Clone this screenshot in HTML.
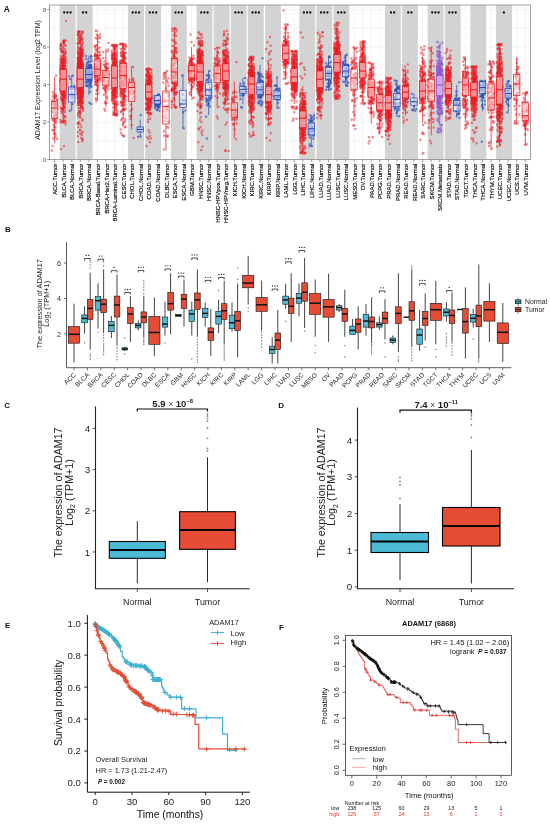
<!DOCTYPE html>
<html><head><meta charset="utf-8"><style>
html,body{margin:0;padding:0;background:#fff;width:550px;height:825px;overflow:hidden}
svg{display:block;filter:blur(0.3px)}
</style></head><body>
<svg width="550" height="825" viewBox="0 0 550 825">
<rect width="550" height="825" fill="#fff"/>
<rect x="49.5" y="5.0" width="481.0" height="154.6" fill="#fff"/>
<path d="M49.5 159.6H530.5M49.5 140.8H530.5M49.5 122.1H530.5M49.5 103.3H530.5M49.5 84.6H530.5M49.5 65.8H530.5M49.5 47.1H530.5M49.5 28.3H530.5M49.5 9.6H530.5" stroke="#ececec" stroke-width="0.6" fill="none"/>
<path d="M54.6 5.0V159.6M63.2 5.0V159.6M71.7 5.0V159.6M80.3 5.0V159.6M88.8 5.0V159.6M97.4 5.0V159.6M105.9 5.0V159.6M114.5 5.0V159.6M123.1 5.0V159.6M131.6 5.0V159.6M140.2 5.0V159.6M148.7 5.0V159.6M157.3 5.0V159.6M165.9 5.0V159.6M174.4 5.0V159.6M183 5.0V159.6M191.5 5.0V159.6M200.1 5.0V159.6M208.6 5.0V159.6M217.2 5.0V159.6M225.8 5.0V159.6M234.3 5.0V159.6M242.9 5.0V159.6M251.4 5.0V159.6M260 5.0V159.6M268.6 5.0V159.6M277.1 5.0V159.6M285.7 5.0V159.6M294.2 5.0V159.6M302.8 5.0V159.6M311.3 5.0V159.6M319.9 5.0V159.6M328.5 5.0V159.6M337 5.0V159.6M345.6 5.0V159.6M354.1 5.0V159.6M362.7 5.0V159.6M371.2 5.0V159.6M379.8 5.0V159.6M388.4 5.0V159.6M396.9 5.0V159.6M405.5 5.0V159.6M414 5.0V159.6M422.6 5.0V159.6M431.2 5.0V159.6M439.7 5.0V159.6M448.3 5.0V159.6M456.8 5.0V159.6M465.4 5.0V159.6M473.9 5.0V159.6M482.5 5.0V159.6M491.1 5.0V159.6M499.6 5.0V159.6M508.2 5.0V159.6M516.7 5.0V159.6M525.3 5.0V159.6" stroke="#ececec" stroke-width="0.6" fill="none"/>
<rect x="59.7" y="5.0" width="15.9" height="154.6" fill="#d3d3d3"/>
<rect x="76.8" y="5.0" width="15.9" height="154.6" fill="#d3d3d3"/>
<rect x="128.1" y="5.0" width="15.9" height="154.6" fill="#d3d3d3"/>
<rect x="145.2" y="5.0" width="15.9" height="154.6" fill="#d3d3d3"/>
<rect x="170.9" y="5.0" width="15.9" height="154.6" fill="#d3d3d3"/>
<rect x="196.6" y="5.0" width="15.9" height="154.6" fill="#d3d3d3"/>
<rect x="213.7" y="5.0" width="15.9" height="154.6" fill="#d3d3d3"/>
<rect x="230.8" y="5.0" width="15.9" height="154.6" fill="#d3d3d3"/>
<rect x="247.9" y="5.0" width="15.9" height="154.6" fill="#d3d3d3"/>
<rect x="265.1" y="5.0" width="15.9" height="154.6" fill="#d3d3d3"/>
<rect x="299.3" y="5.0" width="15.9" height="154.6" fill="#d3d3d3"/>
<rect x="316.4" y="5.0" width="15.9" height="154.6" fill="#d3d3d3"/>
<rect x="333.5" y="5.0" width="15.9" height="154.6" fill="#d3d3d3"/>
<rect x="384.9" y="5.0" width="15.9" height="154.6" fill="#d3d3d3"/>
<rect x="402" y="5.0" width="15.9" height="154.6" fill="#d3d3d3"/>
<rect x="427.7" y="5.0" width="15.9" height="154.6" fill="#d3d3d3"/>
<rect x="444.8" y="5.0" width="15.9" height="154.6" fill="#d3d3d3"/>
<rect x="470.4" y="5.0" width="15.9" height="154.6" fill="#d3d3d3"/>
<rect x="496.1" y="5.0" width="15.9" height="154.6" fill="#d3d3d3"/>
<circle cx="64.2" cy="12.5" r="1.15" fill="#111"/>
<circle cx="67.4" cy="12.5" r="1.15" fill="#111"/>
<circle cx="70.6" cy="12.5" r="1.15" fill="#111"/>
<circle cx="83" cy="12.5" r="1.15" fill="#111"/>
<circle cx="86.2" cy="12.5" r="1.15" fill="#111"/>
<circle cx="132.7" cy="12.5" r="1.15" fill="#111"/>
<circle cx="135.9" cy="12.5" r="1.15" fill="#111"/>
<circle cx="139.1" cy="12.5" r="1.15" fill="#111"/>
<circle cx="149.8" cy="12.5" r="1.15" fill="#111"/>
<circle cx="153" cy="12.5" r="1.15" fill="#111"/>
<circle cx="156.2" cy="12.5" r="1.15" fill="#111"/>
<circle cx="175.5" cy="12.5" r="1.15" fill="#111"/>
<circle cx="178.7" cy="12.5" r="1.15" fill="#111"/>
<circle cx="181.9" cy="12.5" r="1.15" fill="#111"/>
<circle cx="201.2" cy="12.5" r="1.15" fill="#111"/>
<circle cx="204.4" cy="12.5" r="1.15" fill="#111"/>
<circle cx="207.6" cy="12.5" r="1.15" fill="#111"/>
<circle cx="235.4" cy="12.5" r="1.15" fill="#111"/>
<circle cx="238.6" cy="12.5" r="1.15" fill="#111"/>
<circle cx="241.8" cy="12.5" r="1.15" fill="#111"/>
<circle cx="252.5" cy="12.5" r="1.15" fill="#111"/>
<circle cx="255.7" cy="12.5" r="1.15" fill="#111"/>
<circle cx="258.9" cy="12.5" r="1.15" fill="#111"/>
<circle cx="303.9" cy="12.5" r="1.15" fill="#111"/>
<circle cx="307.1" cy="12.5" r="1.15" fill="#111"/>
<circle cx="310.3" cy="12.5" r="1.15" fill="#111"/>
<circle cx="321" cy="12.5" r="1.15" fill="#111"/>
<circle cx="324.2" cy="12.5" r="1.15" fill="#111"/>
<circle cx="327.4" cy="12.5" r="1.15" fill="#111"/>
<circle cx="338.1" cy="12.5" r="1.15" fill="#111"/>
<circle cx="341.3" cy="12.5" r="1.15" fill="#111"/>
<circle cx="344.5" cy="12.5" r="1.15" fill="#111"/>
<circle cx="391" cy="12.5" r="1.15" fill="#111"/>
<circle cx="394.2" cy="12.5" r="1.15" fill="#111"/>
<circle cx="408.2" cy="12.5" r="1.15" fill="#111"/>
<circle cx="411.4" cy="12.5" r="1.15" fill="#111"/>
<circle cx="432.2" cy="12.5" r="1.15" fill="#111"/>
<circle cx="435.4" cy="12.5" r="1.15" fill="#111"/>
<circle cx="438.6" cy="12.5" r="1.15" fill="#111"/>
<circle cx="449.3" cy="12.5" r="1.15" fill="#111"/>
<circle cx="452.5" cy="12.5" r="1.15" fill="#111"/>
<circle cx="455.7" cy="12.5" r="1.15" fill="#111"/>
<circle cx="503.9" cy="12.5" r="1.15" fill="#111"/>
<path d="M55 102.8h0M52.2 111.4h0M57.1 100h0M54.5 97.6h0M52.6 102.1h0M55.7 114.8h0M53.8 109.6h0M53.5 115.9h0M54.7 105.1h0M54.8 107.5h0M56.2 122.5h0M54.1 104h0M55.9 111.2h0M52.9 130.5h0M55.8 134.4h0M52.4 130.1h0M57.3 108.9h0M53.7 124.9h0M54 133.6h0M54.2 127.1h0" stroke="#ea1119" stroke-opacity="0.5" stroke-width="2.5" stroke-linecap="round" fill="none"/>
<path d="M54.8 122.1h0M53 96.6h0M55.2 122.6h0M57.2 138.7h0M56 120.2h0M54.7 104.3h0M55.6 96h0M55.4 127.6h0M56.8 117.7h0M54.6 121.5h0M56 102.6h0M56.3 105.8h0M57.3 105.7h0M55.2 103.1h0M53.8 130h0M54.4 98.3h0M55.2 104.6h0M55.4 94.5h0M55.8 114.8h0M55.3 103.3h0" stroke="#ea1119" stroke-opacity="0.5" stroke-width="2.5" stroke-linecap="round" fill="none"/>
<path d="M57.1 105.7h0M53.9 116h0M54.5 103.3h0M54.5 119.1h0M55.9 96.8h0M53 102.3h0M56.9 113.2h0M52.4 100.3h0M53.8 101.7h0M55.4 136.7h0M52.9 111.9h0M52.9 120.4h0M56.2 75.6h0M53.7 118h0M57.2 99.2h0M53.7 94.5h0M51.9 150.5h0M56.4 103.4h0M52.9 92h0M52.3 108.7h0" stroke="#ea1119" stroke-opacity="0.5" stroke-width="2.5" stroke-linecap="round" fill="none"/>
<path d="M55.2 109.6h0M55.3 117.4h0M52.5 146.1h0M53.6 112.8h0M54.5 133.2h0M57.1 103.2h0M56 115.1h0M56.5 117.3h0M53.1 138.5h0M55.2 112.9h0M53.2 106.9h0M54.6 106.3h0M54.4 105.1h0M56.3 95.8h0M52.3 104.7h0M54.5 105.7h0M56.9 104.3h0M52.5 119.2h0M56.7 104h0" stroke="#ea1119" stroke-opacity="0.5" stroke-width="2.5" stroke-linecap="round" fill="none"/>
<path d="M54.6 77V101.7M54.6 118.2V142.9" stroke="#ea1119" stroke-width="0.7" fill="none"/>
<rect x="51.4" y="101.7" width="6.4" height="16.5" fill="#fff" fill-opacity="0.5" stroke="#ea1119" stroke-width="0.7"/>
<path d="M51.4 108h6.4" stroke="#ea1119" stroke-width="1"/>
<path d="M60.5 65.9h0M62.6 85.2h0M61.3 79.9h0M62.4 110.7h0M61.2 60.5h0M65.5 78.2h0M61.3 99.3h0M64.6 70h0M65 54h0M63.8 55.6h0M64.2 87.7h0M63.8 91.4h0M63.5 62h0M62.4 62.2h0M61.5 96.7h0M64.1 66.6h0M65.1 73.3h0M61.8 62.6h0M61.4 94.2h0M62.9 65.9h0M64.9 79.4h0M62.4 103.8h0M60.6 73.2h0M64.4 95.4h0M64 52.7h0M63.8 94.4h0M65.3 87h0M64.2 78.2h0M63.8 88.1h0M65.4 45.5h0M63 68.3h0M62.5 77.4h0M61.9 51.8h0M61.9 60.5h0M65.7 68.2h0M65.3 84.4h0M64.5 69.2h0M61.2 93.1h0M63.8 91.4h0M62.1 100.3h0M65.3 76.7h0M62 91.5h0M60.7 70.6h0M60.7 91.6h0M63.3 74.7h0M62.4 93.5h0M64.8 60h0M61.2 67.1h0M65.7 69.8h0M63.7 86.7h0M63.1 59.5h0M60.5 89.6h0M61 45.5h0M62.7 109.1h0M62.7 65.8h0M63.9 41.2h0M63.4 91.9h0M60.9 43.7h0M61.8 74.7h0M65.5 76.7h0M63.9 71.5h0M65.8 79.4h0M60.9 73.7h0M65 72.2h0M61.5 97.2h0M65.1 92.3h0M63.4 62.7h0M60.6 81.1h0M64.7 101.9h0M61.4 80.3h0M61.3 60.1h0M61.2 61.4h0M60.7 74h0M65.7 84.2h0M64.6 82.7h0M61.5 66h0M64.6 69.4h0M63 77.5h0M62 57.7h0M65.5 103.7h0M64.6 82.9h0M64.5 106.5h0M60.9 67.8h0M64.3 57.9h0M62.8 94.2h0M60.7 80.4h0M64.9 72.3h0M63.2 96.8h0M65.6 96.2h0M64.6 85.6h0M61 98.9h0M65.3 73.4h0M62.5 82.1h0M61.3 86.6h0M61.1 61.1h0M60.6 69h0M62.9 102.7h0M64.2 59.8h0M63.9 85.7h0M64.6 104.6h0M65.8 93.7h0M61.7 72.1h0M65.9 21h0" stroke="#ea1119" stroke-opacity="0.5" stroke-width="2.5" stroke-linecap="round" fill="none"/>
<path d="M64.6 79.9h0M62.6 93.9h0M61 64.4h0M64.7 68.3h0M64.8 93h0M64.5 70.3h0M61.4 75.6h0M64.8 62.4h0M60.6 72.2h0M63.9 91.9h0M65.3 65.5h0M63.8 74.8h0M60.6 107.4h0M61.2 73h0M65.3 89.9h0M62.2 83.8h0M64.7 95.7h0M62.5 89.4h0M60.4 59.6h0M63.8 99.3h0M62.6 64.8h0M64.8 76.9h0M61.1 76.5h0M60.8 56.1h0M64.7 48.7h0M64.2 83.5h0M62 77.2h0M64.4 98.2h0M61.8 83.5h0M62.9 81.3h0M63.7 90.2h0M61.5 108.9h0M62.2 64.1h0M64.6 97.5h0M62.9 108.4h0M61.8 121.8h0M62.5 61.4h0M62.2 87.8h0M65.7 94.3h0M65.7 88.5h0M64.4 71.5h0M63.8 117.6h0M63.1 75h0M63.5 103.6h0M62.7 100.5h0M65 89.7h0M64.3 70.6h0M64.1 71.6h0M60.7 58.5h0M63.6 40.5h0M61.3 75.9h0M61.4 64.5h0M63.8 121.6h0M63.3 78.8h0M63.8 78.2h0M65.9 73.6h0M62.5 80.8h0M64 82.1h0M64 80.8h0M65.6 72.8h0M64.1 86h0M62 79.3h0M63.2 75.3h0M61.5 85.6h0M62.5 89.4h0M65.5 79.4h0M63 99.2h0M65.7 98.7h0M62.6 92.8h0M60.6 62.3h0M65.8 81.3h0M63.9 89.8h0M65.1 64.6h0M63.3 62.4h0M64.3 108h0M60.6 80.8h0M60.9 45.5h0M61.1 80h0M62.3 58.9h0M60.7 48.9h0M63.7 73.3h0M64.7 82h0M63 74.5h0M65 116.5h0M63.3 72.4h0M62.3 86.4h0M65.7 94.8h0M63.6 106h0M61.7 50.2h0M63.1 56.2h0M62.2 81.9h0M64.5 83.5h0M62.1 63.2h0M65.8 83.1h0M63.7 76h0M63.6 42.2h0M63.5 71.8h0M61.8 64.4h0M64.2 78.6h0M65 78.8h0M64.4 77.8h0M65.7 71.9h0M61.3 149h0" stroke="#ea1119" stroke-opacity="0.5" stroke-width="2.5" stroke-linecap="round" fill="none"/>
<path d="M64.8 77.5h0M65.6 78.9h0M60.9 88.3h0M61.1 86.8h0M62.6 59.9h0M61.4 82.1h0M60.8 77.5h0M64.8 57.9h0M65.4 50.6h0M60.9 72.2h0M63.9 63.9h0M61.5 69.5h0M65.6 60h0M65.7 77.3h0M65 96.4h0M62.6 86.8h0M64 43.3h0M62.4 78.9h0M65.8 85h0M64.9 95.5h0M60.8 69.3h0M63.2 64.9h0M65.5 117h0M64.5 80.5h0M60.6 83.1h0M61 63.5h0M64.9 81.6h0M61.6 108.7h0M62.2 50.7h0M61.8 84.6h0M63.8 115h0M62.6 69.8h0M62.5 47.5h0M60.7 80.3h0M63.3 86.6h0M63.4 77.5h0M62.5 62.9h0M60.9 78h0M62 76h0M65.2 100.9h0M64.5 40.5h0M62.7 101.1h0M63.8 98.3h0M62.1 62.1h0M62.1 100.7h0M61.3 88.4h0M62.9 83h0M61.9 86.5h0M64.9 120.6h0M63.7 83.2h0M60.4 122.5h0M61.3 74.6h0M64 81.8h0M63.9 65.1h0M63.2 74.2h0M64.4 107.6h0M62.8 122.5h0M61.4 98.3h0M61.1 92.2h0M61.9 99h0M64.2 77.3h0M65.5 59.5h0M61.3 81h0M61.3 81.1h0M63.7 87.3h0M65.8 52.2h0M63.3 67.9h0M61.7 73.7h0M63.6 79.4h0M61 85.8h0M64.3 80.1h0M60.6 64.9h0M64.6 107.3h0M64.1 74.1h0M62.5 82.9h0M65.6 97.2h0M64.5 54.9h0M64.8 75.9h0M61.8 85.4h0M64.6 90.9h0M63 69.3h0M60.6 49h0M60.7 80.6h0M63.6 72.9h0M62 83h0M60.9 44.8h0M63.7 70.4h0M61.3 72.5h0M61.3 93.2h0M65.9 52.9h0M60.9 74.3h0M62.7 96h0M62.8 99.7h0M63.9 75.2h0M64.2 61.3h0M63.3 67.6h0M62.2 98.9h0M61.7 78.2h0M63.2 83.8h0M63.8 89.8h0M63.7 66.4h0M61.8 68.6h0M64 146h0" stroke="#ea1119" stroke-opacity="0.5" stroke-width="2.5" stroke-linecap="round" fill="none"/>
<path d="M64 75h0M62.8 71.1h0M63.6 83.1h0M60.7 90.1h0M63.6 83.3h0M62.3 88.4h0M62.5 82.1h0M62.1 85.7h0M62.1 84.4h0M64.3 88.5h0M65.1 84.3h0M63 68.3h0M61.3 111.8h0M64.9 83.5h0M64.1 52.1h0M62.9 77.7h0M62.1 72.4h0M63.2 69.1h0M63 73.5h0M65 73.9h0M62.4 66.8h0M64 77.7h0M62.1 58.7h0M65.3 65.9h0M60.8 69.5h0M61.1 66.5h0M64.8 93.8h0M65 75.9h0M63.8 72.9h0M65.7 123h0M61.7 77.7h0M63.9 103.3h0M64.8 85.5h0M65.1 77.8h0M64.2 70.4h0M65.1 57.5h0M62.4 94.9h0M61.7 72.5h0M63.2 106.6h0M65.5 74.4h0M61.6 74h0M62.4 78.2h0M60.7 81.5h0M63.3 86.4h0M61.1 74.2h0M60.5 120h0M60.8 78.9h0M64.9 112h0M65.3 75.6h0M63.3 75h0M60.7 46.5h0M65.4 79.7h0M61.5 75h0M64 43.1h0M60.8 77.2h0M63 59.5h0M65.4 60.3h0M65.9 82.7h0M65.3 124.3h0M60.7 67.6h0M65.5 57h0M65.3 81.1h0M65.4 98.3h0M65.4 82.6h0M62.5 113.5h0M65 87.5h0M60.4 69.6h0M65.3 74h0M63.5 80.5h0M63.8 84.2h0M60.6 68.1h0M60.8 84.6h0M61.5 68.3h0M65.2 121.3h0M61.8 52.5h0M65.4 73.8h0M63.9 85.5h0M64 90.4h0M62.3 51.8h0M65.4 122.2h0M62 72.1h0M63.3 99.6h0M63.5 120.8h0M62 74.4h0M64.5 110h0M64.2 90.8h0M65.7 40.8h0M64.9 69.5h0M65.6 61.1h0M63.5 95.7h0M65.5 63.1h0M64 65.4h0M63.4 109.6h0M65.6 92.6h0M63.7 60.6h0M65.2 45.2h0M63 94.6h0M62.2 69.9h0M61.9 89.3h0M64.4 77.4h0M62.3 121.5h0M65.7 89.8h0" stroke="#ea1119" stroke-opacity="0.5" stroke-width="2.5" stroke-linecap="round" fill="none"/>
<path d="M63.2 40V69.7M63.2 91V122.9" stroke="#ea1119" stroke-width="0.7" fill="none"/>
<rect x="60" y="69.7" width="6.4" height="21.3" fill="#fff" fill-opacity="0.5" stroke="#ea1119" stroke-width="0.7"/>
<path d="M60 79.2h6.4" stroke="#ea1119" stroke-width="1"/>
<path d="M72.9 75.6h0M71.5 92.4h0M74.1 86h0M71.1 92.3h0M72 99h0" stroke="#2347bd" stroke-opacity="0.6" stroke-width="2.5" stroke-linecap="round" fill="none"/>
<path d="M72.4 103.9h0M72.4 94.2h0M70 78.9h0M71.7 88.9h0M69.9 110.8h0" stroke="#2347bd" stroke-opacity="0.6" stroke-width="2.5" stroke-linecap="round" fill="none"/>
<path d="M70.3 89.1h0M71.2 96.3h0M72.6 95.4h0M74.3 87.2h0M73.3 95.3h0" stroke="#2347bd" stroke-opacity="0.6" stroke-width="2.5" stroke-linecap="round" fill="none"/>
<path d="M71.3 86.9h0M72.7 97.2h0M73.2 88.5h0M69.2 76.2h0" stroke="#2347bd" stroke-opacity="0.6" stroke-width="2.5" stroke-linecap="round" fill="none"/>
<path d="M71.7 75.6V87M71.7 102V111" stroke="#2347bd" stroke-width="0.7" fill="none"/>
<rect x="68.5" y="87" width="6.4" height="15" fill="#fff" fill-opacity="0.5" stroke="#2347bd" stroke-width="0.7"/>
<path d="M68.5 94.6h6.4" stroke="#2347bd" stroke-width="1"/>
<path d="M78.4 53.2h0M82.1 106.2h0M79.3 66.9h0M79.3 89.1h0M82.9 86.1h0M81 78.1h0M80.1 73.2h0M78.2 75.9h0M83 79.2h0M79.4 77.9h0M78 89h0M80.5 83.2h0M82.4 92h0M77.7 86.7h0M82.7 80.9h0M80 83.5h0M81.9 96.1h0M78.1 67.5h0M80.1 99.8h0M81.1 69.7h0M79.6 81.6h0M82.7 77.6h0M80.2 61.6h0M78.2 84.7h0M80.1 42.9h0M79.5 37.1h0M78.2 65.4h0M82.4 120.5h0M81.9 53h0M81.6 87.2h0M79.7 94.8h0M78 67.7h0M81.8 84.9h0M80.8 60.2h0M81.3 57.2h0M80.1 62.8h0M79.8 63.6h0M81.6 75.4h0M78.3 68.3h0M82.9 90.7h0M80.3 74.8h0M81 39.3h0M81.9 72.2h0M78.4 57.2h0M78.3 81h0M81.6 81.9h0M79.9 63.3h0M79.2 94.3h0M78.2 114.1h0M82.1 92h0M78.8 84.6h0M81.4 73.6h0M81.3 65.2h0M78 48.3h0M80.8 90.7h0M80.2 88h0M79.8 69.8h0M78.7 72.5h0M79.1 83.7h0M80 70.8h0M81.3 86.2h0M79 81.7h0M82.4 74.6h0M80.3 62.4h0M78.6 65.8h0M77.5 75h0M82 92h0M80.6 88.2h0M82.6 83.2h0M81 82.5h0M81.2 83.2h0M81.2 90.7h0M82.9 90.8h0M80.6 92.6h0M81.5 76.9h0M78.3 93.1h0M80.8 85.1h0M81.6 88.1h0M79.1 102.7h0M81.1 80.7h0M82.8 97.2h0M78.4 60.5h0M79.4 86.5h0M78.4 71.4h0M77.8 122.9h0M82.8 76.9h0M78.6 67h0M79 76.2h0M79 68.8h0M82.1 92.5h0M78.4 70.7h0M81.2 79.5h0M82.6 94.3h0M79 62.9h0M80.6 79.5h0M78.9 59.4h0M81.3 87.9h0M79.2 62.1h0M81.3 79.5h0M81.6 54.1h0M79.4 114.6h0M80.4 94.7h0M79.4 95.9h0M82.2 102.3h0M80.7 74.7h0M82.1 97.9h0M80.3 117.5h0M82 89.4h0M81.4 74.7h0M77.9 63.6h0M78.7 92.3h0M82.9 73.9h0M77.9 98.1h0M81 73.3h0M80 70.2h0M82.1 89.9h0M79.4 56.1h0M81.9 82.5h0M80.5 92.9h0M80.3 90.1h0M81.5 80.4h0M80.8 62.7h0M81.9 86.3h0M77.9 78.6h0M81.3 62.7h0M78.6 76.7h0M81.6 90h0M81.4 63.9h0M81.4 36.2h0M82.6 73.8h0M78.7 78.5h0M81 79.3h0M81 87.1h0M78.5 88.9h0M80 76h0M81.8 45.4h0M81.9 59.3h0M78.1 64h0M78.9 92.6h0M82.7 64h0M79.6 41.9h0M77.6 87.2h0M77.6 78.6h0M77.8 90.4h0M79.3 78.9h0M81 70.8h0M79.6 62.3h0M78.6 100h0M81.4 85h0M77.8 70.8h0M81.4 85h0M80.1 83.2h0M77.9 115.8h0M79.7 71h0M81.6 102.2h0M81.9 97h0M82.6 88.5h0M81 68.6h0M77.6 71.6h0M81.4 82.8h0M80.3 77.4h0M82.6 81.8h0M82 95.5h0M81.9 50.2h0M79.1 79.8h0M77.7 79.2h0M78.2 80h0M78.1 65h0M78 58.1h0M78.1 88.1h0M78.3 78.5h0M77.6 72.2h0M80.8 80.5h0M80.9 85.7h0M81.9 76.8h0M77.7 132.2h0M82.4 85.4h0M81.4 99.8h0M79.3 68.9h0M81.1 87.7h0M83 86.6h0M79.8 65h0M82.6 92.1h0M82.4 66.9h0M82.1 141.3h0M80.5 56.6h0M81.1 67.1h0M82.5 88.9h0M78.7 56.4h0M79 101.9h0M79.9 67.9h0M81.7 75.1h0M81.3 101.1h0M81.1 66.4h0M81.3 88.6h0M77.6 88.6h0M80.2 84.7h0M81.8 133.4h0M79.8 73.7h0M78 71.7h0M77.7 80.5h0M81.9 80.5h0M78.6 59h0M80.8 74.9h0M78.1 85.4h0M80.7 67.8h0M82.2 63.5h0M81.5 67.1h0M79.5 85.8h0M81.9 135.6h0M78.8 59.5h0M79.5 81.1h0M77.8 34.7h0M77.7 67.6h0M81.4 90.3h0M78.5 75.4h0M77.9 66.6h0M80.6 58.8h0M80.6 68.3h0M78.1 102.1h0M78.5 72.5h0M79 89.3h0M77.9 85.7h0M81.2 92.7h0M80.2 85.8h0M80.4 80.6h0M80.5 86.2h0M81.1 100.5h0M81.6 86.9h0M78.5 82.7h0M78 90.5h0M78.3 67.1h0M82.7 95.5h0M82.7 86.6h0M82.7 91.3h0M78.7 77.4h0M80 48.3h0M79.8 70.3h0M79.6 84.7h0M80.9 82.5h0M81.4 87.6h0M82.8 80.9h0M80.7 93h0M78.4 80.8h0M82.4 88.3h0M79 56.9h0M82.6 82.6h0M79.1 31.6h0M80.4 84.7h0M80.3 76.1h0M80.7 82.4h0M78.6 103h0M78.5 112.6h0M79.5 67.2h0M81.6 51.9h0M81.9 74.9h0M81.4 126.9h0M81.8 64.9h0M78.7 90.6h0M78.8 82.6h0M81.7 62.2h0M79 98.7h0M79.8 90.8h0M80.7 91.8h0M78.5 80.1h0M78.4 57.4h0M82.1 95h0M82.8 89.5h0M78.9 77.4h0M82.3 64.8h0M80.5 63.8h0M77.6 43.8h0M78.8 85.9h0M77.6 80.6h0" stroke="#ea1119" stroke-opacity="0.5" stroke-width="2.5" stroke-linecap="round" fill="none"/>
<path d="M77.8 86.8h0M79.1 80.3h0M80.6 80.8h0M82.2 89h0M79.7 53.3h0M78.8 88.4h0M81.5 83.5h0M82.1 80h0M82.7 87.1h0M81.7 77.1h0M80.2 133.7h0M78 35.2h0M82.2 47.9h0M80.8 101.8h0M81.1 74.4h0M78.9 62.6h0M79.2 87.1h0M80.6 104.2h0M77.7 81.1h0M78.2 88.3h0M81.2 92.5h0M79.3 79.1h0M78.3 85.3h0M80.3 49.3h0M78.4 66.4h0M78.6 102.5h0M78.8 81h0M77.6 93.5h0M80.7 87.1h0M78.4 88.5h0M80.4 93.5h0M80.7 93.7h0M81.4 87h0M82.9 67h0M82 61.3h0M82.6 84.9h0M79.8 65.5h0M81.3 87h0M78.6 60.2h0M83 79h0M81.8 72.6h0M78.6 92.5h0M78 54.3h0M82.8 31.4h0M82.1 71h0M82.1 81.7h0M82.1 40.2h0M82.8 81.6h0M82.9 83.1h0M78.8 51.7h0M80.2 98.6h0M79.7 68.7h0M82.7 73.2h0M81.1 85.9h0M82.1 66.6h0M77.6 80.5h0M80.9 91.4h0M79.5 37.4h0M78 84.2h0M81.2 95.9h0M77.8 105.2h0M82.8 69h0M80.9 62.3h0M82.8 86.6h0M82.1 55.4h0M78.5 65.5h0M78.9 82.5h0M82.3 74.4h0M82.4 44.1h0M80 85.1h0M81 85.1h0M82.5 86h0M77.8 73.6h0M80 80.3h0M81.6 67.4h0M82.8 87.5h0M80.7 100.9h0M81.1 88.8h0M80.5 72.4h0M82 61.5h0M81.4 63.4h0M80.7 56.4h0M78.3 66.8h0M81.6 78.6h0M79.2 89.7h0M78.6 123.4h0M79.3 84.9h0M79.7 98h0M78.6 69.8h0M81 71.5h0M81.7 83.3h0M81.7 92.7h0M80.4 100.8h0M81.8 72.4h0M79.5 56.3h0M77.9 136.2h0M79.8 95.4h0M81.1 90.4h0M81.8 61.8h0M79.4 61.4h0M78.5 57h0M81.2 107.8h0M77.9 104.5h0M81.2 61.5h0M79 96.3h0M78.4 65.4h0M82.5 94.7h0M81.1 92.2h0M81.4 85.9h0M80.8 79.5h0M78.8 86.5h0M81.9 73.9h0M82.1 69.1h0M78.3 70h0M80.6 84.1h0M78.1 31.7h0M79.3 60.2h0M78.7 79.6h0M77.7 78.3h0M79.9 86.7h0M80.7 67.5h0M78.8 72.9h0M82.8 71.1h0M80.2 93.3h0M81.4 93.7h0M79.7 64.9h0M80.4 49.6h0M78.6 79.9h0M82.9 81h0M81.5 74.3h0M77.6 89.3h0M79 81.6h0M83 85.9h0M79.5 59.3h0M78.1 84.8h0M80.1 79.5h0M80.1 88.3h0M80.6 113h0M77.6 79.2h0M82.9 79.6h0M82 68.4h0M78.7 40.3h0M82.1 97.6h0M82.4 99.9h0M81 77h0M78.7 97.6h0M78.1 76.2h0M80 85.7h0M79.9 129.7h0M80.1 68.8h0M78.8 56.1h0M78.3 80.4h0M78.8 78.6h0M81.9 90.5h0M77.7 92.4h0M77.7 81.8h0M78.7 33.6h0M82.6 91.3h0M81.7 90.9h0M78.6 91.1h0M78.1 64h0M77.5 75.4h0M80.3 75.9h0M78 78.7h0M79.7 85.2h0M82.1 84h0M81.1 138h0M82.9 73.9h0M81.5 88.6h0M79.5 57.9h0M80.9 83.5h0M77.9 68.3h0M80.4 71.5h0M81.1 53.4h0M82.5 63.7h0M81.3 61.3h0M78.5 81.7h0M78.9 84.8h0M78 60.3h0M82.7 107.9h0M81.7 66h0M77.6 93.7h0M79.3 111.1h0M81.9 48.1h0M79.2 51.2h0M82.8 73.3h0M80.5 92.6h0M81.3 65.6h0M79.1 57.1h0M81.5 87.3h0M81.3 68.6h0M78.9 63.7h0M78.7 96.1h0M80.8 89.1h0M79.2 81.4h0M79.5 82.5h0M82.9 92.5h0M78.5 82.8h0M81.3 83.7h0M82.7 64h0M82.1 61h0M81.2 76.6h0M82.5 88.8h0M81.2 88.3h0M82.9 73.8h0M78.8 70.7h0M78.2 68.8h0M78.3 63.5h0M80.4 52.4h0M79.1 81.8h0M78.6 52.5h0M81.1 81.8h0M81.2 80.5h0M79.9 52.2h0M78 81.9h0M78.8 98h0M79.5 89.8h0M77.9 97.2h0M82.3 75.9h0M82.7 89.2h0M82.3 62.5h0M82.6 84.7h0M80 93.8h0M79.5 68.4h0M78.5 78.8h0M77.7 95.1h0M78.8 83.8h0M78.3 73.8h0M82.2 91.7h0M78.8 87.5h0M78.7 31.4h0M78.6 86.7h0M79.7 62.2h0M78.8 86.1h0M80.2 83.8h0M82.1 101.9h0M78.8 82.9h0M79.4 77.9h0M78.4 52.2h0M78.9 94.4h0M78.3 53.9h0M78.3 126.9h0M82.4 71.1h0M80.7 71.2h0M81.2 75.1h0M82.7 79.4h0M78.1 94.2h0M82.8 70.3h0M82.2 50.5h0M78.2 54.3h0M81.9 96.1h0M77.9 81.2h0M81.3 84.7h0M80.4 66.1h0M81 64.3h0M77.6 88h0M81.1 70.1h0M78.8 69.2h0M79.8 84.3h0M81.6 99.7h0M78.2 84.2h0M77.7 85.1h0M78 72.6h0M79.5 50.5h0M80.2 93.7h0M79.6 75h0M81.1 72.2h0M78.6 94h0M82 68.8h0M80.8 60.7h0M81.5 107.9h0M78.5 88.6h0M79 101.3h0M78.2 142h0" stroke="#ea1119" stroke-opacity="0.5" stroke-width="2.5" stroke-linecap="round" fill="none"/>
<path d="M81.4 66.7h0M78.8 66.9h0M78.4 108.3h0M78.4 79.6h0M77.7 92.4h0M80.5 52.7h0M79.9 91.9h0M78.2 81.8h0M80.4 82.9h0M80.3 91.3h0M82.3 65.9h0M78.3 88.6h0M78.8 101.4h0M82.8 102.9h0M77.8 69.4h0M81.6 55.4h0M77.9 83.8h0M81.9 91.7h0M80.3 89.3h0M80.7 74h0M78.4 80.8h0M82.2 70.6h0M78 63.1h0M80.5 35.2h0M80.5 62.7h0M79.7 89.6h0M82.3 75.3h0M82.7 78.6h0M81.3 83.4h0M79 88h0M79.1 68.8h0M78.8 67h0M77.9 67.2h0M77.8 81.4h0M79.4 87.7h0M77.6 94.5h0M78 58.7h0M78.4 79.6h0M78.7 61.7h0M81.9 80h0M82.5 72.2h0M81 88.3h0M81.5 82.1h0M81.2 96.3h0M82.7 84.8h0M81.9 85.8h0M81.8 93.9h0M80.4 69.8h0M81.9 61.3h0M78.6 90.6h0M82.5 80.2h0M81.8 92.7h0M82.1 50.2h0M82.1 94.2h0M81.9 55.6h0M78.1 96.6h0M80 95h0M82.2 85.7h0M79 103.6h0M82 90.4h0M82.1 79.8h0M79.5 90.2h0M82.4 68.6h0M80.3 66h0M78.4 75.1h0M82.7 85.8h0M79.5 71.8h0M80.4 124.4h0M81.2 106.1h0M82.8 82.6h0M79.6 86.9h0M80.3 79.9h0M82.1 51.6h0M81.7 69.9h0M77.7 78.1h0M82.4 32.8h0M77.8 89.3h0M79.1 43h0M79.8 74.5h0M81.2 94.8h0M81.3 61.7h0M82.1 90.6h0M80.4 74.7h0M78.5 43.4h0M79.6 91.2h0M79.2 94.3h0M79.9 68.8h0M79.6 92.6h0M82.5 78.5h0M81.8 88.5h0M80.1 93.2h0M79 94.8h0M79.1 70.6h0M77.8 83.5h0M82.7 32.4h0M80.5 74.9h0M82 63.8h0M82.8 64.6h0M79.7 88.1h0M79.7 91.6h0M82.3 68.2h0M82.5 51.5h0M79.8 79.3h0M80.7 100.2h0M82.2 33.1h0M81.2 89.7h0M82.5 79.1h0M82.4 78.1h0M80.9 71.6h0M82.1 88.2h0M78 61h0M79.5 81.4h0M79.3 78.3h0M79 88.3h0M82 50.4h0M78.8 74.9h0M80.7 103.4h0M82.1 62.1h0M81.8 83.6h0M77.9 67.2h0M79.7 83.9h0M82.3 61.3h0M79.3 95.3h0M78.3 59.1h0M80 79.9h0M79.1 84.1h0M79.9 87.3h0M79 93.5h0M81.6 58.7h0M81.5 58.3h0M82.3 70.6h0M79.5 66.4h0M79.2 83.5h0M82.5 76.1h0M78.1 71.4h0M83 53.7h0M82 73.1h0M80.3 31.7h0M82.5 88.4h0M79.9 62.5h0M82.2 82.3h0M80.7 39.8h0M81.8 87.5h0M80.5 72h0M82.4 95.4h0M78.9 61.7h0M80.8 62.9h0M80.7 80.5h0M77.9 82.3h0M79.7 71.3h0M81.1 104.1h0M82.5 119.6h0M83 84.4h0M82.1 82.1h0M78 77.8h0M77.8 83.3h0M81.2 81.1h0M79 68.3h0M78.1 69.7h0M82 67.2h0M81.9 98.5h0M82.2 81.1h0M80.9 54.8h0M77.8 85.9h0M77.6 89h0M82 51.6h0M78.7 113.3h0M80.5 81h0M82.2 86.6h0M79.2 69.5h0M82.9 92.5h0M78.1 46.4h0M80 69.5h0M82.6 70.3h0M82.1 54.9h0M82.2 68.9h0M82.7 38.6h0M79.2 104.2h0M80 88.5h0M81.7 56.4h0M79 78.8h0M78.8 76.9h0M81.8 61.5h0M80.5 62h0M81 90h0M78.4 62.9h0M82.7 81h0M82.8 69.7h0M82.5 96.7h0M83 71.7h0M81.3 68.9h0M78.9 84.8h0M79 71.2h0M81.1 86.1h0M77.9 77.1h0M78.3 84.4h0M81.3 70.5h0M78.1 60.4h0M80 73.7h0M79.4 67.6h0M78.8 83.5h0M79.1 94.5h0M78.4 99.4h0M78.5 91h0M79.6 54.8h0M77.9 62.3h0M82.8 78.2h0M81.9 106.9h0M78.1 78.1h0M79.6 87.9h0M78.7 81.7h0M80.1 83.1h0M82.1 75.9h0M78.2 74.4h0M78.2 67.1h0M79.9 48.5h0M80.1 81.3h0M78.7 66.9h0M82.8 80.9h0M80.4 103.5h0M78.7 73.1h0M80.1 83.8h0M79.3 74.4h0M78.2 74.2h0M77.6 72.5h0M80.1 102.3h0M80.3 64.7h0M81.9 102.5h0M79.5 58.2h0M80.8 91.2h0M77.7 84.4h0M81.6 32h0M81.3 68.2h0M80.1 95.6h0M83 64.8h0M78.6 88.2h0M82.8 77.6h0M81.2 101.5h0M82.1 103h0M80 80h0M78.8 80.1h0M78.3 102.4h0M77.8 98.1h0M80 76.9h0M82.3 73.3h0M79.8 72.5h0M77.6 64.6h0M82.3 71.1h0M82 71.7h0M78.9 67h0M82.5 87h0M82.5 70.9h0M78.9 63.8h0M81.2 49.6h0M80.1 81h0M80.1 92.5h0M78.5 72.9h0M79.9 81.8h0M82.8 109.3h0M79.5 62.5h0M78.7 97h0M78.3 101.1h0M80.7 51.5h0M81.4 102.4h0M77.6 82h0M82.8 83.1h0M81 49.1h0M81.7 83.4h0M80.8 70h0M78.6 80.9h0M79 108h0M81.4 78.9h0M81.4 91.5h0M82.7 139h0" stroke="#ea1119" stroke-opacity="0.5" stroke-width="2.5" stroke-linecap="round" fill="none"/>
<path d="M77.8 38.5h0M80.7 88.5h0M82.5 67.6h0M81.9 95.3h0M79.6 70.6h0M78 42.8h0M81.3 71.9h0M82.6 76.2h0M79.1 68.1h0M82.6 71.8h0M80.8 89.5h0M79 104.8h0M82.6 56.3h0M79.4 84.2h0M79.4 82.5h0M78.5 49.8h0M80.6 39.2h0M80.8 73.7h0M78.1 34.8h0M79.5 86.7h0M78.5 90.7h0M82.3 78.3h0M82.4 139.8h0M78.2 94.7h0M80.3 74.8h0M78.6 38.1h0M80.3 85.2h0M80.2 71.1h0M78.8 91.1h0M77.7 32.1h0M82.4 83.7h0M80.8 85.9h0M78.9 86h0M80.9 78.1h0M82 102h0M82.7 70.5h0M78.9 89.6h0M79.4 90.6h0M79.3 75.2h0M80.2 130.5h0M81.7 106.3h0M82.2 77.3h0M79.4 98.8h0M81.6 64.3h0M82.5 79.7h0M80.8 72.1h0M82.3 90.3h0M82.7 86.1h0M78.9 66.5h0M80 89.4h0M81.3 56.4h0M81.9 62h0M79.8 36.1h0M79.4 67.6h0M77.5 51.4h0M82 82.2h0M79.4 89h0M80.9 78.2h0M81.4 56.2h0M78.2 54.1h0M78.5 61h0M78.8 71h0M79.7 42.3h0M83 49.7h0M80.4 83.3h0M80 80.7h0M78.1 76.1h0M79.6 81h0M77.9 66h0M79.5 80.6h0M80.4 58.5h0M79.5 67.3h0M81.3 56.6h0M82.4 67.1h0M79.3 78.9h0M78.3 90.8h0M79.7 52h0M81.7 103h0M82.9 81.7h0M79.6 64.1h0M79.1 63.6h0M81.9 47.7h0M82.3 82.3h0M79.2 58h0M82.8 76.4h0M82.7 73.5h0M78.1 64.3h0M82.8 74.1h0M80 79.5h0M79.3 78.9h0M80.6 61.1h0M79.5 62.2h0M81 71.4h0M82.1 76.8h0M79 85.3h0M81.7 73.3h0M78.1 61.4h0M81 62.9h0M82.7 53.3h0M82 84.6h0M80.4 78.1h0M78.3 50.1h0M80.3 89.2h0M79.7 117.2h0M81.9 91.9h0M81.7 74.3h0M81.6 46.6h0M78.2 75.4h0M79 81.5h0M79 76.4h0M81.2 37.5h0M81.4 85.5h0M77.5 78h0M77.8 89.7h0M77.7 84.4h0M81 63.7h0M78.7 98.4h0M82 33.8h0M77.7 71.4h0M81 73.6h0M80.3 72.1h0M83 110.8h0M82.9 72.1h0M80 91.8h0M79.4 40.6h0M78.6 77.1h0M78.6 63.6h0M80.6 60h0M82.7 71.3h0M77.9 84.7h0M81.5 86.4h0M78.4 76.2h0M77.8 86h0M81.9 78.4h0M78.4 59.7h0M82.5 101.7h0M78.2 76.2h0M78.7 85.3h0M81.4 83.2h0M81.6 93.7h0M78.3 92.3h0M79.6 88h0M80.1 63.6h0M77.9 78.4h0M80.2 79.4h0M82.5 43.2h0M78.2 94.6h0M81 75h0M81.5 70.5h0M81.2 87.4h0M81.3 67.8h0M80.8 84.5h0M78.8 91.1h0M81 69.3h0M82.9 64.7h0M78.8 86.5h0M82.6 71.4h0M78.4 76.6h0M82.9 93.2h0M78.4 85.5h0M82.4 107.7h0M80.6 58.6h0M80.8 77.8h0M80.5 97.4h0M81.6 80.9h0M80 88h0M79.9 34.4h0M79.5 76.4h0M82.2 73.8h0M81.7 67.6h0M81.8 55.9h0M81.3 95.2h0M79.8 75.4h0M81.6 74.8h0M81.5 84.4h0M79.9 88.5h0M80 82.6h0M79.4 97.2h0M82.9 102.8h0M82.1 73.3h0M78.9 84.6h0M82.4 78.7h0M81.8 104.9h0M78.1 77.5h0M79.5 111.4h0M80.4 86h0M79.8 56.5h0M78 88.9h0M77.6 82.9h0M78.5 68.9h0M81.6 95.2h0M77.7 57.9h0M82.8 80.9h0M80.8 56.3h0M77.9 51.3h0M78.1 89.7h0M79 71.7h0M79.2 60.5h0M81.5 67.7h0M82.1 95.5h0M82.2 73.8h0M77.6 86.2h0M81.1 74.7h0M78.3 90h0M81.1 78.8h0M77.6 90.2h0M79.5 89h0M78.9 72.1h0M78.9 32.5h0M81.7 99.1h0M79.6 89.8h0M82.3 72.9h0M78.8 84.3h0M80.1 58.8h0M80.2 72.9h0M78.2 69.7h0M82.7 78.8h0M81.6 71.8h0M82.2 99.5h0M78.8 79.1h0M78 69.3h0M81.5 86.3h0M78.7 90.8h0M82.9 80.4h0M81.1 64.6h0M81.6 102.8h0M80.9 85.2h0M82.7 131.7h0M82.5 80.1h0M82.5 67.4h0M79.9 73.6h0M80.7 78.2h0M77.6 50.9h0M80.3 87.1h0M80.9 84.2h0M83 55.6h0M79.3 93.6h0M77.7 79.5h0M77.5 70.3h0M80.6 92.6h0M78.2 76.8h0M80.4 92.6h0M78.8 71.6h0M79.8 75.3h0M82.8 101.4h0M77.8 67.3h0M79.1 72.6h0M79.8 79.4h0M81.1 83.4h0M81.1 78.8h0M82.8 92.2h0M80.7 75.8h0M78.8 88.9h0M77.9 123.7h0M81.2 52.1h0M81.3 77.1h0M82.8 71.1h0M82.8 75h0M82.5 77.4h0M81.2 76.5h0M78.7 84.1h0M79.8 76.4h0M82.7 42.1h0M79.9 84.2h0M81.2 80.9h0M81.7 85h0M81.4 69.7h0M79.2 121.9h0M82.2 76.6h0M77.6 72.4h0M77.9 89.4h0M77.5 81.1h0M83 76h0" stroke="#ea1119" stroke-opacity="0.5" stroke-width="2.5" stroke-linecap="round" fill="none"/>
<path d="M80.3 40.2V68.6M80.3 87.5V115.9" stroke="#ea1119" stroke-width="0.7" fill="none"/>
<rect x="77.1" y="68.6" width="6.4" height="18.9" fill="#fff" fill-opacity="0.5" stroke="#ea1119" stroke-width="0.7"/>
<path d="M77.1 79.2h6.4" stroke="#ea1119" stroke-width="1"/>
<path d="M90.6 73.1h0M87 70.1h0M87.9 72.9h0M90 79.1h0M87 63.2h0M91.3 104h0M90.4 61.7h0M88.7 70.1h0M90.1 82.7h0M91 79h0M89.5 102.8h0M89.6 68h0M89.6 74.9h0M88 70.8h0M91.1 65.3h0M86.5 77.8h0M87.3 70.4h0M89.7 84.4h0M88.6 77.3h0M91.6 86.5h0M90.2 91.7h0M86.4 82.2h0M86.9 86.1h0M87.9 71.2h0M88.8 73.3h0M89.4 65.4h0M87 67.4h0M86.7 76.3h0" stroke="#2347bd" stroke-opacity="0.6" stroke-width="2.5" stroke-linecap="round" fill="none"/>
<path d="M89.6 75.4h0M86.9 72.3h0M88.5 73.2h0M89.8 79.8h0M87.8 86.1h0M90.9 79h0M90.7 85.8h0M88.6 80.4h0M88.1 61.7h0M91 66.9h0M88.8 69.6h0M87.8 77.8h0M91 56.2h0M90.7 77.9h0M89.4 76.9h0M88.5 77.3h0M87.2 69.6h0M90.8 64.9h0M89.2 67.4h0M87.1 64.4h0M86.6 74.2h0M88.1 78.2h0M89.6 76.7h0M91.5 73.8h0M90.2 87.4h0M88.2 81.6h0M86.2 70.7h0M89.2 72.4h0" stroke="#2347bd" stroke-opacity="0.6" stroke-width="2.5" stroke-linecap="round" fill="none"/>
<path d="M86.4 75.2h0M87.8 69.7h0M87.8 79.2h0M86.4 77.6h0M90.3 67.6h0M89.1 69.3h0M91.5 79.8h0M90.2 70.8h0M86.4 71.1h0M86.2 73h0M86.4 80.3h0M88.7 72.4h0M89.3 73.8h0M90.1 76.9h0M91.6 60.7h0M86.1 55.9h0M89.1 72.5h0M89.7 75.5h0M86.2 85.4h0M87.7 71.8h0M90.4 82.2h0M91.3 75.3h0M86.5 66.3h0M88.9 76.8h0M86.1 81.3h0M90.7 78.8h0M89.7 65.4h0M86.4 73.6h0" stroke="#2347bd" stroke-opacity="0.6" stroke-width="2.5" stroke-linecap="round" fill="none"/>
<path d="M91 78.8h0M88.9 79.7h0M87.4 74h0M91 72.1h0M90.8 69.3h0M91.1 79.4h0M91.3 75.5h0M90.7 80.9h0M86.7 82.9h0M88.1 76.1h0M90.8 84h0M88.2 74.8h0M87.8 79h0M88 69.9h0M91 76.9h0M91.3 67.3h0M91.2 82.1h0M89.2 78.4h0M86.8 78.4h0M88.9 78.5h0M89.4 71.1h0M90.1 81.1h0M88.4 66.7h0M91.4 80.8h0M90.9 77.4h0M91 56.6h0M90.9 58.2h0M86.4 59.1h0" stroke="#2347bd" stroke-opacity="0.6" stroke-width="2.5" stroke-linecap="round" fill="none"/>
<path d="M88.8 55.6V68.6M88.8 79.2V95.1" stroke="#2347bd" stroke-width="0.7" fill="none"/>
<rect x="85.6" y="68.6" width="6.4" height="10.6" fill="#fff" fill-opacity="0.5" stroke="#2347bd" stroke-width="0.7"/>
<path d="M85.6 74.5h6.4" stroke="#2347bd" stroke-width="1"/>
<path d="M97.5 55.9h0M99.7 55h0M97.7 89h0M96.4 63.8h0M95.3 71.3h0M96.5 59.8h0M96.4 67h0M96.7 56.6h0M97.3 58.5h0M98.3 72.8h0M96.3 73.5h0M97 64.7h0M98.3 72.7h0M96.2 73.2h0M98.3 62.5h0M96.2 76.3h0M96.6 81.2h0M97.8 35.7h0M95.8 75.6h0M99.9 34.5h0M94.8 64h0M99.2 66.1h0M99.4 70.7h0M97 65.8h0M96.7 66.3h0M97.6 71.6h0M99 60.7h0M95.2 75.7h0M98.6 74.7h0M94.7 46.4h0M99.2 70.9h0M94.9 67.5h0M100.1 61.3h0M95.7 30.8h0M96.5 99.6h0M98.9 57.5h0M97 31.1h0M99.7 74.3h0M98.7 71.6h0M96.2 101.2h0M98.8 69.8h0M95.8 72.8h0M97.2 61h0M96.9 62.9h0M96 73.6h0M96.9 72.5h0M95 84.8h0M96.7 61.4h0" stroke="#ea1119" stroke-opacity="0.5" stroke-width="2.5" stroke-linecap="round" fill="none"/>
<path d="M95.3 46.7h0M99.6 55.3h0M95.2 69.3h0M96.5 90.7h0M100 70.3h0M97.8 61.4h0M97.2 44.9h0M98.9 58.3h0M99.8 65.2h0M95.6 60h0M98.5 74.5h0M95.8 56.1h0M98.8 76h0M95.2 55.3h0M96.1 50.9h0M99.6 60h0M98.5 71.7h0M100.1 78.4h0M95.3 60.2h0M98.4 77h0M97.9 85.5h0M99.5 52.2h0M94.8 68.4h0M97.6 55.5h0M95.4 60.2h0M95.5 48.9h0M95.3 71.3h0M97.4 59.5h0M95.9 74.4h0M99.6 37.9h0M97.9 79.9h0M100 64.6h0M96 82.4h0M96.1 58.6h0M95.1 74.6h0M97.1 74.5h0M99.8 72.9h0M97.9 87.1h0M98.7 60.8h0M94.9 67.3h0M95.7 82.3h0M96.1 72.5h0M98.5 70.4h0M97.6 59.2h0M98.3 82.2h0M99.3 61.2h0M95.7 37.9h0M98.4 93.2h0" stroke="#ea1119" stroke-opacity="0.5" stroke-width="2.5" stroke-linecap="round" fill="none"/>
<path d="M96.4 71.7h0M97.2 49.5h0M97.4 55.6h0M95.2 65.4h0M97.4 80.3h0M95.6 60.5h0M99.9 65.1h0M99.8 47.5h0M95.7 70.2h0M95.7 81.8h0M98.5 47.8h0M95 71.4h0M95.9 80h0M95.7 98.4h0M100 80.9h0M98.5 42.2h0M97.6 84.4h0M99.6 73.3h0M97.9 48.6h0M96.8 82.1h0M98.5 49.1h0M97.5 79.5h0M94.8 55.8h0M96.8 64.3h0M99.7 81.5h0M95.5 76.8h0M96.3 76h0M97.2 71.8h0M95.4 54.2h0M96.6 66.8h0M97 64.3h0M100.1 80.8h0M94.8 77.8h0M98.9 67h0M98.8 66.7h0M98.4 69.2h0M95.2 54.8h0M97.4 61.2h0M99.1 72h0M94.9 77h0M96.9 84.4h0M97.1 69.4h0M98.3 79.3h0M96.2 94h0M96.5 55.1h0M95 67h0M96.1 84.1h0M96 68.5h0" stroke="#ea1119" stroke-opacity="0.5" stroke-width="2.5" stroke-linecap="round" fill="none"/>
<path d="M99.5 75.4h0M99.8 37.2h0M100 69.8h0M96.7 59.3h0M96.2 75.9h0M98.9 67.3h0M97.1 68.7h0M98.5 79.5h0M99.9 75h0M95.7 75.2h0M97.9 70.6h0M97.5 69.7h0M95.2 53.6h0M97.8 69.6h0M95.1 73.5h0M97.5 74.4h0M95.6 45.6h0M95.9 76.8h0M98.7 64.5h0M100.1 66.6h0M97 80.5h0M97 85.3h0M94.9 56.3h0M96.7 71h0M96.7 34.5h0M95.2 79.5h0M97.8 67.8h0M98.8 51.9h0M99.7 64.6h0M98.9 63.2h0M97.3 60.2h0M94.9 77.3h0M99.7 71.3h0M98.8 60.5h0M95 76.8h0M95.6 82h0M97.5 39.1h0M100.1 78.3h0M99 69.9h0M97.5 90.1h0M95.9 78.7h0M96 67.6h0M95.2 56.2h0M96.6 70.6h0M94.8 73.6h0M95.1 67.4h0M98.1 74.7h0" stroke="#ea1119" stroke-opacity="0.5" stroke-width="2.5" stroke-linecap="round" fill="none"/>
<path d="M97.4 34.1V59M97.4 75.6V100.5" stroke="#ea1119" stroke-width="0.7" fill="none"/>
<rect x="94.2" y="59" width="6.4" height="16.6" fill="#fff" fill-opacity="0.5" stroke="#ea1119" stroke-width="0.7"/>
<path d="M94.2 69h6.4" stroke="#ea1119" stroke-width="1"/>
<path d="M105.3 72.3h0M107.4 98.3h0M104.2 75.1h0M104.8 87.5h0M104.5 72.7h0M103.4 88.6h0M106 68.4h0M105.5 72.9h0M108.6 86.5h0M106.4 86.9h0M107.7 81.7h0M108.6 67.8h0M106.6 68.6h0M105.3 103.3h0M107.3 74.2h0M105.7 66.6h0M103.7 64.6h0M104.8 79.5h0M104.1 79.6h0M107.9 64.3h0M105 89.7h0" stroke="#ea1119" stroke-opacity="0.5" stroke-width="2.5" stroke-linecap="round" fill="none"/>
<path d="M105.3 86.9h0M105 76h0M103.3 76.5h0M104.3 82.2h0M106.4 87.5h0M105 77.9h0M103.9 94.7h0M105.2 64.6h0M104.5 75h0M105.3 67.2h0M104.7 65.4h0M103.5 87.7h0M107.5 73.1h0M107.6 68.2h0M105.6 75.9h0M104.4 71.1h0M105.2 88.7h0M107.1 75h0M106 67.5h0M104.4 61.2h0M106.6 84.9h0" stroke="#ea1119" stroke-opacity="0.5" stroke-width="2.5" stroke-linecap="round" fill="none"/>
<path d="M103.3 58.1h0M106.9 96.8h0M106.9 69.1h0M107.9 80.8h0M106.4 71.4h0M106.7 63.5h0M104.4 78.3h0M108.2 78.8h0M107.9 84h0M103.4 70.5h0M107.5 51.5h0M105.3 91.1h0M107.8 89.4h0M103.8 85.3h0M108.7 43h0M103.2 52.3h0M105.6 67.4h0M106 74.6h0M105.9 70.6h0M108 83.3h0" stroke="#ea1119" stroke-opacity="0.5" stroke-width="2.5" stroke-linecap="round" fill="none"/>
<path d="M105.2 110.7h0M106.6 75.1h0M106.6 76.4h0M108.2 49.5h0M105 101.7h0M106.5 72.3h0M104.9 72h0M103.8 72.9h0M104.5 108.9h0M107.6 82.6h0M105.8 92.7h0M104.5 73.2h0M106.2 81.2h0M104.6 74.4h0M103.7 75.9h0M103.7 81.1h0M106 103.3h0M108.6 74.1h0M105.2 82.1h0M105.2 71.5h0" stroke="#ea1119" stroke-opacity="0.5" stroke-width="2.5" stroke-linecap="round" fill="none"/>
<path d="M105.9 48.5V70.4M105.9 85V106.9" stroke="#ea1119" stroke-width="0.7" fill="none"/>
<rect x="102.7" y="70.4" width="6.4" height="14.6" fill="#fff" fill-opacity="0.5" stroke="#ea1119" stroke-width="0.7"/>
<path d="M102.7 77.5h6.4" stroke="#ea1119" stroke-width="1"/>
<path d="M114.6 80.7h0M115 86.1h0M116.1 74.1h0M114.5 87.6h0M117.1 66.9h0M113 85.5h0M112.8 87.1h0M112.2 70.7h0M115.2 79.2h0M113.6 78.7h0M112.7 65.2h0M112.8 93.9h0M114.7 82.7h0M114.7 72.7h0M113.1 89.7h0M114.7 78.6h0M116.5 87h0M115.5 107.5h0M116.7 81.9h0M117.2 111h0M116.6 115.3h0M112.7 64.5h0M114.5 85.3h0M112.4 67.5h0M116.4 67.9h0M112.5 83.1h0M112 101.1h0M116.5 87.6h0M114 82.7h0M115.5 91.2h0M114.8 73.4h0M115.8 76.8h0M113.6 46.9h0M112.6 72h0M111.8 88.6h0M113.6 80.2h0M114.6 93.6h0M113.4 66.8h0M112.4 77.6h0M112 73.1h0M115.7 58.9h0M116.8 113.2h0M116.3 84.1h0M112.4 80.5h0M113.8 81.5h0M116.1 76.9h0M112.9 91.8h0M116.1 66.2h0M115.6 73.3h0M115.7 76.3h0M113 68.8h0M116.4 76.1h0M115.8 82.6h0M113.1 59h0M116.4 93.8h0M116.5 96.7h0M113.2 74h0M115.7 95.4h0M115.1 74.7h0M115.7 59.5h0M116.4 80.6h0M112 70.4h0M116.8 60.9h0M116.3 64.9h0M116.3 92.9h0M115.3 86.7h0M115.5 53h0M112.3 87.9h0M115 58.7h0M115.5 70.4h0M114.9 73.9h0M114.9 95.1h0M116.5 70.8h0M116.2 60.3h0M117.2 104.6h0M116.1 81.4h0M117 76.8h0M113.5 91h0M116 53.1h0M115.4 60.4h0M116.5 74.1h0M114.9 83.9h0M113.8 62.4h0M114.1 79.2h0M112.2 68.9h0M112.1 99.2h0M116.5 114.3h0M116.7 65.2h0M112.7 71.2h0M113.4 112.5h0M113.8 64.4h0M114.3 67.3h0M114.8 95.3h0M115.1 88.7h0M111.9 88.9h0M114.1 88.5h0M115.9 77.2h0M115.3 71.3h0M112 92.5h0M113.5 111h0M115.5 85h0M114.2 95.1h0M115.2 74.5h0M112 83.1h0M112.7 83.7h0M113.1 69.5h0M115.2 96.7h0M113 84h0M113.8 70.9h0M116.5 97.2h0M116.2 45.1h0M113.5 77.7h0M111.9 75h0M112.5 58.9h0M115.3 93.9h0M114.8 69.4h0M116.3 75.6h0M114.5 84.2h0M114 53h0M114.2 87.7h0M114.9 70.3h0M116.4 97.5h0M114 53.9h0M116.8 78.3h0M113.1 64.7h0M111.8 71.6h0M113.9 93.9h0M115.2 83.7h0M114 62.8h0M115.3 66.1h0M116.9 86.5h0M115.1 96h0M116.8 79.6h0M116.6 80.5h0M112.5 79.6h0M116.5 63h0M113 65.3h0M114 78.8h0M112.2 93h0M112.2 96h0M114.9 95.8h0M111.9 55.6h0" stroke="#ea1119" stroke-opacity="0.5" stroke-width="2.5" stroke-linecap="round" fill="none"/>
<path d="M112.6 71h0M113.6 93.5h0M112.9 78.6h0M114.4 93.6h0M115.5 83.4h0M116 86.7h0M114.8 70.2h0M112.3 71.6h0M116.2 83.6h0M116.2 92.4h0M112.9 73.9h0M115.8 78.4h0M116.4 59.7h0M114.4 86.1h0M116.8 67.4h0M113.2 81.8h0M113.1 107.5h0M113.2 66.6h0M114.1 84.9h0M114.5 113.9h0M114 85.4h0M116 59.3h0M116.9 82.5h0M116.9 62.4h0M114.7 78.9h0M112.3 93.3h0M112.8 61.9h0M115.4 115.3h0M115.9 58.9h0M114.3 86.5h0M112.9 76.3h0M114.2 80.7h0M114.6 102.1h0M115.5 70.8h0M114.9 82.8h0M115.2 62.3h0M114.6 72.4h0M115.1 87.3h0M114.5 83.9h0M114.9 64.4h0M116.5 51.1h0M113 62.6h0M116.6 105.2h0M112.8 65.6h0M113.7 79.3h0M116.8 55.6h0M115.7 80.9h0M116.9 115.6h0M111.8 81.3h0M117.3 96.3h0M116.7 80.2h0M115.8 89.5h0M112.1 53.4h0M116.9 48.5h0M114.2 45h0M114.7 108.7h0M116.8 45.6h0M113.4 85.8h0M115 83.5h0M112.7 57.8h0M117.2 70.5h0M116.3 77.5h0M113.6 75.3h0M112.5 91.3h0M114.6 68h0M117.2 104.3h0M115.9 104.6h0M112.4 98.7h0M117.2 114.9h0M115.6 80.6h0M115.4 77.7h0M116.5 50.6h0M112.8 61.7h0M114.3 82.2h0M116 104.8h0M114.8 59.4h0M116.4 47.6h0M113.3 55.9h0M112.2 98.5h0M113.6 57.2h0M117 73.3h0M116.7 51.3h0M114.6 91.4h0M114.9 96.4h0M115.3 55h0M112.8 69.7h0M117.1 75.9h0M115.3 85.5h0M114.2 82.6h0M112.5 69.3h0M116.1 77h0M115.9 78.9h0M115.2 74.8h0M112.6 78h0M112.3 71.3h0M117 83.6h0M113.3 69.2h0M116.8 59.5h0M113.4 59.1h0M112.1 83.9h0M113.7 93.1h0M112.5 98.5h0M115.6 109.1h0M116.9 74.7h0M116.8 76.3h0M115.5 84.2h0M116.3 108.8h0M115.7 89.8h0M116.6 71.2h0M115.9 101.3h0M111.8 45.4h0M114.8 59.7h0M114.2 77.2h0M115.1 63.2h0M115.7 81.7h0M114.8 71.1h0M113.9 94.1h0M116.8 101.4h0M113 65.9h0M114.7 69.4h0M114.7 86.9h0M117.2 76.2h0M114.6 54.6h0M115.4 93.4h0M113.6 62.3h0M114.1 70.8h0M115.8 85.4h0M112.7 79.1h0M112.3 58.5h0M114.5 45.7h0M116.5 65.1h0M115.1 56.3h0M113.9 46h0M113.6 61.9h0M116.1 92.3h0M114.3 68.5h0M114.5 83.6h0M113.2 94.8h0M114.7 104.4h0M114.8 89.4h0M116.8 70.6h0M113.4 83.3h0" stroke="#ea1119" stroke-opacity="0.5" stroke-width="2.5" stroke-linecap="round" fill="none"/>
<path d="M113.8 46h0M112.2 94.7h0M116 71.5h0M112.9 54.7h0M114.3 87.2h0M113.6 80.7h0M115.3 88.3h0M114.7 71.6h0M114.3 60.4h0M116.3 83.2h0M113.6 100.7h0M112.1 45.2h0M112 78.3h0M116.9 74h0M114 74.2h0M114.3 70.7h0M111.9 85.3h0M114.4 88.4h0M115.6 80.8h0M115 63h0M112.5 67.6h0M114 113.4h0M113.3 72.4h0M113.8 67.3h0M112.8 84.5h0M113 75.9h0M112.3 83.4h0M116.6 80.3h0M115.2 69.9h0M114.3 89.9h0M113.6 97.2h0M112.4 72.3h0M116.9 91.2h0M112 74.3h0M114.1 52.8h0M112.1 68.9h0M112.6 81.1h0M114.2 70.3h0M112.7 83.5h0M112.6 92.7h0M115.5 81h0M115.4 66.9h0M116.7 78.1h0M116.2 104.4h0M116.3 82.1h0M117.1 83.8h0M114.2 92.6h0M116 115.1h0M114 54.9h0M115 103.3h0M112.3 86h0M114.6 89.4h0M116.6 77.6h0M112.7 82.7h0M113.5 103.8h0M112.6 45.1h0M115.5 80.7h0M115.6 45.4h0M114.2 94.5h0M116.3 69.5h0M112.6 64.4h0M115.3 90.9h0M112.9 74.2h0M116.8 73.9h0M115 88.3h0M116 71.1h0M112.8 75.8h0M113.4 58.3h0M116.3 106.3h0M112.1 59.8h0M114.9 87.4h0M112.2 59.1h0M114.4 68.4h0M116.4 70.7h0M113.9 48.7h0M115.7 88.4h0M115.1 69.8h0M115.1 71.2h0M113.9 70.8h0M113.2 90.2h0M114.6 71.4h0M114.8 66.3h0M112.5 57.3h0M112.7 65.1h0M116.4 54.8h0M113.4 76.2h0M114.5 69h0M114.7 94h0M114.2 76.1h0M113.5 62.7h0M114.7 63.7h0M112.3 76.8h0M116.5 113.3h0M113.6 45.3h0M112.7 95.5h0M113.2 82.3h0M112.4 77.3h0M114.3 64.2h0M115.7 73.8h0M115.7 87.3h0M114.8 56.5h0M112.1 52.4h0M115.4 84.5h0M113.3 66.9h0M114.7 59h0M117 53.1h0M111.8 59.1h0M115.9 98.2h0M112.6 88.6h0M114.9 96.8h0M116.4 81h0M116.1 62.1h0M112.5 92.6h0M115.4 64.9h0M117.1 71.9h0M111.8 74.8h0M114.9 97h0M114.3 71.2h0M115.4 103.1h0M116.4 56h0M114.7 68.5h0M113 64.1h0M115.7 110.5h0M112.9 98h0M114 66.7h0M116.8 57.5h0M115.9 82h0M114.3 70.1h0M117 88.6h0M111.9 51h0M113 89.2h0M113.6 67.3h0M115.9 96.2h0M115.7 79.1h0M111.9 77.6h0M117.2 73.9h0M111.8 89.3h0M113.6 87.8h0M115.6 107.7h0M115.7 56.4h0M115.9 63h0" stroke="#ea1119" stroke-opacity="0.5" stroke-width="2.5" stroke-linecap="round" fill="none"/>
<path d="M113.4 70.2h0M114.4 95.3h0M111.9 55.4h0M114.5 68.5h0M117.1 67h0M112.6 64.1h0M113.7 49.7h0M113.4 87h0M113.2 96.6h0M112.8 84.2h0M115 82.5h0M115.4 89.4h0M112.5 99.9h0M115.4 65h0M114.9 62.1h0M112.9 61.9h0M115.3 90h0M113.7 85.3h0M114.5 114.6h0M116.4 83.4h0M116 90.4h0M116.6 79.6h0M112.2 83.7h0M112.3 67.1h0M114.6 98.4h0M113 92.1h0M114.4 53.4h0M112.9 115.1h0M112.5 93.1h0M112 69.2h0M116.7 79.5h0M115.9 78.3h0M114.9 80.5h0M113.2 77.9h0M112.1 85.3h0M113.1 71.7h0M113.2 94.1h0M113.5 80.3h0M112.4 67.7h0M112 84.6h0M116.8 70.4h0M114.2 76.1h0M114.2 57h0M116.1 45h0M115.6 80.1h0M114.1 78.4h0M114.9 63.3h0M112.5 85.6h0M114.5 60.7h0M114.2 60.4h0M115.1 71.2h0M117.1 86.8h0M111.9 84.2h0M114.5 63h0M112.9 69.7h0M117.1 94h0M114.2 76.6h0M112.9 71.8h0M116.6 74.6h0M113.4 86.1h0M113.8 55.7h0M112.7 74.3h0M117.2 45.6h0M117.2 81.3h0M112.5 95.8h0M113.2 45.6h0M117 74.9h0M114.5 60.3h0M116.1 78h0M115.9 76.8h0M111.9 66.3h0M115.2 77.2h0M114.7 80.1h0M113.4 56.1h0M116 57.9h0M115.9 82.9h0M115.7 59.6h0M113 64h0M114.9 48.1h0M115.2 84h0M113.4 86.7h0M111.9 69.2h0M117 89.4h0M113.8 85.9h0M111.9 66.2h0M116.3 66.9h0M112.6 73.7h0M113.4 92.3h0M112.7 74.4h0M113.1 91.6h0M115.1 62.4h0M115.9 74.9h0M114.9 91.4h0M116.5 91.3h0M116.9 82h0M112.1 81.7h0M113.7 99.3h0M115.3 91.4h0M112.3 81.4h0M114.7 58.8h0M115 113.6h0M116.5 102.1h0M114.1 95.3h0M116.8 79.7h0M112.5 71.1h0M114.2 60.4h0M113.1 82.7h0M116.9 62.3h0M116.4 89.8h0M117.1 71.7h0M113 102.9h0M116.8 78.9h0M115.2 50h0M113.6 94.9h0M115.6 66.4h0M114.4 89.4h0M111.9 56.6h0M112.2 97.8h0M115.3 80.4h0M116.9 86.5h0M114.4 105.5h0M114.1 45.8h0M114.7 87.4h0M113.1 57.8h0M113.3 58.5h0M116.1 92.4h0M114.9 74.8h0M116.5 77.5h0M113.5 70.4h0M115.7 47.4h0M113.8 74.5h0M115 79.4h0M117 91.6h0M116.2 102.7h0M116.4 82.8h0M113.5 64.2h0M112.9 89h0M114.7 97.3h0M115.3 70.7h0M113.9 80h0M113.7 94.8h0" stroke="#ea1119" stroke-opacity="0.5" stroke-width="2.5" stroke-linecap="round" fill="none"/>
<path d="M114.5 45V66M114.5 87.5V116" stroke="#ea1119" stroke-width="0.7" fill="none"/>
<rect x="111.3" y="66" width="6.4" height="21.5" fill="#fff" fill-opacity="0.5" stroke="#ea1119" stroke-width="0.7"/>
<path d="M111.3 78h6.4" stroke="#ea1119" stroke-width="1"/>
<path d="M124.1 97.7h0M121.8 99.3h0M125.1 48.9h0M122.9 110.1h0M121.5 91.2h0M125 75h0M121.8 92.8h0M124.7 78.7h0M120.3 74.6h0M123.2 67.6h0M120.8 49h0M123.3 91.9h0M121.6 83h0M122.7 85.4h0M121.3 97.2h0M124.2 73h0M123.6 65.9h0M121.9 65.7h0M121.5 106h0M121.7 104h0M121.7 61.1h0M125 76.5h0M124.1 135.9h0M124.1 54.2h0M121.7 71.4h0M125.4 105.3h0M123.2 55.9h0M123 95.7h0M123.7 74.6h0M124.5 99.4h0M123.6 74.6h0M122.8 69.9h0M121 53.2h0M124.2 95.7h0M124.8 83h0M122.2 93.3h0M120.4 75.7h0M123.7 60.9h0M121.3 66.2h0M120.6 43.8h0M124.5 58.2h0M125.5 78.6h0M121.3 87h0M123 93.4h0M122.8 66.6h0M121.6 105.2h0M120.7 71h0M124.6 108.9h0M125.1 67.3h0M123.7 74h0M121.3 51.9h0M125 83.1h0M123 83.7h0M122.2 83.1h0M123.9 102h0M124.7 77.6h0M121.8 67.8h0M124.9 91.7h0M120.7 67.4h0M123.3 99.9h0M124.1 81.6h0M121.5 75.2h0M125.3 126.8h0M120.9 78.6h0M125.6 96.6h0M125.4 63.4h0M120.7 75.7h0M122.7 82.1h0M125.2 71.7h0M123.9 85.9h0M125.3 82h0M121.4 78.3h0M124.4 58.5h0M124.9 89.3h0M123.3 114h0M124 64.5h0" stroke="#ea1119" stroke-opacity="0.5" stroke-width="2.5" stroke-linecap="round" fill="none"/>
<path d="M121 89.8h0M123.8 100.1h0M121 56h0M125.8 46.2h0M121 81.6h0M120.4 62.5h0M121.8 54.2h0M125.2 121.2h0M123.7 99.9h0M120.9 64.8h0M120.9 78h0M122.3 83.6h0M123.4 52h0M123.5 90.1h0M123.5 44.7h0M120.4 64.2h0M124.8 57.8h0M121.7 55.9h0M124.5 73.4h0M124.9 75.8h0M120.7 82.5h0M124 60.4h0M121.2 66.5h0M123.5 93.4h0M120.5 84.9h0M123.4 96.1h0M121.9 75.1h0M120.3 60.4h0M123.1 56.8h0M120.8 91.5h0M123.9 98.5h0M124.9 67.4h0M125.3 118.7h0M125.4 62.6h0M120.8 68.5h0M121.1 92h0M120.7 129.5h0M125.1 102.5h0M122.1 70.2h0M123.9 70.4h0M120.7 84.5h0M123 46.9h0M125.7 73.9h0M122.1 110.3h0M121.8 80.8h0M121.2 102h0M121.8 74.6h0M122 93.3h0M124.6 72h0M123 54.9h0M124.1 79.3h0M123.4 97.2h0M122.4 86h0M120.5 43.9h0M121.2 112h0M123.9 83h0M124.9 64.6h0M121.7 52.2h0M125.1 62.3h0M125.2 66.5h0M123.3 83.2h0M124 55.8h0M125.7 58.7h0M122.3 65.4h0M124.5 66.9h0M120.6 69.7h0M125.5 77.2h0M123.7 109.3h0M122.1 71.7h0M123.9 60.4h0M122.3 43.8h0M123.8 57.7h0M121.2 91h0M124.7 84.5h0M124.8 76h0M121.3 86.8h0" stroke="#ea1119" stroke-opacity="0.5" stroke-width="2.5" stroke-linecap="round" fill="none"/>
<path d="M120.9 73.7h0M125.6 52.8h0M124.7 98.1h0M123.6 53.5h0M123.7 77.3h0M120.4 62.2h0M125.1 95.4h0M123.4 104.3h0M123.7 73.7h0M121.5 102.6h0M121.7 67h0M125.6 78.4h0M125 80.4h0M125.7 46.6h0M122.1 59.6h0M123.1 63.8h0M122.9 48.2h0M123.1 44.7h0M123.1 75.3h0M125.3 65.4h0M123.8 122.8h0M122.2 60.2h0M122.3 81h0M120.9 67.7h0M123.8 75h0M125.4 75h0M122.9 62.1h0M122.3 77.4h0M122.9 84.3h0M120.5 86.3h0M123.1 58.1h0M123.6 88.2h0M123.3 80.4h0M125.1 66.8h0M122.9 61.5h0M125.1 99.6h0M123.4 108.8h0M120.9 70.4h0M121.1 64.3h0M123.9 86.6h0M125.1 80.4h0M120.8 95.8h0M123.3 86.4h0M124 67.1h0M122.6 80.4h0M123 67.8h0M125.7 67h0M120.8 93.7h0M120.6 65.5h0M124 81.1h0M121 120h0M123.1 53.5h0M123.4 94h0M125.8 77.2h0M125 79.5h0M123.6 57.4h0M123.3 70.8h0M122.6 105.5h0M124.1 86.1h0M120.7 67.4h0M123 84.4h0M122.2 57h0M121.8 66.5h0M120.7 70.4h0M122.3 135.1h0M125 92.1h0M123.9 89.5h0M123.2 90.1h0M120.4 62h0M120.7 88.9h0M122.9 75h0M120.7 77.1h0M124.5 56.5h0M125.5 99.8h0M124.7 85.7h0M122.2 81.9h0" stroke="#ea1119" stroke-opacity="0.5" stroke-width="2.5" stroke-linecap="round" fill="none"/>
<path d="M120.6 92.9h0M125.6 77h0M124.5 110.5h0M121 133.1h0M123.7 77.2h0M125.7 69.6h0M120.9 111.6h0M123.7 96.6h0M124.6 88.1h0M123.9 83.7h0M124.7 69.2h0M123.5 66.9h0M122.3 92.8h0M123.8 105.4h0M122.9 124.7h0M122 91.7h0M123.8 74.6h0M123.2 102h0M122.3 118.2h0M125.5 80.7h0M120.5 94.8h0M122.7 104.7h0M124.6 84.7h0M121.5 55.2h0M123.5 136.2h0M122.9 72.1h0M125.5 80.5h0M121.4 72.5h0M125.4 86.2h0M124.2 71.2h0M120.5 72.4h0M120.6 90h0M121.2 102.2h0M123.9 59.6h0M124.8 44h0M124.2 55.8h0M125.6 44.7h0M123.5 83.8h0M122.9 44.1h0M125.3 52.9h0M123.3 46.9h0M124.2 68.4h0M125.3 95.7h0M124.2 73.8h0M124.2 69.9h0M123.9 82h0M121.8 82.6h0M123 72.1h0M124.2 85.1h0M123.2 86.7h0M122 67h0M124.2 109.8h0M120.4 44.3h0M125.3 62.7h0M121.9 85.8h0M124.4 49.3h0M124.5 77.9h0M122.3 63.4h0M123 46.1h0M122.3 61h0M121.7 80.6h0M125.5 90.5h0M123.1 60.9h0M123.1 76.1h0M121.8 61.7h0M125 57.8h0M122.5 50h0M125.1 127.5h0M124.6 70.7h0M120.7 70.8h0M125.7 108.5h0M123.4 67.5h0M125.6 76h0M124.3 90.2h0M123.8 53h0M122.1 62.9h0" stroke="#ea1119" stroke-opacity="0.5" stroke-width="2.5" stroke-linecap="round" fill="none"/>
<path d="M123.1 43.7V63.4M123.1 88.6V126.4" stroke="#ea1119" stroke-width="0.7" fill="none"/>
<rect x="119.9" y="63.4" width="6.4" height="25.2" fill="#fff" fill-opacity="0.5" stroke="#ea1119" stroke-width="0.7"/>
<path d="M119.9 75.6h6.4" stroke="#ea1119" stroke-width="1"/>
<path d="M132.1 109.1h0M131.2 115.8h0M132.2 85h0M133.5 81.1h0M132.7 93.6h0M129.3 79.7h0M131.9 88.9h0M134 91.4h0M129.2 92h0" stroke="#ea1119" stroke-opacity="0.5" stroke-width="2.5" stroke-linecap="round" fill="none"/>
<path d="M130.8 118.9h0M130.5 111.1h0M133.7 137.9h0M133.3 80.1h0M133 86.6h0M131.6 89.1h0M132.9 94.1h0M129.5 82h0M133.8 86.5h0" stroke="#ea1119" stroke-opacity="0.5" stroke-width="2.5" stroke-linecap="round" fill="none"/>
<path d="M132.3 99h0M131.5 84.6h0M133 67h0M133.5 97h0M133 91.3h0M133.6 85.9h0M133.5 85.1h0M129.3 94.4h0M130.6 85h0" stroke="#ea1119" stroke-opacity="0.5" stroke-width="2.5" stroke-linecap="round" fill="none"/>
<path d="M134.2 91.7h0M130.8 92h0M130.2 116.4h0M131.4 93.6h0M129.3 84.4h0M133.1 78.5h0M131.5 124.9h0M131.1 104.4h0M134.3 83.9h0" stroke="#ea1119" stroke-opacity="0.5" stroke-width="2.5" stroke-linecap="round" fill="none"/>
<path d="M131.6 66.2V82.7M131.6 101.6V129.9" stroke="#ea1119" stroke-width="0.7" fill="none"/>
<rect x="128.4" y="82.7" width="6.4" height="18.9" fill="#fff" fill-opacity="0.5" stroke="#ea1119" stroke-width="0.7"/>
<path d="M128.4 87.5h6.4" stroke="#ea1119" stroke-width="1"/>
<path d="M140.8 115.2h0M140.4 131.3h0M140.6 136.4h0" stroke="#2347bd" stroke-opacity="0.6" stroke-width="2.5" stroke-linecap="round" fill="none"/>
<path d="M139.8 130.5h0M138.9 129.5h0" stroke="#2347bd" stroke-opacity="0.6" stroke-width="2.5" stroke-linecap="round" fill="none"/>
<path d="M139.8 127.5h0M138.1 136.8h0" stroke="#2347bd" stroke-opacity="0.6" stroke-width="2.5" stroke-linecap="round" fill="none"/>
<path d="M138.2 128.6h0M142.2 128.7h0" stroke="#2347bd" stroke-opacity="0.6" stroke-width="2.5" stroke-linecap="round" fill="none"/>
<path d="M140.2 119.5V127M140.2 132V137" stroke="#2347bd" stroke-width="0.7" fill="none"/>
<rect x="137" y="127" width="6.4" height="5" fill="#fff" fill-opacity="0.5" stroke="#2347bd" stroke-width="0.7"/>
<path d="M137 129.5h6.4" stroke="#2347bd" stroke-width="1"/>
<path d="M147.3 83.8h0M150.4 100.6h0M149.8 90.6h0M150.8 81.1h0M147.8 104.8h0M148.3 99h0M149.5 112.8h0M146.4 98.3h0M149.4 88.8h0M148 121.9h0M147.7 94.1h0M146.5 90.3h0M149.1 109.7h0M150.2 101.1h0M148.3 98.1h0M146.7 86.1h0M146.1 97.5h0M151.4 86.9h0M150.7 80.3h0M151.2 82.5h0M149.4 89.8h0M147.4 70.9h0M151.5 74.6h0M147.9 105h0M149.9 101.1h0M148 102.8h0M148.6 76.2h0M147.9 91.8h0M149 69.1h0M147.8 94.1h0M149.7 82.5h0M146.8 105.3h0M149.6 100.8h0M146.7 75.4h0M146.8 105h0M149.1 96.8h0M148.5 97.5h0M147.5 97.3h0M148.7 74.8h0M148.2 119.8h0M150.4 74.8h0M148.4 84.2h0M148.3 68.8h0M146.3 93.7h0M150 83.5h0M149.9 89.9h0M146.1 95.4h0M150.2 118.7h0M148.6 93.9h0M146.8 99.2h0M150.5 92.9h0M147.7 92.7h0M146.8 87.7h0M147.8 106.3h0M149.7 92.6h0M147.7 89h0M148.7 95h0M149.2 96.3h0M148.5 96.3h0M148.1 88.3h0M146.2 86.9h0M148 77.5h0M149.2 85.1h0M146.1 79h0M147.3 90.6h0M146.4 104.1h0M146.8 91.5h0M146.8 99h0M150.1 89.2h0M151.4 76h0M149.8 96.5h0M150.4 69.5h0M149.9 109.4h0M146.8 99.4h0M147.4 89.4h0M148 87.1h0M150 93.5h0M147.7 83.3h0M148.5 70.1h0M146 86.2h0M146.8 96.7h0M146.9 97.1h0M149.7 73.9h0M147.1 88.5h0M149.8 80.3h0M150.7 73.8h0M147.5 69.1h0M147.2 104.9h0M148.5 72.5h0M146.8 98.5h0M151.3 72.7h0M148.7 108.1h0M147.3 137h0M149.6 101.9h0M150.6 81.7h0M146.6 83.4h0M146.4 103.4h0M148.7 80.4h0M147.3 97.9h0M146.8 85h0M146.4 107.9h0M151.2 94.7h0M150.3 76.9h0M148.7 109.5h0M150.2 84.2h0M146.3 92.4h0M151.2 92.4h0M149.2 91h0M150.2 83.7h0M148.3 93.5h0M148.2 84h0M151.5 98.3h0M147.2 92.6h0M147.7 84.1h0M148.5 98.4h0" stroke="#ea1119" stroke-opacity="0.5" stroke-width="2.5" stroke-linecap="round" fill="none"/>
<path d="M147.8 92.7h0M146.6 85h0M148.2 95.2h0M149.8 78.8h0M148 85.6h0M150.5 98.9h0M149.3 92.7h0M149.8 78.6h0M151.1 95.5h0M147 93.4h0M149.3 88.2h0M149.7 89.1h0M150.2 92.9h0M148.3 103.5h0M150.7 97.2h0M150 89.4h0M146.8 93.7h0M147.7 82.8h0M147.1 86.2h0M146 108.8h0M147 88.3h0M147.1 100h0M151.1 87.2h0M148.9 92.7h0M148.8 98.6h0M146.8 76.7h0M146 103.4h0M148 97.2h0M147.4 112.8h0M146.3 69.5h0M147.1 85.1h0M148.5 99h0M150 85.6h0M151.4 102.3h0M148.8 94.4h0M151 88h0M146.8 87.7h0M146.9 85.3h0M148.7 78.4h0M149 91.7h0M150.3 102.7h0M146.8 102.1h0M151.4 82.8h0M147.2 95.7h0M146.2 80.8h0M147.7 88.8h0M146.9 91h0M150.1 90.7h0M147.9 85h0M151.2 105.5h0M147.6 101.3h0M146.4 102.6h0M147.2 95.8h0M147.7 96h0M148.3 84h0M148.1 81.6h0M149.4 86.3h0M150 92.8h0M147.2 91.8h0M149.4 113.5h0M149.2 90.3h0M148.1 107h0M148.9 105.5h0M148.4 80.6h0M148.5 77.1h0M149.8 98.4h0M146.1 91.8h0M151.5 79.8h0M147.6 83.6h0M147.7 101.3h0M147.6 83.9h0M148.1 90.3h0M149.2 101.3h0M150.6 93.1h0M149.9 85h0M150.6 83.3h0M151.3 90.8h0M150.3 100.5h0M147.6 97.5h0M150.4 77.8h0M149.1 68.6h0M148.3 96.5h0M150.9 95.9h0M149.7 93.5h0M150.1 75.8h0M150.9 96.5h0M148.8 76.2h0M148 107.2h0M149.4 91.9h0M150.7 78.3h0M150.3 107.1h0M147.3 89.2h0M146.2 90.9h0M147.8 81.1h0M150.6 98.7h0M147.3 97.2h0M147.2 90h0M148.1 83.6h0M150.4 87.7h0M147.1 89.3h0M150.3 93.8h0M146.7 100.1h0M150.2 80.1h0M150 97.1h0M149.9 87.4h0M150 99.4h0M147 109.3h0M146.4 89.5h0M149.7 98.7h0M149.1 90.9h0M147 95.8h0M150.3 104.6h0M147.1 71.3h0M147.7 99.2h0" stroke="#ea1119" stroke-opacity="0.5" stroke-width="2.5" stroke-linecap="round" fill="none"/>
<path d="M150.4 95h0M150.2 92.9h0M148.7 94.9h0M147 91.7h0M151.4 77.4h0M149.7 100.6h0M150.1 85.2h0M148 105.8h0M148.4 100.2h0M150.3 96.2h0M147.8 83h0M147.8 82h0M147.3 103.6h0M147 90.4h0M149.2 85h0M151.2 96.6h0M148.5 101.2h0M148.6 99.9h0M146.3 109.4h0M150.8 91.2h0M146.1 95.9h0M151.1 138.3h0M147.9 92.8h0M149.9 83.7h0M147.3 91.4h0M149.1 88.4h0M146.6 81h0M149.7 97.6h0M149.9 96.5h0M148.1 85.8h0M146.9 93.2h0M146.3 96h0M151.2 106.9h0M149.6 89.5h0M146.5 92h0M146.5 104.4h0M151.2 94.5h0M151.3 90.5h0M149.3 91.2h0M147.8 109.8h0M146.8 94.8h0M146.6 93.3h0M149.8 83h0M149.5 108.2h0M150.7 88.5h0M147.6 112.8h0M149.5 86.5h0M148.2 85.5h0M147.3 103.6h0M147.5 88.4h0M147.1 88.4h0M149.8 83h0M146.7 98.1h0M146.8 74.9h0M149.9 136.1h0M149.5 98.7h0M148.7 97.4h0M151.4 98.3h0M147.8 99.2h0M148.6 96h0M146.9 80.8h0M148.8 96.7h0M151.5 78.5h0M148.6 82.9h0M149.9 89.8h0M151.1 82.1h0M147.5 75.4h0M146.2 81.5h0M146.6 88.5h0M147.6 88.6h0M149.2 106.6h0M150.3 93.6h0M148.6 94.5h0M147.2 91.2h0M150.6 102.6h0M146.8 103.8h0M147 96.1h0M146.8 88.5h0M149.9 106.2h0M147.9 106.6h0M149.8 79h0M147.7 95.5h0M148.6 97.6h0M150.5 89.1h0M146.6 74.1h0M149.1 93h0M151.1 100.7h0M148.2 98.5h0M147.1 97.6h0M149.3 88.2h0M150.4 77.3h0M149.9 77h0M149.4 90.3h0M149.3 102.6h0M149.2 80.4h0M147.7 80.9h0M150.2 96.4h0M148.4 139.1h0M147.6 105.7h0M149.7 79.7h0M148.8 97.4h0M150.4 114.1h0M146.7 89.4h0M149.6 94.7h0M147.5 104.8h0M149.3 94.5h0M149.5 96.2h0M149.8 101.6h0M148.3 94.3h0M147.9 71.6h0M150.5 95.3h0M150.6 88.8h0M146.6 91.9h0M150.7 104h0" stroke="#ea1119" stroke-opacity="0.5" stroke-width="2.5" stroke-linecap="round" fill="none"/>
<path d="M149 92.4h0M147.8 69.1h0M147 68.8h0M147.3 85.4h0M150.9 89.6h0M146.6 109.8h0M149 81.4h0M149.3 84.1h0M147.5 89.7h0M150.3 89.3h0M151.4 69.9h0M147.1 89.8h0M150.4 90.8h0M148.4 73.7h0M146.5 95.6h0M150.4 85.4h0M149.8 99.6h0M151.2 93.9h0M151.1 89.6h0M146.6 75.8h0M146.3 69.1h0M148.7 82.2h0M147.5 93.7h0M146.3 99h0M146.3 84h0M147.6 99.6h0M148.5 91.9h0M150.1 98h0M147.3 99.1h0M150.2 90.3h0M147.5 107h0M149.9 142.2h0M148.7 73.3h0M149.6 96.8h0M150.2 94.2h0M150.9 96.4h0M147.4 86.5h0M148.6 98.8h0M150.3 104.9h0M147.3 69.2h0M150.3 95.6h0M147.5 98.8h0M150 97.4h0M147.8 89.5h0M149.1 78.2h0M149.8 80.9h0M148.1 88.8h0M149.4 86.7h0M146.5 97.8h0M149.5 105.5h0M150.8 88.4h0M151.2 98.9h0M151 85.1h0M147.5 97.5h0M148.9 88.5h0M146.1 87.6h0M146.9 73.4h0M146.6 146.1h0M147.6 94.5h0M146.4 97.9h0M148.2 88.6h0M150.6 90.9h0M149.7 132.6h0M146.8 97.1h0M149.7 76.6h0M148.6 86.4h0M151 92.5h0M150.7 87.6h0M147.6 92.7h0M146.5 92.7h0M147.2 69.1h0M147.1 92.4h0M150.4 114.5h0M146.5 86.6h0M148 94.4h0M151.3 69.2h0M147.9 73h0M146.2 96.3h0M150.3 85.4h0M150.4 76.9h0M150.1 84.6h0M149.1 93.4h0M149.2 95h0M146 95.9h0M151.2 93.7h0M150.1 109.5h0M150.4 88.5h0M146.2 95.7h0M149 87.8h0M148.5 88h0M148.3 79.5h0M150.8 94.1h0M150.2 93.6h0M147.1 92.1h0M150.1 76.7h0M146.1 75.5h0M149.6 87h0M151.2 113.2h0M151.1 83.8h0M147 97.2h0M149 95h0M151 96.7h0M148.9 87.6h0M151.4 98.4h0M146.3 98.1h0M151.4 102.8h0M147.1 76h0M148.3 87.8h0M148.9 106.3h0M147.3 86.2h0M146.9 93.1h0M148.6 130.2h0M150.4 84h0M149.8 105.3h0" stroke="#ea1119" stroke-opacity="0.5" stroke-width="2.5" stroke-linecap="round" fill="none"/>
<path d="M148.7 68.6V85M148.7 98V117.5" stroke="#ea1119" stroke-width="0.7" fill="none"/>
<rect x="145.5" y="85" width="6.4" height="13" fill="#fff" fill-opacity="0.5" stroke="#ea1119" stroke-width="0.7"/>
<path d="M145.5 92h6.4" stroke="#ea1119" stroke-width="1"/>
<path d="M155.7 104.7h0M159.7 106.1h0M154.8 101h0M155.6 102.7h0M157.9 104.7h0M157.8 94.9h0M156.6 101.5h0M159.9 104.5h0M159.3 110.7h0M154.6 98.1h0M159 94.6h0" stroke="#2347bd" stroke-opacity="0.6" stroke-width="2.5" stroke-linecap="round" fill="none"/>
<path d="M159.3 101.8h0M155.1 103.5h0M158.2 107.1h0M159 103h0M155.2 96.7h0M155 105.9h0M158.7 99.5h0M156.3 105.2h0M158.7 106.7h0M159.2 101.4h0" stroke="#2347bd" stroke-opacity="0.6" stroke-width="2.5" stroke-linecap="round" fill="none"/>
<path d="M155 99.4h0M158.2 100.1h0M159.2 104.7h0M155 103.3h0M155.7 97.9h0M159.6 102.5h0M155.1 107.9h0M156.4 105.9h0M156.6 110.1h0M159.8 102.9h0" stroke="#2347bd" stroke-opacity="0.6" stroke-width="2.5" stroke-linecap="round" fill="none"/>
<path d="M159.3 107.2h0M157 101.5h0M155.8 96.3h0M155.2 96.4h0M158.5 94.7h0M158.3 108.3h0M159.3 96.9h0M157.3 104.2h0M159.1 107.2h0M160 103.5h0" stroke="#2347bd" stroke-opacity="0.6" stroke-width="2.5" stroke-linecap="round" fill="none"/>
<path d="M157.3 94.6V95.7M157.3 104V111" stroke="#2347bd" stroke-width="0.7" fill="none"/>
<rect x="154.1" y="95.7" width="6.4" height="8.3" fill="#fff" fill-opacity="0.5" stroke="#2347bd" stroke-width="0.7"/>
<path d="M154.1 100.5h6.4" stroke="#2347bd" stroke-width="1"/>
<path d="M167.5 105.8h0M164.7 100.9h0M168.2 95.8h0M168.4 122.2h0M167.7 96.1h0M166.9 110.1h0M167.3 136.7h0M167.3 127.3h0M168.4 127.7h0M164.7 98.8h0M166.7 135.9h0M163.5 110.7h0" stroke="#ea1119" stroke-opacity="0.5" stroke-width="2.5" stroke-linecap="round" fill="none"/>
<path d="M167.9 92.8h0M164.2 135.8h0M163.3 101.3h0M164 74.5h0M163.5 75.7h0M168.5 85.8h0M167.1 71.1h0M165.6 120.9h0M166.8 80.5h0M166.9 108.9h0M165.9 114.9h0M166.7 92.5h0" stroke="#ea1119" stroke-opacity="0.5" stroke-width="2.5" stroke-linecap="round" fill="none"/>
<path d="M165.7 92.7h0M166.1 101.5h0M165.4 101h0M163.2 82.6h0M165.9 91.6h0M168 121h0M167.1 92.2h0M163.7 78.8h0M167.1 107.2h0M166.1 117.8h0M165.4 72.9h0M168.3 78.3h0" stroke="#ea1119" stroke-opacity="0.5" stroke-width="2.5" stroke-linecap="round" fill="none"/>
<path d="M168.1 135.7h0M167.8 100.8h0M163.9 73h0M165.3 107.9h0M163.7 116.7h0M166.2 118.6h0M165.1 76.8h0M163.9 149.6h0M167.8 82.6h0M165.4 111.7h0M163.8 131.3h0M166.1 88.2h0" stroke="#ea1119" stroke-opacity="0.5" stroke-width="2.5" stroke-linecap="round" fill="none"/>
<path d="M165.9 71V91M165.9 124V150" stroke="#ea1119" stroke-width="0.7" fill="none"/>
<rect x="162.7" y="91" width="6.4" height="33" fill="#fff" fill-opacity="0.5" stroke="#ea1119" stroke-width="0.7"/>
<path d="M162.7 106.4h6.4" stroke="#ea1119" stroke-width="1"/>
<path d="M176.6 81.9h0M176.1 36.1h0M175 76.2h0M173.9 41.1h0M174.2 86.1h0M171.7 89.7h0M174.3 75.6h0M175.2 83.9h0M172.2 59.9h0M176.1 59.6h0M176 73.9h0M175.1 88.8h0M174.6 59.5h0M172.7 56.5h0M171.7 101.1h0M174.4 89h0M171.8 71.3h0M174.5 105.4h0M175.8 28.8h0M173.7 63.4h0M176.9 30.5h0M172.5 91h0M172.5 64.9h0M174.1 40.5h0M175.4 42.3h0M172.1 76.1h0M176.2 107.2h0M173.3 75.8h0M175.1 92.4h0M173.7 64.3h0M176.6 76.3h0M174.4 64.5h0M173 64.8h0M176.2 59.6h0M173.9 68.9h0M176.8 81.9h0M174.1 63.2h0M177.1 91.9h0M172 40.1h0M172.7 57.4h0M172.3 75.7h0M174 81.4h0M174.1 81.3h0M175.2 77.3h0M176.2 29h0M175.5 70.5h0" stroke="#ea1119" stroke-opacity="0.5" stroke-width="2.5" stroke-linecap="round" fill="none"/>
<path d="M176.2 80.7h0M171.8 66.8h0M173.6 70.1h0M172.3 88.9h0M174.1 71h0M176.6 48.3h0M174.8 73.1h0M177.1 61.5h0M173.3 66.7h0M173.2 64.3h0M171.8 52.6h0M175 50.9h0M173.6 82.2h0M175.4 68.7h0M173.9 59.9h0M175.4 74.4h0M175.5 107.2h0M175.6 62.3h0M176.5 51.7h0M175.5 72.6h0M174.1 77.9h0M176.6 68.4h0M172.3 70.1h0M172.8 59.9h0M172.4 83.2h0M175.6 88.4h0M175.3 32.4h0M172 78.5h0M174.5 94.7h0M172.4 82.6h0M177.1 59.4h0M174.4 68.5h0M177 92h0M172.9 75.9h0M174.2 75h0M176.7 85.3h0M175.7 47.9h0M175.4 49.3h0M173.8 53.6h0M174.6 56.7h0M174 55h0M174.1 71.1h0M177.1 60.6h0M173.5 80.2h0M174.7 68.8h0M173.8 93.8h0" stroke="#ea1119" stroke-opacity="0.5" stroke-width="2.5" stroke-linecap="round" fill="none"/>
<path d="M174.9 74.8h0M173.9 91.6h0M175 81.7h0M171.7 89.7h0M171.8 90.4h0M171.9 104.5h0M172.9 87.6h0M172.2 101.8h0M172.8 45.9h0M175.8 94.3h0M174.9 88h0M174 91.9h0M174.4 28.7h0M176.3 81.9h0M175.9 57.9h0M174.6 91.4h0M172.6 30.8h0M172.3 63.3h0M172.7 62.5h0M175.5 75.4h0M174.2 87.1h0M173.5 81.5h0M174.9 56.8h0M175.6 50.7h0M171.9 51.1h0M174.7 48.6h0M176.2 60h0M175.5 53h0M174.2 35.1h0M176.9 84.7h0M174.1 76h0M173.8 76.2h0M172.8 82.5h0M175.6 85.2h0M173 65.6h0M172.5 73.7h0M174.7 76.8h0M173.1 64.7h0M175.8 50.8h0M176.6 73.6h0M172.9 82.6h0M176.5 53.1h0M173.3 77h0M175.1 28.2h0M175.7 48.2h0M172.5 76.1h0" stroke="#ea1119" stroke-opacity="0.5" stroke-width="2.5" stroke-linecap="round" fill="none"/>
<path d="M174.2 76.3h0M173 83.8h0M176.6 60.9h0M176.3 58.4h0M172.2 69.5h0M173.4 51.4h0M175.2 85h0M173.3 69.1h0M171.8 90.1h0M176.1 86.1h0M176.3 63.1h0M176.2 75.9h0M174.3 77.7h0M175.3 85.6h0M172.4 28.3h0M173.5 59h0M175 92.9h0M177 84.1h0M175.6 80.6h0M173.9 54.9h0M175.6 107.5h0M176.5 74.5h0M173 83.6h0M175.7 63.2h0M174.9 78.3h0M176.8 73.5h0M174.5 63.1h0M175.3 72.9h0M176.7 77.2h0M175.8 72.3h0M172.5 60h0M176 43.4h0M173.2 82h0M173.2 71h0M176.2 93.8h0M171.8 107.4h0M176.9 78.6h0M173.9 83h0M173.4 98.2h0M175.2 76h0M176.1 68.5h0M173.3 78h0M174.6 99.5h0M174 66.1h0M174.8 75.9h0M173.7 88.9h0" stroke="#ea1119" stroke-opacity="0.5" stroke-width="2.5" stroke-linecap="round" fill="none"/>
<path d="M174.4 28V58.6M174.4 82.3V107.6" stroke="#ea1119" stroke-width="0.7" fill="none"/>
<rect x="171.2" y="58.6" width="6.4" height="23.7" fill="#fff" fill-opacity="0.5" stroke="#ea1119" stroke-width="0.7"/>
<path d="M171.2 72h6.4" stroke="#ea1119" stroke-width="1"/>
<path d="M183.7 128.3h0M182.2 75.4h0M182.7 94.4h0" stroke="#2347bd" stroke-opacity="0.6" stroke-width="2.5" stroke-linecap="round" fill="none"/>
<path d="M183.1 100.9h0M183.2 112.3h0M185.5 110.5h0" stroke="#2347bd" stroke-opacity="0.6" stroke-width="2.5" stroke-linecap="round" fill="none"/>
<path d="M180.4 104.4h0M185.4 101h0M184.8 100.1h0" stroke="#2347bd" stroke-opacity="0.6" stroke-width="2.5" stroke-linecap="round" fill="none"/>
<path d="M182.2 99.7h0M181.5 104.3h0" stroke="#2347bd" stroke-opacity="0.6" stroke-width="2.5" stroke-linecap="round" fill="none"/>
<path d="M183 74.5V90.3M183 107.6V128.8" stroke="#2347bd" stroke-width="0.7" fill="none"/>
<rect x="179.8" y="90.3" width="6.4" height="17.3" fill="#fff" fill-opacity="0.5" stroke="#2347bd" stroke-width="0.7"/>
<path d="M179.8 104h6.4" stroke="#2347bd" stroke-width="1"/>
<path d="M188.8 72.3h0M194.1 58.4h0M190.8 76.2h0M190.4 70.2h0M189.8 68.7h0M193.6 84.9h0M191.8 66.1h0M191.4 69.7h0M193.4 70.2h0M194.1 83h0M193.1 86.4h0M191.8 70.2h0M190.9 59h0M192.1 69.7h0M194 80.7h0M192.4 72.4h0M190.9 78h0M189.3 71.1h0M190.4 75.8h0M191.7 73h0M193.3 67.5h0M189.8 61.2h0M189 79.9h0M192.9 81.7h0M193.1 59h0M190.2 68.8h0M189 74.3h0M193.9 79h0M192.5 65h0M189.2 69h0M192.2 70.2h0M193.7 68.2h0M189.1 77.1h0M191.5 41.9h0M191.1 77.7h0M191.2 89.7h0M193.9 75.9h0M191.4 68.3h0M194.3 65.6h0" stroke="#ea1119" stroke-opacity="0.5" stroke-width="2.5" stroke-linecap="round" fill="none"/>
<path d="M189.4 93.5h0M190.3 74.3h0M193.8 80h0M189.4 66.6h0M191.9 65.2h0M190.8 74.2h0M188.9 64.1h0M192.2 76.9h0M194.1 68.8h0M190.8 62.7h0M189.7 69.2h0M194.2 75h0M193.6 97.6h0M193.4 66.2h0M194.1 64.2h0M192.8 77.5h0M192.7 68.7h0M191.8 68.7h0M190.8 84.9h0M191.8 79.8h0M191.7 78.3h0M189.9 75.8h0M191.1 69.3h0M191.3 59.1h0M192.5 81.6h0M192.9 61.8h0M194.2 45.5h0M189.1 73.4h0M193.1 63.1h0M190 72.3h0M193.7 69.4h0M192 87.1h0M190 60.6h0M193.3 78.9h0M192.1 65.4h0M190.6 80.2h0M191.7 68.5h0M191.5 61.8h0" stroke="#ea1119" stroke-opacity="0.5" stroke-width="2.5" stroke-linecap="round" fill="none"/>
<path d="M193.3 55.8h0M193.9 74.5h0M193.3 66.5h0M189.8 61.4h0M190.5 95.2h0M188.8 82.8h0M191.8 59.6h0M191.7 72.5h0M193.3 67.2h0M191.8 87.7h0M190 73.5h0M190.6 73.5h0M189.3 63h0M190.6 64.5h0M191.9 70.9h0M192.5 68.7h0M190.7 72.6h0M189.7 58.2h0M191.1 79.6h0M191 65.7h0M191.6 59h0M189.3 57.6h0M191.9 78.8h0M192.2 69.9h0M189.4 66.9h0M190.8 80.3h0M189.4 72.6h0M191 65.7h0M194.1 77.4h0M188.8 67.7h0M189.3 80.6h0M191 59.5h0M192.2 68.6h0M188.8 70.6h0M192.8 63.4h0M192.2 82.9h0M192 88.2h0M192.4 77h0" stroke="#ea1119" stroke-opacity="0.5" stroke-width="2.5" stroke-linecap="round" fill="none"/>
<path d="M194.1 74.7h0M191.2 61.1h0M192.5 78.3h0M190.2 71.4h0M190 77.5h0M188.8 70.3h0M188.9 79.2h0M190 75.1h0M193.9 71.5h0M191.1 65.3h0M191.3 76.9h0M188.8 66h0M191.6 73.9h0M192.1 76.8h0M190.6 34.5h0M192.5 58.2h0M190.1 70.6h0M190.3 71.9h0M194.1 80.1h0M191.8 74h0M190.7 64.8h0M190.3 92h0M189.4 76.6h0M191.1 72.7h0M191.8 65.6h0M190 73.6h0M190.2 76.3h0M191.2 78.5h0M190.5 62.9h0M190.3 81.5h0M190.3 61.2h0M189.2 67.3h0M189.1 76.3h0M190.4 76.2h0M192.5 64.9h0M191.3 73.1h0M192.4 68h0M192.1 98.4h0" stroke="#ea1119" stroke-opacity="0.5" stroke-width="2.5" stroke-linecap="round" fill="none"/>
<path d="M191.5 47.3V65.7M191.5 78V96.4" stroke="#ea1119" stroke-width="0.7" fill="none"/>
<rect x="188.3" y="65.7" width="6.4" height="12.3" fill="#fff" fill-opacity="0.5" stroke="#ea1119" stroke-width="0.7"/>
<path d="M188.3 71h6.4" stroke="#ea1119" stroke-width="1"/>
<path d="M202.5 77.6h0M201.4 89.4h0M197.8 60.7h0M197.4 84.9h0M202.7 70.8h0M198.8 57.1h0M198.7 49.9h0M200.7 76.7h0M202 86.9h0M199 78.3h0M198.8 77.7h0M198.8 64.3h0M202.3 74.2h0M200.3 73.8h0M200.9 61.4h0M202.8 83.3h0M202.3 88.3h0M201.3 96.1h0M197.5 85.5h0M202.2 94.3h0M200.3 62.8h0M200.5 88.9h0M198.7 82h0M199.9 77.7h0M198.7 57.1h0M198.7 76.2h0M201.8 81.7h0M198 58.6h0M202.5 74.9h0M202.8 57.2h0M198.9 56.6h0M201.6 63.3h0M197.6 70.4h0M202 57.5h0M199.8 84.6h0M200.2 71.5h0M201.9 57.4h0M200.9 82.3h0M201.7 79h0M201.7 63.7h0M201.6 92.9h0M202.6 58.2h0M202.6 75.2h0M202.3 86.5h0M200 63.4h0M199.1 73.3h0M199 82.8h0M201.7 83.8h0M199.2 88.4h0M199.5 60.3h0M200 64.4h0M198.8 66.5h0M199.3 83.2h0M200.6 77.8h0M199.8 78.8h0M197.5 57.1h0M197.8 65.8h0M198.9 68.8h0M200.3 75.2h0M201 65.7h0M198.7 81.2h0M199.8 71.6h0M201.5 121.9h0M199.9 55.9h0M198.6 75.1h0M201.3 95.6h0M200.8 61.1h0M201.2 79.5h0M199.5 58.8h0M200.3 86.3h0M198.8 81.4h0M199.6 67.4h0M199 74.7h0M200.4 57.7h0M197.4 65.2h0M198.9 43.8h0M202.5 70.7h0M202 55.5h0M202.8 70.3h0M202.8 54.9h0M199.2 66.5h0M198.6 63.1h0M202.5 94.4h0M202.3 81.9h0M200.5 66.7h0M198.3 72.8h0M198 52.9h0M199 129.5h0M197.9 67.2h0M200.2 90.8h0M202.5 78.7h0M200.6 76.9h0M197.5 105.5h0M202.5 45.4h0M201.8 50.2h0M200.4 78.4h0M198.4 59.8h0M200 69.2h0M201.2 63h0M199.4 58.8h0M202.2 72.3h0M199.8 57.9h0M200.4 61.1h0M201.4 87.5h0M199.3 71.9h0M202 77.4h0M200.5 69.7h0M201.8 59.1h0M202.1 65.2h0M200.1 70.9h0M200.1 53.5h0M198.7 60.4h0M201.8 82.3h0M201.8 61.4h0M198.9 89.9h0M201.4 70.1h0M201.1 106.4h0M202.4 72.1h0M199.6 68.9h0M202.4 53.1h0M200.8 67.7h0M201.5 62.5h0M197.8 76.7h0M198.4 142.3h0M199.4 62.8h0M198.6 74.5h0M198.7 41.2h0M198.5 32.3h0M202.2 68.9h0M200.6 67.8h0" stroke="#ea1119" stroke-opacity="0.5" stroke-width="2.5" stroke-linecap="round" fill="none"/>
<path d="M198.4 91.2h0M198 83.1h0M197.3 77.3h0M199.1 86.2h0M199.8 61.7h0M198.2 87.8h0M198.7 75.8h0M199.6 65.2h0M198.1 67h0M198.5 74.1h0M199.1 52.8h0M202.1 37.6h0M202.4 76h0M202.5 95.7h0M200.4 70.4h0M202.4 95.6h0M200.4 67.1h0M197.4 110.9h0M201.5 64.6h0M197.3 63.8h0M201.3 106.2h0M202.5 84.9h0M201 79.9h0M199.1 63.2h0M201.5 99h0M198.7 59.7h0M202.5 63.7h0M199.8 57h0M202.5 99.6h0M201.1 53.2h0M199.8 63.5h0M200.7 87.7h0M200.2 86.8h0M201.7 63.6h0M201.6 60.2h0M200.4 73.5h0M202.4 85.6h0M197.5 78.5h0M198 104.3h0M198.5 76h0M198.7 58.7h0M201.1 68.9h0M200.3 57h0M197.5 75.2h0M199.7 63.4h0M199.9 77.8h0M198.4 102.9h0M200.3 81.2h0M198.3 92h0M202.8 85h0M201.5 86.2h0M199.1 58.8h0M201.2 150h0M198.7 76.3h0M198.3 67.7h0M201.7 66.8h0M199.6 94.4h0M201.1 75.3h0M200.7 69.5h0M199.6 66.9h0M201.4 78h0M198.4 66.8h0M201.4 90.9h0M201.4 67.4h0M199.3 64.3h0M199.4 71.9h0M201.2 60.9h0M201.9 55.3h0M199.4 63.6h0M198.8 49.5h0M202.4 70.1h0M197.7 60.1h0M201.3 45.1h0M202.5 74.2h0M199.8 58.5h0M198.1 73.8h0M200 42.2h0M202.5 70.1h0M201 69.6h0M199.4 104.9h0M198.7 64.6h0M201.2 68.7h0M200.6 90.2h0M199.5 70.4h0M200.3 108.3h0M200.8 117.2h0M202.6 79.4h0M197.5 52.7h0M200.7 35.1h0M199 88.9h0M202.4 62.6h0M198.3 81.9h0M202.1 90.8h0M198.4 57.1h0M202.5 65.6h0M202 77.9h0M198.4 128.6h0M200.4 74.7h0M200.2 96.5h0M199 83.2h0M199.9 77.7h0M202.5 146.4h0M201.5 72.5h0M197.9 61.2h0M200.6 79.3h0M199.1 69.7h0M198.4 57.3h0M202.5 91.8h0M202.7 91.2h0M202.1 89.3h0M197.9 69.2h0M199.1 43.9h0M198.1 70.5h0M198.7 51.2h0M201.1 70.5h0M201.2 88.2h0M199.4 58.6h0M197.6 55h0M202 52.9h0M200.1 73.1h0M202 78.5h0M200.9 58h0M202.2 68h0M198.8 82.9h0M202.2 79.5h0M202.6 85.4h0M201.8 77.2h0M201.1 112.5h0M197.6 60.7h0M199.8 68.7h0" stroke="#ea1119" stroke-opacity="0.5" stroke-width="2.5" stroke-linecap="round" fill="none"/>
<path d="M200.6 81.3h0M202.6 97.2h0M201.9 64h0M202.3 60.9h0M198.2 84.6h0M202 84.4h0M197.5 80.3h0M197.9 82.2h0M198.3 82.9h0M202.5 70.4h0M198.7 91.9h0M199.9 86.7h0M202.4 130.5h0M197.5 82.4h0M197.9 85h0M199.7 100.4h0M199.8 80.2h0M197.4 89.2h0M199.5 62.3h0M200.8 68.3h0M198.1 62h0M197.8 78h0M197.5 82.6h0M202.7 55.1h0M202 68.8h0M199.6 77.2h0M201.9 45.8h0M201.1 83h0M200 120.3h0M199.3 70.5h0M201.1 61.8h0M198.2 63.7h0M200 112.9h0M202.2 134.7h0M197.8 75.2h0M197.9 81.4h0M202.7 52h0M199.2 84.4h0M202.2 71.4h0M199.5 63.9h0M202.2 67.2h0M200.3 64.8h0M200.8 89.6h0M199.8 91.3h0M198.5 76.2h0M198.5 64.2h0M201.5 132.5h0M200.6 75.8h0M200.2 70.9h0M198.2 53.8h0M201.1 60.6h0M198.8 73.3h0M198.8 85.6h0M198.6 61.8h0M198.3 56.4h0M202.5 80.1h0M202.5 67.7h0M199.5 65.6h0M198.1 64.1h0M201.7 44.5h0M202.7 77.1h0M200 78.7h0M200.3 64.7h0M201.3 85.9h0M199.4 50h0M200 76h0M199.4 84.1h0M202.3 60.6h0M198.5 81.1h0M201.6 67.5h0M198.5 65.5h0M199.8 80.6h0M201.1 77.1h0M199 81.9h0M200.4 99.4h0M197.4 38.2h0M200.5 72.9h0M197.5 77.9h0M201 66.2h0M202.5 88.6h0M199 48.7h0M201.4 71.8h0M201.7 73.8h0M201 67.4h0M200.3 71h0M201.8 79.8h0M200.3 80.1h0M201.4 72.8h0M198.4 73h0M201.5 42h0M202.3 65.5h0M198.9 51.9h0M200.6 58.1h0M202.6 80.6h0M200.4 106.6h0M199 54.3h0M202 40.9h0M200.7 70.3h0M199.2 72.4h0M200.5 68.1h0M198.1 84.6h0M202 79.3h0M199.2 73.4h0M201.2 54.4h0M200.2 54.7h0M197.4 70.4h0M199 86.3h0M199.2 94.5h0M202.3 62.1h0M201.4 82.9h0M201.8 51.2h0M200 91.3h0M198.7 63.4h0M199.5 63.9h0M197.8 49.8h0M200.4 55.8h0M198.4 70.8h0M200.5 65.4h0M199.4 87.2h0M200.4 107.5h0M198.5 61.2h0M197.6 62.4h0M198 75.6h0M197.8 70.8h0M199.5 72.4h0M200.7 70h0M201.8 89.3h0M202.1 44.6h0M200.8 63.9h0M200.6 127.3h0" stroke="#ea1119" stroke-opacity="0.5" stroke-width="2.5" stroke-linecap="round" fill="none"/>
<path d="M198.6 74.5h0M198.3 62h0M198.7 76.5h0M201.2 75h0M202.2 87h0M201.4 78.7h0M199.1 61.9h0M197.4 85.5h0M199.3 33.6h0M201.3 90.3h0M200.7 85.3h0M198.3 37.9h0M202.2 73.8h0M202 72.2h0M198 72h0M198.3 59.8h0M197.3 79h0M199.9 64.5h0M197.8 57.9h0M202.3 76.9h0M201.4 67.8h0M199.5 70.9h0M202.1 67.2h0M197.8 72.9h0M198.1 67.1h0M200.4 76.7h0M199.1 68.1h0M199.7 45.4h0M200.6 79.6h0M201.7 44.9h0M198.7 84.8h0M200.9 69h0M201.6 59.1h0M198.8 83.7h0M198.1 81.6h0M202.1 76h0M199.1 51.6h0M201.1 98.6h0M200.3 45.4h0M199.3 86.2h0M198.5 59.4h0M202.8 62.8h0M198.7 91.3h0M198.2 57.9h0M199.3 65.1h0M198.8 69.3h0M201.4 66.8h0M200.2 84h0M199.6 83.4h0M197.8 77.7h0M200.5 55.7h0M198.2 66.1h0M198.4 73.2h0M197.6 72.6h0M201.7 88.5h0M198.8 75.8h0M200.9 83.5h0M198.5 71.2h0M201.7 34.2h0M200.6 82.6h0M201.9 96h0M200.3 59.6h0M198.3 81.9h0M198.5 75.8h0M199 93.2h0M200.1 57.6h0M198.7 64.2h0M201.1 75.7h0M198.8 53.9h0M201.8 55.5h0M199.4 91h0M202.2 75.4h0M199.5 71.2h0M202.8 64.2h0M201.5 104h0M202.6 64.9h0M202.8 72.5h0M201.7 74.8h0M202 70.1h0M197.9 67.3h0M202.2 82.4h0M197.5 50.9h0M198.9 58.1h0M201.4 70.2h0M201.5 51.7h0M198.7 42.6h0M198.5 72.6h0M198.3 73h0M202.4 85.1h0M199.2 77.9h0M200.5 63.3h0M197.8 66.2h0M200.4 65.6h0M198.3 55.1h0M198.7 76.1h0M202.7 80h0M198.1 72h0M200 79.3h0M198.3 86.3h0M199 81.3h0M201.1 67.9h0M201.7 64.8h0M202.8 63.5h0M197.5 71.7h0M197.9 60.8h0M200.9 70.3h0M197.9 73.9h0M198.4 56.5h0M198.4 73.1h0M202 42.9h0M197.9 76.2h0M198.4 53h0M202.1 83.4h0M201.4 87.2h0M197.3 89h0M202.2 82.2h0M199.6 65.7h0M202.8 97h0M200.7 83.8h0M200.3 69.7h0M198.2 61.1h0M201.9 61.9h0M198 67.6h0M201.8 66.7h0M201.8 77.7h0M199.9 86h0M201.8 41.1h0M200.4 77.9h0M197.8 84.6h0M202.2 52h0" stroke="#ea1119" stroke-opacity="0.5" stroke-width="2.5" stroke-linecap="round" fill="none"/>
<path d="M200.1 37.1V63.8M200.1 81.6V108.3" stroke="#ea1119" stroke-width="0.7" fill="none"/>
<rect x="196.9" y="63.8" width="6.4" height="17.8" fill="#fff" fill-opacity="0.5" stroke="#ea1119" stroke-width="0.7"/>
<path d="M196.9 72h6.4" stroke="#ea1119" stroke-width="1"/>
<path d="M206.1 116.7h0M210.2 88.1h0M210.6 93.8h0M208.9 90.3h0M210.1 97.8h0M211.1 98h0M208.7 104.3h0M206.7 89.1h0M206 91.8h0M209.9 100.4h0M210.9 90.9h0" stroke="#2347bd" stroke-opacity="0.6" stroke-width="2.5" stroke-linecap="round" fill="none"/>
<path d="M209.2 84.6h0M209.4 71.1h0M209.2 77.7h0M210.8 92.4h0M207.3 79.8h0M206.8 102.3h0M208.2 75.7h0M206.3 98.2h0M206.5 101.6h0M207 79.2h0M211.4 96.6h0" stroke="#2347bd" stroke-opacity="0.6" stroke-width="2.5" stroke-linecap="round" fill="none"/>
<path d="M209.1 91.3h0M207.1 99.8h0M210.4 88.5h0M210.1 106.5h0M210.8 80.6h0M210.6 91h0M207.4 94.4h0M209.9 91.9h0M210.7 89.5h0M206.9 138.6h0M209.7 89.5h0" stroke="#2347bd" stroke-opacity="0.6" stroke-width="2.5" stroke-linecap="round" fill="none"/>
<path d="M208.5 103.3h0M207.1 105.2h0M207.7 83.6h0M209.8 94.9h0M205.9 90.4h0M206.8 75.3h0M210.1 98.7h0M209.1 75.6h0M206.6 99.9h0M209 75.8h0M206.5 80.5h0" stroke="#2347bd" stroke-opacity="0.6" stroke-width="2.5" stroke-linecap="round" fill="none"/>
<path d="M208.6 71V82.7M208.6 95.7V115.2" stroke="#2347bd" stroke-width="0.7" fill="none"/>
<rect x="205.4" y="82.7" width="6.4" height="13" fill="#fff" fill-opacity="0.5" stroke="#2347bd" stroke-width="0.7"/>
<path d="M205.4 89.8h6.4" stroke="#2347bd" stroke-width="1"/>
<path d="M217.1 66.8h0M217.1 72.3h0M215.9 82h0M217.7 67.8h0M217.4 66h0M217.8 76.5h0M219.6 84.1h0M218.6 60.9h0M217.5 87.6h0M216.6 71h0M216.9 85.9h0M219.3 79.9h0M218 71.8h0M216.5 72h0M218.1 89.5h0M215.2 63h0M218.3 67.2h0M214.8 76.8h0M219.9 76.2h0M215.7 60.2h0M218.5 107h0M219.3 61.2h0M219.9 65.2h0M217.6 118.4h0M219.3 74.7h0" stroke="#ea1119" stroke-opacity="0.5" stroke-width="2.5" stroke-linecap="round" fill="none"/>
<path d="M216.9 67.6h0M214.5 63.4h0M219.3 61.9h0M217.1 55.6h0M216.8 70.1h0M217.8 65.9h0M219.4 47.8h0M216.9 116.3h0M218.5 78.6h0M216.4 86.5h0M216.5 88.7h0M215.5 65.2h0M218.1 87.2h0M217.3 66.8h0M218 63.9h0M219.3 62.9h0M217.4 64.5h0M217.7 70.3h0M217.4 85.1h0M215.8 89.4h0M216.4 75.6h0M215 48.9h0M216.9 77.5h0M215.8 88.8h0" stroke="#ea1119" stroke-opacity="0.5" stroke-width="2.5" stroke-linecap="round" fill="none"/>
<path d="M214.6 86.3h0M216.9 74.3h0M219.5 59.6h0M214.7 70h0M217.6 97.8h0M215.5 95.9h0M217.8 62.8h0M218.3 52.8h0M217.7 67.6h0M218.1 69.7h0M216.1 64.5h0M218 57.9h0M216.7 85.2h0M217.9 64.9h0M216.4 67.9h0M217.1 85.5h0M219.9 80.8h0M215.7 70.8h0M216.1 71.4h0M215.2 70.6h0M215.1 78.4h0M219.2 59.4h0M216.8 88.6h0M219.3 74h0" stroke="#ea1119" stroke-opacity="0.5" stroke-width="2.5" stroke-linecap="round" fill="none"/>
<path d="M216.2 59.2h0M215.1 67.3h0M215.1 67.2h0M216.1 74.5h0M214.8 75h0M217.6 91.4h0M217.3 47.7h0M216.5 57.6h0M217.8 52.2h0M216.9 69.8h0M217.9 85h0M217.4 70.1h0M214.5 75.1h0M219.5 136.5h0M218.8 79.5h0M216.9 77.9h0M215.1 59.5h0M215.7 79.8h0M216.5 84.9h0M219.8 93.4h0M219.8 69.8h0M217.5 86.7h0M214.5 58.4h0M215.7 77.9h0" stroke="#ea1119" stroke-opacity="0.5" stroke-width="2.5" stroke-linecap="round" fill="none"/>
<path d="M217.2 47V66M217.2 82.7V107.8" stroke="#ea1119" stroke-width="0.7" fill="none"/>
<rect x="214" y="66" width="6.4" height="16.7" fill="#fff" fill-opacity="0.5" stroke="#ea1119" stroke-width="0.7"/>
<path d="M214 73.3h6.4" stroke="#ea1119" stroke-width="1"/>
<path d="M224.7 94h0M227.7 81.4h0M224.3 79.2h0M224.8 67.1h0M224.3 88h0M227 66.5h0M227.4 78.1h0M226.5 76.7h0M226.9 76.1h0M224.7 103.2h0M223.7 73.5h0M228.3 68h0M224.7 68.3h0M223.6 85.5h0M226.2 76.1h0M227 109.9h0M227.8 62.7h0M226.8 70.5h0M227.4 68.3h0M224.6 88.6h0M226.3 66.5h0M228.4 67.4h0M228.5 60.2h0M225.9 69.9h0M227.1 73.4h0M225.6 58.8h0M227.6 73h0M225.2 99.9h0M227.8 66.9h0M226.8 67.1h0M223.1 77.2h0M224.1 71.9h0M223.6 102.9h0M223.6 71.4h0M224.6 62.1h0M226.8 87.5h0M226.5 58.9h0M228.1 92.1h0M225.6 80.3h0M224.1 65.7h0M227.4 38.3h0M228 59.6h0M225.9 61.3h0M226.2 50.6h0M228.4 98.8h0M226.2 69.4h0M223.4 83.7h0M228.3 71.7h0M227.4 44.1h0M227.4 84.1h0M226.4 77.3h0M223.8 86.4h0M223.2 85.7h0M224.5 65.8h0M224.3 63.7h0M228.1 71.8h0M224.2 67.3h0M227.9 88.2h0M225.1 150.8h0M225 74.7h0M225.6 76.2h0M224.7 62.5h0M224.6 54.9h0M224.1 67.2h0M226.8 60h0M223.7 65.6h0M226.3 72.9h0M224.2 34.9h0M224.2 65.3h0M226.1 71.7h0M223.1 53.3h0M225.4 65.1h0M226.4 51.8h0M228.2 78.3h0M225.3 41.1h0M223.1 51.8h0M228.2 108.6h0M224.7 79.8h0M225.3 110.1h0M225.4 74h0M224.9 64.7h0M223.3 77.1h0M227.3 82.4h0M226.7 94.7h0M225.6 59h0M226.6 60.7h0M223.8 78h0M226.7 81.8h0M224.6 58.6h0M228.5 71.2h0M228 72.5h0M223.9 35.8h0M223.3 83.3h0M223.3 68.9h0M225.2 70.9h0M228.5 62.6h0M226.1 85.8h0M228.5 151h0M226.7 54.8h0M228.4 66.6h0M226.4 77h0M225.5 81.6h0M225.8 91.2h0M223.3 61.3h0M227.4 62.3h0M228.2 76.6h0" stroke="#ea1119" stroke-opacity="0.5" stroke-width="2.5" stroke-linecap="round" fill="none"/>
<path d="M227.4 72.6h0M227.7 85.2h0M223.8 65.6h0M223.3 43.7h0M225.8 79.1h0M226 77.2h0M223.6 51.4h0M224.2 75.4h0M224 69.4h0M224.9 61.1h0M226.9 87.5h0M225.6 55.3h0M224.7 94.7h0M226.8 63.6h0M223.1 61.2h0M225.1 83.6h0M223.5 57.2h0M224.1 65.3h0M228.2 76.1h0M224.5 85.9h0M224.5 72h0M226.6 75h0M225.6 60.7h0M224 73.9h0M223.9 60.4h0M227.9 88.5h0M227.2 78.4h0M223 95.5h0M224.1 55h0M226.6 71.8h0M227.4 73.4h0M225.7 77.4h0M224.1 87h0M227.8 69h0M223.3 82.5h0M224.4 79.9h0M225.5 64.1h0M224.3 102.6h0M223.2 66.7h0M227.6 57h0M224.7 104.6h0M225.8 76.3h0M225.7 75h0M224.7 60.3h0M226.3 68h0M225.8 73.3h0M227.4 49.5h0M225.1 59.9h0M227 67.8h0M226.3 65.1h0M227.7 79.2h0M223.9 69.2h0M226.6 68.7h0M226 73h0M223.5 43.7h0M226.9 30.7h0M225.5 88.2h0M224.1 72.7h0M227.8 89.1h0M226.5 69.2h0M223.5 69.2h0M226.9 60.4h0M223.5 52.4h0M225.6 65.2h0M225.4 69.4h0M224.7 65.6h0M224.2 59.7h0M225 67.7h0M227.6 87.6h0M224.3 72.8h0M225.9 150.5h0M226 109.3h0M224 87.4h0M227.9 86.2h0M223.2 83.6h0M228.3 71.4h0M223.8 86.5h0M224.8 98.5h0M223.3 88.3h0M223.3 79.3h0M224.8 78.9h0M223.8 76.4h0M224 55.6h0M224.2 31.4h0M227 72.4h0M226.4 87.7h0M225.5 83.1h0M225.4 124.7h0M226 67.8h0M227.2 79.6h0M228 63.9h0M223.5 70.9h0M225.6 76.9h0M227 69.4h0M227.1 50.7h0M224.2 74.9h0M225.2 65.5h0M227.5 71.8h0M223.6 72.6h0M224 33.8h0M226.3 96.1h0M227.3 84.7h0M226.2 92.6h0M227.5 76.5h0M224.1 67.7h0" stroke="#ea1119" stroke-opacity="0.5" stroke-width="2.5" stroke-linecap="round" fill="none"/>
<path d="M228.2 76.6h0M225.6 66.5h0M223.6 75.5h0M224.6 50.8h0M227.7 75.3h0M223.2 87.4h0M228.3 56h0M223.2 54.3h0M223.2 59h0M227.8 77.3h0M227 56.8h0M226.6 100.3h0M225.4 61.6h0M223.3 51.4h0M224.8 72.5h0M223.9 75.1h0M225.3 69.4h0M227.5 68.3h0M226.8 73.3h0M225.1 64.9h0M228 84.9h0M227.1 74.6h0M226.7 92.6h0M225 86.4h0M224.1 70.6h0M223.1 79.1h0M225 60.5h0M223.5 93.1h0M224.6 91.8h0M224.7 74.2h0M225.1 85.9h0M223.8 54.9h0M225.9 69.7h0M223.3 54.6h0M224.6 69.7h0M225.1 67.6h0M224.2 77h0M227.7 57.8h0M224.3 63.2h0M228.2 71.7h0M226.2 78.1h0M226.3 43.5h0M226.9 122.6h0M223.8 58.4h0M223.1 68.9h0M228.4 72.9h0M228.4 109.5h0M226.5 77h0M227.5 66.4h0M228.3 80.3h0M227.2 74.6h0M224.8 89.2h0M223.7 93.6h0M227 56.6h0M227.7 68.3h0M223.7 94.1h0M224.6 63.4h0M228.5 52.6h0M228.2 86.8h0M227.2 63.8h0M223.9 65.8h0M225.4 74.6h0M226.7 76.9h0M225.7 73.4h0M225.4 60.7h0M226.3 69.7h0M228.3 74.1h0M223.2 45.7h0M227 74.3h0M223.2 93.6h0M227.3 71.1h0M223.8 70.8h0M223.8 82.7h0M223.6 108.1h0M224.4 65.7h0M224.6 78.6h0M223.7 40.7h0M226.2 64.5h0M225.1 64h0M224.4 79.3h0M226.7 67.2h0M227.5 65.1h0M226.8 79.3h0M227.6 63.8h0M228.2 83.4h0M225 71.1h0M223.5 44.9h0M224.2 52.9h0M225.7 79.2h0M227.9 86.2h0M228.2 74.4h0M223.5 79.6h0M225 69.1h0M228.3 69.3h0M224.7 84.4h0M225.6 62.7h0M228.4 103.7h0M227.5 112.3h0M224.9 59.6h0M225.7 88.2h0M224.4 85.2h0M227 56h0M227.3 63.8h0M226.8 37.5h0M227.8 65.5h0" stroke="#ea1119" stroke-opacity="0.5" stroke-width="2.5" stroke-linecap="round" fill="none"/>
<path d="M228 34.4h0M223.3 69.4h0M223.8 50.3h0M227.7 39.3h0M223.1 79.5h0M227.9 88.5h0M226.2 81h0M226.9 66.9h0M226.2 82.7h0M226.1 84.3h0M226.1 90.8h0M223.3 63.6h0M225.8 88h0M224.4 66.4h0M227.5 62.9h0M227.1 65h0M226 56.9h0M226.4 64.3h0M226.7 63.9h0M227.5 57.2h0M225.9 64.6h0M224.9 101.2h0M225.2 44.9h0M225.3 78.3h0M226.6 66.1h0M225.4 61.9h0M225.8 57.5h0M224.3 82.6h0M226.1 64.9h0M224.9 55.8h0M224.6 68.9h0M224.8 64.3h0M224.8 66.4h0M225.3 62.1h0M225.4 79h0M228 69.4h0M227.3 90.3h0M225.1 68.7h0M224.3 89h0M224.8 67.2h0M224.1 54.6h0M227.4 86.1h0M225.6 58.4h0M224.2 71.9h0M224 67.6h0M228 66.6h0M227.1 84.5h0M226.8 68.1h0M224.9 87h0M224.8 71h0M226.8 74.7h0M226.6 54.9h0M224.1 68.4h0M228.2 90.3h0M226.3 89.1h0M225 65.9h0M227.7 68.8h0M228.3 56.4h0M227.1 64h0M224.9 78.6h0M227.4 97.1h0M226.9 68.1h0M224.4 60.6h0M227.9 58.6h0M226.3 68.4h0M228.2 62.9h0M227.4 99h0M227.2 86.6h0M227.3 66h0M226.3 78.6h0M223.8 81.4h0M224.1 65h0M224.2 70.2h0M226.2 81.6h0M226.6 78.8h0M224.9 75.2h0M225.6 58.4h0M228.2 80.8h0M227.7 77.7h0M224.3 80h0M227 41h0M227.8 57.9h0M223.4 73.5h0M227.6 94.4h0M227.9 85.5h0M226.8 81.8h0M223.5 75.3h0M228.2 94.3h0M224 68.2h0M224.7 102.6h0M224 67.2h0M226.9 74.2h0M227 86.5h0M224.6 55.1h0M227.7 66.1h0M223.8 75h0M227 63.4h0M225.1 73.6h0M228.1 53.6h0M225.2 77.6h0M227.8 74.9h0M228.4 74.6h0M224.3 83h0M227.1 67.8h0M226.5 70.9h0" stroke="#ea1119" stroke-opacity="0.5" stroke-width="2.5" stroke-linecap="round" fill="none"/>
<path d="M225.8 38.9V63.8M225.8 80.4V105.3" stroke="#ea1119" stroke-width="0.7" fill="none"/>
<rect x="222.6" y="63.8" width="6.4" height="16.6" fill="#fff" fill-opacity="0.5" stroke="#ea1119" stroke-width="0.7"/>
<path d="M222.6 71h6.4" stroke="#ea1119" stroke-width="1"/>
<path d="M233.5 124h0M233.3 100.5h0M235.8 112.3h0M231.8 99.7h0M236.2 115h0M236.4 62.1h0M235.4 104h0M232.4 110.2h0M233.2 109.1h0M235.5 112.6h0M236.5 111h0M235.9 115.1h0M236.6 112.4h0M235.5 113.9h0M232.4 109.3h0M233.9 91.8h0M234 114.9h0" stroke="#ea1119" stroke-opacity="0.5" stroke-width="2.5" stroke-linecap="round" fill="none"/>
<path d="M234.7 96.8h0M234.5 111.3h0M232.2 97.6h0M232.8 111.3h0M236.7 123.4h0M233 101h0M232.6 99.2h0M236.5 114.6h0M236.5 112.1h0M233.7 115.2h0M232.5 101.6h0M232.3 110.3h0M236.8 117.2h0M235.2 115.8h0M235.2 105h0M236.4 111h0M232.3 113.4h0" stroke="#ea1119" stroke-opacity="0.5" stroke-width="2.5" stroke-linecap="round" fill="none"/>
<path d="M236.9 117.6h0M234.4 113h0M232.3 98.8h0M232.7 118.3h0M236.5 111.2h0M236.7 119.3h0M236 119.8h0M232.2 103.9h0M236.1 139.2h0M234.7 129.5h0M235.4 107.8h0M234.1 119.3h0M234.5 107.6h0M232.2 106.9h0M232.8 93.1h0M236.3 91.9h0" stroke="#ea1119" stroke-opacity="0.5" stroke-width="2.5" stroke-linecap="round" fill="none"/>
<path d="M235.5 114.4h0M232.7 114.9h0M233.1 115.5h0M234.3 104.5h0M235 107.3h0M231.8 109.8h0M236.7 108.8h0M232.2 104h0M233.8 112.7h0M236.2 117.2h0M233.7 104.7h0M235.6 109.2h0M235.5 113.8h0M236.4 96.8h0M232 119.4h0M233.1 124.6h0" stroke="#ea1119" stroke-opacity="0.5" stroke-width="2.5" stroke-linecap="round" fill="none"/>
<path d="M234.3 81.5V102.8M234.3 117V138.3" stroke="#ea1119" stroke-width="0.7" fill="none"/>
<rect x="231.1" y="102.8" width="6.4" height="14.2" fill="#fff" fill-opacity="0.5" stroke="#ea1119" stroke-width="0.7"/>
<path d="M231.1 110h6.4" stroke="#ea1119" stroke-width="1"/>
<path d="M245.4 87.9h0M243 87.4h0M244.6 92.5h0M245.3 88h0M240.4 90.8h0M244.3 83h0M242.6 87.2h0" stroke="#2347bd" stroke-opacity="0.6" stroke-width="2.5" stroke-linecap="round" fill="none"/>
<path d="M240.3 95.6h0M245 78h0M240.5 99.1h0M241.4 91.9h0M243.1 94.9h0M243.9 87.8h0" stroke="#2347bd" stroke-opacity="0.6" stroke-width="2.5" stroke-linecap="round" fill="none"/>
<path d="M241.7 107.8h0M243.3 91.3h0M244 85.8h0M245.5 91.1h0M242.3 92.9h0M242.7 95.3h0" stroke="#2347bd" stroke-opacity="0.6" stroke-width="2.5" stroke-linecap="round" fill="none"/>
<path d="M243.6 95.3h0M240.3 83.7h0M241.3 107.1h0M240.5 85.7h0M244.5 88.6h0M244.2 87.3h0" stroke="#2347bd" stroke-opacity="0.6" stroke-width="2.5" stroke-linecap="round" fill="none"/>
<path d="M242.9 78V86.3M242.9 93.4V104.1" stroke="#2347bd" stroke-width="0.7" fill="none"/>
<rect x="239.7" y="86.3" width="6.4" height="7.1" fill="#fff" fill-opacity="0.5" stroke="#2347bd" stroke-width="0.7"/>
<path d="M239.7 89.4h6.4" stroke="#2347bd" stroke-width="1"/>
<path d="M253.8 134.9h0M250.6 96.8h0M251.9 91.4h0M251.8 70.8h0M250 91.2h0M250.5 73.3h0M253.6 80.8h0M252.9 85.1h0M248.8 89h0M250.7 93.6h0M252.2 77.3h0M252.5 90.8h0M251.5 93.5h0M251.1 90.9h0M251.9 69.5h0M249.7 73.7h0M251.9 94.4h0M250.7 124.1h0M253.4 109.7h0M253.9 68.3h0M250.9 101.7h0M249.1 98.6h0M251.2 119.9h0M252.9 85.5h0M250.7 71.3h0M250.9 106.3h0M249.7 83.6h0M249.4 111.1h0M253.7 82h0M253.4 125.1h0M253.2 73.1h0M254.1 91.8h0M252.1 90.9h0M250.5 71.4h0M252.7 90.1h0M253.7 88.6h0M249.2 85.2h0M253.9 77.6h0M253.5 76.2h0M248.9 64.3h0M251.4 86.8h0M249.7 101h0M253.6 90.9h0M251 97.5h0M249.6 100.1h0M252.6 84.7h0M250.1 71.3h0M252.1 117.4h0M254 84.1h0M251.3 82h0M251.5 103h0M254.1 98.4h0M252 83.7h0M250 80.2h0M251.3 96.8h0M250.5 76.2h0M251.8 96.2h0M252.3 97.4h0M252.8 59.4h0M250.5 83.3h0M253.9 73h0M250.6 76.4h0M250 97.3h0M251.5 105.9h0M250.2 81.7h0M252.1 74.5h0M249.9 87.2h0M249 122.6h0M252.5 73.7h0M253.2 88.8h0M253.8 82.1h0M253.2 81.6h0M250.3 108.2h0M253.9 75.5h0M250.8 83.5h0M252.5 68.2h0M252.5 69.8h0M253.5 104h0M253 70.5h0M249.3 103.6h0M253.9 81.2h0M253 124.9h0M251 93.9h0M252.8 105.6h0M253.7 81h0M252.1 69.3h0M250.1 83.5h0M250 81.8h0M249.5 80.6h0M249.3 60.1h0M250.2 88.5h0M251.4 88.7h0M249.1 74.3h0M249.2 89h0M251.4 101.8h0M252.7 89.7h0M251.9 80.2h0M248.7 83.8h0M252.4 79.1h0M250.2 66.6h0M253.7 100.1h0M251.1 82.2h0M253.1 82h0M251 81.8h0M250 100.2h0M249.6 89.8h0M253.6 85.1h0M252.2 111.9h0M250.2 88.5h0M248.7 81.6h0M252.4 81.7h0M249.5 82.6h0M252.3 97.5h0M251.5 97.4h0M252.8 84.9h0M251.6 74.4h0M250.8 122.6h0M254.1 80.3h0M249 89h0M252.3 75.5h0M250.6 76.9h0M251.2 73.4h0M252.2 86.5h0M251.7 87.3h0M253.8 66.4h0M251.1 57.1h0M250 80.1h0M251.2 89.5h0M250.4 82h0M249.3 121.1h0M249.9 83.4h0M251.2 86.6h0M252 98.5h0M254.2 92.4h0" stroke="#ea1119" stroke-opacity="0.5" stroke-width="2.5" stroke-linecap="round" fill="none"/>
<path d="M249 84.4h0M249.1 102.2h0M251 72.7h0M250.4 89.3h0M251.9 95.8h0M251.7 79.5h0M250.9 112.2h0M249.6 112.2h0M251.1 119.9h0M253.6 95.6h0M251.5 88.1h0M253.1 67.4h0M250.8 60.9h0M251.7 86.3h0M251.6 85.9h0M252.9 72.1h0M253.5 81h0M251.6 75.8h0M253.6 94.1h0M250.7 69.7h0M249.8 106.5h0M250.8 59.2h0M250.9 66.6h0M249.9 75.9h0M250 84.9h0M248.7 93.5h0M251.3 89.1h0M252.4 92.5h0M250.7 90.4h0M250.5 86.4h0M252.8 126.9h0M250.5 79h0M250 90.4h0M253.2 84.8h0M252.7 103.1h0M253.5 81.4h0M249.7 86.9h0M250.5 69.4h0M253.1 59.3h0M253.8 84.4h0M251.3 97.1h0M253.1 74.3h0M252.7 95.8h0M250.6 96.6h0M252.5 105.5h0M253.8 82h0M249.8 81.9h0M251.8 75.2h0M251.6 87.3h0M250.6 77.3h0M251.1 77.5h0M251.9 88.4h0M251.9 97.1h0M254.1 100.4h0M250.6 77.9h0M251.9 90.3h0M251.6 78.5h0M248.7 89.1h0M250.5 66h0M252.2 96.4h0M251.7 93.7h0M252 86.3h0M252.4 75.8h0M252.2 75.8h0M252.3 83.9h0M251.7 80.6h0M250.9 94h0M249.6 57.8h0M249.6 88h0M250.6 79.1h0M249.5 76.8h0M252.9 88.6h0M251.9 74.9h0M251.2 102.9h0M253.8 71.2h0M252.8 87h0M249.4 89h0M253.2 93.2h0M252.4 79.5h0M249.2 74.6h0M250.8 78.6h0M254.1 94.2h0M253.1 134.6h0M252.6 81h0M249 97h0M249.9 102h0M253.8 91.5h0M250.7 84.9h0M249.5 82.2h0M253.7 84.2h0M251 86.2h0M253.8 72.9h0M252.6 116.5h0M253.5 80.7h0M249.3 79.7h0M248.7 103h0M248.8 79.8h0M251.1 88.7h0M252.9 72.8h0M249.9 92.3h0M248.8 73h0M249.1 74.3h0M250 89.6h0M248.9 85.2h0M253.8 101.2h0M248.9 76.8h0M250.2 81.1h0M250.4 72.3h0M249.4 98.7h0M251.1 62.1h0M254.1 77h0M253.6 108.8h0M250.6 108.4h0M252.1 74h0M251.7 84h0M249.2 104h0M251.1 106.9h0M253.3 72.8h0M252.4 95.4h0M253.4 79.7h0M250.6 95.7h0M251.7 82.7h0M249.4 94.6h0M249.1 65.6h0M248.9 86h0M250.7 71.9h0M253.7 77.8h0M253.1 131.9h0M250.9 78.3h0M252.3 76.9h0M250.1 75.8h0M251.7 93.7h0M249.6 93.1h0" stroke="#ea1119" stroke-opacity="0.5" stroke-width="2.5" stroke-linecap="round" fill="none"/>
<path d="M249.5 66.5h0M253.3 90.3h0M251.7 83.5h0M253.2 74.4h0M253 94h0M252.5 92.2h0M251 105.5h0M249.7 77h0M249.4 82.1h0M252 76.1h0M248.7 80.4h0M254 89.6h0M251.1 84.3h0M252.9 96.2h0M249.2 100h0M252.4 93.6h0M253.3 81.8h0M251 80.5h0M254.2 84.4h0M250.1 84h0M254 85.1h0M253.2 92.7h0M249.5 71.1h0M252.4 97.7h0M252.8 76.3h0M250.5 110.2h0M252.9 110.3h0M252.5 66h0M251.5 101.9h0M250 88.4h0M249.7 75.1h0M253 70.5h0M248.7 97.5h0M253.4 106.2h0M253.2 71.4h0M250.5 100.9h0M253.5 86.1h0M249 79.6h0M251 95.7h0M250.2 77.2h0M251.4 83.6h0M250.5 68.7h0M252.7 80.1h0M251.6 58.1h0M251.3 79.7h0M251 74.8h0M250.4 109h0M252.7 88.2h0M252.1 92.7h0M250.4 75.5h0M251.7 97.9h0M254.1 77.4h0M251.2 86.8h0M249.1 88.2h0M250.4 73.2h0M251 100.3h0M249.3 78h0M251.5 91.4h0M249 70.1h0M252.6 121.8h0M248.9 72.8h0M249.6 91.9h0M253.9 74.5h0M252.9 82.7h0M250.4 113.3h0M254 97h0M253.6 72.1h0M250 136.3h0M253 96h0M253.2 85.7h0M250.8 97.9h0M251.6 69.8h0M248.9 80.7h0M251.2 73.7h0M249.9 98.3h0M250.4 96h0M253.2 91.3h0M251.5 75.1h0M250.1 93.7h0M252.4 90.5h0M250.7 83.6h0M248.7 101.1h0M249.8 96.2h0M252.5 86h0M253.2 77.2h0M253 92.9h0M251 85.4h0M249.9 62.9h0M251.5 71.8h0M252.2 80.5h0M253.7 79.1h0M250.9 88.8h0M249.3 90.2h0M253.6 90.8h0M251.5 77.2h0M254.1 77.9h0M252.6 82.9h0M248.8 95.2h0M250.5 136.4h0M251.7 83.2h0M249.9 87.1h0M250.8 75h0M252.2 108.2h0M251.6 86.4h0M249.6 101.8h0M248.9 91.7h0M250.6 84.5h0M251.3 56.8h0M252.3 91.3h0M253.3 94.4h0M249.8 91.9h0M251.9 136h0M252.6 107.6h0M253 87.9h0M252.1 76.2h0M252.1 69.7h0M252.1 90.3h0M252.5 99.1h0M249.9 73.1h0M249 94.8h0M250.1 80h0M249.3 133.8h0M250.5 99.9h0M254.1 117.6h0M252.8 57.8h0M252.1 79.9h0M252.2 78h0M252.8 88.4h0M249 78.6h0M250.5 87.4h0M249.9 83.1h0M250.4 79.4h0M252.4 102.8h0" stroke="#ea1119" stroke-opacity="0.5" stroke-width="2.5" stroke-linecap="round" fill="none"/>
<path d="M251.3 108.7h0M253 80.2h0M251.4 67.7h0M251.5 74.3h0M251.4 96.2h0M249.7 77.8h0M251.5 58.4h0M251.4 107.2h0M249.8 78.6h0M250.2 82.3h0M251.1 86.6h0M248.8 83.2h0M253.2 65.6h0M253.5 85.4h0M250.8 73.5h0M249.4 73.1h0M250.8 82.1h0M254 97.9h0M249.3 59.4h0M252 96h0M249.7 74.1h0M253.1 90.3h0M253.1 71.3h0M253.6 68.9h0M252.1 85.6h0M252.6 90.2h0M250.6 84.6h0M252 95.9h0M251.2 72.7h0M250.7 80.3h0M253.2 95.3h0M252.5 86h0M253.5 74.7h0M253.4 77h0M253.9 91.7h0M253.7 64.1h0M251.7 80.7h0M249.5 106h0M252.3 77h0M249.8 96.9h0M252.6 92h0M250.9 83.4h0M253 68.5h0M253.3 81.9h0M253.9 76h0M251.2 105.7h0M249.9 72h0M252.8 90.4h0M251.6 82.7h0M250.5 96.8h0M252.4 97.9h0M250.4 77.6h0M251.2 91.4h0M253.1 83.6h0M253.9 73.4h0M252.3 96.2h0M248.8 79.8h0M250.2 85.9h0M249.6 87.6h0M253.3 78.4h0M252.3 97.1h0M250.9 90.1h0M250.7 109.6h0M250.7 66.4h0M251.4 69.3h0M250.6 57.3h0M253.4 79.9h0M253 104.2h0M253.4 103.3h0M250.1 72.5h0M250.4 85.4h0M251.6 80.2h0M252.7 73.5h0M251.9 61.9h0M251.4 116.5h0M249.4 91h0M248.8 65h0M253.6 103.6h0M249.2 84.8h0M252.5 58.1h0M253.4 109.2h0M253.9 101.8h0M251.7 74h0M249.2 59h0M251.8 78.9h0M252.9 123.2h0M253.4 73.1h0M248.9 70.8h0M251.3 90.1h0M251.5 97.1h0M251 82.1h0M253.4 80.8h0M250.2 83.9h0M253 73.9h0M253.6 69.3h0M253.9 81h0M252.1 60.5h0M249 89h0M249.5 105h0M250.2 83.9h0M252.1 64.3h0M250.2 79.5h0M252.4 98.4h0M249.3 101.1h0M254 85.2h0M253.3 89.2h0M250.6 68.7h0M252.3 74.6h0M252.3 74.5h0M251.9 103.6h0M250.9 73.1h0M253.5 98.4h0M250.2 58.8h0M250 96.9h0M249.2 105h0M253 65.3h0M251.8 70.5h0M250.6 81.1h0M252.6 93.4h0M251.3 90.2h0M253.3 65.9h0M251.7 79.2h0M250.1 72h0M250.8 88.9h0M253.6 56.7h0M250.4 89.4h0M251.4 81.9h0M250.2 72.4h0M251 59.2h0M250.5 83.1h0M253.6 73.3h0M253.9 107.6h0M248.7 73.2h0" stroke="#ea1119" stroke-opacity="0.5" stroke-width="2.5" stroke-linecap="round" fill="none"/>
<path d="M251.4 56.7V76.8M251.4 94.6V121.3" stroke="#ea1119" stroke-width="0.7" fill="none"/>
<rect x="248.2" y="76.8" width="6.4" height="17.8" fill="#fff" fill-opacity="0.5" stroke="#ea1119" stroke-width="0.7"/>
<path d="M248.2 84h6.4" stroke="#ea1119" stroke-width="1"/>
<path d="M261.6 90.1h0M262.1 95.8h0M260.8 84.1h0M257.8 92.7h0M259.8 96.9h0M258.8 101h0M260.5 76.6h0M261.9 92.1h0M258.9 83h0M261.5 101.3h0M258 74.2h0M262.7 93.7h0M261.6 96.5h0M259.1 103.1h0M258.7 96.4h0M262.4 81.1h0M259.4 79.5h0M257.9 96.1h0" stroke="#2347bd" stroke-opacity="0.6" stroke-width="2.5" stroke-linecap="round" fill="none"/>
<path d="M261.9 75.2h0M258 97.4h0M262.1 86.6h0M259.8 73.9h0M259 76.6h0M259.9 80.7h0M259.5 93.5h0M262.2 95.2h0M258.1 87.3h0M262.3 102.2h0M261.5 90.1h0M261.4 88.4h0M262.4 81.5h0M260.2 91.8h0M261.5 96.3h0M262.1 85.8h0M260.9 74.2h0M261 98.1h0" stroke="#2347bd" stroke-opacity="0.6" stroke-width="2.5" stroke-linecap="round" fill="none"/>
<path d="M262.5 58.2h0M262.7 77.1h0M258.7 90.2h0M262.7 94.4h0M258.4 72.9h0M260.4 81h0M260 87.1h0M260.5 94.6h0M259 76.6h0M260.8 79.9h0M260.4 93.7h0M262.5 94.4h0M262.4 88.2h0M260.8 86.9h0M262.6 92.8h0M262.2 103.9h0M261.7 93.5h0M257.4 87.7h0" stroke="#2347bd" stroke-opacity="0.6" stroke-width="2.5" stroke-linecap="round" fill="none"/>
<path d="M262.2 92.1h0M262.7 87.2h0M259.6 94.9h0M261.1 105.5h0M259.6 94.7h0M259.5 93.9h0M259.9 97h0M261.4 105.5h0M258 92.4h0M258.4 78.4h0M258 80.7h0M262.7 82.1h0M258.1 103.2h0M258.1 83.4h0M259.9 87.7h0M258.3 72.7h0M261.8 86.4h0M259 94.5h0" stroke="#2347bd" stroke-opacity="0.6" stroke-width="2.5" stroke-linecap="round" fill="none"/>
<path d="M260 64.9V82.7M260 94.6V106" stroke="#2347bd" stroke-width="0.7" fill="none"/>
<rect x="256.8" y="82.7" width="6.4" height="11.9" fill="#fff" fill-opacity="0.5" stroke="#2347bd" stroke-width="0.7"/>
<path d="M256.8 89.8h6.4" stroke="#2347bd" stroke-width="1"/>
<path d="M270 76.6h0M269.1 101.1h0M267.2 112.2h0M267.1 92.5h0M270.3 83.4h0M268.4 93.2h0M270.8 84.9h0M269.5 99.3h0M271 79.1h0M269.4 99.5h0M268.8 78.6h0M266.7 99.1h0M267.6 88.6h0M266.8 88.9h0M269.2 106.8h0M266.7 114.2h0M271 102.1h0M271.1 105.9h0M267.4 97.4h0M269.3 52.5h0M266.2 91.1h0M270.1 91.3h0M266.2 71.3h0M269.2 88.7h0M271 122.5h0M270.5 102.6h0M270.9 65.2h0M266.4 73.9h0M268.1 98.8h0M269.6 102.3h0M266.2 86.4h0M268.7 88.1h0M269.5 85.9h0M270.5 81.5h0M267.7 97.8h0M265.9 113.3h0M267.9 107.6h0M268.4 119.2h0M266.4 138.1h0M269.5 85.2h0M266.4 101.4h0M269.6 96h0M269.4 96.3h0M266.2 89.5h0M270.8 51.2h0M271.3 113.6h0M270.9 97.8h0M269.9 140.4h0M268.7 92.4h0M271.2 96h0M266 78h0M266.4 107.8h0M267.9 85.7h0M266.2 78.3h0M266.8 95.2h0M271.1 94.3h0M270.6 75.4h0M265.9 88.9h0M267.6 77.2h0M269.7 92.6h0M270.1 106.7h0M266.2 92.5h0M267.2 88.1h0M269.5 74.9h0M269.1 97.6h0M266.8 98.2h0M267.5 99.4h0M267.3 86.4h0M267.5 90.9h0M269.9 88h0M271.2 118.3h0M267.1 93h0M269.3 101.8h0" stroke="#ea1119" stroke-opacity="0.5" stroke-width="2.5" stroke-linecap="round" fill="none"/>
<path d="M270.6 95.3h0M267.8 96.8h0M266.8 110.3h0M267.7 105.4h0M269.5 94.2h0M269.1 75.9h0M269 91.5h0M270.8 107.5h0M269.2 111.3h0M266.1 100.2h0M270.9 105.6h0M266.8 103.3h0M270.9 76.8h0M268.7 81h0M269.4 104.1h0M267.8 99h0M268.4 87.9h0M268.3 61h0M267.2 87.5h0M268.1 95.1h0M267.5 85h0M269.8 96.6h0M266 114h0M267.2 91.4h0M271.2 79.9h0M270.3 95h0M269.3 89.1h0M268.1 84.7h0M271.1 94.5h0M266 95.5h0M267.2 87.2h0M268.5 101.8h0M270.7 90.9h0M267.6 89.8h0M270.7 104.6h0M270.4 118.5h0M271.1 92.2h0M269.4 123.4h0M270.7 97.1h0M268.6 89.2h0M271 73.7h0M270.1 97h0M268.9 106.3h0M268.5 80.9h0M271 99.8h0M269 78.7h0M269.6 91.9h0M267.4 78.5h0M269.8 108.3h0M271.1 96.1h0M269.8 93.9h0M270.5 83.7h0M270.5 103.5h0M270.7 108.8h0M270.2 86.7h0M270.9 71.9h0M266 113.8h0M270.2 105h0M265.9 106.7h0M268.9 94.9h0M268 88.1h0M270 96.3h0M266.2 94.6h0M269 105.3h0M270.4 59.2h0M269.2 77.5h0M266.5 100.1h0M268.4 84h0M267.9 86.2h0M268.6 89.5h0M269.1 89.1h0M267.5 109.5h0M270.7 84.1h0" stroke="#ea1119" stroke-opacity="0.5" stroke-width="2.5" stroke-linecap="round" fill="none"/>
<path d="M267.9 108.8h0M268.8 101.6h0M267.1 109.9h0M266.8 96.4h0M268.9 99.2h0M271 81h0M270.3 112.1h0M267.4 91.1h0M270.9 84h0M268.4 90.4h0M268.3 104.1h0M271.2 81.6h0M266.5 97.2h0M269.1 80.7h0M269.9 84.2h0M267.4 78.1h0M269.6 78.7h0M268.4 108.3h0M268.8 92.2h0M266.9 83.8h0M268.4 100.4h0M266.6 102.3h0M267.3 107.2h0M268.9 110.4h0M270 81.1h0M269.1 82h0M265.9 102.9h0M270.4 68.2h0M268.2 72.1h0M269.2 54.4h0M268.2 90.3h0M266.8 96.4h0M270 84.4h0M267 100.5h0M266 107.1h0M270.7 109.5h0M269 83.9h0M269.6 109.1h0M267 85.7h0M269.5 84.5h0M270.5 87.3h0M268.7 82.9h0M270.5 76.9h0M270.2 94.6h0M270 91.8h0M267.3 75h0M270.9 84.2h0M266.5 88.5h0M268.7 112.4h0M269.2 98.3h0M267.9 83.6h0M268.7 96.9h0M266.6 84.3h0M267.5 42.3h0M268.7 77.6h0M270.2 97.8h0M267.7 77h0M269.6 96.5h0M270.6 83.7h0M267.6 119.3h0M268 96.1h0M268.2 63.6h0M267.1 102.2h0M269.3 78.6h0M269.6 124.8h0M271.1 82.3h0M271 105.7h0M266.3 86.2h0M267.1 101.3h0M267.8 92.5h0M270.5 82.2h0M268.1 111.7h0" stroke="#ea1119" stroke-opacity="0.5" stroke-width="2.5" stroke-linecap="round" fill="none"/>
<path d="M270.6 74.5h0M267.7 75.2h0M268.4 90.4h0M267.1 83.1h0M270.7 93.6h0M266.6 82.5h0M266.6 74.7h0M270 97.7h0M266.2 49.1h0M266 95.7h0M271 90h0M268.1 124.8h0M271.2 108h0M270.5 89.8h0M266 113.6h0M266.8 75.9h0M268.1 83.9h0M271.1 90h0M270.8 76.1h0M269.9 99.3h0M267.4 74.1h0M270.8 108.4h0M270.8 92.5h0M268.2 99.2h0M268.7 76.5h0M267 73.4h0M268.2 102.4h0M268.4 82.7h0M270.4 110.8h0M265.8 91.3h0M270.6 86.2h0M270.6 104.5h0M269.7 87.8h0M266.6 103.9h0M268.4 82.9h0M267.3 85.5h0M269 92.1h0M270.1 100.6h0M268.6 93.8h0M270 37.1h0M266.8 92.3h0M269.2 94.9h0M268.3 110.9h0M267.5 96.3h0M269.7 101.4h0M268.1 101.7h0M266.2 81.9h0M269.9 107.1h0M270.9 133.3h0M268.1 81.1h0M268.1 98.5h0M267.4 91.2h0M266 117.7h0M267.6 106.9h0M268.7 70.1h0M270.3 90.7h0M268.1 73.1h0M270.2 101.7h0M270.7 45.7h0M271.3 81.7h0M267.8 104h0M267.7 107h0M267.2 93.4h0M267.8 108.1h0M266.3 87.7h0M270.4 90.5h0M270 75.7h0M270.3 89.9h0M266.3 83.4h0M269.5 118.5h0M266.2 101.5h0M266.6 85.4h0" stroke="#ea1119" stroke-opacity="0.5" stroke-width="2.5" stroke-linecap="round" fill="none"/>
<path d="M268.6 63.4V86.3M268.6 101.6V124.5" stroke="#ea1119" stroke-width="0.7" fill="none"/>
<rect x="265.4" y="86.3" width="6.4" height="15.3" fill="#fff" fill-opacity="0.5" stroke="#ea1119" stroke-width="0.7"/>
<path d="M265.4 94.6h6.4" stroke="#ea1119" stroke-width="1"/>
<path d="M274.7 96.7h0M278.8 89h0M278.4 107.8h0M276.4 97.9h0M278.7 88.6h0M274.5 98.7h0M277.1 98.7h0M274.7 85.8h0" stroke="#2347bd" stroke-opacity="0.6" stroke-width="2.5" stroke-linecap="round" fill="none"/>
<path d="M276.4 85.8h0M277.1 99.1h0M276.5 93.4h0M277 95.9h0M276.6 95.5h0M278.9 91.9h0M279.4 97.1h0M277.2 89.2h0" stroke="#2347bd" stroke-opacity="0.6" stroke-width="2.5" stroke-linecap="round" fill="none"/>
<path d="M276.3 92.8h0M279.6 96.4h0M275.5 85.4h0M277.1 77.4h0M278.6 91.1h0M279.2 99.4h0M279.7 89.6h0M275.5 96.9h0" stroke="#2347bd" stroke-opacity="0.6" stroke-width="2.5" stroke-linecap="round" fill="none"/>
<path d="M277.6 98.9h0M275.2 89.9h0M276.2 88.9h0M278.7 94h0M277.6 97.1h0M277.9 103h0M277.6 99.5h0M276.9 99.1h0" stroke="#2347bd" stroke-opacity="0.6" stroke-width="2.5" stroke-linecap="round" fill="none"/>
<path d="M277.1 78.6V91M277.1 99.3V108.7" stroke="#2347bd" stroke-width="0.7" fill="none"/>
<rect x="273.9" y="91" width="6.4" height="8.3" fill="#fff" fill-opacity="0.5" stroke="#2347bd" stroke-width="0.7"/>
<path d="M273.9 95.7h6.4" stroke="#2347bd" stroke-width="1"/>
<path d="M284.2 63h0M287.8 40.5h0M284.1 46.1h0M286.6 53.9h0M288.4 59.4h0M284.3 59.9h0M284.8 62.9h0M283.7 56.2h0M286 47.3h0M287.5 55h0M288.3 82.8h0M285.9 60.2h0M285.2 50h0M285.9 43.7h0M285.4 40.7h0M284.5 37.8h0M286.6 63.4h0M288.4 53.8h0M286.3 64.6h0M283.4 48.8h0M284.9 61.1h0M287.8 64h0M284.2 41h0M283.7 37h0M283 50.1h0M284.1 58.1h0M284.7 36h0M285.7 54.3h0M286 28h0M287.2 61.5h0M285.3 48.8h0M285.9 73.9h0M287.4 50.8h0M283.1 43.6h0M286 43.3h0M284.3 63.5h0M285.8 44.9h0M285.5 55.4h0M287.6 41.8h0M284.4 28.4h0M287 56.5h0M288.2 58.8h0M285.9 42.5h0M285.3 52.5h0" stroke="#ea1119" stroke-opacity="0.5" stroke-width="2.5" stroke-linecap="round" fill="none"/>
<path d="M285.7 49.9h0M285.8 64.3h0M285.2 48.8h0M287.7 61h0M285 32.9h0M287.7 43.3h0M284.5 48.7h0M288.4 42.6h0M286.1 42.2h0M288.3 53.7h0M283.8 62.1h0M286.4 43.8h0M283.2 61.8h0M288.2 52.5h0M288.1 36.1h0M287.1 50.1h0M288.3 62.7h0M287.2 54.3h0M282.9 55.6h0M285.6 72.1h0M287.1 61.3h0M286.6 55.1h0M287.1 83.6h0M283.9 56h0M288.3 49.5h0M285.1 24.5h0M288.4 57.2h0M283 54.2h0M284 41h0M285.6 58.7h0M288.3 51.7h0M288 45.1h0M287.7 24.4h0M285.1 64.8h0M283.1 45.6h0M284.1 71.9h0M287.6 50.7h0M284 59.9h0M283.7 49.8h0M283.8 53.9h0M287.5 54.6h0M285.6 60.8h0M286.9 53.6h0M283.6 10.6h0" stroke="#ea1119" stroke-opacity="0.5" stroke-width="2.5" stroke-linecap="round" fill="none"/>
<path d="M285.4 51.5h0M287.8 61.9h0M285.4 52.8h0M285.1 57.8h0M284.8 59h0M287.7 58.6h0M284.6 74.6h0M284.6 66.5h0M283.6 54.3h0M285.7 83.8h0M287.4 54.5h0M288.1 51.4h0M286.1 61.2h0M286.7 48.2h0M288 57.5h0M288.4 45.1h0M284.6 50h0M287.2 54.1h0M285.5 77.2h0M287.7 46.2h0M284.2 57.7h0M287 50.9h0M284.1 68h0M287.8 62.5h0M287.8 55.5h0M285 49.4h0M288.2 57.8h0M288.4 37.6h0M287.6 48.2h0M283.5 54.7h0M285.3 42.4h0M286.5 43.3h0M285.8 30h0M286.6 51.6h0M284.4 47.1h0M284 51.6h0M284.8 47.1h0M286.3 59h0M285.2 53.8h0M284.5 64h0M283.6 45.4h0M285.8 58.9h0M286.2 53.6h0" stroke="#ea1119" stroke-opacity="0.5" stroke-width="2.5" stroke-linecap="round" fill="none"/>
<path d="M285.2 58.5h0M286.7 67.2h0M286.1 58h0M287.8 48.9h0M284.4 49.1h0M286.1 54h0M286 43.1h0M285.2 41.4h0M283.5 48.8h0M283.3 62h0M286.3 53.1h0M287.5 62.7h0M285.9 66.6h0M283.9 45.8h0M286.3 48.2h0M287.3 55.3h0M287.5 42.2h0M284.1 58.8h0M283.6 44.9h0M285.2 38.7h0M287.2 54.3h0M286.2 51.4h0M288 33.1h0M288 52.2h0M285.3 54.2h0M285.9 27h0M283.6 78.8h0M286.8 59.4h0M285.1 62h0M283.5 65.2h0M285.9 44.7h0M283.8 58h0M285.8 51.2h0M286.5 57.1h0M286.9 56.3h0M287.7 57.5h0M287.4 24.8h0M284.4 49.3h0M286.9 50.4h0M286.1 64.6h0M284 64.4h0M288.4 49.4h0M286.5 39.3h0" stroke="#ea1119" stroke-opacity="0.5" stroke-width="2.5" stroke-linecap="round" fill="none"/>
<path d="M285.7 25.8V46M285.7 59.5V79.8" stroke="#ea1119" stroke-width="0.7" fill="none"/>
<rect x="282.5" y="46" width="6.4" height="13.5" fill="#fff" fill-opacity="0.5" stroke="#ea1119" stroke-width="0.7"/>
<path d="M282.5 53.2h6.4" stroke="#ea1119" stroke-width="1"/>
<path d="M296.1 67.6h0M292.3 83.2h0M292.5 69.3h0M294.7 83.4h0M296.9 75.4h0M293.5 80.9h0M294.4 74h0M296.5 51.6h0M292 81h0M293.8 71.4h0M292.8 83.1h0M296.8 70.1h0M293.8 77.7h0M294 52.7h0M295.9 70h0M296.3 51.2h0M293.2 64.7h0M294.8 77h0M295.8 60.9h0M294.3 83.9h0M294.2 84.2h0M296.4 95.1h0M291.7 72.1h0M294.8 67.7h0M291.7 83.7h0M295.5 95.4h0M294.1 83.3h0M294 65.2h0M295.9 89.1h0M292.1 74.7h0M295.6 62.6h0M295.6 58.5h0M294.5 84.8h0M293.1 59.3h0M296.7 58.4h0M294.9 72.1h0M295.9 91.4h0M296.7 87.4h0M295.4 87.9h0M296.6 107.2h0M293.9 75.9h0M291.5 58.6h0M293.9 64.4h0M294.1 63.7h0M292.2 81h0M293.9 82h0M291.6 80h0M292.8 120.7h0M296.1 59.9h0M294 73.3h0M295.7 82.1h0M293.5 70.1h0M295.5 78.5h0M292.9 83.8h0M292.1 81.6h0M296.1 75.6h0M294.1 70.4h0M293.9 56.1h0M296.8 82.5h0M292.5 77.1h0M297 88.1h0M291.9 51.5h0M295.3 85.2h0M296.2 74h0M292.8 60.2h0M293 73h0M292.3 60.3h0M296.1 79.8h0M296.6 89h0M293.6 77.4h0M295.6 76.9h0M293.8 66.6h0M293.3 83.5h0M295.8 75.2h0M292.1 61.8h0M296.8 91.1h0M292.3 82.3h0M296.9 75.5h0M296.8 60.3h0M294.5 69.8h0M295.7 82.4h0M295.7 56.5h0M293.4 64h0M293.7 78h0M292.6 97.1h0M295.2 60.1h0M296.9 83.9h0M295.7 77h0M291.6 54.3h0M294.9 80.4h0M292.1 64.8h0M295.3 77.6h0M292.5 51h0M293.5 63.2h0M294.5 69.5h0M296.3 79.8h0M295.3 58.9h0M296.4 82.8h0M294.6 86.6h0M295.7 81.5h0M294.1 83.5h0M296.9 69h0M293.4 86.9h0M295.7 93.6h0M293.4 56.2h0M293.3 118.8h0M294.9 86.1h0M292.4 83.1h0M292.2 56.9h0M292.3 66.5h0M296.8 77.7h0M294 73h0M296.4 94.1h0M296.9 66.8h0M293.8 89.5h0M295.2 76.8h0M295.5 64h0M291.8 81.5h0M295.1 82h0M295.4 90.5h0M295.5 82.1h0M296.2 83.8h0M294.9 91.2h0M291.9 62.5h0M296.6 89.4h0M294.4 61.6h0M295.4 60.9h0M293.3 77.7h0M292 77.8h0" stroke="#ea1119" stroke-opacity="0.5" stroke-width="2.5" stroke-linecap="round" fill="none"/>
<path d="M296.2 72.3h0M296.7 51.7h0M296.3 91.9h0M291.6 106.9h0M293.5 79.4h0M293.9 78h0M295.1 74.9h0M296.6 85.6h0M294 79.6h0M295.4 82.2h0M295.5 86.7h0M296.9 89.9h0M295.2 51.1h0M296.1 109h0M293.4 71.4h0M295.2 76.4h0M295.1 76.6h0M292.5 62.5h0M292.1 78.8h0M291.8 51.4h0M297 73.9h0M296.4 75.9h0M293.8 107h0M291.7 85h0M294.8 79.5h0M294.3 82.6h0M295 87h0M292.4 57.2h0M292.6 78h0M296.5 74.9h0M296.8 78.3h0M293.9 68.6h0M294.1 69.8h0M292.6 77.5h0M295.3 63.6h0M293.7 63.6h0M296.1 84.3h0M291.6 100.6h0M296.6 53.1h0M293.5 85.8h0M294.7 59.9h0M295.4 71.9h0M293.6 68.4h0M295.2 73.3h0M296.2 79.8h0M294.6 87.5h0M294.9 65.4h0M295.1 82.4h0M293.1 78.9h0M294.3 85.7h0M292.9 62.4h0M292.4 94.8h0M296.7 86.9h0M291.8 77.1h0M292.9 77.4h0M296 76.5h0M292.4 68.4h0M292.4 87.9h0M296.7 82.4h0M291.5 71.2h0M295.8 79.2h0M295.7 76.7h0M296.6 56h0M292 63.3h0M296.5 74.3h0M292.2 72.8h0M293.5 71.7h0M295.4 87.6h0M293.1 77.4h0M292.6 61.6h0M296.7 60.3h0M291.7 79h0M295.4 67.7h0M295.7 81.9h0M294.7 78.8h0M294.1 63.8h0M296.8 77.9h0M294.6 60.8h0M295.5 68.4h0M295.6 61.4h0M295.1 78.5h0M294.6 70h0M296.9 64.3h0M295.3 86.4h0M295.4 62.6h0M292.6 72.8h0M296.4 118.8h0M291.7 64h0M294.1 83.7h0M292.6 69.1h0M292.1 78.4h0M294.3 75.4h0M292.6 58.3h0M292.8 83.4h0M291.9 88.3h0M292.7 74.4h0M292.8 81.7h0M294 78.9h0M296.4 63.5h0M294.7 82.9h0M295.8 79h0M295.1 74.8h0M294.5 84.7h0M296.1 57.1h0M291.5 70.4h0M295 83.1h0M295.1 86.6h0M294.9 72.8h0M295 77.6h0M293.1 54.2h0M292.6 77.4h0M293.8 64.9h0M292.7 76.3h0M295.7 76.9h0M295.6 66.3h0M294.3 89.9h0M293.2 66.5h0M293.9 86h0M294.5 82.8h0M295.2 91.9h0M294.8 72.3h0M296.5 91.4h0M295 82h0M295 97.9h0M295.1 68.7h0M291.6 81.8h0M292.3 89.9h0M291.7 51.5h0M295.7 55h0" stroke="#ea1119" stroke-opacity="0.5" stroke-width="2.5" stroke-linecap="round" fill="none"/>
<path d="M295.3 67.4h0M296.1 56.4h0M292.2 79.5h0M294.8 67.2h0M295.3 86.3h0M293.7 78.7h0M295.7 87.1h0M296 88.8h0M296.2 83.5h0M292 79.7h0M296.3 77.4h0M293.4 60.8h0M297 76.1h0M291.7 82.4h0M296.9 54.1h0M294.2 112.3h0M295.3 92.3h0M296.2 70.6h0M295.8 71.1h0M296.4 51.1h0M296.3 54.3h0M294 94.3h0M292.6 87.8h0M296.9 80.3h0M292 78.5h0M292.5 62.1h0M296.5 106.7h0M296.3 77.7h0M295.6 85.4h0M295.6 81.3h0M295.8 51.7h0M292.9 68.1h0M293.7 80.8h0M295.6 67.1h0M294.9 78.6h0M293.1 93.7h0M292.4 88h0M295.9 71.6h0M291.6 83.6h0M293.7 75.1h0M296.8 74.2h0M296 66h0M294.5 84.4h0M294.1 78.9h0M295.7 79.3h0M295.2 72.1h0M294.7 79.5h0M296.4 80.2h0M296.1 79.2h0M293 77.5h0M292.7 73.1h0M293 80h0M296.7 59.8h0M293.5 86.2h0M296.5 101.4h0M292.9 79.2h0M292.2 72.2h0M295.2 68.3h0M293.1 82.7h0M294 84.7h0M293.5 71.4h0M296.3 84.5h0M293.2 71.5h0M292.4 85.6h0M294.6 83.4h0M294.8 86.8h0M296.7 75.3h0M296.1 55.2h0M294.6 57.1h0M295.7 76.9h0M292.2 90.3h0M296.5 66h0M296.5 63.4h0M296.2 89.9h0M294.6 74.7h0M296 85.7h0M292.1 86.4h0M294.9 75.8h0M296.9 71h0M296.1 86.9h0M291.8 88.5h0M293.5 66.9h0M293.5 85.9h0M293.2 83.8h0M295.5 82.4h0M291.7 84.5h0M294.4 74.7h0M292.5 73.2h0M292.4 83.2h0M296.1 66.3h0M293.6 62.8h0M291.8 79.1h0M292.6 89h0M295.7 87.2h0M294 79.1h0M294.1 82.3h0M293.1 78.6h0M296.9 85.6h0M291.8 76.9h0M294.1 72.1h0M292.5 69.5h0M293.1 69.1h0M293 78.2h0M295.8 76.2h0M295.2 81.7h0M296.8 72.2h0M292.6 78.5h0M295.1 81.7h0M296.7 74.5h0M296.4 77.9h0M292.7 81h0M292.8 83h0M293.6 96h0M295.4 75.2h0M293.3 77.1h0M293.2 74.3h0M292.5 59.3h0M292.3 84.6h0M291.5 71.7h0M296.5 78.5h0M292.1 59.1h0M295.6 58.6h0M292.4 79.8h0M291.8 70h0M295.8 66.6h0M291.6 88.6h0M294.9 91.5h0M294.1 75.8h0M292.2 75.6h0" stroke="#ea1119" stroke-opacity="0.5" stroke-width="2.5" stroke-linecap="round" fill="none"/>
<path d="M294.7 83.5h0M292.4 106.4h0M295.7 74.2h0M294.4 69.7h0M292.2 61h0M291.9 71.5h0M296.4 90.1h0M296.1 80.7h0M291.8 80.8h0M291.9 51.3h0M297 86.9h0M296.8 56.1h0M296.4 71.7h0M296.9 64.6h0M291.7 51h0M295.9 55.5h0M296.9 64.5h0M294.6 77.8h0M291.6 95h0M294.1 80.6h0M294.7 85.8h0M294.1 69.4h0M292.7 81.4h0M292.5 79.7h0M294.2 77.8h0M294 67h0M295.5 51.6h0M294 73.6h0M293.6 97.6h0M292.5 51.3h0M295.2 74.8h0M292.4 69.5h0M293.1 65.6h0M292.1 77.9h0M296.6 60.3h0M295 62.9h0M295.5 74h0M295.3 79.2h0M296.5 108.6h0M293.8 72.2h0M296.9 67.8h0M294 67.7h0M292.8 78.8h0M291.9 70.7h0M292.5 51.2h0M293.8 79.9h0M293.1 82.1h0M295.6 89.2h0M292.5 74.2h0M296.7 62.7h0M291.9 89.2h0M293.9 59.7h0M293.4 84.6h0M293.6 84.4h0M293.7 108.5h0M293.2 63.1h0M293.7 80.5h0M296.9 83.5h0M296.8 58.5h0M296.5 77.6h0M296.9 71.1h0M296.1 88.3h0M292 93.1h0M292.6 89.4h0M293.5 54.2h0M293.1 76.3h0M293.4 87.5h0M293.8 72.6h0M292.3 83.7h0M294.2 56.2h0M296.9 73.8h0M296.1 89.9h0M294.7 84.4h0M293 71.1h0M296.1 67.6h0M294.1 82.9h0M296.4 86.8h0M292.3 76.3h0M292.2 86.7h0M292.2 74.3h0M292.5 86.8h0M293.6 86.2h0M294.5 74.7h0M292.7 77.4h0M297 80.8h0M291.6 93.1h0M292.9 85.7h0M293.4 55.6h0M291.7 79.2h0M296.6 65.9h0M295.7 67.3h0M294.3 83.5h0M296.3 70.8h0M293.5 70.2h0M293 61.9h0M294.5 70h0M291.7 71.8h0M294 71.8h0M295.3 68.8h0M293 77.8h0M295.9 82.4h0M296.7 75.6h0M292.1 73.3h0M296.9 84.6h0M295.1 90.9h0M292.1 80.5h0M293.7 85.1h0M293.9 77.2h0M296 75.7h0M292.3 67.6h0M295.1 69h0M293.6 78.6h0M293.3 68.7h0M293.4 76.6h0M295.5 81.3h0M291.6 82.1h0M292.7 108.2h0M296.5 86.8h0M291.5 77.3h0M295 74.7h0M296.2 78.1h0M293.4 86.4h0M296.3 79.2h0M296.8 88.9h0M294.4 78.7h0M291.7 93.6h0M296.7 64h0M296.5 83.9h0M292.8 74.5h0" stroke="#ea1119" stroke-opacity="0.5" stroke-width="2.5" stroke-linecap="round" fill="none"/>
<path d="M294.2 50.8V68.6M294.2 82.7V103.9" stroke="#ea1119" stroke-width="0.7" fill="none"/>
<rect x="291" y="68.6" width="6.4" height="14.1" fill="#fff" fill-opacity="0.5" stroke="#ea1119" stroke-width="0.7"/>
<path d="M291 76.8h6.4" stroke="#ea1119" stroke-width="1"/>
<path d="M301 125h0M302.8 153h0M301.3 115.5h0M304.4 115.2h0M302.8 130.7h0M300.1 137.8h0M303.3 118.1h0M300 117.7h0M303.4 105.3h0M301.2 130.4h0M305.4 127.2h0M302.8 112.1h0M301 117.4h0M304.3 128.1h0M303.5 103.7h0M304 129.8h0M300.1 109.3h0M300.8 116.3h0M302.3 130.1h0M300.4 152h0M303.4 147.4h0M303.9 101.3h0M301.7 93.6h0M302.6 118.8h0M303 131.4h0M304.8 146.1h0M301.4 119h0M302.7 99.3h0M305.4 117.8h0M303.7 121.6h0M300.2 137.6h0M302.1 122h0M303.3 115.4h0M303.1 119.9h0M301.8 117.2h0M303.9 131.9h0M300.4 118h0M303.4 113.3h0M303.2 138.9h0M301.9 114.4h0M301.3 128.6h0M301.1 143.4h0M301 118.9h0M304.7 106.6h0M301.4 121.5h0M304.8 131.3h0M300.2 134.1h0M305.4 112h0M304.2 104.2h0M303.7 114.5h0M305.2 127.6h0M302.4 111.6h0M303.1 113.4h0M301.9 151.7h0M303.7 147.9h0M302.3 143.8h0M301.5 134.2h0M303.8 124.7h0M300.5 95.4h0M304.9 104.1h0M304 114.6h0M302.1 120.5h0M302.9 114.7h0M302.6 109.8h0M302.4 104.7h0M304.2 126.1h0M301.1 103.6h0M302.8 132.9h0M304.2 138h0M302.1 126.1h0M303.7 115.5h0M303.6 127.7h0M305.1 129.6h0M304.9 110.8h0M302.8 106.2h0M304.7 153.1h0M304.9 139.2h0M301.7 63.3h0M302.3 103.9h0M303.4 93.4h0M304.3 116.7h0M305 69.7h0M305.3 129.6h0M300.6 76.5h0M302.9 135.3h0M302.5 152.9h0M302.3 135h0M303.5 111.1h0M300.2 111.2h0M304.3 119.4h0M305.4 138.1h0M300.4 152.4h0M300.4 125h0M302.7 37.5h0" stroke="#ea1119" stroke-opacity="0.5" stroke-width="2.5" stroke-linecap="round" fill="none"/>
<path d="M303.2 111.8h0M301.1 149.5h0M305 95.7h0M301.4 89.8h0M304.1 119.9h0M304.4 120.1h0M302.4 136.8h0M301.3 132.8h0M300.9 125.5h0M305.5 92.9h0M305.1 104.3h0M304.5 100.8h0M304.8 126.5h0M301.8 114.3h0M303.8 122.4h0M303.3 133.5h0M302.7 106.2h0M305.4 135h0M304.4 125.6h0M300.8 112.2h0M305.3 101.8h0M304.4 113.7h0M303.5 116.8h0M301.9 100.3h0M304.4 130h0M300.6 111.7h0M300.1 140.2h0M303.5 125.8h0M305.2 107.4h0M302.3 116.3h0M302.3 116.5h0M300.3 133.2h0M305.2 118.2h0M303.1 123.6h0M302.6 114.1h0M301.9 117h0M302.9 123.9h0M304.7 116.2h0M300.6 117.2h0M305.4 116.8h0M303.3 137.6h0M305.1 152.4h0M303.1 137.1h0M300.7 121.3h0M300.7 122.5h0M300.8 114.4h0M304.3 118.2h0M305.1 102.9h0M300.1 105.5h0M300.7 153.1h0M302.4 117.1h0M303.7 101.7h0M304.5 105.4h0M302.6 106.9h0M304.1 135.8h0M300.7 107.8h0M300.3 129.9h0M300.7 149.3h0M303.3 123.3h0M302.2 124.8h0M303.1 124.4h0M301.8 120.6h0M302.8 114.9h0M301 112.8h0M303.6 108.7h0M300.8 111.6h0M301 122.7h0M302.7 151.5h0M300.5 118.2h0M302.7 123.6h0M300 129h0M304.6 107.9h0M303 110.4h0M305 124.2h0M300.9 128.6h0M305.3 116.3h0M305.1 127.9h0M301.1 113.9h0M304.8 104.5h0M300.6 125.4h0M303.2 125.5h0M302.3 149.8h0M300.5 118.2h0M300.7 141.4h0M305.5 117h0M301 111.3h0M303.8 115.8h0M305 109.8h0M302.8 94.9h0M302.4 127.8h0M302.1 115.3h0M305.4 121.2h0M302.1 93.4h0" stroke="#ea1119" stroke-opacity="0.5" stroke-width="2.5" stroke-linecap="round" fill="none"/>
<path d="M301.4 127h0M303.8 150h0M303 131.7h0M301.3 124.8h0M300.7 108.3h0M305.1 124.8h0M301.8 152.5h0M302.7 114.8h0M302.1 111.3h0M300 127.6h0M305.5 103.8h0M301 112.8h0M304.3 111.3h0M304.5 101.7h0M301.3 110.7h0M303 130h0M304.6 127.1h0M301.6 107.8h0M303.2 104.7h0M305 134.7h0M303.5 111.4h0M301.6 121.1h0M301.2 103.6h0M303.6 139.7h0M301.3 117.8h0M300.1 64.2h0M300.9 138h0M302.8 134.9h0M302.5 139.2h0M300.7 142.2h0M301.8 129h0M302.2 118.5h0M303.7 108.3h0M303.2 130.4h0M303 105.7h0M305.4 108.2h0M301.7 120.9h0M304 104.4h0M303.3 118.7h0M300.4 120.1h0M301.3 137.7h0M305.1 114.2h0M301.2 125.6h0M300.8 120h0M301 126.1h0M300.4 124.9h0M304.2 97.7h0M303.2 118.2h0M305.3 115.6h0M304.5 132.9h0M302.1 125.2h0M304.2 121.8h0M305.4 147.9h0M300.9 140.2h0M302.3 126.6h0M303.5 122.2h0M302.8 104h0M300.8 113.1h0M300.2 111.1h0M301.8 130.2h0M304 67.5h0M300.1 108.2h0M304 121.9h0M302.3 112h0M302.7 106.9h0M304.6 114.8h0M303.1 135.3h0M304.4 126.6h0M302.9 140.9h0M301.9 108.3h0M302.4 115.3h0M304.3 108.2h0M300.1 94.5h0M302.4 131.9h0M301.7 135.8h0M304.6 132.3h0M302.4 78.6h0M304.5 111.6h0M303.3 139h0M302.8 153.6h0M302.5 119.7h0M303.9 126.2h0M303.6 112.9h0M302.2 131.3h0M304.2 117.1h0M300.3 116.3h0M301.7 110.6h0M302.5 114.2h0M304.8 114.9h0M300.5 128.1h0M300.8 117.6h0M303.5 127.1h0M300 105.6h0" stroke="#ea1119" stroke-opacity="0.5" stroke-width="2.5" stroke-linecap="round" fill="none"/>
<path d="M300.6 107.4h0M302.8 112h0M304.4 132.7h0M301.6 120.6h0M301.5 121.9h0M303.3 116.8h0M302.1 128.1h0M301.9 137.1h0M305.1 118.1h0M305.4 111h0M305.4 110.8h0M304.5 125.2h0M303.8 126.3h0M305.1 138.2h0M302.2 117.1h0M300.8 136.9h0M305.5 110.8h0M305.4 117.6h0M303.6 95h0M300.3 115h0M303.2 130.9h0M300.7 135.3h0M302 98.4h0M305.2 104.1h0M304.9 153.6h0M302.3 123.7h0M304.5 125.4h0M300.6 124.6h0M305.3 116.5h0M305.5 153.3h0M304 107.3h0M300.2 96.5h0M305.3 129h0M300.2 135.6h0M305 109.3h0M303.4 111h0M302.2 126.6h0M305.2 117.2h0M304.9 100.7h0M303.4 118.2h0M302.9 118.7h0M302.9 134.9h0M305.1 97.7h0M303.6 107.6h0M300.2 108.8h0M301.6 126.3h0M303 107.2h0M300.9 127.8h0M304.4 127.9h0M304.4 133.5h0M304.8 105.3h0M301.2 113.8h0M301.4 121.1h0M300 147.6h0M300.8 101.2h0M300.4 92.7h0M305.1 132.9h0M303.7 135.4h0M300.6 117.4h0M300.3 131.4h0M300.6 114.9h0M302.4 119.1h0M302.5 133.3h0M301.3 114.5h0M301.3 127.5h0M304.9 132.4h0M300.2 146.6h0M301.1 135.1h0M302.3 122h0M303.9 124.5h0M301.7 146.1h0M305 113.8h0M303.9 103.5h0M300.7 127.6h0M301 103.4h0M303.3 114.2h0M302.1 102.4h0M301.8 107.9h0M300.2 129.5h0M301.4 97.8h0M304.2 140.6h0M300.9 120.9h0M302.2 98.3h0M300.9 117.4h0M304.9 74.6h0M303.1 124.8h0M301.6 138.2h0M304.3 136.2h0M300.2 116.3h0M303.5 94.7h0M302.9 103.6h0M302.7 113.9h0M300.8 32.5h0" stroke="#ea1119" stroke-opacity="0.5" stroke-width="2.5" stroke-linecap="round" fill="none"/>
<path d="M302.8 85.9V111M302.8 127.7V152.8" stroke="#ea1119" stroke-width="0.7" fill="none"/>
<rect x="299.6" y="111" width="6.4" height="16.7" fill="#fff" fill-opacity="0.5" stroke="#ea1119" stroke-width="0.7"/>
<path d="M299.6 118.2h6.4" stroke="#ea1119" stroke-width="1"/>
<path d="M311.7 120.7h0M313.3 119.5h0M312.3 131.7h0M313.6 136.1h0M314 118.6h0M309.7 130.1h0M309.4 134.9h0M309.9 134.1h0M313 116.9h0M313.4 123.2h0M314.1 117.5h0M310.1 121.5h0M311.7 126.7h0" stroke="#2347bd" stroke-opacity="0.6" stroke-width="2.5" stroke-linecap="round" fill="none"/>
<path d="M309.7 137.4h0M309.5 133.4h0M310.4 129.9h0M311.1 124.6h0M312.4 121h0M308.9 119.8h0M309.9 131.2h0M312.9 129.4h0M311.1 118.3h0M312.3 126h0M313.3 134.8h0M309.2 126.3h0M313.6 127h0" stroke="#2347bd" stroke-opacity="0.6" stroke-width="2.5" stroke-linecap="round" fill="none"/>
<path d="M309.6 144.2h0M310.3 120.4h0M310.2 127.6h0M311.9 145.9h0M309.2 131.1h0M311 128.1h0M312.7 131.2h0M311.7 127.6h0M313.4 131.2h0M309.6 146.3h0M312.2 127.2h0M310.9 128.2h0" stroke="#2347bd" stroke-opacity="0.6" stroke-width="2.5" stroke-linecap="round" fill="none"/>
<path d="M310.3 130.5h0M309.1 133.3h0M310.1 115.5h0M309.7 132.6h0M311.1 129.6h0M313.3 138.8h0M309.8 122.5h0M314 115h0M309.3 132.8h0M309.1 123.9h0M312 131.8h0M312.2 128.7h0" stroke="#2347bd" stroke-opacity="0.6" stroke-width="2.5" stroke-linecap="round" fill="none"/>
<path d="M311.3 114.7V123M311.3 134.8V146.6" stroke="#2347bd" stroke-width="0.7" fill="none"/>
<rect x="308.1" y="123" width="6.4" height="11.8" fill="#fff" fill-opacity="0.5" stroke="#2347bd" stroke-width="0.7"/>
<path d="M308.1 128.8h6.4" stroke="#2347bd" stroke-width="1"/>
<path d="M318.7 91.7h0M320.7 86.5h0M320.5 76.3h0M319.4 89.1h0M321.5 62.6h0M317.7 88.9h0M319.9 89.6h0M319 73.8h0M319 74.5h0M319.4 82.3h0M317.5 66.5h0M317.3 69.7h0M321.2 60.2h0M318 32.7h0M320.8 108.1h0M319.2 93.7h0M318.1 82.4h0M319.4 53.8h0M320.6 57.5h0M321.4 107.8h0M321.5 68.2h0M318.7 76.4h0M321.5 86.8h0M320.8 85.7h0M318.2 98.4h0M319.2 95.1h0M317.3 89.9h0M317.2 100.1h0M318.6 78.1h0M319.7 78.4h0M318 92.9h0M320.7 82.3h0M322.1 54.3h0M317.6 70h0M320.6 96.1h0M322.1 69.1h0M321 92h0M319.3 79.2h0M319.7 71.5h0M322.1 74h0M317.2 65.5h0M322.3 82.5h0M319.8 88.6h0M322 79h0M317.6 85.2h0M318.8 42.7h0M320.2 82.1h0M317.9 71.1h0M319.1 61.2h0M320.2 71.4h0M319.1 77.6h0M319.6 86.6h0M321.2 85.4h0M318.6 84.3h0M317.5 65.9h0M321.4 80.8h0M321 81.6h0M320.8 62.6h0M317.3 59.5h0M318.8 68.5h0M322.2 78.4h0M320.2 81.6h0M319.1 79.5h0M321.8 85.9h0M317.7 82.9h0M320.6 112.1h0M318.3 85.2h0M322.6 36.2h0M321.2 81.8h0M320 78.7h0M320.8 78.8h0M319.3 75.6h0M318.7 93.9h0M319.5 76.1h0M321.8 75.5h0M317.7 79.8h0M321.2 90.8h0M317.7 71.7h0M321.5 83.3h0M321.8 55h0M321.6 82.1h0M320.9 74.9h0M318.4 92.8h0M320.9 118.2h0M322.4 77.1h0M319.7 80.4h0M319.6 64h0M319.6 74h0M319.4 106.9h0M321.6 92.1h0M320.5 58.2h0M318.7 89.3h0M318.8 62h0M318.6 91h0M321.9 79.7h0M321.5 85h0M317.7 80.4h0M320.5 73.3h0M319.1 93.9h0M317.3 75.3h0M321.3 81.3h0M320 73.7h0M318 109.4h0M319.4 75.5h0M319.4 74.6h0M318.6 66h0M319.3 68.5h0M321.7 64.2h0M322.1 75.6h0M321.5 67.1h0M320.3 81.9h0M318.8 76.9h0M318.7 81.3h0M322.3 91.9h0M318.4 66.2h0M319.7 75.5h0M320.4 69.9h0M320.6 79.9h0M317.8 33.5h0M321.7 73.4h0M322.3 88.2h0M322.4 89.6h0M318.9 62.6h0M317.2 74.1h0M319.9 95.8h0M320.2 71.3h0M319.4 72.7h0M319.6 86.4h0M318.9 77.9h0" stroke="#ea1119" stroke-opacity="0.5" stroke-width="2.5" stroke-linecap="round" fill="none"/>
<path d="M320.7 83.6h0M322.3 90.2h0M317.3 83h0M317.2 78.5h0M322.4 88.4h0M320.3 68h0M322.3 83.1h0M320.6 76.9h0M321 77.4h0M317.7 75h0M319.2 54.1h0M321.7 89.1h0M319.4 90.4h0M319 66.1h0M319.9 91.5h0M317.4 60.1h0M318.8 96.4h0M318 97.2h0M322.1 83h0M319.8 65.9h0M322.4 84.6h0M317.3 86.6h0M320.1 37.6h0M318.7 81.8h0M318.6 73.4h0M319.9 88.7h0M319.5 91.7h0M320 85h0M321.7 67.5h0M318.3 82.9h0M320.8 58.8h0M320.7 115.6h0M321.3 79.4h0M318.2 78.1h0M317.4 62.4h0M318.2 108.3h0M318.7 72.3h0M319.9 77.5h0M317.7 93.1h0M317.5 89.5h0M320.1 79.9h0M321 101.7h0M317.8 114.1h0M317.3 77.5h0M320.8 46.2h0M319.2 102.1h0M321.9 67.1h0M320 73.7h0M320.8 57.1h0M321.3 90.3h0M317.9 71.3h0M322.2 82h0M319.1 111.3h0M318.4 65.7h0M322.2 83.5h0M321.3 87.9h0M320.4 91.1h0M318.8 76.6h0M318.1 93.3h0M320 61.5h0M321.8 91.9h0M317.2 64.4h0M322.2 72.3h0M319.9 82.6h0M318.1 70.1h0M318.2 80h0M319 89.6h0M321.2 71.6h0M320 96.9h0M320.5 47.9h0M321.7 69h0M319.4 57.5h0M317.5 114h0M320.2 76.8h0M318.1 93.4h0M318.4 53.8h0M321.6 61h0M319.2 93.9h0M319.8 81.9h0M322.6 69.2h0M322 72.9h0M321.6 82.6h0M318.1 108.1h0M317.5 93.3h0M321.2 77.3h0M321.8 98.7h0M319.7 98.9h0M317.2 86.3h0M317.4 89.6h0M318.9 90.8h0M321.5 90h0M317.4 79.9h0M322.1 93.4h0M321.5 62.5h0M318 102.4h0M321.2 87.6h0M318.2 69.9h0M319.4 110.5h0M317.8 87.1h0M319.8 75.1h0M322.2 83h0M322.3 77.8h0M321.3 67.5h0M319.9 41.7h0M317.2 67.1h0M320 81.2h0M320.9 100.1h0M322.1 92.2h0M319 96.5h0M320.6 90.8h0M321.7 77.6h0M321.8 87.6h0M320.3 75.2h0M319.6 87.8h0M321 78.2h0M319.4 81.9h0M318.3 74.9h0M322.1 83.4h0M320.1 66h0M319.3 88.1h0M322.3 84.2h0M321.5 75.7h0M318 71.3h0M322.3 74.7h0M318.6 68.8h0M318.9 71.1h0M322.2 77h0M319.1 82.7h0M320.5 95.6h0" stroke="#ea1119" stroke-opacity="0.5" stroke-width="2.5" stroke-linecap="round" fill="none"/>
<path d="M318.5 73.7h0M317.9 90.4h0M317.9 84h0M318.3 87.8h0M322.1 83.5h0M320 92.3h0M319.8 69.5h0M322.4 77h0M320.1 75.5h0M321.3 83.1h0M318.3 47.8h0M320.4 85.7h0M320.4 74.6h0M320.4 71.3h0M321.3 64.7h0M322 71.7h0M321 77.8h0M321.4 60.7h0M317.4 82h0M319.2 74.5h0M317.4 73.9h0M321.7 106.6h0M320.3 57.6h0M321.7 75.3h0M320.1 92.2h0M318 81.6h0M320.4 51h0M322.1 99.1h0M321.8 78.2h0M317.8 110.3h0M317.9 59.6h0M318.9 79.6h0M319.6 78h0M317.3 99.7h0M322.5 76.1h0M320.8 92.6h0M322.3 58.2h0M318.7 77.5h0M318.9 81.1h0M321.2 73.3h0M322.1 67.5h0M318.5 83.1h0M319.3 77.2h0M322 85.8h0M320.3 80h0M319.4 95.5h0M320.2 75.6h0M320.8 74.8h0M318.7 74.3h0M318.2 94.8h0M319.6 98.2h0M319.3 67.9h0M320.4 85.7h0M317.8 78h0M317.5 90.5h0M322.5 89.6h0M317.2 74.7h0M318.7 108h0M317.4 62.5h0M321.1 76.8h0M319.7 93.4h0M317.8 86.6h0M320.5 84.5h0M319.4 77.5h0M317.7 109.1h0M322 73.8h0M321.4 66.9h0M321.5 115.2h0M322.4 82.6h0M319.8 95.4h0M320.7 76.6h0M322.6 62.2h0M317.3 63.2h0M317.4 76.3h0M319.6 81.3h0M318.4 81.9h0M319.1 73.9h0M317.7 98.6h0M318.8 82.8h0M321 61.4h0M319.6 97.1h0M322.5 32.3h0M322.4 90.3h0M317.8 77.5h0M320.3 76.6h0M319.7 75.3h0M322.6 78.2h0M319.5 75.8h0M319.4 88.9h0M321.2 63.3h0M322 89.3h0M320.4 76.1h0M319.4 81.2h0M320 83.8h0M317.3 90.7h0M321.6 74.7h0M321.1 70.4h0M322.2 47h0M320.1 78.8h0M317.9 74h0M317.7 86.1h0M322.1 99.6h0M320.9 83.1h0M318.2 83.2h0M319 70.6h0M322.1 71.5h0M322 74.1h0M322.2 68.6h0M319.1 78.6h0M318 91.3h0M320.5 97h0M320.5 73.3h0M318.9 62.8h0M318.2 96.5h0M318.3 80.8h0M320.3 68.8h0M318.9 74.3h0M317.5 67.6h0M321.7 77.5h0M320.1 68.4h0M322.5 82.1h0M320.3 81.7h0M319.7 70.5h0M318.3 95.1h0M319.3 94.5h0M317.2 69.1h0M318.4 88.2h0M319.3 80h0M321.3 73.6h0" stroke="#ea1119" stroke-opacity="0.5" stroke-width="2.5" stroke-linecap="round" fill="none"/>
<path d="M319.8 88h0M319.9 90h0M318.3 68.3h0M319.6 54.2h0M317.7 95h0M317.8 78h0M319.6 81.6h0M320.4 56.1h0M320.5 48.4h0M318.9 81.5h0M321.1 86.6h0M317.7 72.2h0M318.8 78.2h0M322.6 103.5h0M321.3 61.5h0M318 91.6h0M319.5 72.7h0M321.2 93.2h0M321.6 81.6h0M322.6 81.5h0M321.2 57h0M322 88.7h0M317.7 73.6h0M317.6 84.6h0M318.9 78.2h0M320.1 81.2h0M320 78.1h0M319.2 81.3h0M321.6 57.9h0M320.6 63.3h0M319.6 89.1h0M320.4 78.2h0M317.4 91.6h0M320.9 76.8h0M319.7 72.9h0M322.3 79.4h0M318.9 71.4h0M322 60.2h0M321.3 71.2h0M321.9 70.4h0M320.6 84.1h0M321.8 84.5h0M317.3 80.8h0M318 67.4h0M320.1 79.2h0M322.2 67.9h0M319 98.6h0M317.3 72.4h0M322.5 78.3h0M321.7 87.5h0M318.2 74.7h0M318.3 95.6h0M321.6 80.4h0M320.8 73.6h0M321.8 88.3h0M319.2 83.2h0M320.1 91.1h0M317.7 91h0M317.3 118h0M317.9 87.5h0M317.7 87.6h0M320.5 74.7h0M320.9 82.3h0M320.7 58.2h0M321.4 82.6h0M318 82.9h0M320.5 72.7h0M321.1 55.9h0M321.2 75.5h0M319.1 99.1h0M317.4 85h0M318.8 95.5h0M319.1 74.4h0M322.4 72.9h0M321.1 76.4h0M320.1 96.3h0M317.3 66.6h0M318.7 102.7h0M319.4 82.2h0M317.6 67.3h0M318 90.7h0M321.7 71.7h0M321.9 60.9h0M320.3 73.9h0M320.4 80.9h0M322 90.8h0M320.8 83.6h0M318.4 78.6h0M319.2 39.8h0M320.4 72.3h0M317.9 83.8h0M317.4 82.5h0M319.4 78.2h0M319.8 34.9h0M322.1 100.4h0M320 87h0M317.9 91.5h0M321.4 74.2h0M320.6 64.6h0M318.9 96h0M319.1 93.4h0M321.5 44.9h0M317.4 55.1h0M318 107.6h0M320 75.8h0M319.7 115.7h0M317.8 70.3h0M318.2 74.7h0M318.7 67.8h0M318.8 91.2h0M320.8 77.1h0M320.5 85.9h0M319.3 76.6h0M319.4 60.7h0M321 115.3h0M322.5 70.8h0M317.9 75.9h0M318.6 66.5h0M318 95.9h0M320.5 93.8h0M320.4 88.9h0M320.4 90.5h0M318.5 81.6h0M322.5 32.6h0M317.7 79h0M318.4 73.5h0M321.7 51.9h0M320 83.1h0" stroke="#ea1119" stroke-opacity="0.5" stroke-width="2.5" stroke-linecap="round" fill="none"/>
<path d="M319.9 46.2V71M319.9 87.5V112.2" stroke="#ea1119" stroke-width="0.7" fill="none"/>
<rect x="316.7" y="71" width="6.4" height="16.5" fill="#fff" fill-opacity="0.5" stroke="#ea1119" stroke-width="0.7"/>
<path d="M316.7 79.2h6.4" stroke="#ea1119" stroke-width="1"/>
<path d="M329.6 56.6h0M328.8 86.2h0M328.6 75.8h0M327.8 75.6h0M327.6 79.3h0M326.8 86.7h0M329.8 78.2h0M330.3 83h0M330.7 76.1h0M329.7 80.7h0M328.2 72h0M328.9 89.7h0M329.1 63.2h0M328.9 80.3h0M328.9 75.6h0" stroke="#2347bd" stroke-opacity="0.6" stroke-width="2.5" stroke-linecap="round" fill="none"/>
<path d="M326 66.6h0M329.6 66.8h0M327.5 65.6h0M327.5 72.6h0M328.3 74h0M326.1 89.7h0M327.6 66.1h0M326.9 75.7h0M325.8 67.1h0M328.6 84.1h0M329.3 75.4h0M330.9 89.1h0M329.4 57.2h0M330.5 80.5h0M330.3 74.1h0" stroke="#2347bd" stroke-opacity="0.6" stroke-width="2.5" stroke-linecap="round" fill="none"/>
<path d="M331.2 73.4h0M328.9 73.5h0M326.7 75.8h0M328.7 77.7h0M329.5 81.1h0M329.5 73.1h0M326.1 63.2h0M329.4 70.1h0M329 75.3h0M328 83.6h0M329.2 73h0M331.1 73.5h0M326.3 79.8h0M328.1 77.6h0M330.8 62.1h0" stroke="#2347bd" stroke-opacity="0.6" stroke-width="2.5" stroke-linecap="round" fill="none"/>
<path d="M329 86.8h0M330.3 66.4h0M327.3 70.5h0M329.1 71.6h0M331.2 71.6h0M330 84.6h0M327.7 71.9h0M327.6 72.4h0M327.3 66.8h0M331.1 82.4h0M327.4 72.9h0M328.1 86.9h0M327.2 70.1h0M330.2 77.4h0" stroke="#2347bd" stroke-opacity="0.6" stroke-width="2.5" stroke-linecap="round" fill="none"/>
<path d="M328.5 55.6V67.4M328.5 79.2V89.8" stroke="#2347bd" stroke-width="0.7" fill="none"/>
<rect x="325.3" y="67.4" width="6.4" height="11.8" fill="#fff" fill-opacity="0.5" stroke="#2347bd" stroke-width="0.7"/>
<path d="M325.3 73.3h6.4" stroke="#2347bd" stroke-width="1"/>
<path d="M338.1 65.1h0M338.7 63.4h0M336 54.6h0M339.6 55.6h0M338.2 58.1h0M336 70.5h0M337.2 45.7h0M339.7 61.9h0M337.3 54.2h0M339.6 53.7h0M335.8 84.4h0M338.4 42.8h0M338 60.8h0M335 72.4h0M338.3 64.3h0M339.2 52.4h0M337.9 50.2h0M337.8 57.1h0M339.6 46.2h0M334.6 74.5h0M337.8 61.3h0M337.1 64.1h0M337.8 43.1h0M339.7 53.9h0M335.2 58.7h0M337.8 63.7h0M336.3 83.2h0M338.2 25.1h0M338.7 43.1h0M337.7 94.1h0M338.9 59.4h0M336.9 58.8h0M339.2 66h0M338.9 86.6h0M336.8 60.2h0M339.3 66.1h0M337.3 57.8h0M335.9 49.2h0M334.6 61.7h0M336 95.8h0M335.7 82.5h0M336 75.2h0M335.5 90.8h0M336.8 48.8h0M334.4 66.3h0M336.1 73h0M334.9 59.3h0M335.2 87.1h0M338.4 49.4h0M334.7 50.3h0M338.3 63h0M337.3 88.4h0M336.6 78.2h0M335.9 48.6h0M338.1 37.9h0M335.2 89.4h0M337.5 78.3h0M334.6 47.8h0M336.7 55.8h0M338.5 77.7h0M335.9 57.7h0M338.7 58.1h0M335.2 65.5h0M339 91.5h0M336.9 57.3h0M334.9 69.5h0M339.4 72.6h0M337.3 66h0M337.5 47.2h0M336.4 53.3h0M336.9 74h0M338.1 55.9h0M335.4 62.6h0M339.7 72.4h0M338.7 44.6h0M336.3 59.6h0M336.4 72.4h0M336.2 53.3h0M338.8 58.6h0M334.5 58.3h0M336.5 23.4h0M337.4 33.9h0M336 51.5h0M334.7 85.5h0M337.5 89.4h0M335.1 47.9h0M338.1 41.6h0M338.7 65.7h0M339 57.5h0M336 62.1h0M337.9 63.6h0M337.8 64.2h0M338.1 75.7h0M337.1 78.6h0M338.5 42.4h0M336 66.4h0M336.1 60.6h0M334.3 67.7h0M336.1 66.6h0M337.5 85h0M339.2 67.8h0M336.5 76.3h0M335.5 62.2h0M337.8 56.1h0M335.4 74h0M334.8 71.1h0M334.7 58h0M334.3 85.5h0M337.1 36.5h0M336.3 57.9h0M338.5 49.2h0M335.8 83h0M338.1 82.2h0M334.7 47.9h0M335.6 55.3h0M338.1 38.9h0M338.8 34.3h0M335.6 55.7h0M338.5 64.9h0M336.1 64.8h0M335.2 77.9h0M337.2 61.8h0M335.1 72.9h0M335.3 55.7h0M334.7 64.7h0M338.5 64.1h0" stroke="#ea1119" stroke-opacity="0.5" stroke-width="2.5" stroke-linecap="round" fill="none"/>
<path d="M335.2 83h0M339.7 61.4h0M336.4 70.8h0M337.7 48.9h0M335.1 48.1h0M337.1 57.5h0M335.4 60.3h0M334.3 80h0M337.5 49.9h0M336 68.8h0M335.8 64.4h0M336.4 64.7h0M338.5 60.6h0M338 59.5h0M337.9 40.6h0M337.1 61.2h0M335.8 97.8h0M337.2 30.7h0M339.7 66.8h0M336.2 65h0M337.9 60.3h0M335.5 65.8h0M337.3 37.6h0M338.6 57.2h0M336.2 61.9h0M339.2 63.5h0M336.4 81.2h0M338.1 58.9h0M338.2 63.6h0M339.7 79.4h0M337.5 98.8h0M336.4 54.2h0M339.4 70.6h0M334.4 61.1h0M336.3 68.2h0M335.9 78.4h0M337.5 29.6h0M335.4 64.9h0M338.2 72.6h0M338.9 48.1h0M339.2 32.2h0M336.2 66.5h0M337 36.5h0M336.4 38.7h0M334.5 93.1h0M335.7 52.2h0M337 61.1h0M338.7 48h0M338.2 41.9h0M337 57.9h0M335.6 99.1h0M337.1 80.5h0M336.6 42.8h0M338.5 83.1h0M339.1 73.6h0M339.8 64.9h0M335.6 73.1h0M334.7 66.1h0M338.2 41.1h0M336.5 58.9h0M335.7 77.1h0M335.7 57.9h0M339.1 50.1h0M339.5 61.1h0M337.1 49.8h0M338.6 77.2h0M338.9 70h0M335 24.9h0M338.9 98.5h0M337.8 55.4h0M338.4 54.8h0M339.2 67.6h0M334.3 56h0M339.6 70.8h0M338.6 58.5h0M337.7 46.5h0M336.2 63.6h0M337.2 70.7h0M336.3 75.4h0M336 63.3h0M335.5 46.2h0M334.7 76.8h0M335.3 61.3h0M334.5 80h0M337.7 48.9h0M339.6 54.4h0M334.6 64h0M337.6 63.2h0M336.3 69.2h0M334.8 54.6h0M336.3 24.9h0M334.6 25.6h0M339.6 65.5h0M336.7 73.9h0M336.1 63.8h0M337.1 49.8h0M336.3 50.6h0M335.7 65.5h0M335 28.5h0M336.9 61.3h0M338.1 49.7h0M338.8 90.5h0M336.6 57.8h0M336.6 50.4h0M336.5 61.2h0M337.5 59.8h0M337.1 69.4h0M334.4 43.6h0M337.9 97.1h0M336 75h0M337.8 79.4h0M336.3 67.4h0M339.5 67.5h0M339.5 65.9h0M336.4 49.9h0M339.7 52.2h0M338.1 64.3h0M336 55h0M335.1 45.9h0M335.3 76.6h0M339.7 45.1h0M334.3 42.9h0M335 58.2h0M338.4 74h0M335.9 79.5h0" stroke="#ea1119" stroke-opacity="0.5" stroke-width="2.5" stroke-linecap="round" fill="none"/>
<path d="M339.6 70.9h0M338.9 65.6h0M339 22.8h0M336 58.4h0M337.7 53.2h0M339.3 53.6h0M336.9 74.7h0M336.7 26.6h0M336.8 59.1h0M336.7 52.1h0M334.9 51.6h0M339.1 65.9h0M339.1 65.7h0M336.7 51.8h0M336.8 97.3h0M335.8 97.6h0M336.8 77.1h0M337.9 54.5h0M338.9 37.4h0M335.8 56.7h0M337.6 56.6h0M339.7 95.8h0M339.5 58.3h0M337.7 87.6h0M336.2 59.9h0M337.3 43.7h0M337.8 98h0M336.1 52h0M336.8 69.3h0M337.8 66.3h0M336.7 67.9h0M337.2 53.9h0M337.9 79.1h0M339.1 58h0M338.5 72.6h0M339.8 52.5h0M335.1 53.8h0M334.4 46.5h0M337.8 85.8h0M339.2 85.6h0M337 53.7h0M336.9 52.1h0M334.9 73h0M335.9 64.7h0M334.7 83.2h0M338.4 63h0M339.5 63.6h0M334.8 48.1h0M337.1 84.6h0M336.7 49.5h0M335.7 63.8h0M338.4 65.7h0M334.3 81.2h0M338.5 73.7h0M335.8 38.2h0M339.5 54.3h0M337.6 65.4h0M339.2 52.5h0M335.6 54.1h0M334.9 68.2h0M339.1 60.6h0M339.5 46.1h0M335.6 58.2h0M334.5 96h0M334.3 48.4h0M336.5 58.9h0M338.6 63.5h0M337.3 65.3h0M336.1 74.6h0M338 72.8h0M335.7 56.8h0M335.3 59.7h0M334.7 77.7h0M335.2 64.1h0M339.2 63.1h0M336.5 74.1h0M339.3 63.6h0M336.2 48.4h0M336 57h0M335.5 65.2h0M335.4 73.2h0M339.3 56.6h0M337.4 75.2h0M337.1 85.9h0M337.9 53.7h0M337.2 51.5h0M336.1 70.2h0M338.6 95.2h0M338.8 77.8h0M338.8 78.7h0M336.9 82.6h0M336 56.2h0M336.3 82.8h0M337.1 63.4h0M337.7 69.1h0M338.5 60.4h0M337.8 86.1h0M339.6 97h0M334.6 73.6h0M337.5 55.5h0M335 95h0M335.2 55.1h0M338.9 65.9h0M337.7 60.2h0M335.8 91.1h0M337.9 63.9h0M337.4 49.4h0M337 44.2h0M334.7 67h0M339.6 53.1h0M338.8 66.9h0M338.5 45.6h0M338.2 86.9h0M337.3 78.9h0M334.7 59.4h0M337.6 70.9h0M334.8 55.5h0M336.2 33h0M338.1 86.3h0M337.7 66.4h0M336.4 30.2h0M337.3 86.3h0M337.7 58.5h0M336.2 80.6h0M337 28.9h0" stroke="#ea1119" stroke-opacity="0.5" stroke-width="2.5" stroke-linecap="round" fill="none"/>
<path d="M337.9 48.7h0M337.5 59.1h0M339.7 67.6h0M337 54.1h0M334.5 70.2h0M338.9 56.4h0M335.7 56.7h0M335.8 50.8h0M334.3 78.4h0M336.7 60.3h0M339.3 70.7h0M334.5 53.2h0M338.1 72.8h0M336.5 43.6h0M335.3 76.8h0M336.7 48.3h0M338.2 86.8h0M336.1 49.3h0M338 59.9h0M339.4 48.2h0M339.8 52.2h0M335.7 80.1h0M338.5 65.4h0M335 52h0M335.3 60.2h0M338.4 67.8h0M335.1 74.9h0M339.4 65.7h0M337.4 81.3h0M335.7 49h0M337.6 59.9h0M339 42.8h0M334.3 66.5h0M336.5 47.7h0M338.8 62.8h0M336.3 59.8h0M337.2 65.9h0M337.6 44.9h0M338.2 60.9h0M338 55.5h0M335.9 58.2h0M338.9 42.2h0M335.1 79.2h0M338.9 56.6h0M334.3 67.5h0M336.1 75.5h0M337.1 50.9h0M335.7 33.6h0M336.5 72h0M335.1 56.2h0M336 52.1h0M336.5 41.9h0M339.2 68.2h0M338.9 49.2h0M338 58h0M336.6 60.6h0M337.8 72.7h0M334.4 44.3h0M335.9 30.9h0M337.3 50h0M335.3 71h0M337.8 64.2h0M335.5 77.5h0M339.3 59.7h0M339.2 71.8h0M335.6 49.9h0M335 58.3h0M339.3 63.1h0M337.1 89h0M335.9 95.9h0M335.9 84.9h0M338 77.9h0M335.1 98.3h0M336.7 77.8h0M334.9 92.8h0M335.7 71.7h0M338.2 59.3h0M337.7 65.7h0M337.9 47.8h0M337 55.7h0M337.9 75.5h0M334.6 54.7h0M335 56.2h0M334.6 64.3h0M337.3 60.8h0M334.4 48.2h0M336.8 56.1h0M335.9 67.3h0M335.7 66h0M338 65.8h0M338.5 72.9h0M339 82h0M334.9 48.3h0M339.4 69.4h0M338 71h0M335.2 51.6h0M336.7 68.6h0M337.5 69.3h0M334.4 50.9h0M336.1 72h0M335.3 44.7h0M334.8 48.9h0M335.6 65.6h0M336.9 60.4h0M336.7 54.4h0M339.7 74.8h0M338.2 60.3h0M337.3 22.5h0M335.4 72.2h0M338.9 44.3h0M338.6 81.3h0M339.7 61.7h0M337.9 54.6h0M336.5 60.2h0M338.1 59.9h0M338.9 86.8h0M338 51.4h0M337.4 56.2h0M339.3 95.6h0M335.2 66.1h0M338.8 63h0M336 98.4h0M335.7 44.4h0M335.4 49.8h0M336.2 55h0" stroke="#ea1119" stroke-opacity="0.5" stroke-width="2.5" stroke-linecap="round" fill="none"/>
<path d="M337 27.9V54.4M337 72.1V98.6" stroke="#ea1119" stroke-width="0.7" fill="none"/>
<rect x="333.8" y="54.4" width="6.4" height="17.7" fill="#fff" fill-opacity="0.5" stroke="#ea1119" stroke-width="0.7"/>
<path d="M333.8 62.6h6.4" stroke="#ea1119" stroke-width="1"/>
<path d="M344.6 65.1h0M348.1 71.9h0M348.3 75.9h0M346 78.4h0M347.2 85.8h0M347.2 75.9h0M345.1 76.7h0M344 64.3h0M348.1 65.3h0M344.3 81.8h0M343.1 81.7h0M343.1 67h0M343.1 71.9h0" stroke="#2347bd" stroke-opacity="0.6" stroke-width="2.5" stroke-linecap="round" fill="none"/>
<path d="M346.1 73.2h0M345.4 56.1h0M343.6 67.4h0M347.8 72.5h0M346.8 54.7h0M343 63.7h0M343.3 62h0M346.7 77.2h0M343.9 73.1h0M348.2 65.8h0M346 68.3h0M346.8 70.9h0M345.8 75.6h0" stroke="#2347bd" stroke-opacity="0.6" stroke-width="2.5" stroke-linecap="round" fill="none"/>
<path d="M347.4 65.8h0M347.2 67.8h0M347.8 68.1h0M346.9 72h0M348.2 83.1h0M348 66h0M345.3 69.6h0M346.2 70.9h0M347.7 76.6h0M346.1 73.2h0M348.2 69.4h0M346.2 64.2h0M345.1 60.7h0" stroke="#2347bd" stroke-opacity="0.6" stroke-width="2.5" stroke-linecap="round" fill="none"/>
<path d="M346.6 85.5h0M344.8 64.9h0M343.8 71.5h0M347.9 72.2h0M346.8 72.7h0M347.9 65.2h0M344.7 58h0M346.2 65.6h0M346.4 80h0M342.9 71.7h0M343.1 62.4h0M347.3 82.1h0" stroke="#2347bd" stroke-opacity="0.6" stroke-width="2.5" stroke-linecap="round" fill="none"/>
<path d="M345.6 54.4V65.7M345.6 76.8V86.3" stroke="#2347bd" stroke-width="0.7" fill="none"/>
<rect x="342.4" y="65.7" width="6.4" height="11.1" fill="#fff" fill-opacity="0.5" stroke="#2347bd" stroke-width="0.7"/>
<path d="M342.4 71h6.4" stroke="#2347bd" stroke-width="1"/>
<path d="M351.8 119.8h0M355.1 85.7h0M353.3 112.1h0M354.9 72.4h0M356.7 47.7h0M355.6 90.3h0M354.5 95.3h0M351.6 63.3h0M354.4 125.4h0M353.6 81.3h0M352 69h0M354.8 72.7h0M354.4 48.5h0M353.6 87h0M355.1 106.1h0M354.8 86.4h0M351.5 64.8h0M354.8 88.9h0M355.4 77.7h0M355.4 129h0M354 74.6h0M351.6 79.3h0" stroke="#ea1119" stroke-opacity="0.5" stroke-width="2.5" stroke-linecap="round" fill="none"/>
<path d="M352.7 67.8h0M354.2 81.1h0M356.6 74.5h0M353.4 92.5h0M355.5 88.7h0M355 101.8h0M351.6 90.3h0M355 65.5h0M353.5 47.3h0M353.3 125.4h0M354 94.3h0M353.3 80.2h0M353.1 83h0M352.7 81.8h0M353.1 67.8h0M353.2 94.7h0M351.8 61.9h0M356.1 87.9h0M352.4 67.7h0M353.6 92.1h0M351.4 58.3h0M352.3 61.9h0" stroke="#ea1119" stroke-opacity="0.5" stroke-width="2.5" stroke-linecap="round" fill="none"/>
<path d="M352.1 100.6h0M353.8 85.5h0M352.5 60.4h0M355.6 73.6h0M353.5 84.3h0M356.8 83.6h0M356.2 78.2h0M355.1 75.9h0M356.6 80.4h0M355 85h0M353.9 63.5h0M355.7 49.1h0M354.9 99.7h0M356.6 66.9h0M356.3 67.2h0M352.9 88.7h0M356.5 73.6h0M356 63h0M352.9 74.6h0M354.3 90.4h0M354.8 82.5h0M355.7 81.5h0" stroke="#ea1119" stroke-opacity="0.5" stroke-width="2.5" stroke-linecap="round" fill="none"/>
<path d="M356.2 64.1h0M354.1 60.8h0M355 58.2h0M354.9 115h0M352.5 100.7h0M356.2 63.4h0M352.8 61.9h0M356.1 57.8h0M352.3 67.8h0M355.3 59.4h0M354.4 76.7h0M355.4 79h0M354.8 68.5h0M351.5 71.7h0M356.8 51.9h0M356.6 77.6h0M356.5 98.2h0M355.5 84h0M353.2 77.5h0M351.8 69.1h0M356.7 66.5h0" stroke="#ea1119" stroke-opacity="0.5" stroke-width="2.5" stroke-linecap="round" fill="none"/>
<path d="M354.1 47.3V69M354.1 89.8V121" stroke="#ea1119" stroke-width="0.7" fill="none"/>
<rect x="350.9" y="69" width="6.4" height="20.8" fill="#fff" fill-opacity="0.5" stroke="#ea1119" stroke-width="0.7"/>
<path d="M350.9 78h6.4" stroke="#ea1119" stroke-width="1"/>
<path d="M363.1 72.9h0M363.5 86.3h0M362.4 78.2h0M360.3 72.3h0M363.8 85.7h0M360.5 42.3h0M362.4 63.1h0M363.2 90.4h0M361.3 62.9h0M362.4 52.9h0M362.2 67.4h0M363 56.7h0M364.8 75.6h0M362.3 73.2h0M363.2 63.8h0M360.4 71h0M363.1 71.7h0M362.8 64.1h0M361.4 68.6h0M365.2 77.6h0M364.5 67.1h0M365.3 73.2h0M363.5 46.9h0M361.5 69.5h0M363.9 80.4h0M361.5 53h0M361.5 70h0M362 60.7h0M364.9 78.2h0M365.1 70.8h0M363.5 71.6h0M362.5 75.6h0M361.6 49.8h0M362.4 83.2h0M362.6 87h0M361.4 72.6h0M364.9 72.3h0M360 71.5h0M363.3 85.8h0M361.8 76.4h0M360.4 84.5h0M362.4 61.4h0M360.5 65.2h0M360.2 57.3h0M360.2 76.3h0M360.2 76.4h0M362.4 54.2h0M365.4 58.4h0M363.9 72.4h0M361.3 53.9h0M363.2 61.3h0M362.5 91.9h0M362.5 84.2h0M363 79.9h0M363.3 72.4h0M360.2 75.1h0M363.4 83.7h0M365.1 66.3h0M360.7 67.3h0M361.5 103.6h0M360.7 96h0M364.7 57.2h0M361.4 76.2h0M360.6 87.4h0M364.3 48.4h0M363.1 76h0M362.7 73.7h0M363.4 83.5h0M364.1 63.3h0M360.4 44.6h0M361.1 71.1h0M361 73.7h0M360.2 74.9h0M364.5 71.4h0M361 68.6h0M363 41.8h0" stroke="#ea1119" stroke-opacity="0.5" stroke-width="2.5" stroke-linecap="round" fill="none"/>
<path d="M361.4 76.2h0M362.3 61.3h0M364 80.7h0M362.7 72.2h0M361.8 60.8h0M363.6 74.5h0M362.6 49.4h0M362.6 74.2h0M362.3 85.1h0M363.1 78.6h0M360.2 60.6h0M363.7 74.1h0M364 103.7h0M360.4 72.8h0M363.7 80.7h0M360.1 62.1h0M360.9 75h0M360.7 67.1h0M365.4 75.2h0M362.2 47.9h0M363.8 60.8h0M363 63.4h0M363.9 71.1h0M362.2 43.7h0M365.2 82.9h0M363.9 66.5h0M365 73.4h0M362.5 57.2h0M364.6 70.3h0M361.2 96.3h0M360.9 80.4h0M360.1 65.8h0M365.1 81.6h0M363.6 44.4h0M361.5 80.7h0M360.4 80.4h0M365.3 61.8h0M363.7 76.7h0M361 56h0M362 92.5h0M364.3 75.6h0M362.1 53.6h0M361.4 85h0M362.6 49.4h0M362.4 77h0M361 56.3h0M364.2 50.5h0M364.8 75.9h0M365.1 74.6h0M362.6 70h0M363.6 71.3h0M360.5 69.3h0M362.4 77.9h0M363.3 66.7h0M362.5 70.3h0M361.5 74.8h0M363.1 62.1h0M360.7 72.1h0M360.6 62.8h0M364.3 50.2h0M360 82.2h0M362.2 73.4h0M364.3 74.7h0M364.2 42h0M360 69.3h0M362.2 54.3h0M362.3 64.3h0M362.2 75.6h0M360.9 67.9h0M362.8 101.7h0M362.2 80.4h0M360.6 48.1h0M360.4 86.3h0M363.7 41.5h0M362 69.2h0M364.3 46.5h0" stroke="#ea1119" stroke-opacity="0.5" stroke-width="2.5" stroke-linecap="round" fill="none"/>
<path d="M364.2 56.5h0M363.3 57.8h0M364.4 52.6h0M364.1 73.7h0M362.8 70.3h0M360.1 62.3h0M364.6 59.9h0M363.7 63.6h0M360.8 88.2h0M364.8 63.5h0M362.5 88.3h0M362.9 64h0M361.1 72.2h0M363.1 66.7h0M361.7 80.1h0M364.1 68.2h0M361.8 85.5h0M363.4 78h0M362.5 73.3h0M363.1 64.8h0M365 74.1h0M361.7 78.3h0M363.4 77.8h0M364.1 58.8h0M363.7 84.4h0M364.7 54.9h0M362.1 70.2h0M364.6 65.3h0M360.3 61.9h0M364.3 69.7h0M364.8 41.7h0M361 77.7h0M361 68.1h0M360 82h0M363.5 77.8h0M363.5 54h0M361.2 95.9h0M364.1 89.5h0M364.4 69h0M361.7 55.8h0M362.7 58.5h0M361.9 71.6h0M363 72.6h0M362.5 71.3h0M364.8 88.2h0M362.3 56.3h0M363.6 42.3h0M361.1 64.7h0M364.6 66.6h0M363.2 44.4h0M361.1 81.3h0M360.9 78.8h0M365.1 76.5h0M364.3 73h0M360.4 70.3h0M361 71.1h0M360 51h0M362 78.7h0M364.1 103.9h0M362.4 48.9h0M361.6 55.2h0M360.6 69.7h0M363.3 97.1h0M361.1 62.1h0M361.3 81.5h0M363.4 52.5h0M365.4 74.9h0M362.1 81.9h0M363.6 61.8h0M363.2 75.1h0M361.6 56h0M361.3 70.2h0M361.9 83.4h0M363.2 69.5h0M365.2 82.9h0M363 100.2h0" stroke="#ea1119" stroke-opacity="0.5" stroke-width="2.5" stroke-linecap="round" fill="none"/>
<path d="M361.4 81.3h0M362.9 75.6h0M360.1 68.7h0M364 65.1h0M363 77.7h0M362.8 76.8h0M363.9 59.3h0M363.5 63.1h0M365.1 62.7h0M362.3 62.1h0M361.9 73.6h0M361.4 72.7h0M364.7 83.1h0M363 84.6h0M364.9 103h0M360.7 83.6h0M361.8 64.7h0M363.4 74.1h0M360.1 59.5h0M364.2 45.2h0M365.1 73.8h0M361.8 66.1h0M360.3 77.2h0M363.2 80h0M364.1 45.2h0M363.7 81.7h0M363.1 62.1h0M363.2 64.2h0M364.9 56.2h0M363.7 87.5h0M362 78.6h0M365.2 71.7h0M363.9 92.1h0M363.3 77.7h0M360.8 78.1h0M360.6 86h0M364.9 59.2h0M364.3 66h0M364.2 55.1h0M363.9 69.9h0M362.4 75.2h0M362.5 41.4h0M362.4 77h0M361.7 57.5h0M361.1 68.9h0M363.1 53.1h0M364.8 76.8h0M361 46.5h0M364.1 84.9h0M363.7 61.9h0M362.5 72.7h0M363.5 47h0M364.8 78.5h0M365.3 76.2h0M364.1 76.4h0M364.7 63.9h0M361.2 62h0M361.5 81.7h0M362.5 50h0M363.5 84.4h0M360.2 72.9h0M364.2 82.4h0M364.4 72.8h0M365.1 72.3h0M365 67.8h0M360.4 70.6h0M360 75.8h0M362.8 77.8h0M363.1 79.8h0M362.7 77.3h0M363.9 75.9h0M363.2 77.1h0M361.4 58.5h0M362.4 71h0M364.7 78h0" stroke="#ea1119" stroke-opacity="0.5" stroke-width="2.5" stroke-linecap="round" fill="none"/>
<path d="M362.7 41.4V62.6M362.7 78V101.1" stroke="#ea1119" stroke-width="0.7" fill="none"/>
<rect x="359.5" y="62.6" width="6.4" height="15.4" fill="#fff" fill-opacity="0.5" stroke="#ea1119" stroke-width="0.7"/>
<path d="M359.5 71h6.4" stroke="#ea1119" stroke-width="1"/>
<path d="M371.1 93.4h0M369 84.5h0M371.1 72.9h0M372.4 84.7h0M373.4 92.3h0M369.1 79h0M372.7 88.7h0M373 102.9h0M374 84.9h0M370.4 103.4h0M371.7 90.7h0M369.8 84.6h0M368.5 91.1h0M371.7 95.8h0M372.9 88.1h0M368.6 108h0M368.5 94.9h0M372.5 82.2h0M369.7 87.6h0M373.3 68.2h0M372.5 84.5h0M371.8 87.2h0M369.9 112.6h0M373 83.7h0M369 103.1h0M369.2 87.2h0M371.5 99.7h0M370.4 86.1h0M370.9 77.3h0M369.2 95.2h0M372.4 90.5h0M373.4 103.5h0M373.4 84.6h0M372.5 102.9h0M368.6 92.8h0M371.1 107.9h0M370.6 101.9h0M370.8 69.5h0M372.7 83.4h0M370.7 86.5h0M369.6 100.7h0M369.8 82.3h0M370.4 89.7h0M371.8 91.1h0M373.9 99.1h0" stroke="#ea1119" stroke-opacity="0.5" stroke-width="2.5" stroke-linecap="round" fill="none"/>
<path d="M371.2 111.3h0M369.3 63.1h0M373.6 88h0M368.6 143.6h0M372.7 82.1h0M368.7 100.4h0M373.3 100h0M368.9 91.1h0M369.6 82.6h0M369.2 88.6h0M373.8 84.9h0M369.5 70.6h0M371.1 113h0M371.8 85.8h0M370.3 84.6h0M372.2 76.6h0M372.9 77.8h0M368.7 103.1h0M370.2 102.6h0M371.3 75.3h0M369.6 104.5h0M368.5 93.5h0M370.3 70.1h0M370.8 87h0M372.2 88.2h0M372.8 74.6h0M369.8 91.7h0M371.8 87.5h0M372.6 94.4h0M373.4 67.3h0M373.4 89.8h0M370.8 87.2h0M369.6 73h0M373.6 84.2h0M373.9 85.8h0M373.5 86.9h0M369.5 80.3h0M370.6 69.1h0M372.8 77.5h0M373.5 94.2h0M372.2 64.6h0M371.2 82.9h0M368.6 88.3h0M373.4 73.9h0M370.4 90.6h0" stroke="#ea1119" stroke-opacity="0.5" stroke-width="2.5" stroke-linecap="round" fill="none"/>
<path d="M373.9 90.8h0M373.7 114.2h0M369.8 80.3h0M368.9 84.7h0M374 98.8h0M371.8 90.8h0M368.7 87.9h0M369.2 78.6h0M372.8 137.3h0M371 109.2h0M368.9 137.2h0M372.1 99.3h0M371.1 91.8h0M370.7 76.1h0M371.5 90.2h0M372.4 73.8h0M372.8 82.8h0M371.7 87.9h0M368.8 75.1h0M369.3 79h0M373.7 100.9h0M371.6 85.3h0M371.4 87.5h0M370.5 96.9h0M372 97.2h0M370.2 101.1h0M370.9 89h0M370.7 85.4h0M372.8 71.7h0M368.5 92.1h0M372.8 84.2h0M369.7 76.7h0M369 76h0M373.2 71.8h0M373.6 116.8h0M370 93.4h0M373.8 88.4h0M373.3 111.7h0M373.1 75.3h0M371.2 81.4h0M372.1 100.7h0M370 93.7h0M372.9 99.6h0M372.1 93.8h0" stroke="#ea1119" stroke-opacity="0.5" stroke-width="2.5" stroke-linecap="round" fill="none"/>
<path d="M370.8 93.4h0M371 84.2h0M369.9 75h0M369.1 91.7h0M372.5 90.6h0M372 90.5h0M371.5 67.9h0M372.2 90.9h0M368.6 97.3h0M369.6 95.5h0M369.6 75.9h0M370.7 86.6h0M372.4 103.6h0M372.7 84.6h0M368.5 94.9h0M369.3 83.1h0M371.7 98.4h0M372.3 91.3h0M371.6 101.7h0M370.5 85.8h0M372.3 66.2h0M372.8 94.4h0M369.7 63.2h0M369.4 141h0M373.1 64h0M372.9 88h0M370.6 80.1h0M368.8 83.6h0M373.9 90.3h0M371.6 69.3h0M372.5 95.5h0M369.3 97.3h0M370 69.5h0M369.6 62.6h0M371.9 113.1h0M371.3 96.3h0M370.7 72h0M369.6 82.8h0M368.6 97.3h0M370.9 72h0M369.9 77.3h0M373.2 93h0M369.4 62.8h0M373.3 80.9h0" stroke="#ea1119" stroke-opacity="0.5" stroke-width="2.5" stroke-linecap="round" fill="none"/>
<path d="M371.2 62.6V79.2M371.2 97V123.7" stroke="#ea1119" stroke-width="0.7" fill="none"/>
<rect x="368" y="79.2" width="6.4" height="17.8" fill="#fff" fill-opacity="0.5" stroke="#ea1119" stroke-width="0.7"/>
<path d="M368 87.5h6.4" stroke="#ea1119" stroke-width="1"/>
<path d="M379.7 105.9h0M381.3 107h0M381.7 114.8h0M379 99h0M379.8 113.6h0M379.9 128.8h0M382.3 123.8h0M379.6 95.5h0M379.3 104.8h0M378.7 118h0M379.6 105.9h0M382.2 83.9h0M379.6 86.7h0M381.1 101h0M377.9 89.7h0M382.5 111.6h0M377.1 106.9h0M381.1 90.1h0M379.1 126.4h0M380 114.3h0M378.2 101.8h0M381.1 98h0M381.2 105.2h0M380 127.4h0M377.9 87.3h0M378.2 109h0M380.5 96.4h0M377.5 98h0M378.5 103.1h0M379.6 103.7h0M382 118.5h0M380.3 128.8h0M379.8 86.5h0M380.3 109.4h0M379.1 114.3h0M377.9 82.7h0M379.8 110.4h0M381.8 89h0M380.8 88.1h0M382 94.6h0M381.1 118.3h0M379.1 87.6h0M378.4 106.5h0M377.8 128.2h0M379.1 102.4h0" stroke="#ea1119" stroke-opacity="0.5" stroke-width="2.5" stroke-linecap="round" fill="none"/>
<path d="M381.4 95.1h0M377.4 124.1h0M381.5 86.1h0M382 105.7h0M377.8 110.1h0M377.6 104.8h0M382.4 90.7h0M381.1 121h0M380.4 111h0M382.3 94.8h0M378.1 89.6h0M382.4 97.9h0M381.1 103h0M378.1 128.1h0M379.5 119.7h0M378.5 105h0M381.3 108h0M377.9 106.8h0M380.2 120.4h0M382.2 89.4h0M381.6 107.6h0M378.2 110.9h0M379.5 106.5h0M379 116h0M377.7 124.4h0M378.6 94.2h0M379.1 93.5h0M379 108.8h0M382.1 110.2h0M380.1 103.8h0M377.8 91.3h0M378.5 106h0M381.1 95.7h0M380.8 104.4h0M382.1 105.2h0M381.4 110.2h0M381.5 82.5h0M381 95.5h0M382.1 93.3h0M382.4 81.8h0M382.3 100.1h0M377.5 99.9h0M381 111.2h0M377.1 107h0M382 136.9h0" stroke="#ea1119" stroke-opacity="0.5" stroke-width="2.5" stroke-linecap="round" fill="none"/>
<path d="M382.4 96.7h0M379.7 119.6h0M380.4 103.1h0M380.2 95.2h0M377.7 107.8h0M378.7 94.3h0M377.8 100.1h0M379.7 83.4h0M381 102h0M382.4 113.8h0M379.5 102.3h0M378.2 128.2h0M378.7 94h0M379.5 81.8h0M379.7 98.1h0M380.4 112.2h0M380.2 96.2h0M377.2 106.7h0M378.3 88.5h0M378.6 110.3h0M378.4 107.8h0M381.4 105.3h0M378.2 111.2h0M378.2 91.3h0M381.8 93.9h0M381.4 112.7h0M378.7 115.3h0M377.3 107.1h0M380.9 113.2h0M380.1 113.7h0M379.6 123.5h0M379.1 133.2h0M380.9 116.5h0M381.8 126.4h0M379 108.1h0M377.5 100.2h0M381.3 105.5h0M378.7 104.1h0M380 99.7h0M378.3 90.2h0M379.4 92.9h0M381.5 113h0M379.3 108h0M379.9 102.9h0M379 113.4h0" stroke="#ea1119" stroke-opacity="0.5" stroke-width="2.5" stroke-linecap="round" fill="none"/>
<path d="M379.3 99.1h0M381.6 99.3h0M380.7 120.2h0M377.6 97.6h0M377.2 109.2h0M379.1 131.7h0M381.7 98h0M378.5 103.3h0M381.8 115.1h0M377.1 111.4h0M377.6 105.5h0M377.8 117.8h0M380.7 116.4h0M382.2 108.3h0M377.5 96.2h0M382.1 108.7h0M382.3 93.5h0M381.8 99.9h0M380.5 111.7h0M382.2 92.8h0M382.2 109.3h0M382.2 102.1h0M378.2 115.9h0M381 100.3h0M377.4 87.9h0M379 103.2h0M381.6 105.4h0M380.7 100.8h0M381.3 109.8h0M377.1 105.5h0M380.5 92.5h0M381.3 88.2h0M381.4 91.8h0M380.4 89.2h0M380.8 96.2h0M380 112.8h0M379.5 97.6h0M380 81.7h0M378.4 105.5h0M379.1 131.5h0M377.6 101.1h0M378.3 110.2h0M380.7 82.6h0M381.7 109.8h0" stroke="#ea1119" stroke-opacity="0.5" stroke-width="2.5" stroke-linecap="round" fill="none"/>
<path d="M379.8 81.6V94.6M379.8 110V133.1" stroke="#ea1119" stroke-width="0.7" fill="none"/>
<rect x="376.6" y="94.6" width="6.4" height="15.4" fill="#fff" fill-opacity="0.5" stroke="#ea1119" stroke-width="0.7"/>
<path d="M376.6 102.8h6.4" stroke="#ea1119" stroke-width="1"/>
<path d="M388.8 128.9h0M388.7 98.2h0M387.8 113.1h0M388.1 92.3h0M390.8 109.9h0M387.7 91.6h0M391.1 114.1h0M386.8 78.1h0M390.8 121.7h0M387.3 107.8h0M388 119.7h0M388.3 131.9h0M388.2 109.3h0M387.6 116.5h0M386.4 90.3h0M390.6 100h0M386 109.1h0M387.6 99h0M390.3 114.9h0M388.4 110.5h0M389.2 101.5h0M385.9 113.7h0M390.7 89.7h0M388.5 115.8h0M390.5 91.4h0M390.1 109.3h0M390.4 117.2h0M387.9 85.3h0M389.5 126.5h0M387.9 110.3h0M387.9 110.1h0M390.4 129.9h0M388 109.4h0M388.9 103.2h0M391 106.3h0M386.3 104h0M390.6 100h0M386 134.9h0M390.3 104.9h0M390.1 106.1h0M389 102.1h0M386.4 98.2h0M386.5 78.3h0M389.8 101h0M386.9 101.2h0M389.8 105.1h0M388.7 100.8h0M390 96.2h0M387 111.1h0M388.1 86.7h0M387.2 100.2h0M391 114.8h0M387.5 112.8h0M388.1 109.1h0M388.4 113.4h0M388.7 106.5h0M386 103.3h0M386.5 92.3h0M388.1 93.1h0M389.7 110.1h0M386.1 104.2h0M389.8 106.7h0M389.7 107.4h0M389 85.2h0M387.5 115.8h0M386.6 78.3h0M389.4 105.7h0M388.8 86.9h0M386.6 99.3h0M389 118.9h0M387.6 94.5h0M387 129.9h0M389.2 107.7h0M389.9 78.3h0M390.3 106.2h0M389.2 111.9h0M386.7 103h0M386.6 87.5h0M390.6 104.7h0M386.2 118.4h0M386 120h0M387.8 91.8h0M389.3 106h0M386.9 108.3h0M388 78h0M387.5 106.2h0M387.6 105h0M390.3 119.5h0M388.9 96.5h0M389.3 102.3h0M390.4 97.3h0M388.3 97h0M390.3 109.8h0M386 110.4h0M388.2 98.2h0M388.8 111h0M388.2 124.9h0M387.2 131h0M389 104.8h0M386.4 109.5h0M388.2 101.5h0M389.1 97.9h0M390.7 104.9h0M389.8 115.9h0M388.7 120.7h0M391 102.7h0M386.1 101.6h0M389.5 109.1h0M385.8 105.2h0M389.9 107.3h0M387.6 104.5h0M387.8 93.5h0M389.4 99.2h0M387 95.3h0M387.1 100.3h0M388.5 100.6h0M388.5 113.3h0M388.8 98.6h0M386.7 83.7h0M390.2 122.9h0M386 104.6h0M388.4 85.1h0M390.4 95.9h0M388.4 98.2h0M389.6 94.8h0" stroke="#ea1119" stroke-opacity="0.5" stroke-width="2.5" stroke-linecap="round" fill="none"/>
<path d="M391 86.3h0M386.6 110.1h0M387.1 112.8h0M385.9 117.7h0M386.6 92.3h0M388.7 98.6h0M388.8 90.1h0M390.3 95h0M389.8 110.4h0M389.4 95.5h0M388.7 90.9h0M388.5 98h0M390.1 116.4h0M386.9 94.8h0M386.8 86.3h0M390 90.3h0M389.4 105.7h0M390.3 104.6h0M386.8 101.6h0M390.1 125.2h0M389.7 95.2h0M388.1 109.2h0M390.1 95.6h0M390.5 94h0M390.8 91h0M389 88.2h0M387.1 104.3h0M385.7 113.6h0M390.3 112.2h0M387.8 97.1h0M386.5 108.4h0M385.8 96.5h0M390 102.4h0M389.5 112.4h0M387.8 100.2h0M386.7 94.8h0M390 93.2h0M387.9 123.9h0M388.6 94.8h0M386.9 94.7h0M390 117.8h0M386.4 107.7h0M386.2 104.4h0M388.5 102.8h0M388.6 107.7h0M387.8 99.2h0M385.8 88.7h0M388.8 127.6h0M386.9 105.1h0M390.9 109.7h0M389.7 90h0M386.2 91.1h0M387.7 104.5h0M387.6 81.4h0M391.1 107.3h0M390.5 85.9h0M388.3 80.7h0M387.9 116.9h0M388.1 111h0M388.9 88.5h0M388.4 101.5h0M390.7 101.7h0M390.9 97.2h0M390.9 111.7h0M391 108.9h0M388.7 136h0M389.9 114.3h0M389.6 101.1h0M386.9 101.2h0M390.5 95.6h0M387.7 115.9h0M390.9 114.9h0M386.2 109.8h0M390.7 117.3h0M389.3 112.4h0M390.2 91.3h0M390.5 96.6h0M389.6 95.4h0M386.4 97.4h0M388.9 83.5h0M388.7 124.7h0M386.3 107.3h0M388.4 104.3h0M388.2 106.5h0M387.3 95.2h0M389.4 103.3h0M385.6 110.2h0M389.2 102.4h0M389.7 91.3h0M390.3 91.9h0M390.7 96.8h0M388.8 94.2h0M386.9 107.6h0M390.6 91.9h0M391.1 106.3h0M389.5 96h0M386.4 81.5h0M390.4 79.1h0M386.4 98.8h0M386.7 93.6h0M386 131.4h0M389 115.1h0M389.6 105.1h0M386.3 102.6h0M389.5 104.1h0M389.5 88.4h0M386.9 105.1h0M387.4 95.4h0M389.3 107.3h0M388.7 103.6h0M388.7 94.3h0M390.1 101.2h0M389.5 117.5h0M390.3 98.5h0M387.8 111.6h0M389.1 101.9h0M388.3 91.5h0M386.1 108h0M389.3 99.7h0M386.6 115.9h0M389.3 108.2h0M388 98.9h0M389.5 109.7h0M387.7 109.7h0" stroke="#ea1119" stroke-opacity="0.5" stroke-width="2.5" stroke-linecap="round" fill="none"/>
<path d="M387 103.1h0M389.6 97.4h0M387.4 112.1h0M386.6 115.1h0M388.1 119.4h0M385.6 96.6h0M389.3 78.4h0M386.5 100.4h0M385.9 82.5h0M386.4 108.2h0M388.5 86.5h0M386.1 100.5h0M386.9 110.9h0M386.4 95.7h0M389.9 100.4h0M388 102.6h0M390.9 87.5h0M389.9 102.2h0M389.2 103.5h0M389.4 92.9h0M389.1 100.1h0M389.7 121.4h0M388.3 108.5h0M387.2 99.2h0M389.6 90.8h0M389.3 107.7h0M389.9 104.7h0M386 110.1h0M388.6 92.2h0M387 100.4h0M386.4 104.5h0M387 107.5h0M388.3 94.4h0M389.1 98.2h0M386.6 100.7h0M390.7 100.7h0M386.9 107h0M391 92.5h0M389.2 109.3h0M389.3 78.5h0M387.1 96.4h0M391 94h0M386.1 130.5h0M387.1 114.7h0M385.8 107.1h0M390.7 110.7h0M388.7 96.4h0M389.9 103h0M387.6 88.3h0M389.2 115.1h0M385.8 115.4h0M390.4 85.4h0M387.6 117.7h0M386 102.1h0M386.8 112.6h0M390.2 99.6h0M388.4 94.9h0M389.4 117.9h0M390.6 113.2h0M390.5 86.9h0M385.9 91.6h0M386.2 90.5h0M389.3 92.9h0M386.1 99.8h0M390.8 96.3h0M387 106h0M387.5 93.6h0M388.4 120.8h0M389.8 91.8h0M386.4 117.9h0M390.9 78.1h0M389.7 107.9h0M387.2 95.7h0M390.9 110.4h0M389 90.1h0M387.8 102.2h0M390.4 94.7h0M387.8 78.3h0M389.1 87.9h0M386.1 107.6h0M388.8 101.6h0M390.5 96.8h0M390.7 116.4h0M389.6 113.3h0M387.1 97.3h0M388.8 108.4h0M389.5 102.5h0M389.3 98.1h0M389.9 99.6h0M387 107.8h0M386.9 105.7h0M386.7 130.3h0M390.3 101.7h0M387.1 93.5h0M388.9 101.7h0M386.6 96.9h0M389.2 135.1h0M385.7 88h0M385.7 88.9h0M387.8 99.5h0M389.8 92h0M386.9 78.1h0M387.1 100.2h0M386.6 89.5h0M386.1 96.6h0M387.6 98.1h0M389 106.2h0M385.6 94.4h0M390.2 78.3h0M386.5 78.5h0M390.1 104.2h0M387.3 114.8h0M389.6 88.4h0M389.7 110.5h0M387.5 128h0M390.4 113.9h0M387.3 92.8h0M388.8 95.2h0M390.3 102.7h0M387.9 95.6h0M386.4 122h0M390.3 116.8h0M389.3 103.8h0M389.4 110.3h0" stroke="#ea1119" stroke-opacity="0.5" stroke-width="2.5" stroke-linecap="round" fill="none"/>
<path d="M387.2 109.9h0M389.5 104.3h0M388.4 114.8h0M389.9 108.6h0M388.1 119.8h0M391 95.2h0M388.3 127.1h0M385.8 118.4h0M390 117.4h0M390.4 127.3h0M385.9 104.6h0M389 82.9h0M388.7 119.7h0M388 97.5h0M389.8 89.8h0M386 97.6h0M390.2 118h0M389.1 113.9h0M389.9 102.1h0M387 104.4h0M387.1 90h0M389.8 105.5h0M387.4 82.2h0M386.7 108.7h0M391 82.7h0M388.6 129.8h0M389.5 102.6h0M390.4 100.2h0M387.4 115h0M387.4 87.1h0M390.6 122.3h0M388.4 121.7h0M387.3 124h0M386.1 110.3h0M387.6 100.4h0M386.6 102.7h0M390.6 97.4h0M387.3 112.4h0M390.8 124.3h0M387.7 102.1h0M386.9 88.2h0M390.2 83.7h0M389.1 87.4h0M387.1 110.7h0M390.4 110.8h0M390.5 91.5h0M387.3 103.8h0M386.9 99.3h0M388.6 89.4h0M389.1 106.2h0M388.9 98.7h0M387.1 91.5h0M390.7 116h0M390.8 93h0M387.4 100.4h0M390.2 111.6h0M389.6 92.1h0M385.7 104.3h0M391.1 116.4h0M389.5 115.4h0M386.6 96.9h0M389.4 105.4h0M389.6 106.7h0M387.9 111.1h0M387.3 102.6h0M391 113.7h0M388.6 112.3h0M387.9 113.5h0M389.2 98.6h0M390.3 128.5h0M387.6 105.5h0M388.2 116.2h0M388.5 90.9h0M390.4 102.9h0M386.2 105.5h0M386.3 91.4h0M387.2 89.1h0M387.1 127.6h0M390.9 101.3h0M389 113.4h0M389.8 110.1h0M389.2 87.8h0M388.6 94.4h0M388.2 111.1h0M387.6 104.8h0M385.6 131.1h0M387.1 88.8h0M390 143.7h0M386 95h0M387.7 103.4h0M388.3 95.9h0M387.7 139.2h0M390.9 118.5h0M386.3 87.2h0M387.1 103.9h0M390.8 108h0M388.4 109h0M387.2 96.3h0M389.8 108.6h0M388 113.5h0M385.7 114.3h0M387 107h0M386.2 88.2h0M389.4 98.3h0M387.5 108.5h0M387.4 105.3h0M387.1 91.6h0M385.8 115.7h0M388.7 97.6h0M386.9 97.7h0M390.2 78.6h0M388.8 93.5h0M389.5 106.1h0M390.2 125.3h0M390.2 112.6h0M387.6 123.4h0M388.4 139h0M387.6 91.1h0M389.4 121.1h0M386.9 110.3h0M390.2 107.3h0M387.4 80.6h0M390.1 112.1h0M386.6 106.8h0" stroke="#ea1119" stroke-opacity="0.5" stroke-width="2.5" stroke-linecap="round" fill="none"/>
<path d="M388.4 78V95.7M388.4 110V131.4" stroke="#ea1119" stroke-width="0.7" fill="none"/>
<rect x="385.2" y="95.7" width="6.4" height="14.3" fill="#fff" fill-opacity="0.5" stroke="#ea1119" stroke-width="0.7"/>
<path d="M385.2 102.8h6.4" stroke="#ea1119" stroke-width="1"/>
<path d="M394.4 97.1h0M399.1 116.3h0M395.4 104.2h0M394.8 107.6h0M397.5 93.8h0M396.5 89.3h0M398.2 88.5h0M397.8 104.3h0M397.7 108.2h0M397.2 103.6h0M396.5 112.9h0M395.8 83.9h0M396 97.2h0" stroke="#2347bd" stroke-opacity="0.6" stroke-width="2.5" stroke-linecap="round" fill="none"/>
<path d="M396.7 96.2h0M397.5 93.2h0M394.7 80.4h0M394.9 91.2h0M395 100.3h0M399.1 93.6h0M396.4 95.9h0M394.7 107.4h0M395.2 103.7h0M396.4 94.4h0M399.1 88.1h0M399.3 109.4h0M396.1 102.9h0" stroke="#2347bd" stroke-opacity="0.6" stroke-width="2.5" stroke-linecap="round" fill="none"/>
<path d="M395.2 97.5h0M394.3 102.5h0M395.8 104.1h0M399.6 89.7h0M396.5 99h0M395.3 90.1h0M399.6 86.3h0M397.3 87.9h0M398.6 88.5h0M396.4 91.1h0M397.5 99.1h0M399.4 103.2h0M395.5 96.1h0" stroke="#2347bd" stroke-opacity="0.6" stroke-width="2.5" stroke-linecap="round" fill="none"/>
<path d="M397.4 111.2h0M395.1 109.5h0M395.2 104.5h0M396 89.4h0M399.2 106.5h0M395.7 100h0M399.3 92.5h0M397.6 110.8h0M396.5 81.1h0M395.8 98.8h0M398 86.9h0M397.2 86h0M394.5 103.2h0" stroke="#2347bd" stroke-opacity="0.6" stroke-width="2.5" stroke-linecap="round" fill="none"/>
<path d="M396.9 80.4V93.4M396.9 106.4V117" stroke="#2347bd" stroke-width="0.7" fill="none"/>
<rect x="393.7" y="93.4" width="6.4" height="13" fill="#fff" fill-opacity="0.5" stroke="#2347bd" stroke-width="0.7"/>
<path d="M393.7 99.3h6.4" stroke="#2347bd" stroke-width="1"/>
<path d="M406.9 91.6h0M407.7 70.7h0M403.9 101.1h0M406.6 85.3h0M404.2 98.6h0M405.6 97.8h0M407.1 105.5h0M402.9 97.4h0M403 101.5h0M403.3 117.3h0M407.6 98.8h0M407.5 72.4h0M403.5 74.5h0M407.5 98.5h0M406.8 107.1h0M404.6 88.1h0M403.1 104.3h0M403.2 96.1h0M406.9 112.5h0M403.7 71.4h0M407.2 93.8h0M407 93.8h0M407.4 99h0M403.9 87.7h0M402.9 90.2h0M407 95.7h0M408 90h0M404.2 106.7h0M404.3 82h0M407 86.3h0M402.9 100.5h0M407.9 93.2h0M403.5 100.6h0M403.1 100.4h0M402.9 99.6h0M403.4 94.8h0M405.6 89.4h0M405.4 90.6h0M403 101.9h0M408 97.9h0M403.5 86.4h0M402.8 69.7h0" stroke="#ea1119" stroke-opacity="0.5" stroke-width="2.5" stroke-linecap="round" fill="none"/>
<path d="M406.3 97.6h0M407.9 96h0M407.3 102.1h0M404.3 75.4h0M404.1 97h0M404.2 85h0M405.1 96.8h0M408 79h0M407.6 91.8h0M404.7 66.8h0M403.1 94.8h0M406.7 90.7h0M402.9 90.3h0M403.1 80.4h0M404.3 100.9h0M402.9 81h0M408.2 96.8h0M406.9 99.5h0M403.5 77.4h0M407.9 64.5h0M406.1 96.1h0M407.9 85.1h0M406.7 77.5h0M403.1 79.5h0M406.6 91.5h0M405 87.5h0M406 99.4h0M404.1 109.8h0M405 85h0M403.5 91.3h0M406.6 79.6h0M407 119.8h0M405.6 95h0M406.7 92.3h0M404.4 93.1h0M407.5 86.4h0M405.6 85.9h0M405.8 105.5h0M407 87.7h0M406.8 102.4h0M406.8 85.8h0M406.3 93.1h0" stroke="#ea1119" stroke-opacity="0.5" stroke-width="2.5" stroke-linecap="round" fill="none"/>
<path d="M403.2 93.3h0M404.8 94.3h0M404.7 104.1h0M403.2 81.9h0M405.4 82h0M407.7 84.1h0M406.9 97.5h0M405.3 95.7h0M404.7 89.1h0M407.4 102.3h0M407 89.1h0M403.7 92.5h0M405.9 83.6h0M407.4 89.6h0M405.4 87.5h0M404.4 89.2h0M405.6 90.2h0M405.8 87h0M404 105.7h0M407.2 84.2h0M403.9 70.4h0M406.8 81.6h0M405.8 84.9h0M402.9 103.2h0M403 113.1h0M406.3 98.6h0M404.2 105.7h0M406.3 90.1h0M406.5 87h0M407.8 94.1h0M405.9 94.2h0M403.9 79.6h0M405.3 88.2h0M405 92.2h0M407.4 91.3h0M403.5 86.2h0M404.1 83h0M407.7 98h0M406.4 90.3h0M405.6 93.1h0M406.7 93.2h0" stroke="#ea1119" stroke-opacity="0.5" stroke-width="2.5" stroke-linecap="round" fill="none"/>
<path d="M403.2 108.3h0M403.1 88.6h0M406.8 91h0M403.7 86h0M406.5 82.3h0M402.9 97.6h0M402.7 94.5h0M405.5 90.4h0M407.9 83.4h0M407.7 91.6h0M407.4 97.4h0M405.5 81h0M406.2 98.3h0M405.5 82.3h0M406.7 89.1h0M406.5 82.3h0M405.7 85.6h0M404.9 95.4h0M407.6 89.1h0M408.2 85.4h0M407.1 86.6h0M403.1 102h0M403 92.3h0M405.2 95.2h0M408 95.1h0M403.6 85.1h0M403.3 99.2h0M404.7 88.8h0M407.8 90.5h0M403.2 106.6h0M403.5 122.5h0M406.9 96.7h0M405.1 92.1h0M407.7 89.9h0M405.5 100.9h0M405.7 74.9h0M404 103.9h0M406.5 94.3h0M404.9 99.3h0M404.1 120.5h0M407.5 97.5h0" stroke="#ea1119" stroke-opacity="0.5" stroke-width="2.5" stroke-linecap="round" fill="none"/>
<path d="M405.5 68.8V86.3M405.5 98V115.6" stroke="#ea1119" stroke-width="0.7" fill="none"/>
<rect x="402.3" y="86.3" width="6.4" height="11.7" fill="#fff" fill-opacity="0.5" stroke="#ea1119" stroke-width="0.7"/>
<path d="M402.3 92.2h6.4" stroke="#ea1119" stroke-width="1"/>
<path d="M411.7 93.9h0M416.1 103.3h0M414 106.3h0" stroke="#2347bd" stroke-opacity="0.6" stroke-width="2.5" stroke-linecap="round" fill="none"/>
<path d="M414.4 101.2h0M414.2 99.2h0M415.3 110.8h0" stroke="#2347bd" stroke-opacity="0.6" stroke-width="2.5" stroke-linecap="round" fill="none"/>
<path d="M412.3 109.7h0M416.4 108.9h0" stroke="#2347bd" stroke-opacity="0.6" stroke-width="2.5" stroke-linecap="round" fill="none"/>
<path d="M413.1 102.5h0M412.7 110.2h0" stroke="#2347bd" stroke-opacity="0.6" stroke-width="2.5" stroke-linecap="round" fill="none"/>
<path d="M414 93.4V98M414 105.2V111" stroke="#2347bd" stroke-width="0.7" fill="none"/>
<rect x="410.8" y="98" width="6.4" height="7.2" fill="#fff" fill-opacity="0.5" stroke="#2347bd" stroke-width="0.7"/>
<path d="M410.8 101.7h6.4" stroke="#2347bd" stroke-width="1"/>
<path d="M421.8 81.8h0M423.3 84h0M422.2 76.7h0M420.4 99.7h0M420.3 85.8h0M422.2 53.2h0M420.9 53.3h0M422.6 94h0M425.1 101.6h0M421.5 83.1h0M423.7 78.9h0M421.4 68.2h0M420.7 72.7h0M422.2 94.2h0M420.4 111.2h0M422.7 88h0M419.9 87.7h0M420.2 90.3h0M423.8 101.2h0M421.3 88.1h0M421.2 82.4h0M423.2 86.5h0M422 73.4h0M421.8 98.2h0M422 50.2h0M424.6 99.3h0M421.8 107.6h0M423.4 96h0M421.8 88.3h0M425.3 93h0M422.9 94.1h0M422.4 71.9h0M423.2 99.4h0M425.2 75h0M420.5 74.2h0M422.7 81.3h0M423.4 97h0M423.6 93.8h0M422.7 132.4h0M421.2 95.5h0M423 101.8h0M420.4 103h0M422 96.4h0M420.1 91.5h0M424.1 89.3h0M423.6 73.9h0M423.3 101.2h0M421.7 108h0M421.8 85.6h0M422.8 109h0M422.1 81.4h0M420.1 101h0M420.4 92.6h0M420.2 111.1h0M424.5 90.3h0M425.2 80.7h0M425.1 92.6h0M421.2 101h0M422.9 96.5h0M424.3 49.4h0M425.2 122.7h0M423 89.4h0M422.6 91.3h0M421.9 96.8h0M419.9 95.1h0" stroke="#ea1119" stroke-opacity="0.5" stroke-width="2.5" stroke-linecap="round" fill="none"/>
<path d="M421.5 98.6h0M422.6 104.1h0M424.8 99h0M425.2 85.4h0M420.8 92.5h0M421 81.1h0M421.1 47.7h0M420.7 69.3h0M424.5 67.1h0M423.8 103.8h0M421.6 89.1h0M421.3 89.3h0M422.5 153.6h0M421.8 100.2h0M424.8 96.3h0M423.8 98.2h0M420.5 139.8h0M421.2 93.4h0M424.7 95.9h0M422.3 110.1h0M420.8 92.2h0M420.8 109.8h0M422.8 100.4h0M420.5 102.6h0M422.6 99.8h0M421.6 95.4h0M421.1 77.6h0M423.9 74.6h0M421.6 96.8h0M420.8 81h0M423 87.4h0M425 95.7h0M423.7 134h0M425.2 108.5h0M422.6 95.2h0M423.5 86.4h0M422.1 79.6h0M422.3 90.7h0M422.8 87.5h0M423.5 98.4h0M423.4 152.9h0M423.5 97.1h0M421.5 70.5h0M424.2 97.6h0M424.8 89.9h0M423.5 87.2h0M420.1 77.5h0M425.1 97.3h0M424.1 85.9h0M421.1 70.9h0M420.8 110.4h0M424.4 46.2h0M422.3 58.1h0M423.9 69h0M420.7 87.4h0M422.2 89.2h0M424 92.7h0M421.1 84h0M425.1 96.8h0M421.9 92.1h0M422.7 109.5h0M424.5 91.8h0M420.5 81.8h0M424.4 92.2h0M421.7 94.3h0" stroke="#ea1119" stroke-opacity="0.5" stroke-width="2.5" stroke-linecap="round" fill="none"/>
<path d="M423.1 125h0M420.3 84.8h0M420.8 71.4h0M422.6 87h0M421.5 98.8h0M425.3 102.8h0M423.8 84h0M423.5 76.2h0M423.1 109.1h0M420.1 84.2h0M421.5 96.8h0M424.2 95.8h0M423.2 97.8h0M420.1 93.7h0M423.4 55h0M421.7 77h0M422.1 133.6h0M423.7 84.3h0M420.4 76.1h0M420.9 85.8h0M424.3 107.3h0M421.6 83.4h0M422.7 72.4h0M422 89.8h0M423.4 95.9h0M422.9 98h0M419.9 91.5h0M423.9 92.2h0M420 97.4h0M423.4 72.8h0M424.4 96.3h0M421.9 82.8h0M423.2 63.5h0M423.7 93.8h0M422.8 89.6h0M421.6 80.4h0M423.6 95.9h0M424.7 93h0M422.8 101.5h0M420 98.9h0M424.6 88h0M423.3 102.6h0M424.4 79.9h0M422.1 67.2h0M420.5 92.8h0M420.9 93.2h0M420.7 76.4h0M420.5 111.4h0M420.6 98.3h0M423.2 59.9h0M422.2 92.8h0M423.1 95.9h0M424.1 115.2h0M422.6 92.2h0M423 100.1h0M423.4 75.9h0M425.1 73.2h0M423.2 94.4h0M420.2 89.9h0M423.7 93.6h0M424.7 93.7h0M420.5 87.2h0M421.6 92.9h0M421.9 106.5h0M425.2 65.9h0" stroke="#ea1119" stroke-opacity="0.5" stroke-width="2.5" stroke-linecap="round" fill="none"/>
<path d="M424.9 77.5h0M421.1 91.9h0M419.9 83.4h0M420.5 80.9h0M423 89h0M421.6 88.3h0M424 91h0M421.2 95h0M424.7 82.7h0M423.4 106.2h0M424.4 71.9h0M424.8 84.3h0M421.5 85.6h0M425.3 85h0M421.8 84.1h0M421.7 80.9h0M421.6 85.4h0M425 82.5h0M422.7 95h0M422.2 78.7h0M423 79.7h0M421.9 79.8h0M424.6 74.7h0M424.1 80.2h0M423.7 76h0M420.1 74.6h0M425.2 89.7h0M424.8 107.8h0M421.1 91.9h0M423 85.5h0M423.6 96.6h0M422.4 97.6h0M425.3 89.9h0M421.9 100.5h0M422.4 61.7h0M421.5 86.6h0M422.9 92.2h0M424.3 97.3h0M420.8 83.3h0M420.3 65.8h0M424.6 73.5h0M422.8 83.7h0M420.7 91.8h0M420 90.6h0M421.1 67.5h0M424.6 61.8h0M424.1 87.9h0M424.2 63.7h0M423.1 95.1h0M423.9 81h0M420.6 96.4h0M423 110h0M422.3 80.2h0M420.6 79.9h0M422.2 92.6h0M419.9 71.5h0M420.9 68.9h0M422.3 103.7h0M421.3 91.3h0M420.1 85.3h0M425.3 80.4h0M421.1 83.6h0M421.3 93.8h0M422.2 83.7h0" stroke="#ea1119" stroke-opacity="0.5" stroke-width="2.5" stroke-linecap="round" fill="none"/>
<path d="M422.6 57V81.6M422.6 98V122.6" stroke="#ea1119" stroke-width="0.7" fill="none"/>
<rect x="419.4" y="81.6" width="6.4" height="16.4" fill="#fff" fill-opacity="0.5" stroke="#ea1119" stroke-width="0.7"/>
<path d="M419.4 91h6.4" stroke="#ea1119" stroke-width="1"/>
<path d="M433.2 74h0M432.4 92.5h0M431.8 86.3h0M429 94.7h0M430.7 75.4h0M432.9 90.4h0M432 89.2h0M430.6 102.1h0M430.9 61h0M429.2 48.2h0M430.9 102.7h0M430 61.4h0M430.7 63.5h0M433.8 77.3h0M431.9 106.2h0M433.3 121.9h0M430.7 66.3h0M428.5 86.9h0M428.4 97h0M432.4 60.6h0M431.2 84.1h0M428.9 70.4h0M430.6 115h0M429.5 94.8h0M430.1 68.1h0M430.6 86h0" stroke="#ea1119" stroke-opacity="0.5" stroke-width="2.5" stroke-linecap="round" fill="none"/>
<path d="M431.2 113.3h0M433.4 112.7h0M428.8 123.3h0M433.2 100.7h0M429.5 99.4h0M431.5 47.6h0M431.9 118.6h0M428.8 91.7h0M433.1 108.2h0M430.6 104.8h0M433 84.2h0M430.8 74.8h0M431.1 92.3h0M429 72.3h0M430.9 50.4h0M432.8 53.2h0M429.6 120.5h0M430.2 101.4h0M431.7 93.1h0M429.2 86.7h0M429.7 93.1h0M428.4 79.6h0M432.5 103h0M430.3 140.8h0M432.6 101h0M431.7 103h0" stroke="#ea1119" stroke-opacity="0.5" stroke-width="2.5" stroke-linecap="round" fill="none"/>
<path d="M431.8 87.5h0M430.1 98.9h0M431.1 143.3h0M430.5 78.4h0M431.3 83h0M428.7 127.8h0M431.3 73.6h0M433 78.1h0M429.7 82.6h0M428.5 79.8h0M429 120.2h0M429.7 76.6h0M432 100.5h0M433.6 127.6h0M429 91.1h0M430 106.2h0M430.6 75.4h0M433.1 105.3h0M432.1 107.4h0M428.5 85.4h0M429.2 86.5h0M430.6 76h0M433.3 76.8h0M433.8 66.2h0M428.4 99h0M428.5 75.1h0" stroke="#ea1119" stroke-opacity="0.5" stroke-width="2.5" stroke-linecap="round" fill="none"/>
<path d="M431.6 101.1h0M430.7 89.7h0M429.1 99.9h0M433.1 80.6h0M431.2 87h0M433.5 119.2h0M429.9 95.3h0M428.8 80.7h0M429 81.7h0M430 86.9h0M428.8 93.3h0M429.1 92.8h0M432.4 92.1h0M429.4 88.7h0M430 93.4h0M433.8 73.2h0M429.9 66.4h0M431.1 88.4h0M430.6 105.8h0M433.2 107.9h0M431.3 85h0M429.2 106.7h0M431.5 105h0M432.4 96h0M429.5 72.4h0" stroke="#ea1119" stroke-opacity="0.5" stroke-width="2.5" stroke-linecap="round" fill="none"/>
<path d="M431.2 47.3V79.2M431.2 101.7V135.4" stroke="#ea1119" stroke-width="0.7" fill="none"/>
<rect x="428" y="79.2" width="6.4" height="22.5" fill="#fff" fill-opacity="0.5" stroke="#ea1119" stroke-width="0.7"/>
<path d="M428 91h6.4" stroke="#ea1119" stroke-width="1"/>
<path d="M438.2 51.2h0M438 91.6h0M439.9 71.8h0M437.5 98.8h0M442 70.3h0M438.8 94.2h0M437.5 71.5h0M438.8 82.9h0M438.5 77.2h0M437.8 62.7h0M437.5 103.8h0M439.3 102.6h0M439.5 71.1h0M437.8 106.1h0M437.8 79.6h0M441.2 111.8h0M438.5 85.1h0M441.7 94.9h0M439 93.1h0M441.9 95h0M440.7 62.5h0M439.5 91.8h0M439.1 62.7h0M441.2 75.6h0M438.5 46.6h0M441.8 125.1h0M442.1 79.1h0M437.2 84.7h0M439.7 71.2h0M437.3 91.1h0M441.3 111.4h0M438 83.3h0M442 112.9h0M442.3 75.4h0M440.6 86.7h0M440.5 76.2h0M437.3 102.5h0M440.1 100.4h0M437.5 132h0M442.4 75.4h0M440 99.3h0M440.6 105.8h0M438 74.4h0M441.6 108.4h0M442.2 78.2h0M437.2 73.4h0M437.9 42h0M438 108.1h0M438.3 102.5h0M437.1 60.5h0M437.7 120.5h0M441.1 77.8h0M441 85.9h0M437.1 77.2h0M439.5 104.4h0M437.1 42h0M440 73.2h0M442.1 86.2h0M440.2 98h0M440 100.8h0M440.5 83.6h0M437.9 107.6h0M439.2 70.4h0M439.8 88.7h0M441.8 89.5h0M440.5 80.4h0M439.8 83.6h0M441.1 81.9h0M437.3 111.4h0M441.9 83.1h0M438.6 86.9h0M438.9 121.9h0M440.2 70.5h0M439 82.4h0M439.5 95.8h0M437.9 104.2h0M437.6 66.2h0M437.7 67.7h0M440.9 95.7h0M440.7 77.3h0M437.5 83.5h0M439.8 68.5h0M441.7 91.3h0M440.3 70.7h0M441.4 69.3h0M438.5 57h0M437.6 87.7h0M439.3 74.1h0M439.3 97.6h0M437.9 113.7h0M437.6 73.4h0M437.1 81.2h0" stroke="#8a52d0" stroke-opacity="0.6" stroke-width="2.5" stroke-linecap="round" fill="none"/>
<path d="M439.4 59.7h0M437.3 65.7h0M438 87.5h0M439.2 81.3h0M442.2 83.1h0M438.6 88.9h0M439.2 78.1h0M437.6 92.1h0M439 84.5h0M438.5 81.2h0M440.3 70.7h0M439.9 65.3h0M440.9 83.3h0M439.1 72.2h0M439.4 104.3h0M437.9 89.6h0M438.8 80.4h0M441.1 61h0M438.5 75.6h0M439 80.4h0M440.8 91.1h0M437.1 83.1h0M440.1 56.2h0M439.8 101.6h0M442 79.1h0M440.6 83.2h0M440.6 108.4h0M438.9 109.3h0M438.4 106.8h0M438.5 102.3h0M441.3 68.5h0M438.7 96.9h0M437.5 96.8h0M438.5 65.6h0M437.1 51.5h0M439.3 54.7h0M441.5 96.2h0M442.2 70.3h0M438.2 96.5h0M437.8 70.2h0M441.4 63.8h0M442.3 81.5h0M439.7 76.5h0M441.5 101.7h0M440.8 80.7h0M441.1 70.9h0M439.7 86.3h0M437.8 100.2h0M439 87.1h0M437.7 51.5h0M437.3 54.4h0M438.5 57.3h0M440.3 101.6h0M437.5 92.5h0M440.7 75.6h0M438.2 128.5h0M441.9 87.4h0M441.7 102.5h0M441.6 90.8h0M442.2 75.7h0M441.8 89.8h0M442.2 95.2h0M440.2 82.4h0M440.3 52.6h0M437.7 84.5h0M439.6 94.7h0M440.2 87.1h0M437.2 70.1h0M442.3 76.9h0M442.1 113.2h0M438.5 118.1h0M441.8 90.8h0M439.1 90.3h0M442 73.9h0M441.3 95.7h0M441.7 102.2h0M437.2 66.9h0M441.1 86.5h0M441.3 79.3h0M442.3 42.8h0M441.4 90.1h0M437.3 94.9h0M441.8 74.3h0M441.8 91.8h0M437.5 101.8h0M438.8 113.6h0M437.9 110.5h0M442.3 84.7h0M440.7 114.1h0M439.8 82.5h0M439 66.5h0M441.5 98.5h0" stroke="#8a52d0" stroke-opacity="0.6" stroke-width="2.5" stroke-linecap="round" fill="none"/>
<path d="M437.1 80.5h0M440.8 86.3h0M441.7 91h0M438.3 99.6h0M438.2 79.8h0M437.5 74.3h0M437.6 56.1h0M440.9 73.1h0M438.5 95h0M440.2 90.6h0M440.6 74.4h0M438.8 93h0M440.8 73.7h0M440.9 96h0M440.9 110.2h0M438.3 66.2h0M441.7 62.8h0M439.9 80.4h0M440.1 132.3h0M439.7 73.7h0M437.2 83.1h0M439.4 103.3h0M439.3 115.4h0M438.2 129.9h0M438.7 113.6h0M439.6 47.6h0M440.8 69.5h0M441.2 69.5h0M441.4 94h0M439.2 71.5h0M441.4 92.6h0M441.3 82.5h0M438.1 74.3h0M438.1 112.7h0M437.7 75.6h0M441 68.6h0M437.3 47.4h0M442.4 78h0M440.6 69.8h0M437.3 92.7h0M439.3 108.2h0M441.5 78.6h0M437.6 80.4h0M439.1 61h0M439.9 82.2h0M440 70.1h0M438 69.8h0M438.1 79.7h0M441.9 63h0M442 89.8h0M440.2 44.6h0M438.9 77.3h0M437.2 66.6h0M438.9 78.4h0M437.6 103.7h0M437.5 94.4h0M440 90.9h0M441.7 89h0M440.8 127.4h0M441.1 129.9h0M439 129h0M440.9 76.9h0M440.3 97.2h0M441.6 90h0M441.5 79.2h0M441 73.4h0M437.6 80h0M441.9 79.1h0M437.7 99.4h0M439.6 83.8h0M441.4 75.5h0M440.5 68.8h0M442.2 73.1h0M437 68.2h0M442.1 79.3h0M440.3 74.9h0M438.4 92.1h0M439.3 86.1h0M441.8 89.3h0M439.4 88h0M438 75h0M440.9 131.4h0M437.5 73.1h0M441.5 80.5h0M441.1 91.3h0M440.2 69.1h0M437.2 82.4h0M439.8 64.1h0M441.2 86.5h0M441.4 64.1h0M437.2 84.4h0M440.4 90.2h0" stroke="#8a52d0" stroke-opacity="0.6" stroke-width="2.5" stroke-linecap="round" fill="none"/>
<path d="M440 99.8h0M440.1 69.8h0M437.1 70.9h0M439.2 81.6h0M438.1 107.4h0M440.8 83.5h0M441.5 113.2h0M438.2 86.4h0M439.6 95.9h0M439.4 98.7h0M440.4 77.5h0M441.9 95.2h0M439.4 90.2h0M439 91.2h0M442.2 79.4h0M440.6 64.9h0M442.3 71.2h0M438.2 106.6h0M438.1 81.4h0M442.2 93.9h0M442 65h0M442.4 58h0M442.3 96.9h0M438 97.5h0M441.2 86.1h0M441.4 69.7h0M441.5 63.9h0M439.5 55.5h0M441.1 85h0M439.4 82.9h0M437.8 69.2h0M437.5 119.5h0M438.8 83.4h0M437.9 94.4h0M442.1 111.4h0M441.9 94.9h0M442 108.5h0M439 79.6h0M441.3 66.6h0M439.6 66.5h0M437.7 106.8h0M440.8 80.9h0M440 97.1h0M438.6 79.6h0M440.6 68.4h0M441.2 85.6h0M441.3 58.7h0M439.5 81.7h0M438.8 95.9h0M437 85.6h0M441 73.9h0M442.3 90.3h0M438.8 77.7h0M437.7 94.8h0M440.1 87h0M440.6 105.5h0M440.7 106.8h0M440.4 79.7h0M438.1 72.5h0M437.4 100.7h0M439.4 105.7h0M438.1 95.1h0M438.2 103.3h0M439.4 87.6h0M439.4 75.5h0M437.8 78.1h0M439.7 84.6h0M441 106.6h0M437.7 63.8h0M438.7 101.4h0M439 90.8h0M440.7 70.8h0M437.8 90.5h0M440.8 130h0M437.5 86.9h0M437.1 74.9h0M440.9 66.5h0M440.5 124.7h0M441.9 86.5h0M439.9 56.2h0M439.1 52.8h0M438.8 87.8h0M437.1 76.1h0M438.9 94h0M437.6 82.6h0M441.5 95.3h0M438.4 132.2h0M438.3 72.3h0M439.7 79.8h0M441.8 103h0M442.2 103.2h0M442.3 81.3h0" stroke="#8a52d0" stroke-opacity="0.6" stroke-width="2.5" stroke-linecap="round" fill="none"/>
<path d="M439.7 45.4V75.6M439.7 95.7V125.9" stroke="#8a52d0" stroke-width="0.7" fill="none"/>
<rect x="436.5" y="75.6" width="6.4" height="20.1" fill="#fff" fill-opacity="0.5" stroke="#8a52d0" stroke-width="0.7"/>
<path d="M436.5 85h6.4" stroke="#8a52d0" stroke-width="1"/>
<path d="M448.3 84.4h0M449.8 89.3h0M448.6 90.4h0M450.3 93.2h0M449.2 90.7h0M446.9 75.3h0M446.3 98h0M446.2 88.9h0M449 89.2h0M447 82.9h0M447 70.7h0M447.7 78h0M446.9 82.6h0M447.7 97.4h0M448.5 82.7h0M449 88.5h0M447.1 82.4h0M447.5 107.7h0M449.2 101.3h0M447.9 83.2h0M445.7 95.6h0M446.8 84.8h0M448.1 92.5h0M446.9 104.3h0M450 77.6h0M445.7 104.1h0M448.8 92.6h0M448.8 91.1h0M445.7 84.3h0M446.5 101.7h0M447.4 79.4h0M449 94.4h0M449.5 73h0M445.8 96.2h0M450.8 73.6h0M446.5 75.4h0M449.4 95.7h0M450.9 83.9h0M446.6 76.5h0M447 98.5h0M447.1 66.2h0M446.1 79h0M449.4 97.2h0M450.1 82.1h0M450.9 67.3h0M450.7 73.7h0M445.8 89h0M448.8 86.8h0M450.5 86.7h0M446.6 72h0M449.1 94.4h0M447 85.9h0M448.9 58.5h0M447.2 83.2h0M450.2 76.5h0M449.8 96.8h0M450.5 114h0M448.5 92.4h0M447 90h0M450.1 81.5h0M447 91h0M447.5 83h0M447.5 86.6h0M449.4 80.5h0M450.5 87.1h0M445.7 90.7h0M446.4 104h0M449.5 85.1h0M448.1 91.9h0M450.2 84.9h0M446.1 73.4h0M446.4 93.8h0M450.7 96.2h0M450.2 112.1h0M451 96.7h0M449.2 91.3h0M449.6 93.4h0M449.2 78.6h0M447.3 97.3h0M449.4 96.1h0M450.5 76.3h0M447.3 68.4h0M448.7 93.3h0M446.7 104.7h0M445.9 75.7h0M447.2 87.2h0M449.4 63.3h0M448.5 92.5h0M449.5 95h0M449.2 98.2h0M450.7 93.2h0M449.2 89.6h0M449.5 84.6h0M445.7 93h0M448 76.2h0M449.9 75.8h0M447.4 85.8h0M447.1 92.3h0M445.8 102.8h0M450 91.7h0M447.6 89.4h0M448.2 83.5h0M446.1 68.8h0M447.8 84.9h0" stroke="#ea1119" stroke-opacity="0.5" stroke-width="2.5" stroke-linecap="round" fill="none"/>
<path d="M450.6 110.2h0M450.8 75h0M450.2 73h0M448 81.1h0M450.3 82.2h0M449.4 91.5h0M446.5 100.1h0M446.8 93.7h0M446.6 80.3h0M450.8 89.6h0M446.2 118.1h0M445.9 89.6h0M450.6 96.9h0M446.5 91.8h0M445.6 79.6h0M447 82.1h0M450.4 88.3h0M449.6 82.6h0M447.8 84h0M449.3 97.3h0M446 79.2h0M450.3 88.4h0M446.5 68h0M449 70.1h0M450.5 84.1h0M450.2 85.2h0M450.3 88.1h0M448.4 87.7h0M450 92.8h0M449.7 88.8h0M445.9 89h0M447.6 88.5h0M446.8 87.4h0M450.5 93.4h0M450.7 92.5h0M446.6 68h0M449.9 79.3h0M447.7 87.6h0M450.3 93h0M448.4 74.6h0M445.7 75h0M449.1 83.4h0M445.7 93.8h0M448.4 101.3h0M449 82.3h0M446.2 89.5h0M448.3 78.4h0M449.7 95.1h0M447 49h0M449.8 94.4h0M449.8 93h0M446 101.1h0M446.5 94.2h0M445.8 84h0M445.8 116.8h0M447.7 101.7h0M446 83.5h0M447.4 96.6h0M447.2 87h0M450.4 97.3h0M448.7 75.5h0M445.7 73.9h0M445.7 82.2h0M446.3 85.8h0M446.7 111h0M446.5 92.2h0M446.4 75.3h0M450.7 88.4h0M449.2 100.5h0M447 95.1h0M446.3 82.6h0M448.7 118.6h0M449 86.8h0M446.1 79.8h0M450.1 81.6h0M449.9 81.4h0M446.1 89.7h0M450 88.8h0M445.6 69.8h0M446 89.8h0M447.9 102.9h0M449.6 90.9h0M449.7 92h0M448 92.5h0M450.6 72.4h0M446.5 97.7h0M446.7 104.8h0M449.5 97.9h0M450.2 87.9h0M450.4 93.8h0M446.2 77.2h0M450 79.8h0M450.3 97.6h0M446.5 92.5h0M450.4 91.6h0M446.1 88.1h0M448.5 88.2h0M446.5 96.4h0M446 76.9h0M449.5 57.2h0M449.6 96.5h0M445.6 76.4h0M450.4 117.2h0M448.5 88.6h0" stroke="#ea1119" stroke-opacity="0.5" stroke-width="2.5" stroke-linecap="round" fill="none"/>
<path d="M448.7 96.1h0M450.3 84.2h0M450.1 93.3h0M448.5 83.8h0M450.2 71.7h0M450.5 78.6h0M445.7 53.3h0M447.8 80.3h0M450.4 78.7h0M447.1 51.2h0M448.7 104.5h0M448.1 91.9h0M449.5 103.3h0M448.9 82.1h0M450.7 89.5h0M446.6 86.9h0M447 58.7h0M448.3 84.9h0M446.7 88.5h0M450.9 87h0M445.6 87.2h0M450 104.4h0M450.2 88.9h0M449.8 90.9h0M450.4 93.3h0M448.2 82.4h0M450.8 88.6h0M448.1 106.3h0M449 85.2h0M447.4 70.7h0M450.4 97.2h0M446.3 86.6h0M448.8 77.4h0M449.3 74.2h0M450.2 95.2h0M447.2 90.7h0M447.9 76h0M449.3 92.8h0M449 84.7h0M449.1 89.7h0M448 87h0M447.4 90.2h0M446.3 90.6h0M447.1 85.2h0M445.9 102.1h0M447.5 77.3h0M449.5 81.1h0M446.5 88h0M449.6 97.4h0M448.3 103.8h0M448 93.4h0M449.8 93.6h0M450.6 50.6h0M447.6 97.7h0M450.4 109.4h0M450 62h0M448.3 85.2h0M450.2 55.2h0M450.4 84.3h0M448.7 95.3h0M449.9 83.3h0M445.9 100.2h0M445.6 91.7h0M450.3 84.6h0M447.9 75.5h0M448.1 96.3h0M448.6 71.7h0M450.2 100.4h0M446.2 84.1h0M449.9 82.2h0M447.6 94.7h0M449.6 113.6h0M450.5 97.2h0M450.8 68h0M450.4 85.7h0M448.5 97.8h0M450.7 69.4h0M446.2 95.7h0M447.2 76.8h0M446.5 90.2h0M449.2 71.5h0M448.7 93.7h0M447 82.8h0M447.2 85.5h0M445.6 82.6h0M447.9 86.1h0M448.4 118.5h0M449.6 88.8h0M451 94.8h0M447.1 85.2h0M450.4 96.9h0M448.6 88.9h0M449.1 91.9h0M450.6 90.5h0M451 84.6h0M450.4 88.9h0M445.8 103.2h0M448.8 88h0M448.7 83.6h0M447.4 111.1h0M447.5 87.4h0M447.3 75.8h0M446.3 91.1h0M450.5 98.4h0" stroke="#ea1119" stroke-opacity="0.5" stroke-width="2.5" stroke-linecap="round" fill="none"/>
<path d="M445.9 96.3h0M445.6 86.5h0M445.9 71.9h0M450.3 82.1h0M448.5 85.6h0M446.8 78.2h0M450 96.1h0M445.9 86.2h0M448.9 77.7h0M450.5 91.3h0M450.4 72.5h0M450.4 83h0M446.2 91.1h0M445.7 89.1h0M450.2 87.5h0M449 70.2h0M447.6 92.8h0M445.8 89.1h0M451 88.3h0M450.7 100.4h0M448.8 92.8h0M449.1 84.5h0M447.6 83h0M450.6 75.9h0M449.2 76.7h0M448.9 97.4h0M448.5 97.5h0M445.8 91.4h0M450.9 90.3h0M449 101.6h0M449.4 94.6h0M446.6 100.4h0M448.5 81.5h0M450.9 76.9h0M449.5 89.6h0M446 101.5h0M447.1 96.6h0M448.7 98.1h0M448.8 86.2h0M445.9 80.8h0M448.8 74.4h0M447.1 74.5h0M448.2 73.5h0M447.3 93.8h0M449.1 95.8h0M445.8 87.3h0M447.9 83.3h0M449.9 91.3h0M448.1 85.5h0M446.4 97.1h0M447.9 89.8h0M446.4 99.5h0M446.5 89.1h0M447.9 81h0M447.3 67.5h0M447.7 68.3h0M450.5 70.6h0M447.3 81.7h0M447 69.4h0M448.8 82h0M447.4 86.4h0M450.9 58.6h0M447.8 87.9h0M447 91h0M447.3 87.7h0M447.4 91.5h0M450 76.8h0M450.4 83.2h0M448.5 80.7h0M449.4 87.4h0M446.8 87.8h0M450.6 88h0M447.2 99.4h0M446 86.8h0M450.8 85h0M449.7 117.9h0M449.7 98.8h0M447.2 101.5h0M446 81.7h0M449.7 91h0M446.3 90.2h0M450.7 102.4h0M449.7 93.6h0M447.9 92.7h0M449.4 63.6h0M447 74.2h0M448.2 86.9h0M447.9 90.4h0M447 89.2h0M448.2 89.9h0M448.1 94.7h0M448.7 95.3h0M449.2 89.4h0M446.6 112.1h0M445.7 90.3h0M450.8 86.8h0M447.2 97.5h0M445.5 83.6h0M447.6 92.6h0M449.3 92.9h0M448.7 94h0M446.6 111.5h0M446.2 120.3h0" stroke="#ea1119" stroke-opacity="0.5" stroke-width="2.5" stroke-linecap="round" fill="none"/>
<path d="M448.3 62.1V81.6M448.3 94.6V114.1" stroke="#ea1119" stroke-width="0.7" fill="none"/>
<rect x="445.1" y="81.6" width="6.4" height="13" fill="#fff" fill-opacity="0.5" stroke="#ea1119" stroke-width="0.7"/>
<path d="M445.1 88.6h6.4" stroke="#ea1119" stroke-width="1"/>
<path d="M455.2 104.5h0M458.8 113.3h0M459.3 82.3h0M457.4 103h0M459.1 100.1h0M456.6 102.2h0M458.2 109.1h0M454.3 104.3h0M458.2 103.1h0" stroke="#2347bd" stroke-opacity="0.6" stroke-width="2.5" stroke-linecap="round" fill="none"/>
<path d="M459.5 103.2h0M456.3 95h0M455.1 99.5h0M457.5 113.9h0M457.3 99.6h0M457.2 114.9h0M455.3 111.1h0M458 106.9h0M455.7 104.9h0" stroke="#2347bd" stroke-opacity="0.6" stroke-width="2.5" stroke-linecap="round" fill="none"/>
<path d="M455.4 101.5h0M455.1 99.1h0M458.3 105.3h0M459.2 98.3h0M459.1 110.5h0M459 113.7h0M456.1 103.1h0M459.6 117.8h0M454.5 103.1h0" stroke="#2347bd" stroke-opacity="0.6" stroke-width="2.5" stroke-linecap="round" fill="none"/>
<path d="M456.4 102.1h0M457.2 108.4h0M456.9 110.5h0M458.5 98.7h0M458.1 104h0M456.3 91.4h0M457.2 110.2h0M455.7 97.8h0" stroke="#2347bd" stroke-opacity="0.6" stroke-width="2.5" stroke-linecap="round" fill="none"/>
<path d="M456.8 84.8V100.5M456.8 111V118.2" stroke="#2347bd" stroke-width="0.7" fill="none"/>
<rect x="453.6" y="100.5" width="6.4" height="10.5" fill="#fff" fill-opacity="0.5" stroke="#2347bd" stroke-width="0.7"/>
<path d="M453.6 105.2h6.4" stroke="#2347bd" stroke-width="1"/>
<path d="M467.8 109.1h0M466.4 127.4h0M468 67.5h0M463.2 75.9h0M463.9 106.9h0M466.4 75h0M464.4 83.7h0M463.3 106.4h0M462.9 82.4h0M464.5 59.1h0M465.3 101.4h0M466.4 89.2h0M466 125.5h0M467.5 110.4h0M462.9 81.3h0M467.3 108.4h0M467.5 87.3h0M465.1 85.8h0M467 81.4h0M463.8 72.2h0M467 100.1h0M468.1 83.9h0M465.6 82.4h0M462.9 79.9h0M465.7 80.3h0M463.9 57.2h0M465.3 96.1h0M463.5 73.6h0M463.9 81.1h0M463.2 85h0M467 79.9h0M463.5 102.6h0M463.3 90h0M466.1 102.5h0M465 80.2h0M467.3 72.2h0M466.1 89.6h0M465.9 83.9h0" stroke="#ea1119" stroke-opacity="0.5" stroke-width="2.5" stroke-linecap="round" fill="none"/>
<path d="M463.7 65.2h0M463.8 85.6h0M462.9 76.7h0M467.3 121.6h0M463.4 100h0M462.9 94.3h0M466.2 115.3h0M463.7 99.3h0M467.3 82.8h0M463.7 96.2h0M464.3 89.6h0M464.5 87.3h0M463.2 88.6h0M465.5 117.1h0M466.3 93.9h0M464.5 78.8h0M462.9 71.5h0M463.5 99.5h0M463.2 104h0M465.2 128.6h0M462.7 82.1h0M465.7 76.9h0M462.7 100.4h0M467.9 123.8h0M466.6 104.1h0M467.8 83.9h0M464.9 107.6h0M466.5 66.8h0M464.8 101.2h0M468 80.6h0M465.8 76.7h0M463.6 108.1h0M467.6 74.6h0M466.2 91.7h0M465.2 84.9h0M463.1 101.3h0M463.4 104h0M464.4 106.2h0" stroke="#ea1119" stroke-opacity="0.5" stroke-width="2.5" stroke-linecap="round" fill="none"/>
<path d="M467.2 73.7h0M465.6 80.7h0M467.4 68.4h0M467.1 108.7h0M466 90.5h0M464.1 98.9h0M467.8 82.6h0M465.4 124.9h0M465.9 94.5h0M465.5 104.8h0M467.9 74.2h0M463.2 61.8h0M462.8 93.5h0M467 101h0M465.2 89.6h0M464.9 83.4h0M467.6 87.1h0M466 84.8h0M465.5 77.8h0M463.1 87.7h0M465.8 95.1h0M467.9 73.2h0M463.2 74.6h0M464.7 84.1h0M464.9 87.6h0M464 71.8h0M464.6 59.5h0M463.3 79h0M464.9 91.5h0M463.3 90.2h0M466.2 106.6h0M462.8 105.2h0M466 72h0M465.9 96.3h0M467.2 123.4h0M463.1 71.9h0M465.2 100.7h0" stroke="#ea1119" stroke-opacity="0.5" stroke-width="2.5" stroke-linecap="round" fill="none"/>
<path d="M468 77.4h0M467.1 77.9h0M467.5 86h0M464.9 68.5h0M466.5 74h0M463.5 99.6h0M467 104h0M467.1 82.8h0M467.8 71.5h0M467.9 82.3h0M465.4 96.3h0M464.9 81.2h0M465.7 83h0M463.6 76.3h0M465.3 105.3h0M465.5 79h0M466.6 110.7h0M465.1 83.7h0M463.2 84.7h0M465.3 78.7h0M463.3 81.4h0M466.7 93.6h0M464.4 86.6h0M465.3 93.2h0M466.7 88.7h0M467.8 72.9h0M464.2 80h0M463.8 95.6h0M464 114.1h0M467.2 78.6h0M467.9 91.6h0M466.4 113.3h0M463.1 74.6h0M466.5 86.8h0M466.2 93.7h0M466.5 73.7h0M467.4 76.6h0" stroke="#ea1119" stroke-opacity="0.5" stroke-width="2.5" stroke-linecap="round" fill="none"/>
<path d="M465.4 56.7V78M465.4 95.7V122.2" stroke="#ea1119" stroke-width="0.7" fill="none"/>
<rect x="462.2" y="78" width="6.4" height="17.7" fill="#fff" fill-opacity="0.5" stroke="#ea1119" stroke-width="0.7"/>
<path d="M462.2 85h6.4" stroke="#ea1119" stroke-width="1"/>
<path d="M476.6 76.6h0M475.6 95h0M475.1 92.9h0M475.3 103.5h0M471.7 66.4h0M474.5 98.5h0M473.1 86.8h0M474.2 86.8h0M475.1 84.2h0M474.2 97.2h0M476.2 94.7h0M476.1 74.8h0M476 90.7h0M476.3 98h0M473.5 103h0M472.8 97.2h0M471.4 67.8h0M474.1 87.5h0M475.9 97.3h0M475.5 82.4h0M475.1 69.4h0M471.8 78.6h0M472.7 78h0M471.3 94.7h0M474.1 89.7h0M475.8 94.7h0M475.2 92.2h0M471.8 123.1h0M471.4 90.8h0M474.8 93.9h0M473.4 116.3h0M472.8 87h0M472.2 98.8h0M472.5 84.2h0M476.7 98.4h0M472.3 88.9h0M473.4 88.4h0M471.7 87h0M475.6 72.4h0M476.4 79.3h0M472.1 90h0M475.7 87.6h0M474 85.1h0M472.7 83.1h0M472.7 90.2h0M475.9 88.2h0M473.5 93.1h0M476.4 90.2h0M471.4 138.4h0M473.3 100h0M474.8 77.7h0M475.6 94.2h0M473.2 87.1h0M474.3 95.7h0M472.9 88.3h0M472.5 95.1h0M473 93.8h0M472.2 82.5h0M473.9 84.2h0M472.2 84.5h0M471.3 92.3h0M473.8 80.7h0M472 88.6h0M474.8 93.9h0M474.5 93.2h0M475.9 108.9h0M474.4 85.4h0M472.9 87.4h0M471.3 89.4h0M471.6 94.6h0M475.1 85.6h0M473.3 78.6h0M475.9 112h0M473.4 92.1h0M473.1 99h0M475.1 75.1h0M473.2 91.3h0M476 79.8h0M472.5 84.3h0M476.7 101.1h0M472.7 83.1h0M475.1 104h0M475 78.4h0M476.2 104.8h0M476.6 91.7h0M475.1 89.4h0M476.1 78.6h0M471.7 101.6h0M473.2 100.2h0M475.3 104.6h0M475.5 99.3h0M472.6 93.1h0M472.9 108.7h0M473.3 70.9h0M474.3 109.4h0M472.2 97.9h0M475.3 116.1h0M475.4 88.4h0M476.7 94.7h0M473.7 79.9h0M472.9 83.7h0M471.4 88.6h0M472.1 71.6h0M471.5 109.3h0M476.1 88.7h0M476.5 88.9h0M474.3 92.6h0M476.3 87.5h0M475.4 94.3h0M476.3 83.8h0M475.6 71.3h0M472.5 72.2h0M476.2 128.2h0M475.9 89.9h0M474.2 78.5h0M474 97.3h0M471.3 67.1h0M475.2 94.5h0M475.7 93.4h0M472.4 114.1h0M472 93.7h0M472.8 94.4h0M474.5 99.2h0M471.6 86.9h0M474.7 97.9h0M474 107.6h0" stroke="#ea1119" stroke-opacity="0.5" stroke-width="2.5" stroke-linecap="round" fill="none"/>
<path d="M474.4 66.7h0M476.1 107.7h0M471.6 88h0M474.6 96.8h0M476.3 88.2h0M472.4 81.1h0M476.5 83h0M472.6 80.1h0M474.6 88.3h0M474.9 119.4h0M476.2 97.1h0M475.6 90.8h0M475.5 105.3h0M474.1 102.1h0M474.9 79.4h0M472.3 98.3h0M473.9 80.9h0M475.1 86.5h0M474.6 73.8h0M474.9 92.2h0M471.8 91.1h0M472.7 98h0M473.4 94.6h0M476.7 81.5h0M476.2 97.9h0M471.7 103.1h0M472.3 80h0M472.6 104.1h0M472.2 85.1h0M475 89.2h0M472.3 100h0M476.5 89.7h0M476.2 96h0M472.9 91.3h0M476 88.2h0M476 81.8h0M472.7 107.2h0M471.9 102.1h0M475.6 92.6h0M475.6 98h0M472.5 85.7h0M471.9 100.1h0M471.7 79.1h0M476.2 87.8h0M473.2 86.2h0M473.9 92.2h0M475.3 90.8h0M472.8 69.8h0M475.8 87.4h0M473.7 95.6h0M473.7 97.8h0M476.4 90.6h0M471.4 101.7h0M476.7 89h0M474.5 97.2h0M476.7 77.1h0M475.1 102.5h0M473.8 106.2h0M474.8 103.6h0M473.8 88.8h0M474.6 105.2h0M471.7 91.2h0M473.8 74.4h0M474 115.5h0M475.3 86.8h0M474.1 78.9h0M474 87.2h0M475.4 81.8h0M476 85.5h0M473.2 103.3h0M474.9 88.1h0M471.3 95.7h0M473.4 73.8h0M473.6 85.3h0M472.7 90.9h0M475.1 103h0M475.8 94.3h0M476.2 99.3h0M474.9 77.2h0M472 94.6h0M475.6 98.2h0M475.1 79.5h0M475.6 81.1h0M472.4 67.4h0M476.3 84.8h0M472.3 67h0M472.1 104.3h0M476.2 93.7h0M475 107.3h0M473.3 87.6h0M475.3 93.1h0M474.6 98.7h0M476 66.6h0M475.8 109.5h0M474.8 98.3h0M473.7 87.5h0M474.2 99.7h0M475.3 112h0M472.8 93.9h0M472.5 86.4h0M475 90.9h0M476 94.8h0M474.9 100.8h0M472.3 86.3h0M473.3 102.3h0M473.8 89.1h0M476.4 77.7h0M472.1 98.4h0M476.1 96.9h0M473.9 81.5h0M474 86h0M471.6 87.9h0M475 106.1h0M473.8 86h0M471.9 104.1h0M472 97.6h0M476.3 85.7h0M475 77.9h0M471.9 83h0M474 78.1h0M476.5 81.6h0M475.9 93.9h0M473.8 91.5h0M475.7 84.6h0M475.1 86.7h0" stroke="#ea1119" stroke-opacity="0.5" stroke-width="2.5" stroke-linecap="round" fill="none"/>
<path d="M472.4 95.8h0M475.2 90.9h0M471.9 74.8h0M473.4 78.2h0M475.6 91.1h0M471.9 103.8h0M475.9 103.6h0M475.5 93.7h0M472.8 86.5h0M474 91.3h0M474.4 99.4h0M476 92h0M475.4 87h0M475.5 104.7h0M475.8 90.2h0M472.4 88.7h0M473.9 90.6h0M472.3 92.9h0M473.2 107.4h0M474.6 112.4h0M471.9 92.9h0M476.3 104.2h0M474.1 112.1h0M471.7 100.4h0M471.3 73.4h0M475 92.2h0M472.1 92.9h0M475.8 83.4h0M474.8 106.5h0M475 73.9h0M474.1 79.2h0M472 110.6h0M471.3 88.1h0M474.7 100.5h0M475.4 85.5h0M475.3 84.3h0M473.5 83.6h0M475 83.2h0M476.3 102.3h0M474.1 82.6h0M475.9 88.1h0M473.5 69.1h0M475 69.2h0M474.8 105.4h0M473.1 66.8h0M473.8 93.2h0M473.7 80.4h0M472 93.5h0M472.3 106.2h0M475.8 90.6h0M471.9 91.4h0M475.4 87.8h0M473.2 90.8h0M475 78.6h0M476.1 99.5h0M476.1 89.5h0M472.9 86.7h0M475.6 77.5h0M474.2 87.9h0M474 94h0M476.3 93.2h0M471.3 93.5h0M473.9 74h0M473.1 66.8h0M472.2 98h0M475.4 112.9h0M476.6 94.7h0M475.9 106.1h0M474.3 100.7h0M476.5 127.4h0M473.2 90.3h0M474.9 102.6h0M473.9 78.2h0M473.4 93.5h0M474.3 97.2h0M475.2 91.6h0M475.9 66.8h0M473.6 79.7h0M475.4 66.8h0M473.7 94.7h0M475.2 114.1h0M475.6 70.9h0M472.7 85.7h0M475.8 78.9h0M475.3 91.4h0M475.5 89.9h0M473.2 90.3h0M476.5 83h0M476.6 85.5h0M471.9 100.2h0M471.8 106h0M474.9 84.2h0M472.3 97.6h0M472.1 105.6h0M476.2 87.4h0M473.6 85.3h0M473 87.9h0M471.2 86.1h0M473 96.9h0M475.7 83.3h0M474.6 93.2h0M475.9 96.6h0M472.8 97.4h0M471.4 107.6h0M473.9 103.9h0M472 88.7h0M473.8 72.2h0M473.9 82.9h0M473 90.6h0M471.3 90.2h0M475.9 79.3h0M475 94.8h0M474 79.6h0M472.7 76.5h0M475.1 90.4h0M476.4 106h0M471.5 98.1h0M471.6 103h0M476.3 69.1h0M476.4 76.8h0M473.7 93.1h0M474.5 87.1h0M472.1 95.8h0M472.9 130.2h0M471.4 84.4h0" stroke="#ea1119" stroke-opacity="0.5" stroke-width="2.5" stroke-linecap="round" fill="none"/>
<path d="M473.3 95h0M473.7 97.1h0M475.1 85h0M476.6 97.3h0M473.8 97.8h0M474.1 85.6h0M475.1 83.9h0M475.7 81.5h0M473.9 96h0M471.9 78h0M471.4 84.4h0M472.1 66.8h0M472.4 116.6h0M473 115.8h0M472.4 95.2h0M475.5 101.3h0M474.8 101.9h0M474.2 98.3h0M474.5 100.1h0M475.1 131.8h0M476 76h0M473.2 138.7h0M472.3 103.5h0M471.7 92.4h0M476.6 84.4h0M474.3 83h0M476.4 98h0M474.4 85.2h0M476.7 99.3h0M472.4 94.8h0M476.3 84.3h0M475.5 88.3h0M476.3 82.4h0M473.9 78.6h0M472.8 86.7h0M476.3 80.6h0M472.7 90.6h0M475.9 80.6h0M473.1 79h0M475.9 91.1h0M476.1 81.4h0M472.7 66.9h0M476.3 72.6h0M475.5 89.6h0M476.4 98.6h0M471.3 95.6h0M472 85.4h0M476.6 67h0M471.6 99.7h0M474.3 92.8h0M474.4 87.2h0M476.6 89.5h0M472.6 92.5h0M471.6 88.1h0M473.6 74.2h0M475.1 89.7h0M474.5 84.3h0M473.7 119.9h0M473.3 100.7h0M472.9 95.9h0M472.5 98.4h0M476.2 67.1h0M471.7 84.6h0M471.6 89.8h0M472.5 85.6h0M471.3 91.8h0M474.9 99h0M471.5 91h0M472.4 90.8h0M472.9 90h0M475.8 86.4h0M476.7 91.3h0M475.1 93.4h0M472.2 99.3h0M472.6 84.3h0M471.5 104.2h0M474.2 133.1h0M474.9 79.7h0M474.1 75.6h0M474 85.2h0M471.7 95.7h0M474.3 94.5h0M475.1 100.3h0M472.3 73.2h0M474.4 102.2h0M473.6 67h0M474.3 75.2h0M475.8 83.6h0M472 83.4h0M473 95.6h0M476.1 85.1h0M471.4 97.4h0M473.9 89.8h0M472.3 93.7h0M473.6 96.2h0M476.6 143.3h0M475.4 85.8h0M476.5 109.1h0M476.4 96.3h0M474.8 110.6h0M476.3 90.1h0M475.6 92.1h0M473.2 75.9h0M472.2 70.6h0M473.7 81.8h0M473.3 88.2h0M475.1 99.2h0M476.2 94.4h0M474.8 74h0M471.3 86.7h0M474.2 74.8h0M472.3 74.6h0M476.5 83.8h0M476.2 79.5h0M476.7 109.4h0M473.3 141.3h0M476.2 89.4h0M473.1 83.8h0M475.5 132.2h0M472.5 110.3h0M473.5 98.6h0M474 89.6h0M476.3 92.9h0M473.7 102.3h0M472.7 83.4h0" stroke="#ea1119" stroke-opacity="0.5" stroke-width="2.5" stroke-linecap="round" fill="none"/>
<path d="M473.9 66.2V82.7M473.9 97V118.4" stroke="#ea1119" stroke-width="0.7" fill="none"/>
<rect x="470.7" y="82.7" width="6.4" height="14.3" fill="#fff" fill-opacity="0.5" stroke="#ea1119" stroke-width="0.7"/>
<path d="M470.7 89.8h6.4" stroke="#ea1119" stroke-width="1"/>
<path d="M483 83.9h0M482.1 105.1h0M481.5 100.3h0M479.8 96.6h0M483.7 81.8h0M480.3 86.6h0M484.9 82.4h0M484.1 89.8h0M481 95.6h0M480 82.7h0M485 80.7h0M483 96.1h0M479.9 83.9h0M484.4 85.3h0M480 82.5h0" stroke="#2347bd" stroke-opacity="0.6" stroke-width="2.5" stroke-linecap="round" fill="none"/>
<path d="M484.5 93.8h0M483.5 82.5h0M484.7 94.1h0M481.8 141.7h0M481.9 93.8h0M484.8 100.9h0M483.5 94.6h0M483.7 97.9h0M485.1 88.1h0M482.4 85.7h0M484.9 87.4h0M482 89.1h0M483.4 108.2h0M482.1 106.4h0M480.8 81.1h0" stroke="#2347bd" stroke-opacity="0.6" stroke-width="2.5" stroke-linecap="round" fill="none"/>
<path d="M483.3 87.4h0M483.4 90.7h0M482.2 81.8h0M480.3 88.2h0M483 88.5h0M481.9 95.9h0M484.4 93.2h0M480.8 85h0M479.9 85.6h0M484.4 91.9h0M480.8 90.4h0M484.6 86.5h0M484.1 82h0M485.2 83.7h0M482.4 89.1h0" stroke="#2347bd" stroke-opacity="0.6" stroke-width="2.5" stroke-linecap="round" fill="none"/>
<path d="M480.2 88.2h0M481.6 89.3h0M481.2 89.3h0M483.6 85.6h0M482.4 91.8h0M482.7 97.5h0M481.3 97.1h0M482.6 95.4h0M480.1 90.6h0M484.8 88h0M484.8 104.6h0M485 93.3h0M481.6 81.6h0M484.4 91.2h0" stroke="#2347bd" stroke-opacity="0.6" stroke-width="2.5" stroke-linecap="round" fill="none"/>
<path d="M482.5 80.4V81.6M482.5 93.4V111.1" stroke="#2347bd" stroke-width="0.7" fill="none"/>
<rect x="479.3" y="81.6" width="6.4" height="11.8" fill="#fff" fill-opacity="0.5" stroke="#2347bd" stroke-width="0.7"/>
<path d="M479.3 87.5h6.4" stroke="#2347bd" stroke-width="1"/>
<path d="M491.7 95.8h0M493.1 110.3h0M493.5 92.7h0M493.6 116.5h0M493.3 76h0M491.4 103.4h0M493.7 122.9h0M492.1 67.5h0M489.5 108.6h0M490 129.8h0M491.4 101.5h0M491.6 81.4h0M488.6 87.4h0M489.2 76.8h0M491.7 103.5h0M489.7 142.1h0M489.5 99.3h0M492.7 94.5h0M489.4 81.8h0M493.5 96.6h0M489.9 91.8h0M490.8 72.7h0M491.6 86.4h0M490 61.5h0M491.8 73.7h0M493.4 122.1h0M492.7 81.8h0M489.7 105.3h0M492.4 104.7h0M490.7 78.4h0" stroke="#ea1119" stroke-opacity="0.5" stroke-width="2.5" stroke-linecap="round" fill="none"/>
<path d="M491.4 101h0M490.4 106.7h0M489.9 103.6h0M490.1 64.4h0M492 107h0M489.8 72.3h0M488.5 91.9h0M490.1 78.3h0M491.4 66.6h0M493.5 105.4h0M492.2 87.1h0M491.5 108.1h0M491.3 103.3h0M493.6 94.3h0M493.2 61.6h0M493.4 101.7h0M491.9 90.6h0M490.4 81.5h0M488.9 107h0M493.8 92.9h0M490 72.4h0M489 143.2h0M490.9 96.7h0M489.9 61.8h0M493.3 86.6h0M489.8 117.7h0M490.8 87.7h0M489.2 102.3h0M493.8 63.9h0M491.2 70h0" stroke="#ea1119" stroke-opacity="0.5" stroke-width="2.5" stroke-linecap="round" fill="none"/>
<path d="M490.5 107.6h0M489.2 93h0M490.6 116.7h0M493.7 89.7h0M490 92.5h0M493 104.4h0M492.9 88.8h0M491.2 99h0M490.8 79.1h0M493.4 82.3h0M492.9 97.9h0M491.4 88.8h0M488.4 93.6h0M492.9 85.4h0M488.4 64.3h0M493 89.1h0M491.6 128h0M489.3 100.5h0M491.6 110.3h0M492.9 103.9h0M489.7 81.7h0M493.3 89.3h0M489.7 99.2h0M491 101.9h0M493 83.7h0M490.4 82.1h0M491.6 117.3h0M493.4 81.9h0M490.3 104.6h0M493.1 108.9h0" stroke="#ea1119" stroke-opacity="0.5" stroke-width="2.5" stroke-linecap="round" fill="none"/>
<path d="M490.3 96.4h0M489.5 104.8h0M489.4 99.6h0M492.8 97.8h0M491 89.4h0M491.8 90.2h0M493.1 113.1h0M492.4 129.9h0M488.8 112.4h0M493.5 62.4h0M488.9 84.8h0M490.2 64.1h0M492.9 121.3h0M489.4 109.6h0M490 79h0M491.1 91.7h0M492.5 76.7h0M491.6 149h0M488.4 109.6h0M489.1 146h0M491.6 117.1h0M492.5 127.3h0M491.4 77.5h0M488.9 88h0M490.1 71.3h0M489.1 72.4h0M492.5 95.7h0M489 106.8h0M493.3 93.2h0M490.7 109.4h0" stroke="#ea1119" stroke-opacity="0.5" stroke-width="2.5" stroke-linecap="round" fill="none"/>
<path d="M491.1 61.5V84M491.1 110V149" stroke="#ea1119" stroke-width="0.7" fill="none"/>
<rect x="487.9" y="84" width="6.4" height="26" fill="#fff" fill-opacity="0.5" stroke="#ea1119" stroke-width="0.7"/>
<path d="M487.9 98h6.4" stroke="#ea1119" stroke-width="1"/>
<path d="M498.5 90.3h0M498.9 104.6h0M499.1 45.4h0M499.1 85.4h0M500.5 101.9h0M498.7 44h0M498.8 127.3h0M501.4 108.2h0M501.6 61.2h0M497.9 84.6h0M497.8 113.1h0M500.2 77.2h0M502.1 112.6h0M500.1 64.2h0M499.8 94h0M497.8 110.5h0M497.6 97.5h0M497.7 71.9h0M499.9 87.3h0M497.1 82.6h0M498.3 79h0M497.9 92.9h0M497.4 63h0M501.6 106.1h0M501.6 92h0M501.9 86h0M498.5 85.2h0M501.8 92.4h0M502.3 128.7h0M500.1 140.2h0M501.4 101.1h0M499 83.3h0M501 123.7h0M498.5 104.7h0M497.9 118.5h0M497.6 76.5h0M500.8 81.5h0M501.1 75h0M499.3 73h0M498.8 82.8h0M497.2 87.8h0M501.4 92.9h0M501.2 45.3h0M497.2 88.8h0M497.7 111.2h0M500.9 88.8h0M498 76.4h0M500 88.6h0M500.8 80.3h0M497.3 94.8h0M500.8 84.7h0M496.9 112h0M498.5 86.4h0M498.6 100.2h0M501.6 105.6h0M499.4 107.7h0M496.9 83.6h0M499.9 99h0M497.2 92.3h0M497.9 98h0M498.4 100.1h0M501.5 128.4h0M501.5 100.8h0M502.1 119.3h0M501.9 110.5h0M500.5 59.7h0M498.7 93.3h0M499.6 80.9h0M500.5 104h0M497.9 101.7h0M497.3 80.9h0M498.8 84.9h0M500.6 92.7h0M500 105.7h0M497.6 67.1h0M498.2 87h0M497.3 80.6h0M497.5 98.4h0M498.6 119.9h0M497.5 105.1h0M498.5 95.9h0M498.5 55.5h0M496.9 92.8h0M500.6 83.7h0M499.7 86.1h0M498 67.1h0M500 117h0M497.7 115.5h0M500.1 91.9h0M497.2 95.4h0M500.3 56.9h0M498.6 72.4h0M497.7 56.5h0M500.4 99h0M499.2 82.6h0M501.9 118.4h0M500.4 114.9h0M499.5 46.1h0M496.9 114.9h0M501.3 83h0M497.7 140.1h0M499.5 81.7h0M501.9 74.4h0M499.3 110.1h0M498.7 68.6h0M499.9 111.2h0M501.2 112.7h0M500.9 74h0M500.2 116h0M500 98.9h0M498.7 87.6h0M499.9 101.3h0M497.6 95.9h0M501 102.1h0M500 81.3h0M499.3 84.3h0M498 91.7h0M497.6 80.3h0M499.3 106.9h0M496.9 92.2h0M502.2 100.4h0M500.2 107.3h0M500.8 66.8h0M498.2 99.4h0M499 137.8h0M498.9 92.2h0M500.8 80.5h0M499.2 93.9h0M501.3 96.3h0M498.5 104.1h0M499.3 114h0M497.6 79.4h0M499 84.1h0M498.4 84.4h0M499.9 53.1h0M497.7 141.1h0M498 91.2h0" stroke="#ea1119" stroke-opacity="0.5" stroke-width="2.5" stroke-linecap="round" fill="none"/>
<path d="M497.9 92.5h0M500.3 72.4h0M502.3 115.1h0M497.4 88.4h0M498.6 77.9h0M499.1 100.4h0M500 90.2h0M497.1 92.4h0M499.8 58.6h0M497.8 102.1h0M500.2 87.4h0M498.6 88.6h0M499 112.4h0M498.6 78.8h0M497.5 129.9h0M497.1 81.2h0M496.9 74.1h0M497.1 88.9h0M498.9 131.5h0M497.8 141.8h0M497.4 81.5h0M498.3 105.5h0M501.3 71.2h0M502.3 79.5h0M497 75.5h0M497.8 76.4h0M499 68.4h0M499.2 108.5h0M498.8 86h0M499.5 96.6h0M497.7 98.7h0M498.3 94.6h0M500 49h0M501.2 132.3h0M500.9 104.9h0M501.1 82.2h0M500.7 82.7h0M499.8 88.4h0M497.8 103.9h0M498 86.3h0M502 101h0M498.1 48.2h0M499.9 73.5h0M499.2 88.4h0M501.3 86.7h0M501.4 84h0M500 96.1h0M502.2 86.8h0M499.6 63.2h0M501.6 103.1h0M499.7 135.3h0M498.6 110h0M498.5 69.4h0M499.2 80h0M498.7 80.2h0M498 119.8h0M502.3 106.3h0M500.6 84.4h0M502.1 90.2h0M498.3 98.3h0M498.3 84.2h0M500.3 100.6h0M496.9 116.7h0M501.2 102h0M498.3 102h0M497.3 54.3h0M500.1 87h0M499.5 79.5h0M498.3 90.9h0M501.7 105.8h0M497.3 95.9h0M498.8 44.3h0M500.8 114.5h0M498.3 76.5h0M501.8 69h0M498 66.2h0M497.8 71.2h0M496.9 61.5h0M499 89.6h0M498 140.8h0M500 68.2h0M500.4 115.4h0M499.1 90.2h0M498.3 91.7h0M498.7 120.8h0M498.1 131.3h0M500.8 96.7h0M499 102.5h0M498.8 102.7h0M498.7 87.8h0M498.8 88.8h0M498 100.1h0M499.3 121.6h0M499 118h0M498.5 97.2h0M497.8 80.1h0M500.1 144.4h0M501.8 93h0M501.2 97.6h0M500.2 84.1h0M500.2 83.3h0M497.8 103.4h0M499.1 81.4h0M499 108.4h0M501 82.9h0M498.8 114.3h0M497.6 87.2h0M500.6 44.2h0M499.6 59.4h0M500.8 112.9h0M501.5 63.3h0M498.8 106.7h0M500.4 133h0M502.3 88.3h0M498.2 117.3h0M499.4 113.9h0M500.3 97.5h0M499 59.2h0M500.9 57.6h0M499.4 83.9h0M497.6 124.1h0M499.3 83h0M501.6 90.5h0M498 73.1h0M500.4 81.9h0M501.6 58.8h0M499.5 62.4h0M498.7 77.2h0M497 112.5h0M498.8 122.4h0M500.7 95.1h0M498.5 99.5h0M499 69.8h0M498.2 77.9h0M500.5 58.7h0M500.3 97.8h0" stroke="#ea1119" stroke-opacity="0.5" stroke-width="2.5" stroke-linecap="round" fill="none"/>
<path d="M498.3 95h0M499.4 65.1h0M500.7 86.9h0M499.4 102.7h0M499.6 49.6h0M499.6 84h0M497.7 72.4h0M501.8 112.9h0M500.8 76h0M502.1 76h0M501 88.8h0M501.3 129.5h0M497 125.6h0M499.1 82h0M498.5 68.1h0M500.7 56.6h0M500 69.2h0M501.1 80.9h0M496.9 94.4h0M502.2 98.8h0M500.4 122h0M498.6 88h0M501.9 109.1h0M498.4 96h0M501.7 91.3h0M498.5 100.5h0M500.8 88.8h0M499.4 85h0M500.9 94.5h0M501.2 105.9h0M498.3 85.4h0M497.7 48.6h0M500.2 80.8h0M497.2 76.8h0M498.1 114.7h0M502.3 118.6h0M500.7 81.7h0M497.7 45.1h0M498.2 81h0M497.1 80.2h0M499.3 88.7h0M502.2 79.7h0M502.3 67.2h0M499.5 103h0M498.1 89.7h0M498.3 67.1h0M497.3 85.6h0M497.8 116h0M500.9 84.6h0M502.2 102.8h0M499.4 83.7h0M498.6 44.7h0M499.2 128.1h0M501.4 89.2h0M501.7 75.4h0M499.5 79.8h0M499 69.7h0M499.3 84.7h0M500.7 95.2h0M498.6 96.8h0M501.8 81.5h0M500.9 80.5h0M498.6 75.6h0M500.1 78.6h0M501 140.5h0M498.5 59.5h0M501.9 99.6h0M500.8 91.1h0M499.7 98.5h0M501.3 106.6h0M500.8 54.2h0M496.9 105.1h0M501.4 43.8h0M497.2 146.5h0M499.7 77h0M502 107.3h0M499.4 107.6h0M500.6 68.5h0M497.2 73.5h0M501 95.1h0M497.7 90h0M500.1 44.8h0M498.1 44.5h0M501.4 121.9h0M498.4 114h0M497.3 89.7h0M499.7 63.4h0M499.7 88h0M502 87.7h0M500.4 93.5h0M499.7 111.8h0M497.4 116.9h0M501.4 96.2h0M500.1 79.7h0M499.2 85.8h0M501.2 99.7h0M502.1 106.4h0M501 70.3h0M499.8 81.9h0M498.3 86.3h0M501.5 85.2h0M498.8 71.5h0M502.2 118.8h0M498.7 71.4h0M497.1 141.8h0M499.3 105.9h0M501.8 84.1h0M499.4 105.5h0M497.1 108.6h0M499.2 53.9h0M499.9 126.8h0M500.4 128.7h0M498.8 128h0M499.4 90.2h0M501.4 88.7h0M499.6 117h0M497.9 119.6h0M501.5 76.6h0M501 110.2h0M500.5 83h0M500.4 108.5h0M498.1 67.3h0M498.8 72.2h0M499.9 145.4h0M500.7 105.4h0M501.8 68.9h0M497.1 111.3h0M501.2 107.3h0M499.9 97.6h0M500 64.4h0M499 52.8h0M501.5 132.4h0M502.3 87.2h0M497.7 93.3h0M500.5 83.3h0M497.7 45.1h0" stroke="#ea1119" stroke-opacity="0.5" stroke-width="2.5" stroke-linecap="round" fill="none"/>
<path d="M499 84.2h0M498.5 73h0M499.4 93.9h0M501.2 71h0M501.5 69.9h0M499.5 120.6h0M498.3 44.4h0M501.4 72.2h0M497 72.9h0M500.7 92.3h0M501.2 53.6h0M499.7 91.5h0M498 87.9h0M499.2 60.9h0M499.1 62.3h0M499.6 81.6h0M499.6 109.6h0M501.3 100.8h0M501.6 99.2h0M500.9 101.5h0M501.2 104.7h0M499.4 90.5h0M500.2 51.2h0M501.8 90h0M498.3 114.4h0M501.1 103h0M500.6 127.8h0M501.1 64.2h0M500.5 77.8h0M497.7 70.1h0M498.9 85.2h0M497.7 83.6h0M501.7 127h0M499.4 70.1h0M500.1 97.1h0M500.9 82.7h0M501.1 131.2h0M501.1 97.1h0M500.4 99h0M499.8 117.5h0M497.2 86.2h0M499.8 75h0M497.5 101.3h0M501.8 82.4h0M502.2 65.1h0M498.8 67.2h0M497.2 63.6h0M499.1 111.8h0M498.4 80.5h0M497.4 44.9h0M501 106.6h0M498.1 141.3h0M500.3 76.7h0M498.7 138.3h0M497.1 103.5h0M498.3 109.3h0M502.2 71.9h0M501.8 108.2h0M501 81.7h0M501.7 88.8h0M501.5 114.1h0M497.7 57.5h0M500.2 73.7h0M501 94.1h0M497.6 95.9h0M500.7 80.3h0M497.6 137.3h0M497.9 136.8h0M497.2 118h0M500.6 98.9h0M497.4 96h0M501.5 121.2h0M497.8 80.5h0M501.4 102.9h0M501.2 76.1h0M499.8 75.1h0M497.6 83.9h0M499.6 64.5h0M500.1 141.4h0M500.6 81.5h0M500.7 99.8h0M498.7 91.9h0M498.2 83.8h0M502.4 86h0M501.4 105.5h0M498.8 79.3h0M497.6 115.2h0M500.7 93.5h0M497.8 120.8h0M498 49.3h0M497.5 104.7h0M500.6 84.9h0M502.1 62.2h0M499.5 107.1h0M501.3 69.5h0M500 71.3h0M502.3 101.8h0M499 110.5h0M499.8 106.9h0M500.9 141.4h0M500.5 82.5h0M498.3 73.6h0M500 71.2h0M499 77.8h0M500.3 116.2h0M499.7 103.4h0M501.3 90.6h0M496.9 100.9h0M502.3 93h0M499.5 102.4h0M501 83.7h0M497 108.6h0M497.2 91.9h0M499 94.8h0M498.2 96.3h0M499.7 72.4h0M499.9 112.7h0M499.5 65.4h0M498.5 44.4h0M497.2 67.7h0M500.9 107.4h0M499.9 135.1h0M502.2 69.9h0M498.6 110.1h0M499 77.9h0M501.7 83.3h0M498 112.1h0M497.7 77.8h0M497.9 100.2h0M501.8 101.9h0M497.6 65.1h0M501.7 80.4h0M498.7 113h0M501.7 106h0M499.1 62.3h0M500.3 82.9h0" stroke="#ea1119" stroke-opacity="0.5" stroke-width="2.5" stroke-linecap="round" fill="none"/>
<path d="M499.6 43.7V76.8M499.6 104V144.8" stroke="#ea1119" stroke-width="0.7" fill="none"/>
<rect x="496.4" y="76.8" width="6.4" height="27.2" fill="#fff" fill-opacity="0.5" stroke="#ea1119" stroke-width="0.7"/>
<path d="M496.4 89.8h6.4" stroke="#ea1119" stroke-width="1"/>
<path d="M506.2 96.6h0M507.6 81.4h0M509.2 96h0M506.5 84.1h0M506.6 86.6h0M506.9 90.9h0M508.6 98.5h0M507.2 104.1h0M510.1 98.2h0" stroke="#2347bd" stroke-opacity="0.6" stroke-width="2.5" stroke-linecap="round" fill="none"/>
<path d="M505.4 90.6h0M509.9 89.5h0M507.3 112.6h0M509.3 95.5h0M510.3 86.4h0M507.7 98.5h0M506.2 101.7h0M508.9 81.2h0M508.1 91.8h0" stroke="#2347bd" stroke-opacity="0.6" stroke-width="2.5" stroke-linecap="round" fill="none"/>
<path d="M510.6 86.5h0M508.2 96.8h0M510.2 93.4h0M506.8 94.5h0M510.2 85.4h0M507 90.7h0M508.7 105.4h0M507.1 99.6h0M507.6 89.5h0" stroke="#2347bd" stroke-opacity="0.6" stroke-width="2.5" stroke-linecap="round" fill="none"/>
<path d="M506.7 95.5h0M506.7 94.8h0M510.8 96.6h0M507.8 99.7h0M510.4 94.5h0M509 90.4h0M506.3 96h0M508.8 93.2h0" stroke="#2347bd" stroke-opacity="0.6" stroke-width="2.5" stroke-linecap="round" fill="none"/>
<path d="M508.2 80.4V88.6M508.2 98V112.1" stroke="#2347bd" stroke-width="0.7" fill="none"/>
<rect x="505" y="88.6" width="6.4" height="9.4" fill="#fff" fill-opacity="0.5" stroke="#2347bd" stroke-width="0.7"/>
<path d="M505 93.4h6.4" stroke="#2347bd" stroke-width="1"/>
<path d="M516.4 77.5h0M515.3 88.2h0M516.3 83.8h0M518.3 88.3h0M516.8 94.1h0M517.2 99.9h0M514.3 88.7h0M514.3 98.7h0M514.6 99.6h0M518.5 80.4h0M517 58.8h0M516.5 73.2h0M514 85.3h0M519.1 78.7h0M517.5 123.7h0" stroke="#ea1119" stroke-opacity="0.5" stroke-width="2.5" stroke-linecap="round" fill="none"/>
<path d="M519.1 82.6h0M514.7 123.4h0M515.9 114.6h0M516.4 75.7h0M518.6 67.3h0M516.5 100.9h0M517 93.6h0M515.4 109.5h0M516.2 103.4h0M514.8 76.7h0M517.9 69h0M514.7 95.2h0M515.6 83.9h0M514.6 98.9h0" stroke="#ea1119" stroke-opacity="0.5" stroke-width="2.5" stroke-linecap="round" fill="none"/>
<path d="M517.5 85.9h0M518.6 73.6h0M518.4 76.3h0M516.8 62.7h0M516 75.5h0M514.7 106.3h0M516.2 78.5h0M514.3 91.6h0M515.7 83.8h0M518.3 80.9h0M516.7 93.5h0M519 89h0M516.2 75.9h0M519.3 106h0" stroke="#ea1119" stroke-opacity="0.5" stroke-width="2.5" stroke-linecap="round" fill="none"/>
<path d="M517.2 66.8h0M518.7 92.6h0M516.9 95.3h0M515.8 82.2h0M517 71.7h0M516 85.9h0M515.3 122.8h0M518.9 86.5h0M519.3 114.6h0M519 82.7h0M516.4 69.8h0M515 121h0M516.4 83.9h0M516.3 81.2h0" stroke="#ea1119" stroke-opacity="0.5" stroke-width="2.5" stroke-linecap="round" fill="none"/>
<path d="M516.7 58V74.5M516.7 95.7V124" stroke="#ea1119" stroke-width="0.7" fill="none"/>
<rect x="513.5" y="74.5" width="6.4" height="21.2" fill="#fff" fill-opacity="0.5" stroke="#ea1119" stroke-width="0.7"/>
<path d="M513.5 84h6.4" stroke="#ea1119" stroke-width="1"/>
<path d="M526.8 110.6h0M527.1 117.3h0M524.3 117.5h0M525.3 104h0M523.5 115.9h0M524 105.2h0M525.5 94.7h0M527 111.8h0M527.7 129.7h0M527.3 121h0M526.4 104.2h0M524.4 124.7h0M523.8 103.4h0M525.7 92.8h0M524.4 117.6h0M527.5 110.5h0M525.2 115.9h0M525.4 124.2h0M522.6 111.8h0M526.4 115.9h0" stroke="#ea1119" stroke-opacity="0.5" stroke-width="2.5" stroke-linecap="round" fill="none"/>
<path d="M524.8 116.3h0M525.4 110.3h0M527.6 118.8h0M525 112h0M523.3 117.5h0M524.9 100.5h0M524.1 117.9h0M525 134.4h0M522.7 117.3h0M523.8 125h0M525.3 117.5h0M527.8 121.2h0M525.9 111.4h0M526.7 92.8h0M526.9 122.4h0M525.8 118.8h0M527.9 120h0M525.4 117.8h0M523.1 114.4h0M525.2 126.1h0" stroke="#ea1119" stroke-opacity="0.5" stroke-width="2.5" stroke-linecap="round" fill="none"/>
<path d="M525.1 128.7h0M523.8 125.5h0M524 122.5h0M526.2 122.3h0M526.4 123.2h0M527.7 123.5h0M523.9 98.2h0M527.1 92.3h0M524.3 108.6h0M523.2 111.2h0M527.1 144.2h0M524.1 118.3h0M524.6 123h0M523.2 93.6h0M524.5 121.2h0M525.2 124.1h0M525.4 123.8h0M525.7 108.5h0M527.5 102.1h0M526.3 123.4h0" stroke="#ea1119" stroke-opacity="0.5" stroke-width="2.5" stroke-linecap="round" fill="none"/>
<path d="M525.1 144.8h0M526.1 111.3h0M525.3 127h0M525.9 123.4h0M527.8 108.6h0M523.3 121.6h0M526.1 111.5h0M527 110.8h0M526.6 93.3h0M525 125.3h0M527.2 115.9h0M526.9 107h0M526.9 110.5h0M524.5 119.1h0M525.5 125.4h0M526.7 119.7h0M527.8 106.7h0M522.8 101.9h0M525.9 118.2h0M526.1 129.1h0" stroke="#ea1119" stroke-opacity="0.5" stroke-width="2.5" stroke-linecap="round" fill="none"/>
<path d="M525.3 92.2V102.8M525.3 120.6V145.4" stroke="#ea1119" stroke-width="0.7" fill="none"/>
<rect x="522.1" y="102.8" width="6.4" height="17.8" fill="#fff" fill-opacity="0.5" stroke="#ea1119" stroke-width="0.7"/>
<path d="M522.1 115.8h6.4" stroke="#ea1119" stroke-width="1"/>
<rect x="49.5" y="5.0" width="481.0" height="154.6" fill="none" stroke="#8c8c8c" stroke-width="0.8"/>
<path d="M47.1 159.6H49.5M47.1 122.1H49.5M47.1 84.6H49.5M47.1 47.1H49.5M47.1 9.6H49.5M54.6 159.6V162.0M63.2 159.6V162.0M71.7 159.6V162.0M80.3 159.6V162.0M88.8 159.6V162.0M97.4 159.6V162.0M105.9 159.6V162.0M114.5 159.6V162.0M123.1 159.6V162.0M131.6 159.6V162.0M140.2 159.6V162.0M148.7 159.6V162.0M157.3 159.6V162.0M165.9 159.6V162.0M174.4 159.6V162.0M183 159.6V162.0M191.5 159.6V162.0M200.1 159.6V162.0M208.6 159.6V162.0M217.2 159.6V162.0M225.8 159.6V162.0M234.3 159.6V162.0M242.9 159.6V162.0M251.4 159.6V162.0M260 159.6V162.0M268.6 159.6V162.0M277.1 159.6V162.0M285.7 159.6V162.0M294.2 159.6V162.0M302.8 159.6V162.0M311.3 159.6V162.0M319.9 159.6V162.0M328.5 159.6V162.0M337 159.6V162.0M345.6 159.6V162.0M354.1 159.6V162.0M362.7 159.6V162.0M371.2 159.6V162.0M379.8 159.6V162.0M388.4 159.6V162.0M396.9 159.6V162.0M405.5 159.6V162.0M414 159.6V162.0M422.6 159.6V162.0M431.2 159.6V162.0M439.7 159.6V162.0M448.3 159.6V162.0M456.8 159.6V162.0M465.4 159.6V162.0M473.9 159.6V162.0M482.5 159.6V162.0M491.1 159.6V162.0M499.6 159.6V162.0M508.2 159.6V162.0M516.7 159.6V162.0M525.3 159.6V162.0" stroke="#555" stroke-width="0.6"/>
<text x="46.3" y="161.7" font-size="6" fill="#4d4d4d" text-anchor="end" font-family="Liberation Sans, sans-serif">0</text>
<text x="46.3" y="124.2" font-size="6" fill="#4d4d4d" text-anchor="end" font-family="Liberation Sans, sans-serif">2</text>
<text x="46.3" y="86.7" font-size="6" fill="#4d4d4d" text-anchor="end" font-family="Liberation Sans, sans-serif">4</text>
<text x="46.3" y="49.2" font-size="6" fill="#4d4d4d" text-anchor="end" font-family="Liberation Sans, sans-serif">6</text>
<text x="46.3" y="11.7" font-size="6" fill="#4d4d4d" text-anchor="end" font-family="Liberation Sans, sans-serif">8</text>
<text transform="translate(57.2,163.7) rotate(-90)" font-size="5.95" fill="#111" stroke="#111" stroke-width="0.18" text-anchor="end" font-family="Liberation Sans, sans-serif">ACC.Tumor</text>
<text transform="translate(65.8,163.7) rotate(-90)" font-size="5.95" fill="#111" stroke="#111" stroke-width="0.18" text-anchor="end" font-family="Liberation Sans, sans-serif">BLCA.Tumor</text>
<text transform="translate(74.3,163.7) rotate(-90)" font-size="5.95" fill="#111" stroke="#111" stroke-width="0.18" text-anchor="end" font-family="Liberation Sans, sans-serif">BLCA.Normal</text>
<text transform="translate(82.9,163.7) rotate(-90)" font-size="5.95" fill="#111" stroke="#111" stroke-width="0.18" text-anchor="end" font-family="Liberation Sans, sans-serif">BRCA.Tumor</text>
<text transform="translate(91.4,163.7) rotate(-90)" font-size="5.95" fill="#111" stroke="#111" stroke-width="0.18" text-anchor="end" font-family="Liberation Sans, sans-serif">BRCA.Normal</text>
<text transform="translate(100,163.7) rotate(-90)" font-size="5.95" fill="#111" stroke="#111" stroke-width="0.18" text-anchor="end" font-family="Liberation Sans, sans-serif">BRCA-Basal.Tumor</text>
<text transform="translate(108.5,163.7) rotate(-90)" font-size="5.95" fill="#111" stroke="#111" stroke-width="0.18" text-anchor="end" font-family="Liberation Sans, sans-serif">BRCA-Her2.Tumor</text>
<text transform="translate(117.1,163.7) rotate(-90)" font-size="5.95" fill="#111" stroke="#111" stroke-width="0.18" text-anchor="end" font-family="Liberation Sans, sans-serif">BRCA-Luminal.Tumor</text>
<text transform="translate(125.7,163.7) rotate(-90)" font-size="5.95" fill="#111" stroke="#111" stroke-width="0.18" text-anchor="end" font-family="Liberation Sans, sans-serif">CESC.Tumor</text>
<text transform="translate(134.2,163.7) rotate(-90)" font-size="5.95" fill="#111" stroke="#111" stroke-width="0.18" text-anchor="end" font-family="Liberation Sans, sans-serif">CHOL.Tumor</text>
<text transform="translate(142.8,163.7) rotate(-90)" font-size="5.95" fill="#111" stroke="#111" stroke-width="0.18" text-anchor="end" font-family="Liberation Sans, sans-serif">CHOL.Normal</text>
<text transform="translate(151.3,163.7) rotate(-90)" font-size="5.95" fill="#111" stroke="#111" stroke-width="0.18" text-anchor="end" font-family="Liberation Sans, sans-serif">COAD.Tumor</text>
<text transform="translate(159.9,163.7) rotate(-90)" font-size="5.95" fill="#111" stroke="#111" stroke-width="0.18" text-anchor="end" font-family="Liberation Sans, sans-serif">COAD.Normal</text>
<text transform="translate(168.5,163.7) rotate(-90)" font-size="5.95" fill="#111" stroke="#111" stroke-width="0.18" text-anchor="end" font-family="Liberation Sans, sans-serif">DLBC.Tumor</text>
<text transform="translate(177,163.7) rotate(-90)" font-size="5.95" fill="#111" stroke="#111" stroke-width="0.18" text-anchor="end" font-family="Liberation Sans, sans-serif">ESCA.Tumor</text>
<text transform="translate(185.6,163.7) rotate(-90)" font-size="5.95" fill="#111" stroke="#111" stroke-width="0.18" text-anchor="end" font-family="Liberation Sans, sans-serif">ESCA.Normal</text>
<text transform="translate(194.1,163.7) rotate(-90)" font-size="5.95" fill="#111" stroke="#111" stroke-width="0.18" text-anchor="end" font-family="Liberation Sans, sans-serif">GBM.Tumor</text>
<text transform="translate(202.7,163.7) rotate(-90)" font-size="5.95" fill="#111" stroke="#111" stroke-width="0.18" text-anchor="end" font-family="Liberation Sans, sans-serif">HNSC.Tumor</text>
<text transform="translate(211.2,163.7) rotate(-90)" font-size="5.95" fill="#111" stroke="#111" stroke-width="0.18" text-anchor="end" font-family="Liberation Sans, sans-serif">HNSC.Normal</text>
<text transform="translate(219.8,163.7) rotate(-90)" font-size="5.95" fill="#111" stroke="#111" stroke-width="0.18" text-anchor="end" font-family="Liberation Sans, sans-serif">HNSC-HPVpos.Tumor</text>
<text transform="translate(228.4,163.7) rotate(-90)" font-size="5.95" fill="#111" stroke="#111" stroke-width="0.18" text-anchor="end" font-family="Liberation Sans, sans-serif">HNSC-HPVneg.Tumor</text>
<text transform="translate(236.9,163.7) rotate(-90)" font-size="5.95" fill="#111" stroke="#111" stroke-width="0.18" text-anchor="end" font-family="Liberation Sans, sans-serif">KICH.Tumor</text>
<text transform="translate(245.5,163.7) rotate(-90)" font-size="5.95" fill="#111" stroke="#111" stroke-width="0.18" text-anchor="end" font-family="Liberation Sans, sans-serif">KICH.Normal</text>
<text transform="translate(254,163.7) rotate(-90)" font-size="5.95" fill="#111" stroke="#111" stroke-width="0.18" text-anchor="end" font-family="Liberation Sans, sans-serif">KIRC.Tumor</text>
<text transform="translate(262.6,163.7) rotate(-90)" font-size="5.95" fill="#111" stroke="#111" stroke-width="0.18" text-anchor="end" font-family="Liberation Sans, sans-serif">KIRC.Normal</text>
<text transform="translate(271.2,163.7) rotate(-90)" font-size="5.95" fill="#111" stroke="#111" stroke-width="0.18" text-anchor="end" font-family="Liberation Sans, sans-serif">KIRP.Tumor</text>
<text transform="translate(279.7,163.7) rotate(-90)" font-size="5.95" fill="#111" stroke="#111" stroke-width="0.18" text-anchor="end" font-family="Liberation Sans, sans-serif">KIRP.Normal</text>
<text transform="translate(288.3,163.7) rotate(-90)" font-size="5.95" fill="#111" stroke="#111" stroke-width="0.18" text-anchor="end" font-family="Liberation Sans, sans-serif">LAML.Tumor</text>
<text transform="translate(296.8,163.7) rotate(-90)" font-size="5.95" fill="#111" stroke="#111" stroke-width="0.18" text-anchor="end" font-family="Liberation Sans, sans-serif">LGG.Tumor</text>
<text transform="translate(305.4,163.7) rotate(-90)" font-size="5.95" fill="#111" stroke="#111" stroke-width="0.18" text-anchor="end" font-family="Liberation Sans, sans-serif">LIHC.Tumor</text>
<text transform="translate(313.9,163.7) rotate(-90)" font-size="5.95" fill="#111" stroke="#111" stroke-width="0.18" text-anchor="end" font-family="Liberation Sans, sans-serif">LIHC.Normal</text>
<text transform="translate(322.5,163.7) rotate(-90)" font-size="5.95" fill="#111" stroke="#111" stroke-width="0.18" text-anchor="end" font-family="Liberation Sans, sans-serif">LUAD.Tumor</text>
<text transform="translate(331.1,163.7) rotate(-90)" font-size="5.95" fill="#111" stroke="#111" stroke-width="0.18" text-anchor="end" font-family="Liberation Sans, sans-serif">LUAD.Normal</text>
<text transform="translate(339.6,163.7) rotate(-90)" font-size="5.95" fill="#111" stroke="#111" stroke-width="0.18" text-anchor="end" font-family="Liberation Sans, sans-serif">LUSC.Tumor</text>
<text transform="translate(348.2,163.7) rotate(-90)" font-size="5.95" fill="#111" stroke="#111" stroke-width="0.18" text-anchor="end" font-family="Liberation Sans, sans-serif">LUSC.Normal</text>
<text transform="translate(356.7,163.7) rotate(-90)" font-size="5.95" fill="#111" stroke="#111" stroke-width="0.18" text-anchor="end" font-family="Liberation Sans, sans-serif">MESO.Tumor</text>
<text transform="translate(365.3,163.7) rotate(-90)" font-size="5.95" fill="#111" stroke="#111" stroke-width="0.18" text-anchor="end" font-family="Liberation Sans, sans-serif">OV.Tumor</text>
<text transform="translate(373.8,163.7) rotate(-90)" font-size="5.95" fill="#111" stroke="#111" stroke-width="0.18" text-anchor="end" font-family="Liberation Sans, sans-serif">PAAD.Tumor</text>
<text transform="translate(382.4,163.7) rotate(-90)" font-size="5.95" fill="#111" stroke="#111" stroke-width="0.18" text-anchor="end" font-family="Liberation Sans, sans-serif">PCPG.Tumor</text>
<text transform="translate(391,163.7) rotate(-90)" font-size="5.95" fill="#111" stroke="#111" stroke-width="0.18" text-anchor="end" font-family="Liberation Sans, sans-serif">PRAD.Tumor</text>
<text transform="translate(399.5,163.7) rotate(-90)" font-size="5.95" fill="#111" stroke="#111" stroke-width="0.18" text-anchor="end" font-family="Liberation Sans, sans-serif">PRAD.Normal</text>
<text transform="translate(408.1,163.7) rotate(-90)" font-size="5.95" fill="#111" stroke="#111" stroke-width="0.18" text-anchor="end" font-family="Liberation Sans, sans-serif">READ.Tumor</text>
<text transform="translate(416.6,163.7) rotate(-90)" font-size="5.95" fill="#111" stroke="#111" stroke-width="0.18" text-anchor="end" font-family="Liberation Sans, sans-serif">READ.Normal</text>
<text transform="translate(425.2,163.7) rotate(-90)" font-size="5.95" fill="#111" stroke="#111" stroke-width="0.18" text-anchor="end" font-family="Liberation Sans, sans-serif">SARC.Tumor</text>
<text transform="translate(433.8,163.7) rotate(-90)" font-size="5.95" fill="#111" stroke="#111" stroke-width="0.18" text-anchor="end" font-family="Liberation Sans, sans-serif">SKCM.Tumor</text>
<text transform="translate(442.3,163.7) rotate(-90)" font-size="5.95" fill="#111" stroke="#111" stroke-width="0.18" text-anchor="end" font-family="Liberation Sans, sans-serif">SKCM.Metastasis</text>
<text transform="translate(450.9,163.7) rotate(-90)" font-size="5.95" fill="#111" stroke="#111" stroke-width="0.18" text-anchor="end" font-family="Liberation Sans, sans-serif">STAD.Tumor</text>
<text transform="translate(459.4,163.7) rotate(-90)" font-size="5.95" fill="#111" stroke="#111" stroke-width="0.18" text-anchor="end" font-family="Liberation Sans, sans-serif">STAD.Normal</text>
<text transform="translate(468,163.7) rotate(-90)" font-size="5.95" fill="#111" stroke="#111" stroke-width="0.18" text-anchor="end" font-family="Liberation Sans, sans-serif">TGCT.Tumor</text>
<text transform="translate(476.5,163.7) rotate(-90)" font-size="5.95" fill="#111" stroke="#111" stroke-width="0.18" text-anchor="end" font-family="Liberation Sans, sans-serif">THCA.Tumor</text>
<text transform="translate(485.1,163.7) rotate(-90)" font-size="5.95" fill="#111" stroke="#111" stroke-width="0.18" text-anchor="end" font-family="Liberation Sans, sans-serif">THCA.Normal</text>
<text transform="translate(493.7,163.7) rotate(-90)" font-size="5.95" fill="#111" stroke="#111" stroke-width="0.18" text-anchor="end" font-family="Liberation Sans, sans-serif">THYM.Tumor</text>
<text transform="translate(502.2,163.7) rotate(-90)" font-size="5.95" fill="#111" stroke="#111" stroke-width="0.18" text-anchor="end" font-family="Liberation Sans, sans-serif">UCEC.Tumor</text>
<text transform="translate(510.8,163.7) rotate(-90)" font-size="5.95" fill="#111" stroke="#111" stroke-width="0.18" text-anchor="end" font-family="Liberation Sans, sans-serif">UCEC.Normal</text>
<text transform="translate(519.3,163.7) rotate(-90)" font-size="5.95" fill="#111" stroke="#111" stroke-width="0.18" text-anchor="end" font-family="Liberation Sans, sans-serif">UCS.Tumor</text>
<text transform="translate(527.9,163.7) rotate(-90)" font-size="5.95" fill="#111" stroke="#111" stroke-width="0.18" text-anchor="end" font-family="Liberation Sans, sans-serif">UVM.Tumor</text>
<text transform="translate(39.5,80) rotate(-90)" font-size="7" fill="#222" text-anchor="middle" font-family="Liberation Sans, sans-serif">ADAM17 Expression Level (log2 TPM)</text>
<text x="3.7" y="11.7" font-size="8.4" font-weight="bold" fill="#111" font-family="Liberation Sans, sans-serif">A</text>
<path d="M74 303.7V326.6M74 343.2V362.3" stroke="#3a3a3a" stroke-width="0.95"/>
<rect x="68.4" y="326.6" width="11.2" height="16.6" fill="#E64B35" stroke="#111" stroke-width="0.6"/>
<path d="M68.4 334.3h11.2" stroke="#111" stroke-width="1.5"/>
<path d="M84.6 306.2V314.9M84.6 322.8V333.7" stroke="#3a3a3a" stroke-width="0.95"/>
<rect x="81.8" y="314.9" width="5.6" height="7.9" fill="#4DBBD5" stroke="#111" stroke-width="0.6"/>
<path d="M81.8 318.4h5.6" stroke="#111" stroke-width="1.5"/>
<path d="M90.2 272.7V299.4M90.2 319.5V349.8" stroke="#3a3a3a" stroke-width="0.95"/>
<rect x="87.4" y="299.4" width="5.6" height="20.1" fill="#E64B35" stroke="#111" stroke-width="0.6"/>
<path d="M87.4 308.4h5.6" stroke="#111" stroke-width="1.5"/>
<path d="M84.6 260.5V258.5H90.2V260.5" stroke="#222" stroke-width="0.8" fill="none"/>
<path d="M86.2 255.4h0M88.7 255.4h0" stroke="#222" stroke-width="1.35" stroke-linecap="round"/>
<path d="M98 283.3V296.6M98 310.1V328.5" stroke="#3a3a3a" stroke-width="0.95"/>
<rect x="95.2" y="296.6" width="5.6" height="13.5" fill="#4DBBD5" stroke="#111" stroke-width="0.6"/>
<path d="M95.2 300.7h5.6" stroke="#111" stroke-width="1.5"/>
<path d="M103.6 270V299.1M103.6 312.6V333" stroke="#3a3a3a" stroke-width="0.95"/>
<rect x="100.8" y="299.1" width="5.6" height="13.5" fill="#E64B35" stroke="#111" stroke-width="0.6"/>
<path d="M100.8 304.2h5.6" stroke="#111" stroke-width="1.5"/>
<path d="M98 261.2V259.2H103.6V261.2" stroke="#222" stroke-width="0.8" fill="none"/>
<path d="M99.5 256.1h0M102 256.1h0" stroke="#222" stroke-width="1.35" stroke-linecap="round"/>
<path d="M111.4 316V321.5M111.4 331.7V338" stroke="#3a3a3a" stroke-width="0.95"/>
<rect x="108.6" y="321.5" width="5.6" height="10.2" fill="#4DBBD5" stroke="#111" stroke-width="0.6"/>
<path d="M108.6 325.4h5.6" stroke="#111" stroke-width="1.5"/>
<path d="M117 274.5V296.1M117 317V345.7" stroke="#3a3a3a" stroke-width="0.95"/>
<rect x="114.2" y="296.1" width="5.6" height="20.9" fill="#E64B35" stroke="#111" stroke-width="0.6"/>
<path d="M114.2 305h5.6" stroke="#111" stroke-width="1.5"/>
<path d="M111.4 272.6V270.6H117V272.6" stroke="#222" stroke-width="0.8" fill="none"/>
<path d="M114.2 267.5h0" stroke="#222" stroke-width="1.35" stroke-linecap="round"/>
<path d="M124.8 347V347.8M124.8 350V351" stroke="#3a3a3a" stroke-width="0.95"/>
<rect x="122" y="347.8" width="5.6" height="2.2" fill="#4DBBD5" stroke="#111" stroke-width="0.6"/>
<path d="M122 349h5.6" stroke="#111" stroke-width="1.5"/>
<path d="M130.4 296.1V307.5M130.4 323.6V341.9" stroke="#3a3a3a" stroke-width="0.95"/>
<rect x="127.6" y="307.5" width="5.6" height="16.1" fill="#E64B35" stroke="#111" stroke-width="0.6"/>
<path d="M127.6 313.9h5.6" stroke="#111" stroke-width="1.5"/>
<path d="M124.8 294.5V292.5H130.4V294.5" stroke="#222" stroke-width="0.8" fill="none"/>
<path d="M125.1 289.4h0M127.6 289.4h0M130.1 289.4h0" stroke="#222" stroke-width="1.35" stroke-linecap="round"/>
<path d="M138.2 320.3V323.6M138.2 327.9V330.4" stroke="#3a3a3a" stroke-width="0.95"/>
<rect x="135.4" y="323.6" width="5.6" height="4.3" fill="#4DBBD5" stroke="#111" stroke-width="0.6"/>
<path d="M135.4 325.4h5.6" stroke="#111" stroke-width="1.5"/>
<path d="M143.8 295.6V311.9M143.8 322.8V338" stroke="#3a3a3a" stroke-width="0.95"/>
<rect x="141" y="311.9" width="5.6" height="10.9" fill="#E64B35" stroke="#111" stroke-width="0.6"/>
<path d="M141 317h5.6" stroke="#111" stroke-width="1.5"/>
<path d="M138.2 272.4V270.4H143.8V272.4" stroke="#222" stroke-width="0.8" fill="none"/>
<path d="M138.5 267.3h0M141 267.3h0M143.5 267.3h0" stroke="#222" stroke-width="1.35" stroke-linecap="round"/>
<path d="M154.4 297.4V316.4M154.4 344.4V355.9" stroke="#3a3a3a" stroke-width="0.95"/>
<rect x="148.8" y="316.4" width="11.2" height="28" fill="#E64B35" stroke="#111" stroke-width="0.6"/>
<path d="M148.8 332.5h11.2" stroke="#111" stroke-width="1.5"/>
<path d="M165 301.7V317M165 327.1V335.5" stroke="#3a3a3a" stroke-width="0.95"/>
<rect x="162.2" y="317" width="5.6" height="10.1" fill="#4DBBD5" stroke="#111" stroke-width="0.6"/>
<path d="M162.2 324.1h5.6" stroke="#111" stroke-width="1.5"/>
<path d="M170.6 273.2V292.3M170.6 310.1V334.3" stroke="#3a3a3a" stroke-width="0.95"/>
<rect x="167.8" y="292.3" width="5.6" height="17.8" fill="#E64B35" stroke="#111" stroke-width="0.6"/>
<path d="M167.8 303.7h5.6" stroke="#111" stroke-width="1.5"/>
<path d="M165 270.9V268.9H170.6V270.9" stroke="#222" stroke-width="0.8" fill="none"/>
<path d="M165.3 265.8h0M167.8 265.8h0M170.3 265.8h0" stroke="#222" stroke-width="1.35" stroke-linecap="round"/>
<path d="M178.4 314.4V314.4M178.4 316.4V316.4" stroke="#3a3a3a" stroke-width="0.95"/>
<rect x="175.6" y="314.4" width="5.6" height="2" fill="#4DBBD5" stroke="#111" stroke-width="0.6"/>
<path d="M175.6 315.4h5.6" stroke="#111" stroke-width="1.5"/>
<path d="M184 279.5V294.3M184 308.3V326.6" stroke="#3a3a3a" stroke-width="0.95"/>
<rect x="181.2" y="294.3" width="5.6" height="14" fill="#E64B35" stroke="#111" stroke-width="0.6"/>
<path d="M181.2 299.1h5.6" stroke="#111" stroke-width="1.5"/>
<path d="M178.4 278.2V276.2H184V278.2" stroke="#222" stroke-width="0.8" fill="none"/>
<path d="M178.7 273.1h0M181.2 273.1h0M183.7 273.1h0" stroke="#222" stroke-width="1.35" stroke-linecap="round"/>
<path d="M191.8 301.7V310.1M191.8 321.5V335.5" stroke="#3a3a3a" stroke-width="0.95"/>
<rect x="189" y="310.1" width="5.6" height="11.4" fill="#4DBBD5" stroke="#111" stroke-width="0.6"/>
<path d="M189 313.9h5.6" stroke="#111" stroke-width="1.5"/>
<path d="M197.4 269.4V293M197.4 309.3V336.8" stroke="#3a3a3a" stroke-width="0.95"/>
<rect x="194.6" y="293" width="5.6" height="16.3" fill="#E64B35" stroke="#111" stroke-width="0.6"/>
<path d="M194.6 299.9h5.6" stroke="#111" stroke-width="1.5"/>
<path d="M191.8 260V258H197.4V260" stroke="#222" stroke-width="0.8" fill="none"/>
<path d="M192.1 254.9h0M194.6 254.9h0M197.1 254.9h0" stroke="#222" stroke-width="1.35" stroke-linecap="round"/>
<path d="M205.2 302.4V308.3M205.2 317.7V326.6" stroke="#3a3a3a" stroke-width="0.95"/>
<rect x="202.4" y="308.3" width="5.6" height="9.4" fill="#4DBBD5" stroke="#111" stroke-width="0.6"/>
<path d="M202.4 313.4h5.6" stroke="#111" stroke-width="1.5"/>
<path d="M210.8 308.8V327.9M210.8 340.6V355.9" stroke="#3a3a3a" stroke-width="0.95"/>
<rect x="208" y="327.9" width="5.6" height="12.7" fill="#E64B35" stroke="#111" stroke-width="0.6"/>
<path d="M208 332.2h5.6" stroke="#111" stroke-width="1.5"/>
<path d="M205.2 282.4V280.4H210.8V282.4" stroke="#222" stroke-width="0.8" fill="none"/>
<path d="M205.5 277.3h0M208 277.3h0M210.5 277.3h0" stroke="#222" stroke-width="1.35" stroke-linecap="round"/>
<path d="M218.6 299.9V311.4M218.6 324.1V333" stroke="#3a3a3a" stroke-width="0.95"/>
<rect x="215.8" y="311.4" width="5.6" height="12.7" fill="#4DBBD5" stroke="#111" stroke-width="0.6"/>
<path d="M215.8 316.4h5.6" stroke="#111" stroke-width="1.5"/>
<path d="M224.2 280.8V303.7M224.2 319.5V344.4" stroke="#3a3a3a" stroke-width="0.95"/>
<rect x="221.4" y="303.7" width="5.6" height="15.8" fill="#E64B35" stroke="#111" stroke-width="0.6"/>
<path d="M221.4 310.8h5.6" stroke="#111" stroke-width="1.5"/>
<path d="M218.6 279.5V277.5H224.2V279.5" stroke="#222" stroke-width="0.8" fill="none"/>
<path d="M218.9 274.4h0M221.4 274.4h0M223.9 274.4h0" stroke="#222" stroke-width="1.35" stroke-linecap="round"/>
<path d="M232 302.4V315.2M232 328.7V331.7" stroke="#3a3a3a" stroke-width="0.95"/>
<rect x="229.2" y="315.2" width="5.6" height="13.5" fill="#4DBBD5" stroke="#111" stroke-width="0.6"/>
<path d="M229.2 322.8h5.6" stroke="#111" stroke-width="1.5"/>
<path d="M237.6 283.5V311.4M237.6 330.4V357.2" stroke="#3a3a3a" stroke-width="0.95"/>
<rect x="234.8" y="311.4" width="5.6" height="19" fill="#E64B35" stroke="#111" stroke-width="0.6"/>
<path d="M234.8 320.8h5.6" stroke="#111" stroke-width="1.5"/>
<path d="M248.2 255.9V275.3M248.2 287.8V304.4" stroke="#3a3a3a" stroke-width="0.95"/>
<rect x="242.6" y="275.3" width="11.2" height="12.5" fill="#E64B35" stroke="#111" stroke-width="0.6"/>
<path d="M242.6 283.1h11.2" stroke="#111" stroke-width="1.5"/>
<path d="M261.6 280.6V297.4M261.6 311.3V330.4" stroke="#3a3a3a" stroke-width="0.95"/>
<rect x="256" y="297.4" width="11.2" height="13.9" fill="#E64B35" stroke="#111" stroke-width="0.6"/>
<path d="M256 304.8h11.2" stroke="#111" stroke-width="1.5"/>
<path d="M272.2 337.3V346.2M272.2 353.4V363.5" stroke="#3a3a3a" stroke-width="0.95"/>
<rect x="269.4" y="346.2" width="5.6" height="7.2" fill="#4DBBD5" stroke="#111" stroke-width="0.6"/>
<path d="M269.4 349.5h5.6" stroke="#111" stroke-width="1.5"/>
<path d="M277.8 310.1V333M277.8 349.5V363.5" stroke="#3a3a3a" stroke-width="0.95"/>
<rect x="275" y="333" width="5.6" height="16.5" fill="#E64B35" stroke="#111" stroke-width="0.6"/>
<path d="M275 340.1h5.6" stroke="#111" stroke-width="1.5"/>
<path d="M272.2 291.1V289.1H277.8V291.1" stroke="#222" stroke-width="0.8" fill="none"/>
<path d="M272.5 286h0M275 286h0M277.5 286h0" stroke="#222" stroke-width="1.35" stroke-linecap="round"/>
<path d="M285.6 283.9V296.1M285.6 304.2V308.8" stroke="#3a3a3a" stroke-width="0.95"/>
<rect x="282.8" y="296.1" width="5.6" height="8.1" fill="#4DBBD5" stroke="#111" stroke-width="0.6"/>
<path d="M282.8 299.9h5.6" stroke="#111" stroke-width="1.5"/>
<path d="M291.2 273.2V298.1M291.2 313.4V341.9" stroke="#3a3a3a" stroke-width="0.95"/>
<rect x="288.4" y="298.1" width="5.6" height="15.3" fill="#E64B35" stroke="#111" stroke-width="0.6"/>
<path d="M288.4 306.3h5.6" stroke="#111" stroke-width="1.5"/>
<path d="M285.6 263.8V261.8H291.2V263.8" stroke="#222" stroke-width="0.8" fill="none"/>
<path d="M285.9 258.7h0M288.4 258.7h0M290.9 258.7h0" stroke="#222" stroke-width="1.35" stroke-linecap="round"/>
<path d="M299 283.4V293.5M299 303.2V316.4" stroke="#3a3a3a" stroke-width="0.95"/>
<rect x="296.2" y="293.5" width="5.6" height="9.7" fill="#4DBBD5" stroke="#111" stroke-width="0.6"/>
<path d="M296.2 298.1h5.6" stroke="#111" stroke-width="1.5"/>
<path d="M304.6 257.9V282.8M304.6 301.2V327.9" stroke="#3a3a3a" stroke-width="0.95"/>
<rect x="301.8" y="282.8" width="5.6" height="18.4" fill="#E64B35" stroke="#111" stroke-width="0.6"/>
<path d="M301.8 292.3h5.6" stroke="#111" stroke-width="1.5"/>
<path d="M299 252.5V250.5H304.6V252.5" stroke="#222" stroke-width="0.8" fill="none"/>
<path d="M299.3 247.4h0M301.8 247.4h0M304.3 247.4h0" stroke="#222" stroke-width="1.35" stroke-linecap="round"/>
<path d="M315.2 279.5V293.5M315.2 314.4V336.8" stroke="#3a3a3a" stroke-width="0.95"/>
<rect x="309.6" y="293.5" width="11.2" height="20.9" fill="#E64B35" stroke="#111" stroke-width="0.6"/>
<path d="M309.6 303.2h11.2" stroke="#111" stroke-width="1.5"/>
<path d="M328.6 273.7V299.4M328.6 317.2V341.9" stroke="#3a3a3a" stroke-width="0.95"/>
<rect x="323" y="299.4" width="11.2" height="17.8" fill="#E64B35" stroke="#111" stroke-width="0.6"/>
<path d="M323 306.8h11.2" stroke="#111" stroke-width="1.5"/>
<path d="M339.2 304V305.8M339.2 310.1V312" stroke="#3a3a3a" stroke-width="0.95"/>
<rect x="336.4" y="305.8" width="5.6" height="4.3" fill="#4DBBD5" stroke="#111" stroke-width="0.6"/>
<path d="M336.4 307.5h5.6" stroke="#111" stroke-width="1.5"/>
<path d="M344.8 289.7V308.3M344.8 321.5V336.8" stroke="#3a3a3a" stroke-width="0.95"/>
<rect x="342" y="308.3" width="5.6" height="13.2" fill="#E64B35" stroke="#111" stroke-width="0.6"/>
<path d="M342 313.9h5.6" stroke="#111" stroke-width="1.5"/>
<path d="M352.6 319V326.1M352.6 334.3V334.3" stroke="#3a3a3a" stroke-width="0.95"/>
<rect x="349.8" y="326.1" width="5.6" height="8.2" fill="#4DBBD5" stroke="#111" stroke-width="0.6"/>
<path d="M349.8 330.4h5.6" stroke="#111" stroke-width="1.5"/>
<path d="M358.2 306.3V319M358.2 332.2V349.5" stroke="#3a3a3a" stroke-width="0.95"/>
<rect x="355.4" y="319" width="5.6" height="13.2" fill="#E64B35" stroke="#111" stroke-width="0.6"/>
<path d="M355.4 324.1h5.6" stroke="#111" stroke-width="1.5"/>
<path d="M366 304.2V314.4M366 327.1V335.5" stroke="#3a3a3a" stroke-width="0.95"/>
<rect x="363.2" y="314.4" width="5.6" height="12.7" fill="#4DBBD5" stroke="#111" stroke-width="0.6"/>
<path d="M363.2 321h5.6" stroke="#111" stroke-width="1.5"/>
<path d="M371.6 297.4V317M371.6 327.9V343.2" stroke="#3a3a3a" stroke-width="0.95"/>
<rect x="368.8" y="317" width="5.6" height="10.9" fill="#E64B35" stroke="#111" stroke-width="0.6"/>
<path d="M368.8 321.5h5.6" stroke="#111" stroke-width="1.5"/>
<path d="M379.4 316.5V322.8M379.4 327.1V329.7" stroke="#3a3a3a" stroke-width="0.95"/>
<rect x="376.6" y="322.8" width="5.6" height="4.3" fill="#4DBBD5" stroke="#111" stroke-width="0.6"/>
<path d="M376.6 324.6h5.6" stroke="#111" stroke-width="1.5"/>
<path d="M385 299.1V312.1M385 323.6V339.4" stroke="#3a3a3a" stroke-width="0.95"/>
<rect x="382.2" y="312.1" width="5.6" height="11.5" fill="#E64B35" stroke="#111" stroke-width="0.6"/>
<path d="M382.2 318.5h5.6" stroke="#111" stroke-width="1.5"/>
<path d="M379.4 292.9V290.9H385V292.9" stroke="#222" stroke-width="0.8" fill="none"/>
<path d="M380.9 287.8h0M383.4 287.8h0" stroke="#222" stroke-width="1.35" stroke-linecap="round"/>
<path d="M392.8 335.5V338M392.8 342.4V344.4" stroke="#3a3a3a" stroke-width="0.95"/>
<rect x="390" y="338" width="5.6" height="4.4" fill="#4DBBD5" stroke="#111" stroke-width="0.6"/>
<path d="M390 340.1h5.6" stroke="#111" stroke-width="1.5"/>
<path d="M398.4 273.2V306.8M398.4 323.6V352.1" stroke="#3a3a3a" stroke-width="0.95"/>
<rect x="395.6" y="306.8" width="5.6" height="16.8" fill="#E64B35" stroke="#111" stroke-width="0.6"/>
<path d="M395.6 313.4h5.6" stroke="#111" stroke-width="1.5"/>
<path d="M406.2 317.2V317.2M406.2 317.2V317.2" stroke="#3a3a3a" stroke-width="0.95"/>
<path d="M403.4 317.2h5.6" stroke="#111" stroke-width="1.4"/>
<path d="M411.8 269.4V301.7M411.8 320.3V347" stroke="#3a3a3a" stroke-width="0.95"/>
<rect x="409" y="301.7" width="5.6" height="18.6" fill="#E64B35" stroke="#111" stroke-width="0.6"/>
<path d="M409 310.8h5.6" stroke="#111" stroke-width="1.5"/>
<path d="M419.6 310.1V329M419.6 344.2V350.8" stroke="#3a3a3a" stroke-width="0.95"/>
<rect x="416.8" y="329" width="5.6" height="15.2" fill="#4DBBD5" stroke="#111" stroke-width="0.6"/>
<path d="M416.8 335h5.6" stroke="#111" stroke-width="1.5"/>
<path d="M425.2 293.5V311.4M425.2 325.4V340.6" stroke="#3a3a3a" stroke-width="0.95"/>
<rect x="422.4" y="311.4" width="5.6" height="14" fill="#E64B35" stroke="#111" stroke-width="0.6"/>
<path d="M422.4 318.5h5.6" stroke="#111" stroke-width="1.5"/>
<path d="M419.6 285.6V283.6H425.2V285.6" stroke="#222" stroke-width="0.8" fill="none"/>
<path d="M419.9 280.5h0M422.4 280.5h0M424.9 280.5h0" stroke="#222" stroke-width="1.35" stroke-linecap="round"/>
<path d="M435.8 280.8V303.3M435.8 320.4V344.4" stroke="#3a3a3a" stroke-width="0.95"/>
<rect x="430.2" y="303.3" width="11.2" height="17.1" fill="#E64B35" stroke="#111" stroke-width="0.6"/>
<path d="M430.2 309.7h11.2" stroke="#111" stroke-width="1.5"/>
<path d="M446.4 302.4V309M446.4 316V321.5" stroke="#3a3a3a" stroke-width="0.95"/>
<rect x="443.6" y="309" width="5.6" height="7" fill="#4DBBD5" stroke="#111" stroke-width="0.6"/>
<path d="M443.6 312.2h5.6" stroke="#111" stroke-width="1.5"/>
<path d="M452 293V310M452 323.5V341.9" stroke="#3a3a3a" stroke-width="0.95"/>
<rect x="449.2" y="310" width="5.6" height="13.5" fill="#E64B35" stroke="#111" stroke-width="0.6"/>
<path d="M449.2 315.5h5.6" stroke="#111" stroke-width="1.5"/>
<path d="M446.4 292.5V290.5H452V292.5" stroke="#222" stroke-width="0.8" fill="none"/>
<path d="M449.2 287.4h0" stroke="#222" stroke-width="1.35" stroke-linecap="round"/>
<path d="M459.8 309.5V309.5M459.8 309.5V309.5" stroke="#3a3a3a" stroke-width="0.95"/>
<path d="M457 309.5h5.6" stroke="#111" stroke-width="1.4"/>
<path d="M465.4 287.3V308.4M465.4 333.1V358.5" stroke="#3a3a3a" stroke-width="0.95"/>
<rect x="462.6" y="308.4" width="5.6" height="24.7" fill="#E64B35" stroke="#111" stroke-width="0.6"/>
<path d="M462.6 321.6h5.6" stroke="#111" stroke-width="1.5"/>
<path d="M473.2 308.9V314.5M473.2 322.1V327.5" stroke="#3a3a3a" stroke-width="0.95"/>
<rect x="470.4" y="314.5" width="5.6" height="7.6" fill="#4DBBD5" stroke="#111" stroke-width="0.6"/>
<path d="M470.4 318.3h5.6" stroke="#111" stroke-width="1.5"/>
<path d="M478.8 264.4V305.1M478.8 326.7V358.5" stroke="#3a3a3a" stroke-width="0.95"/>
<rect x="476" y="305.1" width="5.6" height="21.6" fill="#E64B35" stroke="#111" stroke-width="0.6"/>
<path d="M476 316h5.6" stroke="#111" stroke-width="1.5"/>
<path d="M489.4 283.4V301.5M489.4 321.1V342" stroke="#3a3a3a" stroke-width="0.95"/>
<rect x="483.8" y="301.5" width="11.2" height="19.6" fill="#E64B35" stroke="#111" stroke-width="0.6"/>
<path d="M483.8 309.7h11.2" stroke="#111" stroke-width="1.5"/>
<path d="M502.8 303V322.9M502.8 343.5V361.8" stroke="#3a3a3a" stroke-width="0.95"/>
<rect x="497.2" y="322.9" width="11.2" height="20.6" fill="#E64B35" stroke="#111" stroke-width="0.6"/>
<path d="M497.2 332.3h11.2" stroke="#111" stroke-width="1.5"/>
<path d="M84.6 342.7h0M90.2 262h0M90.2 265h0M90.2 268h0M90.2 354.2h0M90.2 356h0M90.2 357.8h0M90.2 359.6h0M98 332.1h0M103.6 262h0M103.6 266h0M103.6 270h0M103.6 274h0M103.6 278h0M103.6 282h0M103.6 286h0M103.6 290h0M103.6 294h0M103.6 298h0M103.6 335h0M103.6 338h0M103.6 341h0M103.6 344h0M103.6 346h0M103.6 348h0M103.6 350h0M103.6 352h0M103.6 354.5h0M117 348h0M117 351h0M117 354h0M117 357h0M117 359.7h0M124.8 338h0M124.8 354h0M143.8 281h0M143.8 284h0M143.8 287h0M143.8 290h0M143.8 293.5h0M143.8 339.4h0M143.8 341h0M143.8 342.5h0M143.8 344.4h0M165 343h0M191.8 359h0M197.4 339.4h0M197.4 342h0M197.4 345h0M197.4 348h0M197.4 351h0M197.4 354h0M197.4 357h0M197.4 360h0M197.4 362.3h0M218.6 290.5h0M224.2 346h0M224.2 348h0M224.2 350h0M224.2 352h0M224.2 354h0M224.2 356h0M224.2 358h0M224.2 360h0M237.6 267.8h0M237.6 279.3h0M248.2 307.7h0M248.2 311.1h0M261.6 332h0M261.6 335h0M261.6 338h0M261.6 341h0M261.6 344h0M261.6 347h0M285.6 321.5h0M304.6 331h0M315.2 345.5h0M315.2 353h0M344.8 345.6h0M344.8 357h0M371.6 298h0M371.6 344.5h0M371.6 346h0M371.6 348h0M371.6 350h0M371.6 352h0M371.6 354h0M385 343h0M385 357h0M398.4 357h0M398.4 360h0M398.4 361h0M411.8 266h0M411.8 268h0M411.8 349h0M411.8 352h0M411.8 355h0M411.8 358h0M411.8 361h0M425.2 347h0M435.8 349.5h0M435.8 357h0M446.4 333.7h0M446.4 337h0M446.4 340h0M446.4 343h0M446.4 346h0M452 343h0M452 346h0M452 349h0M452 352h0M452 355h0M473.2 339h0M478.8 360h0M478.8 362h0" stroke="#6a6a6a" stroke-width="1.35" stroke-linecap="round"/>
<path d="M66.5 242V367.7H511.3" stroke="#333" stroke-width="0.8" fill="none"/>
<path d="M64.0 333.9H66.5M64.0 298.5H66.5M64.0 263.1H66.5M74 367.7V370.2M87.4 367.7V370.2M100.8 367.7V370.2M114.2 367.7V370.2M127.6 367.7V370.2M141 367.7V370.2M154.4 367.7V370.2M167.8 367.7V370.2M181.2 367.7V370.2M194.6 367.7V370.2M208 367.7V370.2M221.4 367.7V370.2M234.8 367.7V370.2M248.2 367.7V370.2M261.6 367.7V370.2M275 367.7V370.2M288.4 367.7V370.2M301.8 367.7V370.2M315.2 367.7V370.2M328.6 367.7V370.2M342 367.7V370.2M355.4 367.7V370.2M368.8 367.7V370.2M382.2 367.7V370.2M395.6 367.7V370.2M409 367.7V370.2M422.4 367.7V370.2M435.8 367.7V370.2M449.2 367.7V370.2M462.6 367.7V370.2M476 367.7V370.2M489.4 367.7V370.2M502.8 367.7V370.2" stroke="#333" stroke-width="0.7"/>
<text x="61" y="336.5" font-size="7.3" fill="#333" text-anchor="end" font-family="Liberation Sans, sans-serif">2</text>
<text x="61" y="301.1" font-size="7.3" fill="#333" text-anchor="end" font-family="Liberation Sans, sans-serif">4</text>
<text x="61" y="265.7" font-size="7.3" fill="#333" text-anchor="end" font-family="Liberation Sans, sans-serif">6</text>
<text transform="translate(76.3,375.3) rotate(-45)" font-size="6.5" fill="#222" text-anchor="end" font-family="Liberation Sans, sans-serif">ACC</text>
<text transform="translate(89.7,375.3) rotate(-45)" font-size="6.5" fill="#222" text-anchor="end" font-family="Liberation Sans, sans-serif">BLCA</text>
<text transform="translate(103.1,375.3) rotate(-45)" font-size="6.5" fill="#222" text-anchor="end" font-family="Liberation Sans, sans-serif">BRCA</text>
<text transform="translate(116.5,375.3) rotate(-45)" font-size="6.5" fill="#222" text-anchor="end" font-family="Liberation Sans, sans-serif">CESC</text>
<text transform="translate(129.9,375.3) rotate(-45)" font-size="6.5" fill="#222" text-anchor="end" font-family="Liberation Sans, sans-serif">CHOL</text>
<text transform="translate(143.3,375.3) rotate(-45)" font-size="6.5" fill="#222" text-anchor="end" font-family="Liberation Sans, sans-serif">COAD</text>
<text transform="translate(156.7,375.3) rotate(-45)" font-size="6.5" fill="#222" text-anchor="end" font-family="Liberation Sans, sans-serif">DLBC</text>
<text transform="translate(170.1,375.3) rotate(-45)" font-size="6.5" fill="#222" text-anchor="end" font-family="Liberation Sans, sans-serif">ESCA</text>
<text transform="translate(183.5,375.3) rotate(-45)" font-size="6.5" fill="#222" text-anchor="end" font-family="Liberation Sans, sans-serif">GBM</text>
<text transform="translate(196.9,375.3) rotate(-45)" font-size="6.5" fill="#222" text-anchor="end" font-family="Liberation Sans, sans-serif">HNSC</text>
<text transform="translate(210.3,375.3) rotate(-45)" font-size="6.5" fill="#222" text-anchor="end" font-family="Liberation Sans, sans-serif">KICH</text>
<text transform="translate(223.7,375.3) rotate(-45)" font-size="6.5" fill="#222" text-anchor="end" font-family="Liberation Sans, sans-serif">KIRC</text>
<text transform="translate(237.1,375.3) rotate(-45)" font-size="6.5" fill="#222" text-anchor="end" font-family="Liberation Sans, sans-serif">KIRP</text>
<text transform="translate(250.5,375.3) rotate(-45)" font-size="6.5" fill="#222" text-anchor="end" font-family="Liberation Sans, sans-serif">LAML</text>
<text transform="translate(263.9,375.3) rotate(-45)" font-size="6.5" fill="#222" text-anchor="end" font-family="Liberation Sans, sans-serif">LGG</text>
<text transform="translate(277.3,375.3) rotate(-45)" font-size="6.5" fill="#222" text-anchor="end" font-family="Liberation Sans, sans-serif">LIHC</text>
<text transform="translate(290.7,375.3) rotate(-45)" font-size="6.5" fill="#222" text-anchor="end" font-family="Liberation Sans, sans-serif">LUAD</text>
<text transform="translate(304.1,375.3) rotate(-45)" font-size="6.5" fill="#222" text-anchor="end" font-family="Liberation Sans, sans-serif">LUSC</text>
<text transform="translate(317.5,375.3) rotate(-45)" font-size="6.5" fill="#222" text-anchor="end" font-family="Liberation Sans, sans-serif">MESO</text>
<text transform="translate(330.9,375.3) rotate(-45)" font-size="6.5" fill="#222" text-anchor="end" font-family="Liberation Sans, sans-serif">OV</text>
<text transform="translate(344.3,375.3) rotate(-45)" font-size="6.5" fill="#222" text-anchor="end" font-family="Liberation Sans, sans-serif">PAAD</text>
<text transform="translate(357.7,375.3) rotate(-45)" font-size="6.5" fill="#222" text-anchor="end" font-family="Liberation Sans, sans-serif">PCPG</text>
<text transform="translate(371.1,375.3) rotate(-45)" font-size="6.5" fill="#222" text-anchor="end" font-family="Liberation Sans, sans-serif">PRAD</text>
<text transform="translate(384.5,375.3) rotate(-45)" font-size="6.5" fill="#222" text-anchor="end" font-family="Liberation Sans, sans-serif">READ</text>
<text transform="translate(397.9,375.3) rotate(-45)" font-size="6.5" fill="#222" text-anchor="end" font-family="Liberation Sans, sans-serif">SARC</text>
<text transform="translate(411.3,375.3) rotate(-45)" font-size="6.5" fill="#222" text-anchor="end" font-family="Liberation Sans, sans-serif">SKCM</text>
<text transform="translate(424.7,375.3) rotate(-45)" font-size="6.5" fill="#222" text-anchor="end" font-family="Liberation Sans, sans-serif">STAD</text>
<text transform="translate(438.1,375.3) rotate(-45)" font-size="6.5" fill="#222" text-anchor="end" font-family="Liberation Sans, sans-serif">TGCT</text>
<text transform="translate(451.5,375.3) rotate(-45)" font-size="6.5" fill="#222" text-anchor="end" font-family="Liberation Sans, sans-serif">THCA</text>
<text transform="translate(464.9,375.3) rotate(-45)" font-size="6.5" fill="#222" text-anchor="end" font-family="Liberation Sans, sans-serif">THYM</text>
<text transform="translate(478.3,375.3) rotate(-45)" font-size="6.5" fill="#222" text-anchor="end" font-family="Liberation Sans, sans-serif">UCEC</text>
<text transform="translate(491.7,375.3) rotate(-45)" font-size="6.5" fill="#222" text-anchor="end" font-family="Liberation Sans, sans-serif">UCS</text>
<text transform="translate(505.1,375.3) rotate(-45)" font-size="6.5" fill="#222" text-anchor="end" font-family="Liberation Sans, sans-serif">UVM</text>
<text transform="translate(42.2,303.8) rotate(-90)" font-size="7.35" fill="#222" text-anchor="middle" font-family="Liberation Sans, sans-serif">The expression of ADAM17</text>
<text transform="translate(49.2,303.8) rotate(-90)" font-size="7.35" fill="#222" text-anchor="middle" font-family="Liberation Sans, sans-serif">Log<tspan font-size="5" dy="1.6">2</tspan><tspan dy="-1.6"> (TPM+1)</tspan></text>
<text x="5" y="231.7" font-size="7.9" font-weight="bold" fill="#111" font-family="Liberation Sans, sans-serif">B</text>
<path d="M518.1 297.6v8.2M518.1 305.8v8.2" stroke="#333" stroke-width="0.6"/>
<rect x="515.3" y="299.8" width="5.6" height="3.9" fill="#4DBBD5" stroke="#111" stroke-width="0.7"/>
<path d="M515.3 301.7h5.6" stroke="#111" stroke-width="0.8"/>
<rect x="515.3" y="307.6" width="5.6" height="4.1" fill="#E64B35" stroke="#111" stroke-width="0.7"/>
<path d="M515.3 309.6h5.6" stroke="#111" stroke-width="0.8"/>
<text x="525" y="304" font-size="6.9" fill="#222" font-family="Liberation Sans, sans-serif">Normal</text>
<text x="525" y="311.8" font-size="6.9" fill="#222" font-family="Liberation Sans, sans-serif">Tumor</text>
<text x="4.3" y="408.3" font-size="8" font-weight="bold" fill="#111" font-family="Liberation Sans, sans-serif">C</text>
<path d="M137.3 521.2V541.5M137.3 558.3V583.1" stroke="#111" stroke-width="0.9"/>
<rect x="109.3" y="541.5" width="56.1" height="16.8" fill="#4DBBD5" stroke="#000" stroke-width="1.1"/>
<path d="M109.3 550H165.4" stroke="#000" stroke-width="1.8"/>
<path d="M207.5 457.3V511.7M207.5 549.3V582.3" stroke="#111" stroke-width="0.9"/>
<rect x="179.6" y="511.7" width="55.8" height="37.6" fill="#E64B35" stroke="#000" stroke-width="1.1"/>
<path d="M179.6 530H235.4" stroke="#000" stroke-width="1.8"/>
<path d="M207.5 414h0M207.5 416h0M207.5 418.4h0M207.5 421h0M207.5 428h0M207.5 438.3h0M207.5 448.4h0M207.5 451h0" stroke="#8a8a8a" stroke-width="1.8" stroke-linecap="round"/>
<path d="M95.5 406.5V588.8H249.6" stroke="#222" stroke-width="1.1" fill="none"/>
<path d="M92.7 552H95.5M92.7 510.8H95.5M92.7 469.6H95.5M92.7 428.4H95.5M137.3 588.8v3.2M207.5 588.8v3.2" stroke="#222" stroke-width="0.8"/>
<text x="90.1" y="555.5" font-size="9.8" fill="#222" text-anchor="end" font-family="Liberation Sans, sans-serif">1</text>
<text x="90.1" y="514.3" font-size="9.8" fill="#222" text-anchor="end" font-family="Liberation Sans, sans-serif">2</text>
<text x="90.1" y="473.1" font-size="9.8" fill="#222" text-anchor="end" font-family="Liberation Sans, sans-serif">3</text>
<text x="90.1" y="431.9" font-size="9.8" fill="#222" text-anchor="end" font-family="Liberation Sans, sans-serif">4</text>
<text x="137.3" y="604.5" font-size="8.9" fill="#222" text-anchor="middle" font-family="Liberation Sans, sans-serif">Normal</text>
<text x="207.5" y="604.5" font-size="8.9" fill="#222" text-anchor="middle" font-family="Liberation Sans, sans-serif">Tumor</text>
<path d="M137.3 411.6V409H207.5V411.6" stroke="#111" stroke-width="1.2" fill="none"/>
<text x="172.7" y="406.6" font-size="9.5" font-weight="bold" fill="#1a1a1a" text-anchor="middle" font-family="Liberation Sans, sans-serif">5.9 <tspan font-weight="normal" font-size="8.5" fill="#444">×</tspan> 10<tspan font-size="5.8" dy="-4">−8</tspan></text>
<text transform="translate(62.3,492.5) rotate(-90)" font-size="10.7" fill="#222" text-anchor="middle" font-family="Liberation Sans, sans-serif">The expression of ADAM17</text>
<text transform="translate(72.7,492.5) rotate(-90)" font-size="10.7" fill="#222" text-anchor="middle" font-family="Liberation Sans, sans-serif">Log<tspan font-size="7" dy="2.2">2</tspan><tspan dy="-2.2"> (TPM+1)</tspan></text>
<text x="278.3" y="408.1" font-size="8" font-weight="bold" fill="#111" font-family="Liberation Sans, sans-serif">D</text>
<path d="M400 504V532.5M400 552.5V580" stroke="#111" stroke-width="0.9"/>
<rect x="371" y="532.5" width="57.5" height="20" fill="#4DBBD5" stroke="#000" stroke-width="1.1"/>
<path d="M371 541.5H428.5" stroke="#000" stroke-width="1.8"/>
<path d="M471.4 450V507.5M471.4 546V583.5" stroke="#111" stroke-width="0.9"/>
<rect x="442.5" y="507.5" width="57.5" height="38.5" fill="#E64B35" stroke="#000" stroke-width="1.1"/>
<path d="M442.5 526H500" stroke="#000" stroke-width="1.8"/>
<path d="M400 498.5h0M400 485h0M400 481.5h0M400 477.5h0M471.4 437.5h0M471.4 425h0M471.4 419h0M471.4 416h0M471.4 414h0" stroke="#8a8a8a" stroke-width="1.8" stroke-linecap="round"/>
<path d="M357.5 407.5V588.8H514" stroke="#222" stroke-width="1.1" fill="none"/>
<path d="M354.7 586.9H357.5M354.7 550.2H357.5M354.7 513.5H357.5M354.7 476.8H357.5M354.7 440.1H357.5M400 588.8v3.2M471.4 588.8v3.2" stroke="#222" stroke-width="0.8"/>
<text x="352.1" y="590.4" font-size="9.8" fill="#222" text-anchor="end" font-family="Liberation Sans, sans-serif">0</text>
<text x="352.1" y="553.7" font-size="9.8" fill="#222" text-anchor="end" font-family="Liberation Sans, sans-serif">1</text>
<text x="352.1" y="517" font-size="9.8" fill="#222" text-anchor="end" font-family="Liberation Sans, sans-serif">2</text>
<text x="352.1" y="480.3" font-size="9.8" fill="#222" text-anchor="end" font-family="Liberation Sans, sans-serif">3</text>
<text x="352.1" y="443.6" font-size="9.8" fill="#222" text-anchor="end" font-family="Liberation Sans, sans-serif">4</text>
<text x="400" y="604.5" font-size="8.9" fill="#222" text-anchor="middle" font-family="Liberation Sans, sans-serif">Normal</text>
<text x="471.4" y="604.5" font-size="8.9" fill="#222" text-anchor="middle" font-family="Liberation Sans, sans-serif">Tumor</text>
<path d="M400 412.8V410.2H471.4V412.8" stroke="#111" stroke-width="1.2" fill="none"/>
<text x="436.2" y="407.8" font-size="9.5" font-weight="bold" fill="#1a1a1a" text-anchor="middle" font-family="Liberation Sans, sans-serif">7.4 <tspan font-weight="normal" font-size="8.5" fill="#444">×</tspan> 10<tspan font-size="5.8" dy="-4">−11</tspan></text>
<text transform="translate(325,492.5) rotate(-90)" font-size="10.7" fill="#222" text-anchor="middle" font-family="Liberation Sans, sans-serif">The expression of ADAM17</text>
<text transform="translate(335.4,492.5) rotate(-90)" font-size="10.7" fill="#222" text-anchor="middle" font-family="Liberation Sans, sans-serif">Log<tspan font-size="7" dy="2.2">2</tspan><tspan dy="-2.2"> (TPM+1)</tspan></text>
<path d="M95 623.7H96.6V625.5H98.2V627.4H102.5V629.5H104.7V631H106.9V632.5H109.1V634.3H111.3V636.1H112.8V637.5H114.2V639H115.7V640.8H117.1V642.6H118.2V644.5H119.3V646.3H120.7V651.4H122.2V656.5H123.3V658.3H124.4V660.1H126.2V661.5H128V663H131.6V665.2H138.9V665.9H144.2V666.2H145.8V668H147.5V669.8H149.7V671.5H151.8V673.1H152.9V679.6H160.5V679.6H161.6V686.2H162.4V687.8H163.2V689.5H164.1V691.1H164.9V692.7H167.1V694.9H169.3V697.1H181.3V697.4H181.6V708.8H195.2V708.8H196V717.8H222.2V717.8H222.6V734.2H227.1V734.2H227.5V750.4H236.9V750.4" stroke="#3FB0CD" stroke-width="1.2" fill="none"/>
<path d="M134.1 665.7h4.8M136.5 663.3v4.8M142 666.4h4.8M144.4 664v4.8M145.6 670.2h4.8M148 667.8v4.8M155.4 679.6h4.8M157.8 677.2v4.8M141.9 666.3h4.8M144.3 663.9v4.8M154 679.6h4.8M156.4 677.2v4.8M94.5 625.9h4.8M96.9 623.5v4.8M123.6 661.4h4.8M126 659v4.8M155.4 679.6h4.8M157.8 677.2v4.8M135.8 665.8h4.8M138.2 663.4v4.8M152.6 679.6h4.8M155 677.2v4.8M100.1 629.5h4.8M102.5 627.1v4.8M123.8 661.6h4.8M126.2 659.2v4.8M109 636.2h4.8M111.4 633.8v4.8M128.8 665h4.8M131.2 662.6v4.8M130.8 665.4h4.8M133.2 663v4.8M93.5 624.7h4.8M95.9 622.3v4.8M107 634.6h4.8M109.4 632.2v4.8M111.2 638.4h4.8M113.6 636v4.8M153.6 679.6h4.8M156 677.2v4.8M143.6 668.2h4.8M146 665.8v4.8M103.2 631.6h4.8M105.6 629.2v4.8M145.7 670.3h4.8M148.1 667.9v4.8M101.8 630.7h4.8M104.2 628.3v4.8M133.7 665.6h4.8M136.1 663.2v4.8M101 630.1h4.8M103.4 627.7v4.8M92.7 623.8h4.8M95.1 621.4v4.8M150.6 679.6h4.8M153 677.2v4.8M106.5 634.2h4.8M108.9 631.8v4.8M107 634.5h4.8M109.4 632.1v4.8M158 679.6h4.8M160.4 677.2v4.8M150.7 679.6h4.8M153.1 677.2v4.8M111.9 639.1h4.8M114.3 636.7v4.8M156.6 679.6h4.8M159 677.2v4.8M128.5 664.8h4.8M130.9 662.4v4.8M137.7 666h4.8M140.1 663.6v4.8M106.2 633.9h4.8M108.6 631.5v4.8M155.3 679.6h4.8M157.7 677.2v4.8M138.6 666h4.8M141 663.6v4.8M157 679.6h4.8M159.4 677.2v4.8M152.1 679.6h4.8M154.5 677.2v4.8M112.5 639.9h4.8M114.9 637.5v4.8M116.7 645.9h4.8M119.1 643.5v4.8M103.7 631.9h4.8M106.1 629.5v4.8M102.3 631h4.8M104.7 628.6v4.8M96.9 628h4.8M99.3 625.6v4.8M112.7 640.1h4.8M115.1 637.7v4.8M132.8 665.5h4.8M135.2 663.1v4.8M92.8 624h4.8M95.2 621.6v4.8M137.8 666h4.8M140.2 663.6v4.8M115.1 643.3h4.8M117.5 640.9v4.8M113.2 640.8h4.8M115.6 638.4v4.8M147.1 671.3h4.8M149.5 668.9v4.8M124.6 662.2h4.8M127 659.8v4.8M113.6 641.3h4.8M116 638.9v4.8M124.6 662.2h4.8M127 659.8v4.8M139.5 666.1h4.8M141.9 663.7v4.8M96.4 627.7h4.8M98.8 625.3v4.8M157.5 679.6h4.8M159.9 677.2v4.8M94.1 625.5h4.8M96.5 623.1v4.8M142.5 667h4.8M144.9 664.6v4.8M148.9 672.7h4.8M151.3 670.3v4.8M93.8 625.1h4.8M96.2 622.7v4.8M145.1 669.8h4.8M147.5 667.4v4.8M117 646.6h4.8M119.4 644.2v4.8M131.1 665.4h4.8M133.5 663v4.8M93.2 624.4h4.8M95.6 622v4.8M95.7 627.3h4.8M98.1 624.9v4.8M104.6 632.6h4.8M107 630.2v4.8M156.2 679.6h4.8M158.6 677.2v4.8M105.7 633.5h4.8M108.1 631.1v4.8M142.9 667.4h4.8M145.3 665v4.8M154.5 679.6h4.8M156.9 677.2v4.8M155.3 679.6h4.8M157.7 677.2v4.8M115.5 644h4.8M117.9 641.6v4.8M116.2 645.2h4.8M118.6 642.8v4.8M127.5 664.2h4.8M129.9 661.8v4.8M144.3 668.9h4.8M146.7 666.5v4.8M99.8 629.4h4.8M102.2 627v4.8M142.4 666.9h4.8M144.8 664.5v4.8M145.7 670.3h4.8M148.1 667.9v4.8M149.9 675.8h4.8M152.3 673.4v4.8M95 626.5h4.8M97.4 624.1v4.8M155.6 679.6h4.8M158 677.2v4.8M98.7 628.8h4.8M101.1 626.4v4.8M115.3 643.6h4.8M117.7 641.2v4.8M133.3 665.6h4.8M135.7 663.2v4.8M153.7 679.6h4.8M156.1 677.2v4.8M115.2 643.5h4.8M117.6 641.1v4.8M154.2 679.6h4.8M156.6 677.2v4.8M128.9 665h4.8M131.3 662.6v4.8M113.4 641h4.8M115.8 638.6v4.8M113.7 641.4h4.8M116.1 639v4.8M104.4 632.4h4.8M106.8 630v4.8M97.8 628.4h4.8M100.2 626v4.8M162.5 692.5h4.8M164.9 690.1v4.8M168.2 697.2h4.8M170.6 694.8v4.8M174 697.3h4.8M176.4 694.9v4.8M178.1 697.4h4.8M180.5 695v4.8M182.1 708.5h4.8M184.5 706.1v4.8M187.1 708.8h4.8M189.5 706.4v4.8M204.2 717.8h4.8M206.6 715.4v4.8M227.2 749.8h4.8M229.6 747.4v4.8M233.7 749.8h4.8M236.1 747.4v4.8" stroke="#3FB0CD" stroke-width="1" fill="none"/>
<path d="M95 623.7H95.6V625.6H96.1V627.6H96.7V629.5H97.2V631.3H97.8V633.1H98.4V635H98.9V636.8H99.6V638.7H100.4V640.7H101.1V642.6H102.5V644.8H104V647H104.7V648.9H105.5V650.9H106.2V652.8H107.6V658.6H108.3V660.6H109.1V662.5H109.8V664.5H110.9V666.6H112V668.8H115.6V671H120V673.2H121.8V674.7H123.6V676.1H124.7V678.3H125.8V680.5H126.9V682.6H128V684.8H129.1V686.6H130.2V688.5H132.8V690H135.5V691.6H138.2V693.8H140.9V696H141.4V697.6H142V699.2H142.6V700.9H143.1V702.5H147.4V704.1H151.8V705.8H155.1V708H158.4V710.2H169.8V711H170.5V714.5H194.4V715.4H195V724.4H198V724.4H198.7V748.8H245.9V748.8" stroke="#E2503A" stroke-width="1.2" fill="none"/>
<path d="M102 648.2h4.8M104.4 645.8v4.8M136.3 694.2h4.8M138.7 691.8v4.8M155.8 710.1h4.8M158.2 707.7v4.8M102.8 650.3h4.8M105.2 647.9v4.8M95.7 634.1h4.8M98.1 631.7v4.8M155.2 709.6h4.8M157.6 707.2v4.8M126.4 686.2h4.8M128.8 683.8v4.8M118.3 673.8h4.8M120.7 671.4v4.8M107.6 665h4.8M110 662.6v4.8M130.3 689.9h4.8M132.7 687.5v4.8M145 704.1h4.8M147.4 701.7v4.8M121.5 676.7h4.8M123.9 674.3v4.8M119.3 674.6h4.8M121.7 672.2v4.8M96.1 635.6h4.8M98.5 633.2v4.8M150.7 706.7h4.8M153.1 704.3v4.8M94.7 630.7h4.8M97.1 628.3v4.8M123.9 681.5h4.8M126.3 679.1v4.8M145.8 704.4h4.8M148.2 702v4.8M100.9 645.9h4.8M103.3 643.5v4.8M139 697.4h4.8M141.4 695v4.8M152.8 708.1h4.8M155.2 705.7v4.8M132.6 691.3h4.8M135 688.9v4.8M142.6 703.2h4.8M145 700.8v4.8M99.4 643.6h4.8M101.8 641.2v4.8M120.2 675.3h4.8M122.6 672.9v4.8M102.1 648.2h4.8M104.5 645.8v4.8M146.2 704.6h4.8M148.6 702.2v4.8M111.3 669.8h4.8M113.7 667.4v4.8M121.3 676.4h4.8M123.7 674v4.8M156 710.2h4.8M158.4 707.8v4.8M146.6 704.8h4.8M149 702.4v4.8M154.5 709.2h4.8M156.9 706.8v4.8M121.4 676.4h4.8M123.8 674v4.8M123.5 680.8h4.8M125.9 678.4v4.8M138.9 697h4.8M141.3 694.6v4.8M123 679.6h4.8M125.4 677.2v4.8M111.1 669.7h4.8M113.5 667.3v4.8M118.2 673.7h4.8M120.6 671.3v4.8M101.9 647.8h4.8M104.3 645.4v4.8M116.5 672.7h4.8M118.9 670.3v4.8M155.3 709.7h4.8M157.7 707.3v4.8M153.5 708.5h4.8M155.9 706.1v4.8M132.3 691.2h4.8M134.7 688.8v4.8M124.3 682.2h4.8M126.7 679.8v4.8M114.1 671.4h4.8M116.5 669v4.8M98.3 641.4h4.8M100.7 639v4.8M109.9 669h4.8M112.3 666.6v4.8M142.2 703.1h4.8M144.6 700.7v4.8M147.6 705.1h4.8M150 702.7v4.8M115.5 672.2h4.8M117.9 669.8v4.8M142.4 703.2h4.8M144.8 700.8v4.8M141.7 702.9h4.8M144.1 700.5v4.8M136.6 694.5h4.8M139 692.1v4.8M134.7 692.9h4.8M137.1 690.5v4.8M140.8 702.5h4.8M143.2 700.1v4.8M115.6 672.2h4.8M118 669.8v4.8M137.3 695h4.8M139.7 692.6v4.8M110.4 669.3h4.8M112.8 666.9v4.8M123.4 680.5h4.8M125.8 678.1v4.8M141.4 702.8h4.8M143.8 700.4v4.8M136.4 694.3h4.8M138.8 691.9v4.8M111.2 669.8h4.8M113.6 667.4v4.8M152.5 707.9h4.8M154.9 705.5v4.8M133.8 692.2h4.8M136.2 689.8v4.8M129.4 689.4h4.8M131.8 687v4.8M93.3 626.2h4.8M95.7 623.8v4.8M127.3 687.6h4.8M129.7 685.2v4.8M108.5 666.6h4.8M110.9 664.2v4.8M135.2 693.3h4.8M137.6 690.9v4.8M122 677.6h4.8M124.4 675.2v4.8M144.4 703.9h4.8M146.8 701.5v4.8M133.6 692h4.8M136 689.6v4.8M143.2 703.4h4.8M145.6 701v4.8M114.7 671.7h4.8M117.1 669.3v4.8M133.4 691.9h4.8M135.8 689.5v4.8M139.4 698.6h4.8M141.8 696.2v4.8M145.1 704.2h4.8M147.5 701.8v4.8M114.8 671.8h4.8M117.2 669.4v4.8M146 704.5h4.8M148.4 702.1v4.8M147.8 705.2h4.8M150.2 702.8v4.8M93 624.2h4.8M95.4 621.8v4.8M93.8 626.5h4.8M96.2 624.1v4.8M160.1 711h4.8M162.5 708.6v4.8M163.3 711h4.8M165.7 708.6v4.8M166.6 711.5h4.8M169 709.1v4.8M170.7 714h4.8M173.1 711.6v4.8M174 714.2h4.8M176.4 711.8v4.8M184.6 714.8h4.8M187 712.4v4.8M187.1 715h4.8M189.5 712.6v4.8M190.3 715.2h4.8M192.7 712.8v4.8M191.2 715.4h4.8M193.6 713v4.8M204.2 749.2h4.8M206.6 746.8v4.8M232.9 749.2h4.8M235.3 746.8v4.8M241.9 749.2h4.8M244.3 746.8v4.8" stroke="#E2503A" stroke-width="1" fill="none"/>
<path d="M87.4 615V792.2H250" stroke="#111" stroke-width="1" fill="none"/>
<path d="M84.3 782.9H87.4M84.3 751H87.4M84.3 719.1H87.4M84.3 687.1H87.4M84.3 655.2H87.4M84.3 623.3H87.4M95.2 792.2v3M132 792.2v3M168.8 792.2v3M205.6 792.2v3M242.4 792.2v3" stroke="#111" stroke-width="0.9"/>
<text x="80.9" y="786.3" font-size="9.6" fill="#222" text-anchor="end" font-family="Liberation Sans, sans-serif">0.0</text>
<text x="80.9" y="754.4" font-size="9.6" fill="#222" text-anchor="end" font-family="Liberation Sans, sans-serif">0.2</text>
<text x="80.9" y="722.5" font-size="9.6" fill="#222" text-anchor="end" font-family="Liberation Sans, sans-serif">0.4</text>
<text x="80.9" y="690.5" font-size="9.6" fill="#222" text-anchor="end" font-family="Liberation Sans, sans-serif">0.6</text>
<text x="80.9" y="658.6" font-size="9.6" fill="#222" text-anchor="end" font-family="Liberation Sans, sans-serif">0.8</text>
<text x="80.9" y="626.7" font-size="9.6" fill="#222" text-anchor="end" font-family="Liberation Sans, sans-serif">1.0</text>
<text x="95.2" y="805.3" font-size="9.6" fill="#222" text-anchor="middle" font-family="Liberation Sans, sans-serif">0</text>
<text x="132" y="805.3" font-size="9.6" fill="#222" text-anchor="middle" font-family="Liberation Sans, sans-serif">30</text>
<text x="168.8" y="805.3" font-size="9.6" fill="#222" text-anchor="middle" font-family="Liberation Sans, sans-serif">60</text>
<text x="205.6" y="805.3" font-size="9.6" fill="#222" text-anchor="middle" font-family="Liberation Sans, sans-serif">90</text>
<text x="242.4" y="805.3" font-size="9.6" fill="#222" text-anchor="middle" font-family="Liberation Sans, sans-serif">120</text>
<text x="170" y="818.4" font-size="10.4" fill="#111" text-anchor="middle" font-family="Liberation Sans, sans-serif">Time (months)</text>
<text transform="translate(62,702.8) rotate(-90)" font-size="10.3" fill="#111" text-anchor="middle" font-family="Liberation Sans, sans-serif">Survival probability</text>
<text x="95.6" y="761.9" font-size="7.4" fill="#222" font-family="Liberation Sans, sans-serif">Overall Survival</text>
<text x="95.6" y="772.7" font-size="7.4" fill="#222" font-family="Liberation Sans, sans-serif">HR = 1.73 (1.21-2.47)</text>
<text x="97.9" y="784" font-size="6.3" font-weight="bold" fill="#111" font-family="Liberation Sans, sans-serif"><tspan font-style="italic">P</tspan> = 0.002</text>
<text x="209.2" y="624.6" font-size="7.4" fill="#222" font-family="Liberation Sans, sans-serif">ADAM17</text>
<path d="M210.9 632.6h13.2M217.5 630.3v4.6" stroke="#3FB0CD" stroke-width="1"/>
<path d="M210.9 643.4h13.2M217.5 641.1v4.6" stroke="#E2503A" stroke-width="1"/>
<text x="230.5" y="635.8" font-size="7.7" fill="#222" font-family="Liberation Sans, sans-serif">Low</text>
<text x="230.5" y="645.4" font-size="7.7" fill="#222" font-family="Liberation Sans, sans-serif">High</text>
<text x="5" y="627.8" font-size="7.9" font-weight="bold" fill="#111" font-family="Liberation Sans, sans-serif">E</text>
<path d="M352.3 640.5H353V642.4H353.8V644.3H354.5V646.2H355.2V648.1H356.3V649.9H357.4V651.8H358.4V653.6H359.5V655.4H360.7V657.3H362V659.3H363.2V661.2H364.6V668.5H365.7V670.3H366.8V672.1H367.9V674.3H369V676.5H370.5V680.1H374.1V681.5H376.3V683.4H378.5V685.2H382.1V685.9H383.1V687.6H384V689.3H385V691H386.1V692.8H387.2V694.6H393V694.6H394.1V696H395.2V697.5H398.8V698.3H400.3V702.6H409V702.6H410.4V704.5H411.9V706.3H413.4V710H428.6V710.5H429.5V715.4H453.7V715.4H454.5V718.9H455.4V729.2H457.1V729.2H458.3V742.5H490.8V742.5" stroke="#e8322f" stroke-width="0.75" fill="none"/>
<path d="M351.4 641.5h2.8M352.8 639.9v3.2M364 669.2h2.8M365.4 667.6v3.2M365.4 672.1h2.8M366.8 670.5v3.2M369.1 680.1h2.8M370.5 678.5v3.2M373.4 681.8h2.8M374.8 680.2v3.2M377.8 685.2h2.8M379.2 683.6v3.2M386.5 694.6h2.8M387.9 693v3.2M388.7 694.6h2.8M390.1 693v3.2M395.2 697.5h2.8M396.6 695.9v3.2M401.8 702.6h2.8M403.2 701v3.2M405.4 702.6h2.8M406.8 701v3.2M413.4 710h2.8M414.8 708.4v3.2M418.5 710.2h2.8M419.9 708.6v3.2M420.3 710.3h2.8M421.7 708.7v3.2M425.5 710.4h2.8M426.9 708.8v3.2M430.7 715.4h2.8M432.1 713.8v3.2M435 715.4h2.8M436.4 713.8v3.2M448 715.4h2.8M449.4 713.8v3.2M451.4 715.4h2.8M452.8 713.8v3.2M465.2 742.5h2.8M466.6 740.9v3.2M469.1 742.5h2.8M470.5 740.9v3.2" stroke="#e8322f" stroke-width="0.75" fill="none"/>
<path d="M352.3 640.5H353.7V645.2H355.1V646.7H356.6V648.1H358.8V649.5H361V651H363.2V652.8H365.4V654.6H367.5V656.5H369.7V658.3H371.9V659.8H374.1V661.2H376.3V663.4H377.4V665.5H378.5V667.7H379.6V669.9H380.6V672.1H382.5V673.5H384.3V675H386.5V676.8H388.6V678.6H390.1V680.5H391.5V682.3H395.9V682.3H398.1V683.8H400.3V685.2H402.5V686.7H404.6V688.1H409V690.3H411.2V691.8H413.4V693.2H417.7V694.6H419.1V696H420.6V697.5H421.6V699.5H422.5V701.4H423.5V703.4H426.9V705.9H439V705.9H439.9V707.6H440.7V709.4H441.6V711.1H453.7V712H455.4V713.7H456V715.7H456.5V717.7H457.1V719.7H458V724.6H482.2V724.6H483.1V733.6H488.2V733.6H489.1V742.5H506.4V742.5" stroke="#151515" stroke-width="0.85" fill="none"/>
<path d="M380.9 673.4h2.8M382.3 671.8v3.2M393.5 682.3h2.8M394.9 680.7v3.2M392.6 682.3h2.8M394 680.7v3.2M373.5 662h2.8M374.9 660.4v3.2M374 662.5h2.8M375.4 660.9v3.2M358.1 650h2.8M359.5 648.4v3.2M387.4 678.8h2.8M388.8 677.2v3.2M391.8 682.3h2.8M393.2 680.7v3.2M371.7 660.5h2.8M373.1 658.9v3.2M381 673.5h2.8M382.4 671.9v3.2M382.3 674.5h2.8M383.7 672.9v3.2M382.7 674.9h2.8M384.1 673.3v3.2M358.4 650.2h2.8M359.8 648.6v3.2M384.9 676.7h2.8M386.3 675.1v3.2M376.2 666h2.8M377.6 664.4v3.2M379.9 672.7h2.8M381.3 671.1v3.2M369.2 658.9h2.8M370.6 657.3v3.2M378.1 669.8h2.8M379.5 668.2v3.2M384.7 676.5h2.8M386.1 674.9v3.2M378.7 671h2.8M380.1 669.4v3.2M382.3 674.5h2.8M383.7 672.9v3.2M352.1 644.5h2.8M353.5 642.9v3.2M357.9 649.9h2.8M359.3 648.3v3.2M370.1 659.5h2.8M371.5 657.9v3.2M379.2 672.1h2.8M380.6 670.5v3.2M360.5 651.7h2.8M361.9 650.1v3.2M380.8 673.4h2.8M382.2 671.8v3.2M378.4 670.4h2.8M379.8 668.8v3.2M352.7 645.6h2.8M354.1 644v3.2M371.5 660.4h2.8M372.9 658.8v3.2M360.8 652h2.8M362.2 650.4v3.2M353.3 646.2h2.8M354.7 644.6v3.2M356.7 649.1h2.8M358.1 647.5v3.2M364.7 655.2h2.8M366.1 653.6v3.2M358.8 650.5h2.8M360.2 648.9v3.2M359.3 650.8h2.8M360.7 649.2v3.2M352.5 645.4h2.8M353.9 643.8v3.2M371.2 660.2h2.8M372.6 658.6v3.2M367.5 657.6h2.8M368.9 656v3.2M377.6 668.7h2.8M379 667.1v3.2M376.6 666.8h2.8M378 665.2v3.2M361.3 652.4h2.8M362.7 650.8v3.2M390.3 682.3h2.8M391.7 680.7v3.2M350.9 640.6h2.8M352.3 639v3.2M368.6 658.5h2.8M370 656.9v3.2M363 653.8h2.8M364.4 652.2v3.2M368.8 658.6h2.8M370.2 657v3.2M355.9 648.6h2.8M357.3 647v3.2M387.1 678.6h2.8M388.5 677v3.2M367.2 657.4h2.8M368.6 655.8v3.2M352.5 645.4h2.8M353.9 643.8v3.2M377.7 668.9h2.8M379.1 667.3v3.2M355 647.9h2.8M356.4 646.3v3.2M374.7 663.2h2.8M376.1 661.6v3.2M365.7 656.1h2.8M367.1 654.5v3.2M376.2 666h2.8M377.6 664.4v3.2M392.7 682.3h2.8M394.1 680.7v3.2M386.6 678.1h2.8M388 676.5v3.2M369.2 658.9h2.8M370.6 657.3v3.2M386.3 677.9h2.8M387.7 676.3v3.2M378.9 671.5h2.8M380.3 669.9v3.2M367 657.2h2.8M368.4 655.6v3.2M357.1 649.3h2.8M358.5 647.7v3.2M376.9 667.3h2.8M378.3 665.7v3.2M375.5 664.5h2.8M376.9 662.9v3.2M392.6 682.3h2.8M394 680.7v3.2M393.1 682.3h2.8M394.5 680.7v3.2M377.4 668.4h2.8M378.8 666.8v3.2M366.2 656.5h2.8M367.6 654.9v3.2M389.9 682h2.8M391.3 680.4v3.2M350.9 640.6h2.8M352.3 639v3.2M355.6 648.4h2.8M357 646.8v3.2M375.6 664.7h2.8M377 663.1v3.2M377.7 669h2.8M379.1 667.4v3.2M357 649.3h2.8M358.4 647.7v3.2M378.3 670.3h2.8M379.7 668.7v3.2M389.8 681.9h2.8M391.2 680.3v3.2M367.3 657.4h2.8M368.7 655.8v3.2M369.7 659.2h2.8M371.1 657.6v3.2M360.8 652h2.8M362.2 650.4v3.2M363.6 654.3h2.8M365 652.7v3.2M393.3 682.3h2.8M394.7 680.7v3.2M367.5 657.6h2.8M368.9 656v3.2M392.8 682.3h2.8M394.2 680.7v3.2M390.7 682.3h2.8M392.1 680.7v3.2M376.9 667.3h2.8M378.3 665.7v3.2M362.2 653.2h2.8M363.6 651.6v3.2M393.7 682.3h2.8M395.1 680.7v3.2M372.5 661.1h2.8M373.9 659.5v3.2M369 658.8h2.8M370.4 657.2v3.2M364.8 655.3h2.8M366.2 653.7v3.2M393.8 682.3h2.8M395.2 680.7v3.2M372.3 661h2.8M373.7 659.4v3.2M363.4 654.1h2.8M364.8 652.5v3.2M371.7 660.5h2.8M373.1 658.9v3.2M356.2 648.8h2.8M357.6 647.2v3.2M378 669.6h2.8M379.4 668v3.2M370.2 659.6h2.8M371.6 658v3.2M363.7 654.3h2.8M365.1 652.7v3.2M385 676.7h2.8M386.4 675.1v3.2M386.9 678.4h2.8M388.3 676.8v3.2M351.5 642.4h2.8M352.9 640.8v3.2M374.1 662.6h2.8M375.5 661v3.2M362.8 653.6h2.8M364.2 652v3.2M391.7 682.3h2.8M393.1 680.7v3.2M385 676.8h2.8M386.4 675.2v3.2M361.6 652.6h2.8M363 651v3.2M362.6 653.4h2.8M364 651.8v3.2M357.6 649.7h2.8M359 648.1v3.2M394 682.3h2.8M395.4 680.7v3.2M398.1 683.6h2.8M399.5 682v3.2M401.8 686.4h2.8M403.2 684.8v3.2M406.3 689.1h2.8M407.7 687.5v3.2M411.8 692.7h2.8M413.2 691.1v3.2M415.4 694.5h2.8M416.8 692.9v3.2M419.1 697.3h2.8M420.5 695.7v3.2M423.6 704h2.8M425 702.4v3.2M426.4 705.9h2.8M427.8 704.3v3.2M429 705.9h2.8M430.4 704.3v3.2M434.1 705.9h2.8M435.5 704.3v3.2M437.6 705.9h2.8M439 704.3v3.2M442.8 711.5h2.8M444.2 709.9v3.2M447.1 712h2.8M448.5 710.4v3.2M450.6 712h2.8M452 710.4v3.2M452.3 712.8h2.8M453.7 711.2v3.2M465.2 724.6h2.8M466.6 723v3.2M489.4 742.5h2.8M490.8 740.9v3.2M496.3 742.5h2.8M497.7 740.9v3.2M504.1 742.5h2.8M505.5 740.9v3.2" stroke="#151515" stroke-width="0.75" fill="none"/>
<rect x="345.4" y="635.5" width="166.1" height="139.8" fill="none" stroke="#333" stroke-width="0.8"/>
<path d="M351.8 775.3v3.2M376.7 775.3v3.2M401.5 775.3v3.2M426.4 775.3v3.2M451.2 775.3v3.2M476.1 775.3v3.2M500.9 775.3v3.2M345.4 770.2h-3M345.4 744.2h-3M345.4 718.2h-3M345.4 692.3h-3M345.4 666.3h-3M345.4 640.3h-3" stroke="#333" stroke-width="0.7"/>
<text x="351.8" y="786.4" font-size="7.4" fill="#222" text-anchor="middle" font-family="Liberation Sans, sans-serif">0</text>
<text x="376.7" y="786.4" font-size="7.4" fill="#222" text-anchor="middle" font-family="Liberation Sans, sans-serif">20</text>
<text x="401.5" y="786.4" font-size="7.4" fill="#222" text-anchor="middle" font-family="Liberation Sans, sans-serif">40</text>
<text x="426.4" y="786.4" font-size="7.4" fill="#222" text-anchor="middle" font-family="Liberation Sans, sans-serif">60</text>
<text x="451.2" y="786.4" font-size="7.4" fill="#222" text-anchor="middle" font-family="Liberation Sans, sans-serif">80</text>
<text x="476.1" y="786.4" font-size="7.4" fill="#222" text-anchor="middle" font-family="Liberation Sans, sans-serif">100</text>
<text x="500.9" y="786.4" font-size="7.4" fill="#222" text-anchor="middle" font-family="Liberation Sans, sans-serif">120</text>
<text transform="translate(338.7,770.2) rotate(-90)" font-size="7.1" fill="#222" text-anchor="middle" font-family="Liberation Sans, sans-serif">0.0</text>
<text transform="translate(338.7,744.2) rotate(-90)" font-size="7.1" fill="#222" text-anchor="middle" font-family="Liberation Sans, sans-serif">0.2</text>
<text transform="translate(338.7,718.2) rotate(-90)" font-size="7.1" fill="#222" text-anchor="middle" font-family="Liberation Sans, sans-serif">0.4</text>
<text transform="translate(338.7,692.3) rotate(-90)" font-size="7.1" fill="#222" text-anchor="middle" font-family="Liberation Sans, sans-serif">0.6</text>
<text transform="translate(338.7,666.3) rotate(-90)" font-size="7.1" fill="#222" text-anchor="middle" font-family="Liberation Sans, sans-serif">0.8</text>
<text transform="translate(338.7,640.3) rotate(-90)" font-size="7.1" fill="#222" text-anchor="middle" font-family="Liberation Sans, sans-serif">1.0</text>
<text x="429.2" y="798.2" font-size="7.6" fill="#111" text-anchor="middle" font-family="Liberation Sans, sans-serif">Time (months)</text>
<text transform="translate(326.8,706) rotate(-90)" font-size="7.8" fill="#111" text-anchor="middle" font-family="Liberation Sans, sans-serif">Probability</text>
<text x="429" y="626.3" font-size="7.4" font-weight="bold" fill="#111" text-anchor="middle" font-family="Liberation Sans, sans-serif">ADAM17 (6868)</text>
<text x="509.2" y="645" font-size="7.5" fill="#111" text-anchor="end" font-family="Liberation Sans, sans-serif">HR = 1.45 (1.02 − 2.06)</text>
<text x="506.5" y="654.4" font-size="6.6" font-weight="bold" fill="#111" text-anchor="end" font-family="Liberation Sans, sans-serif"><tspan font-style="italic">P</tspan> = 0.037</text>
<text x="450" y="654.3" font-size="7.5" fill="#111" font-family="Liberation Sans, sans-serif">logrank</text>
<text x="349.6" y="750.9" font-size="7.3" fill="#111" font-family="Liberation Sans, sans-serif">Expression</text>
<path d="M352.4 758.7h13.1" stroke="#999" stroke-width="0.8"/>
<path d="M352.4 767.3h13.1" stroke="#ec8a8a" stroke-width="0.8"/>
<text x="372.7" y="761.8" font-size="7.5" fill="#111" font-family="Liberation Sans, sans-serif">low</text>
<text x="372.7" y="770" font-size="7.5" fill="#111" font-family="Liberation Sans, sans-serif">high</text>
<text x="279" y="629.7" font-size="7.9" font-weight="bold" fill="#111" font-family="Liberation Sans, sans-serif">F</text>
<text x="344.7" y="804.5" font-size="5.3" fill="#111" font-family="Liberation Sans, sans-serif">Number at risk</text>
<text x="339.3" y="810.4" font-size="5.3" fill="#111" text-anchor="end" font-family="Liberation Sans, sans-serif">low</text>
<text x="339.3" y="816.1" font-size="5.3" fill="#e8322f" text-anchor="end" font-family="Liberation Sans, sans-serif">high</text>
<text x="351.8" y="810.4" font-size="5.3" fill="#111" text-anchor="middle" font-family="Liberation Sans, sans-serif">238</text>
<text x="351.8" y="816.1" font-size="5.3" fill="#e8322f" text-anchor="middle" font-family="Liberation Sans, sans-serif">126</text>
<text x="376.7" y="810.4" font-size="5.3" fill="#111" text-anchor="middle" font-family="Liberation Sans, sans-serif">125</text>
<text x="376.7" y="816.1" font-size="5.3" fill="#e8322f" text-anchor="middle" font-family="Liberation Sans, sans-serif">57</text>
<text x="401.5" y="810.4" font-size="5.3" fill="#111" text-anchor="middle" font-family="Liberation Sans, sans-serif">60</text>
<text x="401.5" y="816.1" font-size="5.3" fill="#e8322f" text-anchor="middle" font-family="Liberation Sans, sans-serif">24</text>
<text x="426.4" y="810.4" font-size="5.3" fill="#111" text-anchor="middle" font-family="Liberation Sans, sans-serif">29</text>
<text x="426.4" y="816.1" font-size="5.3" fill="#e8322f" text-anchor="middle" font-family="Liberation Sans, sans-serif">13</text>
<text x="451.2" y="810.4" font-size="5.3" fill="#111" text-anchor="middle" font-family="Liberation Sans, sans-serif">13</text>
<text x="451.2" y="816.1" font-size="5.3" fill="#e8322f" text-anchor="middle" font-family="Liberation Sans, sans-serif">6</text>
<text x="476.1" y="810.4" font-size="5.3" fill="#111" text-anchor="middle" font-family="Liberation Sans, sans-serif">5</text>
<text x="476.1" y="816.1" font-size="5.3" fill="#e8322f" text-anchor="middle" font-family="Liberation Sans, sans-serif">1</text>
<text x="500.9" y="810.4" font-size="5.3" fill="#111" text-anchor="middle" font-family="Liberation Sans, sans-serif">1</text>
<text x="500.9" y="816.1" font-size="5.3" fill="#e8322f" text-anchor="middle" font-family="Liberation Sans, sans-serif">0</text>
</svg>
</body></html>
